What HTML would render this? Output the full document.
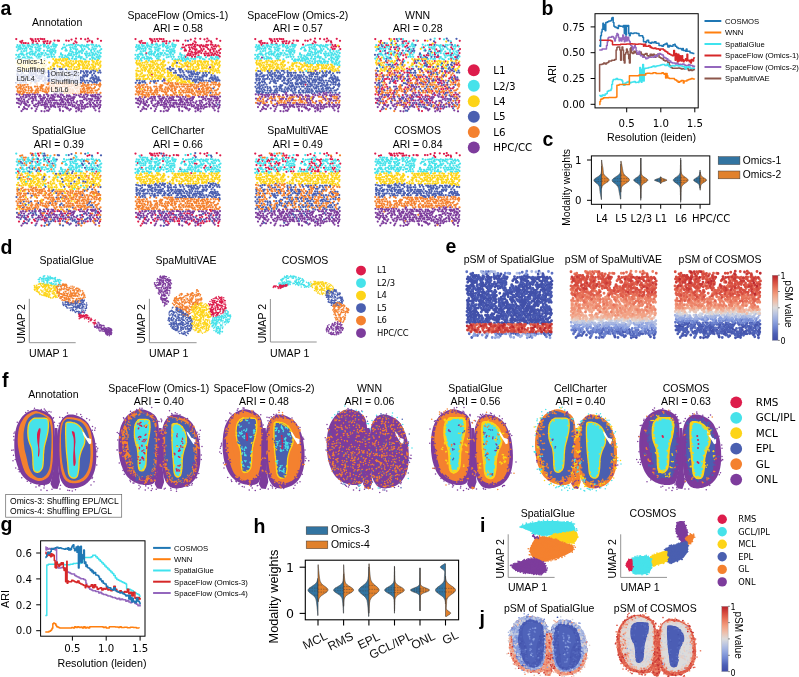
<!DOCTYPE html>
<html><head><meta charset="utf-8"><title>Figure</title>
<style>
html,body{margin:0;padding:0;background:#fff;}
body{width:799px;height:677px;overflow:hidden;}
svg{display:block;}
.L{font-family:'Liberation Sans',Arial,sans-serif;}
.D{font-family:'DejaVu Sans',sans-serif;}
</style></head><body>
<svg width="799" height="677" viewBox="0 0 799 677">
<text x="0.5" y="14.3" class="L" font-size="19.5" font-weight="bold" dy="0.6">a</text>
<text x="57.2" y="25.7" class="L" font-size="10.5" text-anchor="middle">Annotation</text>
<path transform="scale(.25)" d="M65 156h0m58-1h0m7 2h0m12-1h0m10 0h0m10-1h0m7 1h0m8 0h0m109 2h0m18-4h0m20 1h0m17 2h0m11-3h0m39 1h0m-310 11h0m8-3h0m39-1h0m6 2h0m10 1h0m12-1h0m18 2h0m7-1h0m9-1h0m12 2h0m16-4h0m13 0h0m5 1h0m29-1h0m10 1h0m26 2h0m49 1h0m8-4h0m10 3h0m36-2h0m-318 8h0m9 1h0m8 0h0m10 1h0m18-1h0m18 2h0m27-1h0m12 0h0m10 0h0m97 1h0m11-4h0m63 0h0" stroke="#DD1C4B" stroke-width="9.0" stroke-linecap="round" fill="none"/>
<path transform="scale(.25)" d="M214 173h0m-144 7h0m10 1h0m10-2h0m8 3h0m12-2h0m7 1h0m12-3h0m6 1h0m10-1h0m7 1h0m11 2h0m11-3h0m6 2h0m13 2h0m19-3h0m8 0h0m7 1h0m29-2h0m11 4h0m9-2h0m8-1h0m7 0h0m12 0h0m9 1h0m8 2h0m8-2h0m9 2h0m11-3h0m7 1h0m11-2h0m7 1h0m12 1h0m11 2h0m-329 6h0m9-1h0m7 2h0m11-3h0m10 3h0m9-2h0m10-1h0m6 2h0m12 1h0m9 0h0m7-3h0m19 0h0m10 1h0m10 3h0m9-4h0m10 0h0m8 1h0m29 3h0m8-1h0m21 0h0m9 0h0m9-3h0m5 1h0m21 1h0m10-2h0m9 0h0m7 3h0m19 0h0m9-3h0m9 0h0m12 0h0m-326 9h0m6 1h0m9-1h0m9 0h0m8 0h0m14 0h0m6 2h0m19 0h0m11-1h0m6-2h0m29 0h0m11 3h0m8 0h0m8-2h0m30 0h0m16 2h0m19 0h0m11-3h0m8 2h0m7 1h0m19-1h0m10 0h0m18 0h0m10 2h0m9-2h0m8-1h0m22 1h0m-335 6h0m16 3h0m10-1h0m9-1h0m17 3h0m8-1h0m13 1h0m9-4h0m6 1h0m18-1h0m13 1h0m8 1h0m9 1h0m8-1h0m8-1h0m40-1h0m5 0h0m14 2h0m8 2h0m16-2h0m11 1h0m8-1h0m8-1h0m14 3h0m18-3h0m14 1h0m12 1h0m9-3h0m-317 12h0m8-1h0m18 0h0m9-1h0m12 1h0m8 1h0m6-4h0m12 4h0m10-3h0m6 1h0m11 0h0m20-1h0m6 0h0m13-1h0m23 3h0m32 0h0m9 1h0m8-4h0m10 1h0m7 1h0m8-2h0m10 2h0m12 2h0m9 0h0m9-1h0m9-3h0m6 3h0m10 0h0m11-3h0m9 2h0m-338 7h0m10 0h0m12-1h0m8 2h0m11-2h0m15 0h0m9 0h0m9 2h0m12-1h0m7-1h0m9 0h0m11 3h0m10-3h0m6 0h0m11 1h0m10-1h0m29 0h0m6 2h0m11 2h0m11-2h0m8 1h0m6-1h0m10-1h0m9-1h0m12 3h0m27 0h0m10 1h0m6-1h0m9-1h0m9 0h0m11-1h0m9 2h0m-326 6h0m7 0h0m13 3h0m7-1h0m11-3h0m7 3h0m9 1h0m20-4h0m10 1h0m6-1h0m28 3h0m8-2h0m10 0h0m10 0h0m20 0h0m10 1h0m9 2h0m9-3h0m7 3h0m18-3h0m13 0h0m9 1h0m6-1h0m8 1h0m20 1h0m21-1h0m6 2h0m12-2h0m7 0h0m9-2h0m-337 8h0m10 1h0m11 1h0m16-1h0m9 0h0m9-1h0m10 1h0m21-1h0m7 2h0m20 1h0m99-1h0m11-2h0m10 2h0m7-1h0m18-1h0m11 1h0m7 3h0m19-2h0m10-1h0m10 1h0m10 1h0m7-3h0" stroke="#46E2EA" stroke-width="9.0" stroke-linecap="round" fill="none"/>
<path transform="scale(.25)" d="M213 236h0m11 1h0m9 1h0m8-2h0m11 0h0m9 0h0m8 0h0m-198 7h0m11 0h0m7-1h0m20 2h0m9-2h0m8 4h0m8-2h0m11 0h0m9-2h0m10-1h0m11 4h0m7-1h0m38-1h0m6 1h0m11-2h0m10 1h0m8 0h0m10 0h0m9 3h0m9-3h0m10 2h0m11-1h0m9 1h0m8-2h0m7 2h0m11 1h0m8-1h0m9 1h0m13-4h0m6 4h0m12-2h0m5-3h0m10 5h0m-333 5h0m9 2h0m7 0h0m9-2h0m8-1h0m11 0h0m20 0h0m6 1h0m11 2h0m19-1h0m8-2h0m20 0h0m17 3h0m9-1h0m8-1h0m11 1h0m20 1h0m5-1h0m11 0h0m8 1h0m11 1h0m7-3h0m12 2h0m10-3h0m7 3h0m10-2h0m11 2h0m19-3h0m9 3h0m8-1h0m9 0h0m-327 6h0m9 2h0m9 0h0m9 1h0m11-3h0m9 1h0m6-1h0m10 2h0m10-2h0m11 1h0m10-1h0m8 1h0m10 1h0m27 1h0m6-4h0m12 5h0m19-5h0m6 3h0m11 1h0m8-2h0m13 0h0m6 1h0m20-1h0m8 0h0m9 1h0m9 0h0m10 1h0m9-2h0m11-1h0m5 3h0m10-3h0m10 1h0m9 2h0m-317 6h0m11 2h0m8 0h0m8-2h0m11-1h0m8 0h0m9 3h0m11-3h0m7 3h0m12-1h0m9-2h0m24 2h0m12-3h0m16 1h0m9 1h0m11 2h0m7-3h0m14-1h0m6 2h0m8 0h0m12 1h0m9 0h0m9-3h0m17 2h0m9 2h0m9-3h0m12 3h0m9-1h0m8-1h0m21 0h0m-328 6h0m16 3h0m12 0h0m8 0h0m11 1h0m5-3h0m10 0h0m12 3h0m6-3h0m10 2h0m11-1h0m9 2h0m10-3h0m9 3h0m10-2h0m63 2h0m9 0h0m11-1h0m9 2h0m8-1h0m6-4h0m13 1h0m7 0h0m10-1h0m10 2h0m9 2h0m9-2h0m9 2h0m10-3h0m-301 8h0m295 0h0" stroke="#FDD418" stroke-width="9.0" stroke-linecap="round" fill="none"/>
<path transform="scale(.25)" d="M217 275h0m22 1h0m8 0h0m17 1h0m-196 5h0m9 2h0m8 1h0m18-2h0m12 1h0m6-1h0m9 1h0m13-2h0m7 0h0m8 3h0m13-2h0m7 0h0m16 1h0m12-2h0m19 1h0m17-1h0m11 1h0m16 1h0m9 1h0m10 0h0m10 0h0m8-2h0m18 1h0m9 1h0m11-1h0m7 1h0m13 0h0m9-3h0m8 3h0m18-3h0m-329 11h0m21-1h0m27-1h0m7 0h0m10 2h0m9-2h0m11-1h0m9 2h0m18-2h0m12 0h0m8 1h0m7 0h0m10 0h0m8 0h0m18-2h0m12 1h0m19 0h0m9 0h0m6 2h0m9 0h0m12-2h0m10 1h0m15 1h0m10-1h0m12 0h0m5-1h0m12 3h0m17-3h0m9 0h0m-333 9h0m6 1h0m10-3h0m12 4h0m6 0h0m10-1h0m10 0h0m8-2h0m11 1h0m8 2h0m10 1h0m8-2h0m8-2h0m20 0h0m11 1h0m7 2h0m11 0h0m10-1h0m6 1h0m8 0h0m11-2h0m21 2h0m8-3h0m8 0h0m11-1h0m7 1h0m18 3h0m9-1h0m9-1h0m18 1h0m12 2h0m-311 4h0m12 0h0m9 0h0m7 1h0m18 1h0m13-3h0m5 3h0m11-2h0m12 1h0m9 1h0m5-2h0m9 2h0m13-3h0m5 0h0m11 1h0m12 3h0m9-1h0m9 0h0m7 0h0m9-1h0m12-1h0m6 3h0m10-3h0m9 0h0m12 1h0m9 0h0m9 2h0m8 0h0m8-3h0m10-1h0m19 4h0m7 0h0m11-1h0m9 1h0m-325 7h0m8-2h0m7 2h0m12 0h0m8 0h0m8-1h0m10 1h0m10 0h0m10 1h0m10-4h0m8 2h0m6 0h0m13 2h0m6-3h0m12 3h0m6-3h0m12 2h0m10-2h0m8 3h0m8-2h0m8 2h0m11-2h0m10 2h0m11-2h0m8 0h0m10 2h0m8 0h0m9-1h0m7 0h0m10 0h0m29-2h0m10 2h0m8-1h0m8 1h0m8 1h0m-325 5h0m10 0h0m11 3h0m9-1h0m26 1h0m10-1h0m9 0h0m9-1h0m18 1h0m8-2h0m12 0h0m6 3h0m9-3h0m22 2h0m5-2h0m14 1h0m6 2h0m8 0h0m12-1h0m6 0h0m13-1h0m6-1h0m9 1h0m13-2h0m7 2h0m9 0h0m10-1h0m10 1h0m7 2h0m11-3h0m11 2h0m6-2h0m8 0h0m-335 9h0m13 1h0m5-1h0m10-2h0m10 2h0m37-1h0m39 2h0m100-2h0m15 0h0m10-1h0m12 1h0m7 1h0m17-1h0m12 1h0m18-1h0m9-1h0m7 2h0" stroke="#4A5FB0" stroke-width="9.0" stroke-linecap="round" fill="none"/>
<path transform="scale(.25)" d="M123 332h0m25 1h0m38 0h0m11-2h0m9 1h0m7 0h0m13 0h0m8 1h0m9-2h0m8 1h0m10-3h0m6 1h0m20 3h0m45 0h0m68 0h0m-327 6h0m9 1h0m9 1h0m8-2h0m11-1h0m56 2h0m7 1h0m19-4h0m10 4h0m10-1h0m5 1h0m11-3h0m8 0h0m12-1h0m10 0h0m8 1h0m8 0h0m11 0h0m7 2h0m10-2h0m8 3h0m8-4h0m13 4h0m8-2h0m11 0h0m5 0h0m11 0h0m11-2h0m9 2h0m9 0h0m7 0h0m-336 8h0m11 2h0m7-2h0m11 2h0m10-1h0m9-1h0m10 2h0m16-3h0m9 0h0m12 1h0m7 0h0m18 2h0m11 0h0m10-2h0m5-1h0m10 2h0m9 0h0m10-1h0m11-1h0m7 0h0m13 1h0m6-1h0m8 0h0m12 1h0m10 2h0m8-2h0m10-2h0m9 4h0m10-4h0m8 4h0m8 0h0m19-1h0m19-2h0m-328 9h0m11 0h0m8 1h0m10 1h0m15-3h0m11 0h0m20 3h0m7-3h0m11-1h0m7 3h0m11 1h0m10-1h0m8-1h0m11 1h0m10-2h0m5 2h0m20 0h0m19-2h0m9 2h0m8 0h0m9 1h0m11-3h0m7 0h0m10 2h0m11 0h0m8 0h0m10-2h0m8 1h0m11-1h0m9-1h0m19 3h0m-325 8h0m8 1h0m6 0h0m9-1h0m10-3h0m11 1h0m10 1h0m6-2h0m12 3h0m9-1h0m10-2h0m9 3h0m6 1h0m9-1h0m10 0h0m12-3h0m7 4h0m9-3h0m17 1h0m13 0h0m5-1h0m12 1h0m9 1h0m10-1h0m6 1h0m13 0h0m7 1h0m8-1h0m11 0h0m7 1h0m9-3h0m12 1h0m7-1h0m13 0h0m7-1h0m-316 9h0m7 2h0m12 0h0m6-3h0m10 2h0m9 1h0m9-3h0m11 3h0m7-2h0m9-1h0m29 0h0m7 2h0m68-1h0m9 0h0m9-1h0m7 0h0m9 3h0m11 0h0m11-2h0m8 3h0m7-4h0m10 2h0m11 0h0m7-1h0m9 1h0m9-1h0m12 1h0m16 0h0m-314 6h0" stroke="#F4812F" stroke-width="9.0" stroke-linecap="round" fill="none"/>
<path transform="scale(.25)" d="M218 372h0m9-2h0m12 0h0m7 1h0m-179 6h0m11 2h0m17 0h0m9 1h0m8-1h0m9 0h0m10-2h0m9 2h0m10-2h0m10 3h0m16 0h0m11-3h0m7 4h0m12-1h0m7 1h0m9-3h0m10 3h0m11-2h0m8 1h0m17 1h0m9 0h0m19-3h0m9 2h0m10 1h0m9-3h0m11 3h0m8-4h0m8 3h0m12 1h0m8-1h0m10-1h0m10-1h0m6 0h0m-314 10h0m9-1h0m10 2h0m5-2h0m10-1h0m12 1h0m9 0h0m5 0h0m13-1h0m7-1h0m10 4h0m7 0h0m12-3h0m11 3h0m9-2h0m7 1h0m11-2h0m7 1h0m7 2h0m12-2h0m10 1h0m9-2h0m7 0h0m11 2h0m6 0h0m21-1h0m9 1h0m8 0h0m11-2h0m20 0h0m8 0h0m8 0h0m8 2h0m11-2h0m-335 8h0m8 1h0m10 0h0m10 2h0m19 0h0m8-4h0m9 2h0m10-1h0m20 0h0m6 2h0m8-1h0m12 1h0m10-1h0m9-1h0m8 2h0m29 0h0m7 0h0m9 0h0m12 0h0m8 0h0m7-3h0m8 2h0m41 2h0m7-3h0m11 1h0m7 1h0m8 0h0m13-3h0m9 0h0m6 1h0m-323 7h0m7 2h0m8 2h0m9 0h0m11-1h0m19 1h0m6-4h0m11 0h0m10 4h0m9-3h0m7 1h0m12 1h0m10-1h0m9 0h0m9-2h0m8 0h0m8 1h0m11-1h0m10 2h0m6 2h0m12-3h0m6 1h0m13 0h0m7-2h0m17 4h0m12-2h0m7 0h0m19-2h0m11 4h0m8-3h0m12 1h0m9-1h0m5-1h0m10 2h0m-334 8h0m7 2h0m11-2h0m10 1h0m7 1h0m9-4h0m18 3h0m22 1h0m8-1h0m9-2h0m10 1h0m8 2h0m9-3h0m9 1h0m11 1h0m7-1h0m8 1h0m12-2h0m9-1h0m10 3h0m10-2h0m5 1h0m9 1h0m10-3h0m9 3h0m18 0h0m9-2h0m19 3h0m10-2h0m11 0h0m16 0h0m12-1h0m-318 8h0m19 1h0m6 1h0m11 0h0m18 1h0m8-4h0m10 3h0m11 0h0m7-1h0m8-1h0m9 1h0m13 0h0m8 2h0m8-2h0m12-1h0m8-1h0m8 1h0m9 0h0m8 1h0m11 1h0m7 0h0m9-1h0m9 2h0m12-2h0m7 1h0m10-1h0m12 1h0m7-3h0m12 1h0m5 1h0m13-2h0m5 3h0m12-2h0m8 2h0m-326 8h0m20 0h0m18-2h0m26-1h0m9 2h0m30-2h0m7 1h0m8 2h0m10-1h0m10-2h0m7 3h0m12-1h0m7-1h0m11 0h0m10 2h0m7 1h0m22-4h0m8 1h0m9 3h0m8-1h0m11-2h0m8 0h0m9 2h0m8-1h0m11-1h0m10 0h0m9-1h0m8 0h0m11 3h0m-308 9h0m8-3h0m8 2h0m19-3h0m19 3h0m35-3h0m17 3h0m41 0h0m28-3h0m5 1h0m11 2h0m21-3h0m9 3h0m5 0h0m10-2h0m9 0h0m40-1h0m19 1h0m-310 10h0m56 0h0m24 0h0m12 1h0m10-3h0m6 1h0m46-1h0m12 2h0m26-3h0m27 4h0m10-4h0m10 4h0m57-4h0m15 4h0" stroke="#7D3C9C" stroke-width="9.0" stroke-linecap="round" fill="none"/>
<rect x="15.6" y="58.5" width="31.8" height="25.5" fill="#fff" fill-opacity="0.8"/>
<rect x="49.5" y="70.0" width="30.5" height="23.5" fill="#fff" fill-opacity="0.8"/>
<text x="16.8" y="63.8" class="L" font-size="7.2" fill="#222">Omics-1:</text>
<text x="16.8" y="72.3" class="L" font-size="7.2" fill="#222">Shuffling</text>
<text x="16.8" y="80.8" class="L" font-size="7.2" fill="#222">L5/L4</text>
<text x="50.5" y="75.5" class="L" font-size="7.2" fill="#222">Omics-2:</text>
<text x="50.5" y="83.9" class="L" font-size="7.2" fill="#222">Shuffling</text>
<text x="50.5" y="92.3" class="L" font-size="7.2" fill="#222">L5/L6</text>
<text x="177.9" y="19.0" class="L" font-size="10.5" text-anchor="middle">SpaceFlow (Omics-1)</text>
<text x="177.9" y="32.3" class="L" font-size="10.5" text-anchor="middle">ARI = 0.58</text>
<path transform="scale(.25)" d="M542 156h0m58-1h0m7 2h0m11-1h0m10 0h0m10-1h0m7 1h0m9 0h0m109 2h0m18-4h0m20 1h0m17 2h0m11-3h0m38 1h0m-309 11h0m8-3h0m39-1h0m6 2h0m10 1h0m12-1h0m18 2h0m6-1h0m9-1h0m13 2h0m16-4h0m12 0h0m6 1h0m29-1h0m36 3h0m49 1h0m8-4h0m9 3h0m37-2h0m-319 8h0m10 1h0m8 0h0m28 0h0m57 1h0m107 1h0m11-4h0m63 0h0m-114 8h0m12 4h0m9-2h0m8-1h0m7 0h0m12 0h0m9 1h0m8 2h0m8-2h0m9 2h0m11-3h0m7 1h0m11-2h0m7 1h0m12 1h0m11 2h0m-144 8h0m8-1h0m20 0h0m10 0h0m9-3h0m5 1h0m20 1h0m11-2h0m9 0h0m7 3h0m19 0h0m9-3h0m9 0h0m-124 11h0m19 0h0m11-3h0m8 2h0m7 1h0m19-1h0m10 0h0m18 0h0m9 2h0m10-2h0m8-1h0m22 1h0m-143 6h0m5 0h0m13 2h0m9 2h0m16-2h0m11 1h0m7-1h0m9-1h0m13 3h0m18-3h0m15 1h0m11 1h0m10-3h0m-291 11h0m168 0h0m9 1h0m8-4h0m10 1h0m7 1h0m8-2h0m10 2h0m12 2h0m9 0h0m8-1h0m9-3h0m7 3h0m10 0h0m10-3h0m10 2h0m-131 8h0m8 1h0m6-1h0m10-1h0m9-1h0m12 3h0m26 0h0m11 1h0m6-1h0m9-1h0m9 0h0m11-1h0m8 2h0m-132 6h0m26 0h0m12 0h0m99-1h0m-271 72h0" stroke="#DD1C4B" stroke-width="9.0" stroke-linecap="round" fill="none"/>
<path transform="scale(.25)" d="M589 173h0m37 1h0m27-1h0m22 0h0m15 0h0m-143 7h0m9 1h0m11-2h0m8 3h0m12-2h0m7 1h0m12-3h0m5 1h0m11-1h0m7 1h0m11 2h0m10-3h0m7 2h0m13 2h0m19-3h0m8 0h0m6 1h0m-159 8h0m9-1h0m7 2h0m10-3h0m11 3h0m9-2h0m10-1h0m6 2h0m12 1h0m8 0h0m8-3h0m18 0h0m11 1h0m10 3h0m8-4h0m11 0h0m8 1h0m-149 8h0m6 1h0m9-1h0m8 0h0m9 0h0m14 0h0m6 2h0m19 0h0m11-1h0m6-2h0m29 0h0m11 3h0m8 0h0m8-2h0m30 0h0m-179 7h0m17 3h0m10-1h0m8-1h0m18 3h0m8-1h0m13 1h0m9-4h0m5 1h0m19-1h0m13 1h0m7 1h0m10 1h0m8-1h0m7-1h0m-139 11h0m8-1h0m27-1h0m11 1h0m9 1h0m6-4h0m12 4h0m9-3h0m7 1h0m11 0h0m20-1h0m6 0h0m13-1h0m23 3h0m-179 6h0m10 0h0m11-1h0m8 2h0m12-2h0m15 0h0m8 0h0m10 2h0m12-1h0m6-1h0m10 0h0m10 3h0m11-3h0m6 0h0m11 1h0m10-1h0m29 0h0m6 2h0m11 2h0m-189 5h0m7 0h0m13 3h0m7-1h0m11-3h0m7 3h0m9 1h0m20-4h0m10 1h0m6-1h0m28 3h0m8-2h0m10 0h0m10 0h0m20 0h0m10 1h0m9 2h0m16 0h0m39-2h0m7-1h0m8 1h0m20 1h0m20-1h0m6 2h0m13-2h0m7 0h0m-328 6h0m10 1h0m11 1h0m16-1h0m9 0h0m9-1h0m10 1h0m21-1h0m7 2h0m20 1h0m35-1h0m11 1h0m9 1h0m8-2h0m10 0h0m10 0h0m8 0h0m8 0h0m11-2h0m9 2h0m7-1h0m19-1h0m11 1h0m7 3h0m19-2h0m10-1h0m10 1h0m9 1h0m8-3h0m-308 8h0m29 0h0m137 1h0m10 0h0m18 0h0" stroke="#46E2EA" stroke-width="9.0" stroke-linecap="round" fill="none"/>
<path transform="scale(.25)" d="M547 243h0m11 0h0m27 1h0m18 2h0m8-2h0m11 0h0m9-2h0m10-1h0m11 4h0m6-1h0m39-1h0m6 1h0m11-2h0m10 1h0m26 3h0m20-1h0m10-1h0m10 1h0m8-2h0m7 2h0m11 1h0m8-1h0m8 1h0m13-4h0m6 4h0m13-2h0m5-3h0m10 5h0m-334 5h0m9 2h0m7 0h0m9-2h0m9-1h0m11 0h0m20 0h0m6 1h0m11 2h0m19-1h0m8-2h0m20 0h0m17 3h0m9-1h0m18 0h0m21 1h0m5-1h0m11 0h0m8 1h0m11 1h0m7-3h0m11 2h0m11-3h0m7 3h0m10-2h0m11 2h0m19-3h0m9 3h0m8-1h0m9 0h0m-327 6h0m9 2h0m9 0h0m9 1h0m10-3h0m10 1h0m6-1h0m10 2h0m9-2h0m12 1h0m9-1h0m9 1h0m10 1h0m27 1h0m6-4h0m12 5h0m19-5h0m5 3h0m12 1h0m8-2h0m13 0h0m6 1h0m20-1h0m8 0h0m9 1h0m9 0h0m10 1h0m9-2h0m11-1h0m5 3h0m10-3h0m10 1h0m9 2h0m-317 6h0m11 2h0m8 0h0m8-2h0m11-1h0m7 0h0m9 3h0m12-3h0m7 3h0m12-1h0m8-2h0m37-1h0m15 1h0m10 1h0m10 2h0m8-3h0m19 1h0m8 0h0m12 1h0m10 0h0m9-3h0m16 2h0m10 2h0m9-3h0m21 2h0m7-1h0m21 0h0m-327 6h0m16 3h0m12 0h0m7 0h0m12 1h0m5-3h0m10 0h0m11 3h0m7-3h0m10 2h0m11-1h0m9 2h0m81 0h0m11 0h0m9 0h0m11-1h0m8 2h0m9-1h0m6-4h0m13 1h0m6 0h0m11-1h0m10 2h0m9 2h0m9-2h0m9 2h0m10-3h0m-327 8h0m8 2h0m8 1h0m9-3h0m10 1h0m12 1h0m5-1h0m9 1h0m13-2h0m8 0h0m8 3h0m12-2h0m8 0h0m16 1h0m112-1h0m18 1h0m9 1h0m11-1h0m7 1h0m12 0h0m10-3h0m8 3h0m8-3h0m9 0h0m-329 11h0m22-1h0m27-1h0m7 0h0m9 2h0m10-2h0m11-1h0m9 2h0m18-2h0m12 0h0m7 1h0m7 0h0m156-1h0m11 3h0m17-3h0m9 0h0m-332 9h0m5 1h0m11-3h0m12 4h0m6 0h0m10-1h0m10 0h0m19-1h0m8 2h0m10 1h0m8-2h0m7-2h0m21 0h0m11 1h0m7 2h0m11 0h0m-156 5h0m13 0h0m9 0h0m7 1h0m18 1h0m13-3h0m5 3h0m10-2h0m13 1h0m9 1h0m5-2h0m9 2h0m13-3h0m5 0h0m11 1h0m12 3h0m9-1h0m9 0h0m-170 8h0m8-2h0m7 2h0m12 0h0m8 0h0m7-1h0m10 1h0m10 0h0m11 1h0m10-4h0m8 2h0m6 0h0m19-1h0m12 3h0m6-3h0m12 2h0m10-2h0m8 3h0m8-2h0m8 2h0m-56 5h0m6 3h0m9-3h0m22 2h0m5-2h0m13 1h0m7 2h0m8 0h0m12-1h0m6 0h0m-38 7h0m8 1h0m10-3h0m6 1h0m13 0h0m7 3h0m8-3h0m-205 26h0m149 14h0" stroke="#FDD418" stroke-width="9.0" stroke-linecap="round" fill="none"/>
<path transform="scale(.25)" d="M752 163h0m-44 88h0m-28 17h0m-10 6h0m8 3h0m11-2h0m5 0h0m22 1h0m8 0h0m-41 6h0m19 1h0m17-1h0m11 1h0m16 1h0m9 1h0m10 0h0m10 0h0m-79 6h0m8 0h0m18-2h0m12 1h0m19 0h0m9 0h0m6 2h0m9 0h0m12-2h0m9 1h0m15 1h0m10-1h0m13 0h0m-124 9h0m6 1h0m8 0h0m11-2h0m20 2h0m9-3h0m8 0h0m10-1h0m8 1h0m18 3h0m8-1h0m10-1h0m18 1h0m12 2h0m-136 6h0m10-1h0m11-1h0m6 3h0m11-3h0m9 0h0m12 1h0m9 0h0m9 2h0m8 0h0m7-3h0m11-1h0m19 4h0m7 0h0m10-1h0m9 1h0m-214 8h0m81-2h0m10 2h0m10-2h0m8 0h0m11 2h0m8 0h0m8-1h0m8 0h0m10 0h0m29-2h0m9 2h0m9-1h0m7 1h0m9 1h0m-325 5h0m10 0h0m11 3h0m9-1h0m25 1h0m11-1h0m8 0h0m10-1h0m18 1h0m121-1h0m6-1h0m9 1h0m13-2h0m7 2h0m9 0h0m10-1h0m10 1h0m7 2h0m11-3h0m11 2h0m6-2h0m8 0h0m-335 9h0m13 1h0m5-1h0m10-2h0m10 2h0m36-1h0m165-1h0m12 1h0m59 23h0m-11 18h0m29 47h0" stroke="#4A5FB0" stroke-width="9.0" stroke-linecap="round" fill="none"/>
<path transform="scale(.25)" d="M877 186h0m-128 79h0m-149 67h0m25 1h0m32-1h0m6 1h0m11-2h0m9 1h0m7 0h0m12 0h0m9 1h0m90-2h0m8 2h0m9-3h0m12 1h0m18-1h0m9-1h0m7 2h0m13 2h0m-327 6h0m8 1h0m10 1h0m7-2h0m12-1h0m55 2h0m7 1h0m20-4h0m10 4h0m9-1h0m6 1h0m11-3h0m8 0h0m12-1h0m10 0h0m8 1h0m8 0h0m11 0h0m7 2h0m9-2h0m9 3h0m8-4h0m13 4h0m8-2h0m11 0h0m4 0h0m12 0h0m11-2h0m9 2h0m9 0h0m7 0h0m-336 8h0m11 2h0m7-2h0m11 2h0m10-1h0m9-1h0m10 2h0m16-3h0m8 0h0m13 1h0m7 0h0m18 2h0m10 0h0m11-2h0m5-1h0m10 2h0m9 0h0m10-1h0m11-1h0m7 0h0m13 1h0m6-1h0m8 0h0m12 1h0m10 2h0m8-2h0m10-2h0m9 4h0m9-4h0m9 4h0m8 0h0m19-1h0m19-2h0m-328 9h0m11 0h0m18 2h0m15-3h0m11 0h0m20 3h0m6-3h0m12-1h0m7 3h0m11 1h0m10-1h0m8-1h0m11 1h0m10-2h0m5 2h0m20 0h0m19-2h0m9 2h0m8 0h0m9 1h0m11-3h0m7 0h0m21 2h0m8 0h0m10-2h0m7 1h0m12-1h0m28 2h0m-326 8h0m9 1h0m6 0h0m9-1h0m10-3h0m10 1h0m11 1h0m6-2h0m12 3h0m9-1h0m10-2h0m9 3h0m5 1h0m10-1h0m10 0h0m12-3h0m6 4h0m10-3h0m17 1h0m12 0h0m6-1h0m11 1h0m10 1h0m10-1h0m6 1h0m13 0h0m7 1h0m8-1h0m11 0h0m7 1h0m9-3h0m11 1h0m8-1h0m13 0h0m7-1h0m-316 9h0m7 2h0m12 0h0m6-3h0m10 2h0m9 1h0m9-3h0m10 3h0m8-2h0m9-1h0m29 0h0m7 2h0m29 1h0m9-2h0m19 1h0m11-1h0m9 0h0m9-1h0m7 0h0m8 3h0m11 0h0m12-2h0m8 3h0m7-4h0m10 2h0m11 0h0m7-1h0m18 0h0m12 1h0m16 0h0m-336 6h0m11 2h0m11-2h0m7 2h0m8 1h0m9-1h0m8 0h0m11-2h0m8 2h0m11-2h0m10 3h0m16 0h0m11-3h0m7 4h0m12-1h0m6 1h0m10-3h0m9 3h0m11-2h0m9 1h0m17 1h0m9 0h0m18-3h0m9 2h0m11 1h0m9-3h0m11 3h0m8-4h0m8 3h0m12 1h0m8-1h0m10-1h0m9-1h0m7 0h0m-305 9h0m15 0h0m10-1h0m158 0h0m7 0h0" stroke="#F4812F" stroke-width="9.0" stroke-linecap="round" fill="none"/>
<path transform="scale(.25)" d="M840 269h0m-182 53h0m138 34h0m-237 32h0m20 1h0m27-2h0m9 0h0m5 0h0m13-1h0m7-1h0m10 4h0m7 0h0m12-3h0m10 3h0m10-2h0m6 1h0m12-2h0m6 1h0m8 2h0m11-2h0m10 1h0m28 0h0m6 0h0m20-1h0m10 1h0m7 0h0m12-2h0m19 0h0m8 0h0m8 0h0m9 2h0m11-2h0m-336 8h0m9 1h0m10 0h0m10 2h0m19 0h0m8-4h0m9 2h0m10-1h0m19 0h0m7 2h0m8-1h0m11 1h0m11-1h0m9-1h0m8 2h0m29 0h0m6 0h0m10 0h0m12 0h0m8 0h0m6-3h0m9 2h0m40 2h0m8-3h0m11 1h0m6 1h0m9 0h0m13-3h0m8 0h0m6 1h0m-322 7h0m7 2h0m7 2h0m10 0h0m11-1h0m19 1h0m6-4h0m11 0h0m10 4h0m9-3h0m7 1h0m12 1h0m9-1h0m10 0h0m8-2h0m9 0h0m8 1h0m11-1h0m9 2h0m7 2h0m12-3h0m6 1h0m13 0h0m6-2h0m18 4h0m12-2h0m7 0h0m18-2h0m12 4h0m8-3h0m11 1h0m10-1h0m5-1h0m10 2h0m-334 8h0m7 2h0m11-2h0m10 1h0m7 1h0m8-4h0m19 3h0m22 1h0m7-1h0m10-2h0m10 1h0m8 2h0m9-3h0m9 1h0m11 1h0m7-1h0m7 1h0m13-2h0m9-1h0m10 3h0m9-2h0m6 1h0m9 1h0m10-3h0m9 3h0m18 0h0m9-2h0m18 3h0m11-2h0m11 0h0m16 0h0m12-1h0m-318 8h0m19 1h0m6 1h0m11 0h0m17 1h0m9-4h0m10 3h0m11 0h0m6-1h0m9-1h0m9 1h0m13 0h0m8 2h0m8-2h0m11-1h0m9-1h0m8 1h0m9 0h0m8 1h0m10 1h0m8 0h0m9-1h0m9 2h0m12-2h0m7 1h0m10-1h0m11 1h0m8-3h0m12 1h0m5 1h0m13-2h0m5 3h0m20 0h0m-326 8h0m20 0h0m18-2h0m26-1h0m9 2h0m29-2h0m8 1h0m8 2h0m10-1h0m10-2h0m7 3h0m12-1h0m7-1h0m11 0h0m10 2h0m7 1h0m22-4h0m8 1h0m9 3h0m8-1h0m10-2h0m8 0h0m10 2h0m7-1h0m11-1h0m11 0h0m9-1h0m8 0h0m11 3h0m-308 9h0m8-3h0m8 2h0m19-3h0m19 3h0m35-3h0m17 3h0m41 0h0m28-3h0m5 1h0m10 2h0m22-3h0m9 3h0m5 0h0m9-2h0m10 0h0m40-1h0m19 1h0m-310 10h0m56 0h0m24 0h0m12 1h0m10-3h0m6 1h0m46-1h0m12 2h0m26-3h0m27 4h0m10-4h0m10 4h0m57-4h0m14 4h0" stroke="#7D3C9C" stroke-width="9.0" stroke-linecap="round" fill="none"/>
<text x="297.8" y="19.0" class="L" font-size="10.5" text-anchor="middle">SpaceFlow (Omics-2)</text>
<text x="297.8" y="32.3" class="L" font-size="10.5" text-anchor="middle">ARI = 0.57</text>
<path transform="scale(.25)" d="M1021 156h0m58-1h0m7 2h0m12-1h0m10 0h0m10-1h0m7 1h0m8 0h0m109 2h0m18-4h0m20 1h0m17 2h0m11-3h0m39 1h0m-310 11h0m8-3h0m39-1h0m6 2h0m10 1h0m12-1h0m18 2h0m7-1h0m9-1h0m12 2h0m16-4h0m13 0h0m5 1h0m29-1h0m10 1h0m26 2h0m49 1h0m8-4h0m10 3h0m36-2h0m-318 8h0m9 1h0m8 0h0m10 1h0m18-1h0m18 2h0m27-1h0m12 0h0m10 0h0m16 0h0m81 1h0m11-4h0m63 0h0m-279 9h0m166-1h0m117 1h0m12 1h0m-15 9h0m9-3h0m9 0h0m12 0h0m-25 10h0m8-1h0m22 1h0m-139 142h0" stroke="#DD1C4B" stroke-width="9.0" stroke-linecap="round" fill="none"/>
<path transform="scale(.25)" d="M1026 180h0m10 1h0m18 1h0m12-2h0m7 1h0m12-3h0m6 1h0m10-1h0m7 1h0m11 2h0m11-3h0m6 2h0m13 2h0m19-3h0m8 0h0m7 1h0m40 2h0m9-2h0m8-1h0m7 0h0m12 0h0m9 1h0m8 2h0m8-2h0m9 2h0m11-3h0m7 1h0m11-2h0m-299 10h0m9-1h0m7 2h0m11-3h0m10 3h0m9-2h0m10-1h0m6 2h0m12 1h0m9 0h0m7-3h0m19 0h0m10 1h0m10 3h0m9-4h0m10 0h0m8 1h0m29 3h0m8-1h0m21 0h0m9 0h0m9-3h0m5 1h0m21 1h0m10-2h0m9 0h0m7 3h0m-277 6h0m6 1h0m9-1h0m9 0h0m8 0h0m14 0h0m6 2h0m19 0h0m11-1h0m6-2h0m29 0h0m11 3h0m8 0h0m8-2h0m30 0h0m16 2h0m19 0h0m11-3h0m8 2h0m7 1h0m19-1h0m10 0h0m18 0h0m10 2h0m-296 4h0m16 3h0m10-1h0m9-1h0m17 3h0m8-1h0m13 1h0m9-4h0m6 1h0m18-1h0m13 1h0m8 1h0m9 1h0m8-1h0m8-1h0m40-1h0m5 0h0m14 2h0m8 2h0m16-2h0m11 1h0m8-1h0m8-1h0m14 3h0m18-3h0m14 1h0m12 1h0m9-3h0m-317 12h0m8-1h0m18 0h0m9-1h0m12 1h0m8 1h0m6-4h0m12 4h0m10-3h0m6 1h0m11 0h0m20-1h0m6 0h0m13-1h0m23 3h0m32 0h0m9 1h0m8-4h0m10 1h0m7 1h0m8-2h0m10 2h0m12 2h0m9 0h0m9-1h0m9-3h0m6 3h0m10 0h0m11-3h0m9 2h0m-338 7h0m10 0h0m12-1h0m8 2h0m11-2h0m15 0h0m9 0h0m9 2h0m12-1h0m7-1h0m9 0h0m11 3h0m10-3h0m6 0h0m11 1h0m10-1h0m29 0h0m6 2h0m11 2h0m11-2h0m8 1h0m6-1h0m10-1h0m9-1h0m12 3h0m27 0h0m10 1h0m6-1h0m9-1h0m9 0h0m11-1h0m9 2h0m-326 6h0m7 0h0m20 2h0m11-3h0m7 3h0m9 1h0m20-4h0m10 1h0m6-1h0m28 3h0m8-2h0m10 0h0m10 0h0m20 0h0m10 1h0m9 2h0m9-3h0m7 3h0m18-3h0m13 0h0m9 1h0m6-1h0m8 1h0m20 1h0m21-1h0m6 2h0m12-2h0m7 0h0m9-2h0m-337 8h0m10 1h0m11 1h0m16-1h0m9 0h0m9-1h0m10 1h0m21-1h0m7 2h0m20 1h0m35-1h0m11 1h0m9 1h0m8-2h0m11 0h0m9 0h0m8 0h0m8 0h0m11-2h0m10 2h0m7-1h0m18-1h0m11 1h0m7 3h0m19-2h0m10-1h0m10 1h0m10 1h0m7-3h0m-177 9h0m6 1h0m11-2h0m10 1h0m8 0h0m10 0h0m9 3h0m9-3h0m10 2h0m11-1h0m9 1h0m8-2h0m7 2h0m11 1h0m8-1h0m9 1h0m13-4h0m6 4h0m12-2h0m5-3h0m10 5h0m-135 6h0m11 0h0m8 1h0m11 1h0m7-3h0m12 2h0m10-3h0m7 3h0m10-2h0m11 2h0m19-3h0m9 3h0m8-1h0m9 0h0m-16 6h0m10 1h0m9 2h0m-133 23h0" stroke="#46E2EA" stroke-width="9.0" stroke-linecap="round" fill="none"/>
<path transform="scale(.25)" d="M1352 182h0m-325 61h0m11 0h0m7-1h0m20 2h0m9-2h0m8 4h0m8-2h0m11 0h0m9-2h0m10-1h0m11 4h0m7-1h0m-113 7h0m9 2h0m7 0h0m9-2h0m8-1h0m11 0h0m20 0h0m6 1h0m11 2h0m19-1h0m8-2h0m20 0h0m17 3h0m9-1h0m8-1h0m11 1h0m20 1h0m-190 5h0m9 2h0m9 0h0m9 1h0m11-3h0m9 1h0m6-1h0m10 2h0m10-2h0m11 1h0m10-1h0m8 1h0m10 1h0m27 1h0m6-4h0m12 5h0m19-5h0m6 3h0m11 1h0m8-2h0m13 0h0m6 1h0m20-1h0m8 0h0m9 1h0m9 0h0m10 1h0m9-2h0m11-1h0m5 3h0m-288 6h0m11 2h0m8 0h0m8-2h0m11-1h0m8 0h0m9 3h0m11-3h0m7 3h0m12-1h0m9-2h0m24 2h0m12-3h0m16 1h0m9 1h0m11 2h0m7-3h0m14-1h0m6 2h0m8 0h0m12 1h0m9 0h0m9-3h0m17 2h0m9 2h0m9-3h0m12 3h0m9-1h0m8-1h0m21 0h0m-328 6h0m16 3h0m12 0h0m8 0h0m11 1h0m5-3h0m10 0h0m12 3h0m6-3h0m10 2h0m11-1h0m9 2h0m10-3h0m9 3h0m10-2h0m5 0h0m22 1h0m8 0h0m17 1h0m11 0h0m9 0h0m11-1h0m9 2h0m8-1h0m6-4h0m13 1h0m7 0h0m10-1h0m10 2h0m9 2h0m9-2h0m9 2h0m10-3h0m-327 8h0m26 0h0m9 1h0m18 0h0m22-1h0m63 0h0m19 1h0m17-1h0m11 1h0m25 2h0m10 0h0m10 0h0m26-1h0m20 0h0m29-2h0m8 3h0m8-3h0m10 0h0m-112 111h0" stroke="#FDD418" stroke-width="9.0" stroke-linecap="round" fill="none"/>
<path transform="scale(.25)" d="M1033 284h0m8 1h0m30-1h0m15 0h0m20-2h0m8 3h0m13-2h0m7 0h0m16 1h0m139 1h0m18 0h0m13 0h0m-294 8h0m21-1h0m27-1h0m7 0h0m10 2h0m9-2h0m11-1h0m9 2h0m18-2h0m12 0h0m8 1h0m7 0h0m10 0h0m8 0h0m18-2h0m12 1h0m19 0h0m9 0h0m6 2h0m9 0h0m12-2h0m10 1h0m15 1h0m10-1h0m12 0h0m5-1h0m12 3h0m17-3h0m9 0h0m-333 9h0m6 1h0m10-3h0m12 4h0m6 0h0m10-1h0m10 0h0m8-2h0m11 1h0m8 2h0m10 1h0m8-2h0m8-2h0m20 0h0m11 1h0m7 2h0m11 0h0m10-1h0m6 1h0m8 0h0m11-2h0m21 2h0m8-3h0m8 0h0m11-1h0m7 1h0m18 3h0m9-1h0m9-1h0m18 1h0m12 2h0m-311 4h0m12 0h0m9 0h0m7 1h0m18 1h0m13-3h0m5 3h0m11-2h0m12 1h0m9 1h0m5-2h0m9 2h0m13-3h0m5 0h0m11 1h0m12 3h0m9-1h0m9 0h0m7 0h0m9-1h0m12-1h0m6 3h0m10-3h0m9 0h0m12 1h0m9 0h0m9 2h0m8 0h0m8-3h0m10-1h0m19 4h0m7 0h0m11-1h0m9 1h0m-325 7h0m8-2h0m7 2h0m12 0h0m8 0h0m8-1h0m10 1h0m10 0h0m10 1h0m10-4h0m8 2h0m6 0h0m13 2h0m6-3h0m12 3h0m6-3h0m12 2h0m10-2h0m8 3h0m8-2h0m8 2h0m11-2h0m10 2h0m11-2h0m8 0h0m10 2h0m8 0h0m9-1h0m7 0h0m10 0h0m29-2h0m10 2h0m8-1h0m8 1h0m8 1h0m-325 5h0m10 0h0m11 3h0m9-1h0m26 1h0m10-1h0m9 0h0m9-1h0m18 1h0m8-2h0m12 0h0m6 3h0m9-3h0m22 2h0m5-2h0m14 1h0m6 2h0m8 0h0m12-1h0m6 0h0m13-1h0m6-1h0m9 1h0m13-2h0m7 2h0m9 0h0m10-1h0m10 1h0m7 2h0m11-3h0m11 2h0m6-2h0m8 0h0m-335 9h0m13 1h0m5-1h0m10-2h0m10 2h0m19 1h0m18-2h0m7 3h0m32-1h0m6 1h0m11-2h0m9 1h0m7 0h0m13 0h0m8 1h0m9-2h0m8 1h0m10-3h0m6 1h0m13 0h0m7 3h0m8-3h0m10-1h0m12 1h0m7 1h0m8 2h0m9-3h0m12 1h0m18-1h0m9-1h0m7 2h0m13 2h0m-327 6h0m9 1h0m9 1h0m8-2h0m11-1h0m56 2h0m7 1h0m19-4h0m10 4h0m10-1h0m5 1h0m11-3h0m8 0h0m12-1h0m10 0h0m16 1h0m11 0h0m7 2h0m10-2h0m8 3h0m8-4h0m13 4h0m8-2h0m11 0h0m5 0h0m11 0h0m11-2h0m9 2h0m9 0h0m7 0h0m-336 8h0m11 2h0m7-2h0m11 2h0m10-1h0m9-1h0m10 2h0m16-3h0m9 0h0m12 1h0m7 0h0m18 2h0m11 0h0m10-2h0m5-1h0m10 2h0m9 0h0m10-1h0m11-1h0m7 0h0m13 1h0m6-1h0m8 0h0m12 1h0m10 2h0m8-2h0m10-2h0m9 4h0m10-4h0m8 4h0m8 0h0m19-1h0m19-2h0m-328 9h0m11 0h0m8 1h0m10 1h0m15-3h0m11 0h0m20 3h0m7-3h0m11-1h0m7 3h0m11 1h0m10-1h0m8-1h0m11 1h0m10-2h0m5 2h0m20 0h0m19-2h0m9 2h0m8 0h0m9 1h0m11-3h0m7 0h0m10 2h0m11 0h0m8 0h0m10-2h0m8 1h0m11-1h0m9-1h0m19 3h0m-325 8h0m8 1h0m6 0h0m9-1h0m10-3h0m11 1h0m10 1h0m6-2h0m12 3h0m9-1h0m10-2h0m9 3h0m6 1h0m9-1h0m10 0h0m12-3h0m7 4h0m9-3h0m17 1h0m13 0h0m5-1h0m12 1h0m9 1h0m10-1h0m6 1h0m13 0h0m7 1h0m8-1h0m11 0h0m7 1h0m9-3h0m12 1h0m7-1h0m13 0h0m7-1h0m-316 9h0m7 2h0m12 0h0m6-3h0m10 2h0m9 1h0m9-3h0m11 3h0m7-2h0m9-1h0m29 0h0m36 3h0m9-2h0m12 0h0m7 1h0m11-1h0m9 0h0m9-1h0m7 0h0m9 3h0m11 0h0m11-2h0m15-1h0m28 1h0m18 0h0m12 1h0m16 0h0" stroke="#4A5FB0" stroke-width="9.0" stroke-linecap="round" fill="none"/>
<path transform="scale(.25)" d="M1039 388h0m19 1h0m27-2h0m14 0h0m13-1h0m7-1h0m10 4h0m7 0h0m23 0h0m9-2h0m7 1h0m11-2h0m14 3h0m22-1h0m27 0h0m27-1h0m9 1h0m19-2h0m28 0h0m8 0h0m8 2h0m-316 7h0m20 2h0m27-4h0m9 2h0m10-1h0m20 0h0m36 1h0m9-1h0m37 2h0m92 1h0m18-2h0m28-2h0m9 0h0m-317 8h0m7 2h0m8 2h0m9 0h0m30 0h0m27 0h0m9-3h0m7 1h0m12 1h0m10-1h0m9 0h0m17-2h0m8 1h0m11-1h0m10 2h0m6 2h0m12-3h0m26-1h0m29 2h0m7 0h0m30 2h0m34-4h0m10 2h0m-334 8h0m28 1h0m7 1h0m9-4h0m18 3h0m30 0h0m9-2h0m10 1h0m8 2h0m29-1h0m7-1h0m20-1h0m9-1h0m10 3h0m10-2h0m24-1h0m9 3h0m27-2h0m19 3h0m21-2h0m16 0h0m12-1h0m-256 7h0" stroke="#F4812F" stroke-width="9.0" stroke-linecap="round" fill="none"/>
<path transform="scale(.25)" d="M1048 230h0m214 53h0m-117 88h0m132 2h0m17-2h0m11 0h0m16 0h0m-298 6h0m11 2h0m10-2h0m7 2h0m9 1h0m8-1h0m9 0h0m10-2h0m9 2h0m10-2h0m10 3h0m16 0h0m11-3h0m7 4h0m12-1h0m7 1h0m9-3h0m10 3h0m11-2h0m8 1h0m17 1h0m9 0h0m19-3h0m9 2h0m10 1h0m9-3h0m11 3h0m8-4h0m8 3h0m12 1h0m8-1h0m10-1h0m10-1h0m6 0h0m-305 9h0m15 0h0m10-1h0m21 1h0m54-1h0m45 1h0m19 0h0m19-1h0m7 0h0m17 2h0m38 0h0m31-2h0m35 0h0m-335 8h0m18 1h0m29 2h0m53-1h0m8-1h0m12 1h0m27 0h0m36 0h0m9 0h0m12 0h0m8 0h0m15-1h0m48-1h0m18 2h0m8 0h0m28-2h0m-288 10h0m25-3h0m11 0h0m66 0h0m61 2h0m13 0h0m24 2h0m38-4h0m19 1h0m12 1h0m9-1h0m-312 11h0m11-2h0m66 2h0m44-3h0m9 1h0m26 1h0m46-1h0m9 1h0m37 0h0m38-1h0m-279 7h0m19 1h0m6 1h0m11 0h0m18 1h0m18-1h0m11 0h0m7-1h0m8-1h0m9 1h0m13 0h0m8 2h0m8-2h0m12-1h0m8-1h0m8 1h0m9 0h0m8 1h0m11 1h0m7 0h0m9-1h0m9 2h0m12-2h0m7 1h0m10-1h0m12 1h0m7-3h0m12 1h0m5 1h0m13-2h0m5 3h0m12-2h0m8 2h0m-326 8h0m20 0h0m18-2h0m26-1h0m9 2h0m30-2h0m7 1h0m8 2h0m10-1h0m10-2h0m7 3h0m12-1h0m7-1h0m11 0h0m10 2h0m7 1h0m22-4h0m8 1h0m9 3h0m8-1h0m11-2h0m8 0h0m9 2h0m8-1h0m11-1h0m10 0h0m9-1h0m8 0h0m11 3h0m-308 9h0m8-3h0m8 2h0m19-3h0m19 3h0m35-3h0m17 3h0m41 0h0m28-3h0m5 1h0m11 2h0m21-3h0m9 3h0m5 0h0m10-2h0m9 0h0m40-1h0m19 1h0m-310 10h0m56 0h0m24 0h0m12 1h0m10-3h0m6 1h0m46-1h0m12 2h0m26-3h0m27 4h0m10-4h0m10 4h0m57-4h0m15 4h0" stroke="#7D3C9C" stroke-width="9.0" stroke-linecap="round" fill="none"/>
<text x="417.6" y="19.0" class="L" font-size="10.5" text-anchor="middle">WNN</text>
<text x="417.6" y="32.3" class="L" font-size="10.5" text-anchor="middle">ARI = 0.28</text>
<path transform="scale(.25)" d="M1501 156h0m57-1h0m19 1h0m27 0h0m155-1h0m-235 8h0m92 2h0m9-1h0m29-2h0m17 1h0m29-1h0m139 1h0m-318 8h0m63 3h0m27-1h0m22 0h0m108-3h0m63 0h0m-289 11h0m30-1h0m8 1h0m75 1h0m91-3h0m7 0h0m46 3h0m59 0h0m-292 7h0m25-1h0m21 1h0m36-2h0m74 2h0m110 0h0m-244 8h0m19 0h0m17-3h0m41 3h0m81 0h0m26 0h0m65-1h0m30 0h0m-319 9h0m72-2h0m159 2h0m-200 7h0m38 2h0m16-2h0m37-1h0m96 0h0m46 3h0m8-1h0m15 0h0m30-1h0m-273 6h0m48 3h0m10-3h0m73 4h0m11-2h0m8 1h0m25-3h0m-226 9h0m78 0h0m33 2h0m48-2h0m75 1h0m6-1h0m67 1h0m-300 8h0m72 0h0m20 1h0m192-2h0m-206 6h0m11 4h0m80-2h0m49 1h0m43 1h0m-233 5h0m37 3h0m72-1h0m39 1h0m137-1h0m-254 6h0m239 0h0m9 1h0m10 2h0m-125 6h0m8 0h0m47 0h0m47 0h0m-254 7h0m67 0h0m9 3h0m10-2h0m100 2h0m-169 5h0m28 1h0m135 0h0m39 1h0m-253 8h0m33-1h0m30-1h0m28 0h0m11 0h0m8 1h0m75-1h0m70 1h0m12 0h0m-284 9h0m48 0h0m91 1h0m168 1h0m-225 5h0m9 1h0m33-3h0m40 3h0m16-1h0m12-1h0m16 0h0m30 1h0m55 2h0m-263 7h0m7-1h0m10 1h0m57 1h0m24-3h0m30 3h0m38 0h0m91-3h0m-261 10h0m45 0h0m27 0h0m35-2h0m101 1h0m20 0h0m64-1h0m-252 8h0m7 3h0m86 0h0m34-3h0m49 0h0m15 3h0m48-4h0m-270 9h0m92 3h0m-107 8h0m19-2h0m73 2h0m158-4h0m-274 10h0m20 1h0m9 1h0m82 0h0m148-1h0m9 0h0m17-1h0m11-1h0m9-1h0m-234 11h0m128-1h0m25 1h0m-169 5h0m11 3h0m90-2h0m112 1h0m-272 6h0m11 2h0m98 1h0m75 0h0m17 1h0m37-1h0m76-1h0m10-1h0m-289 11h0m41-2h0m69 0h0m25 0h0m8 2h0m38-3h0m54 2h0m-214 5h0m157 3h0m-206 5h0m35 3h0m110-3h0m36 4h0m30-2h0m117 0h0m-333 8h0m34 2h0m93-3h0m56-1h0m44 0h0m104 1h0m-211 9h0m41-1h0m88 2h0m55 6h0m-134 10h0m89-2h0m-242 10h0m167 0h0" stroke="#DD1C4B" stroke-width="9.0" stroke-linecap="round" fill="none"/>
<path transform="scale(.25)" d="M1597 155h0m15 1h0m127-2h0m37 3h0m-207 7h0m68 2h0m29-4h0m137 3h0m-255 8h0m75 0h0m26 0h0m-144 7h0m28 2h0m37-3h0m18 0h0m10 2h0m11-3h0m6 2h0m32-1h0m8 0h0m36-1h0m11 4h0m10-2h0m35 0h0m8 2h0m8-2h0m20-1h0m8 1h0m10-2h0m19 2h0m-301 9h0m29-2h0m10-1h0m53 0h0m29 0h0m10 0h0m8 1h0m30 3h0m28-1h0m9 0h0m9-3h0m5 1h0m21 1h0m10-2h0m16 3h0m28-3h0m9 0h0m12 0h0m-326 9h0m15 0h0m9 0h0m9 0h0m13 0h0m36 1h0m35-2h0m19 3h0m55 0h0m30-3h0m8 2h0m25 0h0m10 0h0m18 0h0m10 2h0m18-3h0m-314 7h0m26 2h0m26 2h0m9-1h0m12 1h0m46-3h0m18 2h0m55-3h0m19 2h0m24 0h0m27-1h0m14 3h0m18-3h0m15 1h0m11 1h0m-308 9h0m8-1h0m47 1h0m28-3h0m17 1h0m21-1h0m18-1h0m65 4h0m24-2h0m8-2h0m10 2h0m12 2h0m27-4h0m16 3h0m11-3h0m-307 8h0m8 2h0m11-2h0m15 0h0m19 2h0m18-2h0m47 1h0m10-1h0m35 2h0m36 0h0m10-1h0m48 2h0m10 1h0m7-1h0m17-1h0m12-1h0m-318 8h0m27 2h0m12-3h0m6 3h0m45-3h0m37 1h0m9 0h0m10 0h0m39 3h0m71-2h0m19 1h0m21-1h0m6 2h0m29-4h0m-337 8h0m36 1h0m19-1h0m9 1h0m147 1h0m11-2h0m10 2h0m7-1h0m18-1h0m11 1h0m7 3h0m19-2h0m20 0h0m17-2h0m-315 9h0m100 1h0m65-1h0m-114 7h0m-23 8h0m219 2h0m-244 7h0m130-2h0m44 1h0m93 0h0" stroke="#46E2EA" stroke-width="9.0" stroke-linecap="round" fill="none"/>
<path transform="scale(.25)" d="M1565 157h0m-49 9h0m47-4h0m16 3h0m131-2h0m75 3h0m-254 6h0m200 2h0m-167 4h0m17 0h0m-79 10h0m9-1h0m172 8h0m-96 7h0m-23 11h0m164-3h0m-142 9h0m43-1h0m-102 12h0m55-4h0m-72 9h0m76-1h0m63 2h0m19 2h0m8-2h0m20 0h0m8 0h0m-198 7h0m56 3h0m7-2h0m11 0h0m75-1h0m63 0h0m10 2h0m20 0h0m8-2h0m7 2h0m11 1h0m17 0h0m13-4h0m6 4h0m12-2h0m15 2h0m-333 5h0m16 2h0m9-2h0m46 0h0m57-1h0m17 3h0m28-1h0m36 0h0m8 1h0m18-2h0m12 2h0m10-3h0m17 1h0m12 2h0m-283 5h0m18 2h0m9 1h0m67-3h0m18 2h0m27 1h0m6-4h0m13 5h0m24-2h0m38 0h0m20-1h0m8 0h0m18 1h0m-234 9h0m19-3h0m36 3h0m11-1h0m33 0h0m37-1h0m11 2h0m56-1h0m35 1h0m31-1h0m28-1h0m-312 9h0m13 0h0m7 0h0m26-2h0m12 3h0m6-3h0m10 2h0m11-1h0m9 2h0m82 0h0m10 0h0m9 0h0m34-4h0m31 0h0m36 4h0m10-3h0m-310 11h0m9-3h0m9 1h0m18 0h0m122-1h0m146 0h0m-52 10h0m-177 10h0m47-3h0m101-2h0m43 2h0m-222 6h0m80 1h0m-131 8h0m82 1h0m89 2h0m84-1h0m-152 6h0m185 3h0m-271 4h0m210 0h0" stroke="#FDD418" stroke-width="9.0" stroke-linecap="round" fill="none"/>
<path transform="scale(.25)" d="M1587 156h0m135 2h0m65-4h0m39 1h0m-235 9h0m19 2h0m126-1h0m57-3h0m-255 10h0m28 0h0m-40 7h0m136 1h0m76-1h0m70 0h0m-279 7h0m47 3h0m16-3h0m40 4h0m147-4h0m-264 10h0m139-1h0m-114 8h0m71-1h0m21 2h0m17 0h0m8-1h0m45-1h0m22 4h0m35-2h0m75-2h0m-291 11h0m36-3h0m101 3h0m32 0h0m-212 6h0m11 0h0m91-1h0m77 0h0m73 3h0m52-1h0m29 1h0m-272 9h0m122-2h0m18-1h0m7 3h0m18-3h0m13 0h0m89 1h0m-282 7h0m279 2h0m-281 7h0m45-2h0m72 2h0m11-2h0m28 1h0m-88 7h0m54 1h0m37 1h0m65 1h0m40-3h0m9 3h0m-300 7h0m37-1h0m6-1h0m11 2h0m20-1h0m18 0h0m91 2h0m8-2h0m84 0h0m12-1h0m4 3h0m-277 8h0m35-3h0m9 3h0m91-3h0m41-1h0m26 3h0m18-3h0m47 4h0m-290 4h0m145 2h0m21 1h0m93-2h0m6 0h0m21 1h0m9 2h0m9-2h0m-300 9h0m38 0h0m80 0h0m12-2h0m18 1h0m63 2h0m45 0h0m19 0h0m12 0h0m17 0h0m18-3h0m-235 10h0m45-1h0m10 0h0m8 0h0m73 1h0m12-2h0m81 0h0m9 0h0m-305 11h0m99-3h0m29 3h0m35-2h0m29-1h0m26 0h0m27 2h0m-226 8h0m29-2h0m49-1h0m37 3h0m42 1h0m101 0h0m20 0h0m-298 7h0m46 1h0m10-4h0m33 1h0m12 3h0m84-2h0m18 2h0m73-1h0m-291 6h0m11 3h0m45-1h0m126 1h0m18-1h0m19-2h0m59 1h0m18-1h0m-298 10h0m45 0h0m56 0h0m7 1h0m65-1h0m29-2h0m73 1h0m-281 8h0m9 1h0m10 1h0m81 0h0m39-1h0m16-2h0m46 0h0m66 1h0m46 0h0m-302 8h0m40 2h0m17-3h0m131 1h0m14-1h0m12 1h0m63 2h0m-278 6h0m70-1h0m74 2h0m19 0h0m19-2h0m26 3h0m18-3h0m-230 11h0m24-4h0m82 3h0m68-1h0m70 1h0m46-2h0m-225 8h0m131-1h0m74 2h0m-245 9h0m83-3h0m45 4h0m112-4h0m19 4h0m-207 5h0m17 3h0m-87 6h0m56-1h0m35 1h0m38 1h0m146 0h0m21-3h0m-293 12h0m40 0h0m55-1h0m82-2h0m7 1h0m85 2h0m29-3h0m-312 11h0m148-2h0m-13 10h0m29-4h0m7 1h0m45 1h0m86-2h0m17 1h0m-190 9h0m47-1h0m10 2h0m7 1h0m22-4h0m44 1h0m17 1h0m31-2h0m-282 9h0m27-1h0m250 0h0m-189 9h0m6 1h0" stroke="#4A5FB0" stroke-width="9.0" stroke-linecap="round" fill="none"/>
<path transform="scale(.25)" d="M1659 237h0m28-1h0m-163 6h0m30 0h0m155 4h0m118-5h0m-314 12h0m24-3h0m67 2h0m128 2h0m93-2h0m-142 5h0m38 2h0m63 2h0m-237 6h0m40-1h0m27 0h0m-59 11h0m175-1h0m9 2h0m-236 4h0m62 2h0m20-2h0m8 3h0m20-2h0m92 1h0m28 1h0m27-1h0m-207 7h0m17 2h0m110-4h0m13 1h0m27 0h0m37 1h0m42-1h0m12 3h0m-307 6h0m17-2h0m17 4h0m10-1h0m19-2h0m10 1h0m26 1h0m67 0h0m6 1h0m8 0h0m32 0h0m16-3h0m36 3h0m37-1h0m-288 6h0m9 0h0m89 2h0m41 1h0m71-3h0m12 1h0m19 2h0m7 0h0m19-4h0m-280 11h0m15 0h0m132 0h0m9-2h0m17 1h0m18 0h0m29 0h0m18 2h0m74-2h0m-310 7h0m159 2h0m19-1h0m7 2h0m19-1h0m73-2h0m39 2h0m14-2h0m-297 9h0m93 0h0m9 1h0m7 0h0m13 0h0m35-3h0m26 4h0m9-3h0m75 0h0m16 1h0m13 2h0m-301 6h0m67 1h0m70-2h0m12-1h0m18 1h0m20 0h0m7 2h0m9-2h0m8 3h0m40-2h0m17 0h0m10-2h0m18 2h0m7 0h0m-336 8h0m11 2h0m28-1h0m56-1h0m7 0h0m39 0h0m46-1h0m6 0h0m19 0h0m30 3h0m8-2h0m10-2h0m9 4h0m18 0h0m47-3h0m-274 8h0m38-1h0m7 3h0m21 0h0m8-1h0m21-1h0m54 2h0m7 0h0m20-2h0m18 2h0m75 0h0m-325 8h0m23 0h0m21-2h0m10 1h0m7-2h0m21 2h0m9-2h0m10 3h0m5 1h0m19-1h0m19 1h0m10-3h0m16 1h0m19-1h0m21 2h0m9-1h0m19 1h0m8 1h0m19-1h0m6 1h0m9-3h0m12 1h0m20-1h0m7-1h0m-316 9h0m20 2h0m5-3h0m10 2h0m9 1h0m37-3h0m35 2h0m57 0h0m11-1h0m9 0h0m16-1h0m9 3h0m22-2h0m16-1h0m37 2h0m8-1h0m29 1h0m-315 6h0m43 0h0m19 0h0m10 3h0m46 0h0m71 1h0m58 0h0m16-1h0m20 0h0m-264 7h0m22 0h0m34-2h0m221 1h0m8 2h0m-296 9h0m20 0h0m82-2h0m199-1h0m-262 7h0m20 4h0m16-2h0m32 0h0m45 0h0m130 0h0m14-2h0m-306 10h0m11 1h0m15-3h0m68 2h0m7 2h0m75-1h0m61 0h0m38-1h0m-207 9h0m11 0h0m38-1h0m71 1h0m26 1h0m47-4h0m36 3h0m19 0h0m-223 5h0m55 2h0m64-1h0m91-1h0m11 3h0m-291 8h0m204 0h0m83-2h0m-254 10h0" stroke="#F4812F" stroke-width="9.0" stroke-linecap="round" fill="none"/>
<path transform="scale(.25)" d="M1683 276h0m5 7h0m25 2h0m95-3h0m-303 11h0m74-2h0m147 1h0m-141 9h0m26-3h0m-106 8h0m28 1h0m36 1h0m37-2h0m75 2h0m92-2h0m47 2h0m-253 8h0m35-1h0m149 1h0m7 0h0m65 0h0m8 1h0m-269 8h0m28-2h0m38-1h0m6 3h0m36-3h0m59 1h0m28-2h0m16 2h0m-272 8h0m18 0h0m160 0h0m81 0h0m17-1h0m-149 7h0m24 4h0m41-4h0m61 0h0m13 4h0m23-2h0m-206 7h0m48 3h0m15-3h0m10 2h0m9 0h0m10-1h0m139 1h0m-264 6h0m30 3h0m66-1h0m136-2h0m-263 11h0m122-4h0m-126 11h0m102-3h0m35 3h0m22-2h0m62 2h0m20 1h0m34-3h0m31 1h0m-292 8h0m17 0h0m9 0h0m19 0h0m55 2h0m18 0h0m10-3h0m20 1h0m53-1h0m19 3h0m9-3h0m73 0h0m-314 10h0m9-1h0m25-1h0m21 1h0m42 2h0m12-3h0m11 3h0m16-1h0m11-2h0m26 1h0m10 1h0m9-2h0m18 2h0m7 0h0m20-1h0m10 1h0m18-2h0m20 0h0m8 0h0m27 0h0m-335 8h0m8 1h0m56 0h0m30-1h0m6 2h0m20 0h0m20-2h0m36 2h0m7 0h0m10 0h0m11 0h0m15-3h0m8 2h0m41 2h0m8-3h0m10 1h0m15 1h0m22-3h0m-310 10h0m17 2h0m47-4h0m19 1h0m29 1h0m18-2h0m16 1h0m11-1h0m54 0h0m18 4h0m12-2h0m6 0h0m19-2h0m20 1h0m-236 10h0m21 1h0m8-1h0m9-2h0m36 1h0m11 1h0m15 0h0m13-2h0m28 0h0m5 1h0m9 1h0m19 0h0m27-2h0m19 3h0m21-2h0m16 0h0m-306 7h0m19 1h0m6 1h0m11 0h0m18 1h0m8-4h0m28 2h0m8-1h0m38 1h0m38-1h0m7 1h0m18 1h0m30-1h0m17 0h0m12 1h0m20-2h0m4 1h0m-288 9h0m20 0h0m18-2h0m26-1h0m10 2h0m36-1h0m8 2h0m20-3h0m8 3h0m19-2h0m66 3h0m9-1h0m10-2h0m17 2h0m19-2h0m-270 11h0m54-1h0m36-3h0m17 3h0m68-3h0m6 1h0m10 2h0m21-3h0m15 3h0m19-2h0m-171 10h0m12 1h0m62-3h0m37-1h0m28 4h0m9-4h0m10 4h0m57-4h0m15 4h0" stroke="#7D3C9C" stroke-width="9.0" stroke-linecap="round" fill="none"/>
<text x="58.8" y="134.2" class="L" font-size="10.5" text-anchor="middle">SpatialGlue</text>
<text x="58.8" y="147.5" class="L" font-size="10.5" text-anchor="middle">ARI = 0.39</text>
<path transform="scale(.25)" d="M130 615h0m22-1h0m239-2h0m-235 10h0m194 1h0m8-3h0m-208 27h0m46 0h0m-124 38h0m90-2h0m224 3h0m-71 153h0m-123 5h0m27 1h0m18-1h0m155 2h0m-204 8h0m72-1h0m20 1h0m81 0h0m36-2h0m-226 9h0m77-1h0m80 0h0m59 0h0m-275 7h0m67 2h0m-43 9h0m36-1h0m66-2h0m8 0h0m17 1h0m48 0h0m7 2h0m59-3h0m-301 11h0m20-1h0m44-2h0m39 0h0m42 2h0m19-1h0m111 1h0m49 0h0m-273 6h0m140-1h0m46 3h0m-147 9h0" stroke="#DD1C4B" stroke-width="9.0" stroke-linecap="round" fill="none"/>
<path transform="scale(.25)" d="M65 614h0m77 0h0m27 0h0m183-2h0m-208 11h0m58 0h0m63-3h0m36 2h0m-215 7h0m27 2h0m18-1h0m45 1h0m12-1h0m10 1h0m16 0h0m92-3h0m63-1h0m-299 10h0m10 1h0m10-1h0m20 0h0m7 2h0m12-3h0m16 0h0m4-4h0m14 7h0m11-4h0m38 2h0m8 0h0m36-1h0m11 3h0m9-1h0m15-1h0m12 0h0m9 1h0m16-1h0m9 2h0m11-2h0m7 1h0m11-2h0m7 1h0m12 1h0m11 1h0m-329 7h0m27-3h0m10 3h0m9-1h0m10-1h0m18 3h0m16-4h0m19 1h0m10 1h0m19-1h0m10-1h0m8 2h0m29 2h0m8-1h0m21 1h0m9 0h0m9-3h0m5 0h0m16-4h0m5 6h0m45 1h0m9-4h0m21 1h0m-326 8h0m6 2h0m26-2h0m20 2h0m19 0h0m11 0h0m6-2h0m29 0h0m11 2h0m16-1h0m46 2h0m19 0h0m11-3h0m8 2h0m7 1h0m29-1h0m28 1h0m9-2h0m30 1h0m-335 6h0m16 2h0m10-1h0m26 2h0m8 0h0m13 0h0m9-3h0m6 0h0m39 1h0m9 2h0m16-3h0m40-1h0m5 0h0m14 3h0m8 1h0m16-2h0m11 2h0m8-2h0m22 2h0m18-2h0m14 1h0m21-3h0m-309 12h0m18 0h0m21-1h0m14-2h0m22 1h0m6 0h0m11 0h0m20-1h0m6 1h0m13-1h0m23 3h0m32-1h0m17-2h0m10 1h0m7 0h0m8-2h0m10 3h0m21 1h0m9-1h0m9-2h0m6 3h0m10 0h0m11-4h0m9 2h0m-338 7h0m10 1h0m12-1h0m8 2h0m11-2h0m15 0h0m18 1h0m28-1h0m11 3h0m10-3h0m6-1h0m21 1h0m29 0h0m6 2h0m11 1h0m19-1h0m5-6h0m1 6h0m10-1h0m9-2h0m12 3h0m27 1h0m10 0h0m6-1h0m18 0h0m11-1h0m9 1h0m-319 6h0m13 3h0m7 0h0m11-3h0m16 3h0m30-2h0m34 2h0m8-3h0m10 1h0m10 0h0m20 0h0m10 0h0m9 2h0m16 0h0m31-3h0m9 1h0m6 0h0m8 1h0m41 0h0m6 1h0m19-1h0m9-2h0m-337 7h0m55 0h0m132 2h0m-139 14h0m118 2h0m-159 7h0m53 0h0m-21 11h0m74 13h0m146 2h0m13 8h0m-40 5h0" stroke="#46E2EA" stroke-width="9.0" stroke-linecap="round" fill="none"/>
<path transform="scale(.25)" d="M86 694h0m16-1h0m9 0h0m19 0h0m21-1h0m7 1h0m20 2h0m35-2h0m20 2h0m28-2h0m16 0h0m21 1h0m7-2h0m18 0h0m11 1h0m7 2h0m19-1h0m10-2h0m20 2h0m7-3h0m-326 9h0m18-1h0m20 3h0m9-2h0m8 3h0m8-1h0m11 0h0m9-2h0m10-1h0m11 4h0m7-2h0m38 0h0m6 1h0m11-2h0m10 1h0m8-1h0m10 0h0m9 3h0m9-3h0m10 3h0m20-1h0m8-1h0m7 1h0m11 1h0m17 0h0m13-4h0m6 4h0m12-1h0m5-3h0m-323 10h0m16 2h0m17-3h0m31 0h0m6 0h0m11 3h0m19-2h0m28-2h0m17 3h0m9 0h0m19-1h0m20 2h0m5-2h0m11 1h0m8 0h0m11 1h0m7-2h0m22-1h0m7 2h0m10-2h0m30 0h0m9 3h0m8-1h0m9-1h0m-318 9h0m9 0h0m9 1h0m36-2h0m10-1h0m11 1h0m10-1h0m18 2h0m27 1h0m6-4h0m12 4h0m25-1h0m11 1h0m8-2h0m13-1h0m6 2h0m20-1h0m8-1h0m9 2h0m9-1h0m10 2h0m9-2h0m16 2h0m10-3h0m10 0h0m9 3h0m-317 6h0m11 2h0m16-3h0m11 0h0m8 0h0m9 3h0m11-4h0m7 3h0m12-1h0m9-1h0m24 2h0m12-3h0m16 1h0m9 1h0m18-1h0m14-1h0m6 2h0m8-1h0m21 2h0m9-3h0m35 1h0m12 2h0m9 0h0m8-1h0m21-1h0m-328 7h0m16 2h0m12 1h0m8 0h0m11 1h0m5-3h0m10 0h0m12 3h0m6-4h0m10 3h0m11-1h0m9 2h0m19-1h0m10-1h0m5 0h0m22 1h0m8 0h0m17 1h0m11-1h0m20 0h0m9 1h0m8-1h0m6-3h0m13 1h0m7 0h0m10-1h0m10 1h0m9 3h0m9-2h0m9 2h0m10-3h0m-327 7h0m17 4h0m9-3h0m9 0h0m12 2h0m6-1h0m9 1h0m13-3h0m7 1h0m8 2h0m13-2h0m23 2h0m12-2h0m19 0h0m17 0h0m11 0h0m16 2h0m9 0h0m10 0h0m10 1h0m8-3h0m27 3h0m11-1h0m7 0h0m13 0h0m17 1h0m8-4h0m10 1h0m-329 11h0m48-3h0m37 0h0m9 1h0m30-1h0m8 1h0m7 0h0m10-1h0m8 1h0m18-2h0m40 0h0m6 3h0m9-1h0m12-2h0m10 2h0m25 0h0m-140 8h0m18 1h0m10 0h0m6 1h0m8 0h0m11-3h0m21 2h0m8-2h0m19-1h0m34 3h0m-260 5h0m16 2h0m81 9h0m36-1h0m45-1h0m34 8h0m82-1h0m-272 10h0m37-2h0m139 1h0m-114 10h0m82-3h0m154 1h0m-234 8h0m118 0h0m12 1h0m-198 10h0m14 4h0m-41 9h0m5 9h0m165 0h0m34 1h0" stroke="#FDD418" stroke-width="9.0" stroke-linecap="round" fill="none"/>
<path transform="scale(.25)" d="M177 614h0m164 1h0m-213 5h0m46 3h0m7-1h0m50-2h0m5 1h0m39-1h0m11-4h0m82 6h0m36-1h0m-252 15h0m28 1h0m13 2h0m34-1h0m57-1h0m-201 10h0m46-1h0m206-2h0m-246 9h0m121 1h0m118 0h0m28-1h0m-24 7h0m58 2h0m-273 8h0m223 1h0m-210 5h0m21 1h0m218 0h0m-252 9h0m29-2h0m145 1h0m-67 10h0m17-1h0m28 0h0m19-2h0m-210 19h0m99-3h0m139 3h0m-142 6h0m74-2h0m3 12h0m47-1h0m35-1h0m9 2h0m-58 7h0m89 5h0m-191 8h0m75 0h0m102 1h0m43 0h0m-327 10h0m139 1h0m137-2h0m18 0h0m-160 7h0m129-1h0m56 4h0m-282 6h0m113-1h0m24 2h0m-122 9h0m202-3h0m-263 8h0m160 2h0m17-1h0m18-2h0m-166 19h0m29 0h0m98 0h0m139 0h0m-279 6h0m33-1h0m38 1h0m47 0h0m46 2h0m110-2h0m-253 7h0m137 1h0m13 1h0m97-2h0m12 2h0m7-1h0m-277 10h0m199 0h0m83-2h0m-234 8h0m47-1h0m81 3h0m56-2h0m73 0h0m-259 9h0m35 2h0m211-3h0m-316 7h0m55 0h0m9 2h0m10-1h0m194 3h0m18-3h0m28-1h0m-301 9h0m17 2h0m47-3h0m38 3h0m55-3h0m28 1h0m43 3h0m12-3h0m-225 9h0m34 0h0m66-1h0m56-1h0m34 3h0m65 1h0m10-3h0m39 0h0m-318 8h0m19 0h0m17 1h0m36 1h0m56 0h0m20-3h0m51 2h0m18 1h0m41 0h0m7-3h0m-233 9h0m80 2h0m10-1h0m10-2h0m37 0h0m10 3h0m29-3h0m8 0h0m9 3h0m19-3h0m63 0h0m-289 8h0m81 0h0m17 3h0m106-4h0m24 2h0m-186 9h0m36 2h0m16-3h0m46-1h0m12 3h0m26-4h0m37 1h0" stroke="#4A5FB0" stroke-width="9.0" stroke-linecap="round" fill="none"/>
<path transform="scale(.25)" d="M123 613h0m39-1h0m142 0h0m20 1h0m-243 10h0m8-2h0m45 0h0m56 0h0m28-1h0m-123 10h0m8 0h0m192 1h0m-197 8h0m37-2h0m-59 8h0m268-2h0m7 3h0m37-3h0m-290 10h0m22-1h0m128 1h0m135-1h0m-278 8h0m71-1h0m13 2h0m25 1h0m-132 9h0m55 0h0m18 0h0m3 5h0m47 1h0m67 1h0m-6 7h0m81 1h0m-272 6h0m305 2h0m-298 7h0m222 1h0m43 1h0m55 0h0m-308 5h0m260 3h0m-244 4h0m9 1h0m249 0h0m-175 15h0m-116 10h0m14 9h0m34-2h0m10 3h0m9-2h0m132-1h0m88-1h0m12 3h0m17-3h0m-324 10h0m16-2h0m12 4h0m6-1h0m10 0h0m10 0h0m8-3h0m11 2h0m8 1h0m10 1h0m8-1h0m8-3h0m20 1h0m119-1h0m18 4h0m48 0h0m-311 5h0m21 0h0m25 1h0m13-2h0m5 2h0m11-1h0m12 0h0m9 1h0m5-1h0m9 1h0m13-2h0m5 0h0m23 3h0m9-1h0m9 1h0m7 0h0m9-1h0m12-1h0m6 3h0m10-3h0m9 0h0m12 1h0m9 0h0m9 2h0m8-1h0m18-3h0m19 4h0m7 0h0m11-1h0m-316 8h0m8-3h0m7 2h0m12 1h0m8 0h0m18 0h0m10 0h0m10 1h0m10-4h0m8 1h0m6 1h0m19-1h0m12 3h0m6-4h0m30 3h0m8-1h0m29 1h0m11-2h0m8 0h0m10 2h0m8 0h0m9-1h0m7 1h0m10-1h0m29-1h0m10 2h0m8-2h0m8 1h0m8 2h0m-325 5h0m10-1h0m11 4h0m9-2h0m36 0h0m9 1h0m9-1h0m18 1h0m8-2h0m12-1h0m6 3h0m9-2h0m22 2h0m5-2h0m14 0h0m6 3h0m8 0h0m12-2h0m6 0h0m19-2h0m9 2h0m13-2h0m16 2h0m10-1h0m10 1h0m7 2h0m22-2h0m6-1h0m8 0h0m-322 9h0m5-1h0m10-1h0m29 3h0m25 1h0m32-1h0m6 0h0m11-1h0m9 1h0m7 0h0m21 1h0m17-1h0m16-2h0m20 2h0m8-2h0m10-1h0m12 1h0m7 0h0m8 2h0m9-2h0m12 0h0m18 0h0m9-1h0m7 2h0m13 2h0m-327 6h0m9 1h0m9 1h0m8-2h0m11-1h0m63 3h0m19-4h0m10 3h0m10-1h0m5 1h0m11-2h0m8 0h0m22-1h0m8 1h0m8-1h0m11 0h0m7 2h0m10-1h0m8 3h0m8-4h0m13 4h0m8-2h0m11-1h0m5 1h0m11 0h0m11-2h0m9 2h0m9-1h0m-329 9h0m11 1h0m7-1h0m21 0h0m9 0h0m26-1h0m9 0h0m12 0h0m25 3h0m11 0h0m10-2h0m5-1h0m19 1h0m10 0h0m11-1h0m7 0h0m13 1h0m6-2h0m30 4h0m8-3h0m10-1h0m9 3h0m10-3h0m8 3h0m27 0h0m19-3h0m-328 10h0m19 1h0m36-2h0m20 2h0m18-3h0m7 2h0m11 2h0m10-1h0m19-1h0m10-1h0m5 2h0m39-2h0m9 1h0m8 0h0m9 2h0m11-4h0m7 1h0m10 1h0m11 1h0m8-1h0m10-1h0m19-1h0m9 0h0m19 3h0m-325 7h0m8 2h0m6 0h0m9-2h0m31 0h0m6-2h0m12 2h0m9-1h0m10-1h0m9 3h0m6 1h0m9-1h0m10 0h0m12-3h0m7 3h0m9-3h0m35 1h0m12 1h0m9 1h0m10-1h0m6 1h0m13 0h0m7 0h0m8 0h0m11 0h0m7 1h0m41-3h0m7-1h0m-309 10h0m18-2h0m10 2h0m9 1h0m9-3h0m11 3h0m7-2h0m9-1h0m29 0h0m7 2h0m29 1h0m9-2h0m12-1h0m7 2h0m11-1h0m9-1h0m9 0h0m7 0h0m20 3h0m11-3h0m8 4h0m7-4h0m10 2h0m11 0h0m7-2h0m9 2h0m21-1h0m16 1h0m-335 6h0m21 0h0m7 1h0m9 2h0m8-2h0m9 1h0m10-2h0m19 0h0m72 1h0m10 3h0m19-1h0m45-3h0m9 3h0m30 0h0m8-3h0m48 0h0m-284 9h0m149 1h0m10 1h0m-190 7h0m92 0h0m8-1h0m31 0h0m162 2h0m-97 7h0m120-2h0m10 1h0m-200 17h0m72 1h0m54-2h0m54 1h0m20 1h0m-134 8h0m104-2h0m-133 10h0m79 0h0m19-2h0m40-1h0m-189 8h0m137 3h0m72 1h0" stroke="#F4812F" stroke-width="9.0" stroke-linecap="round" fill="none"/>
<path transform="scale(.25)" d="M160 838h0m16 0h0m18 0h0m12 0h0m7 1h0m138-1h0m12 1h0m8-1h0m10-1h0m-298 9h0m9-2h0m10 2h0m15-3h0m12 1h0m14 0h0m13 0h0m7-1h0m17 3h0m23 1h0m9-3h0m18 0h0m14 2h0m31-2h0m7 0h0m11 2h0m6-1h0m21 0h0m9 0h0m8 1h0m11-2h0m20 0h0m8-1h0m27 1h0m-317 8h0m10 2h0m19 1h0m47-3h0m36 1h0m17 1h0m29-1h0m7 1h0m21-1h0m15-2h0m8 1h0m48 0h0m48-1h0m-317 8h0m15 4h0m20-1h0m19 0h0m6-3h0m21 4h0m9-4h0m29 1h0m9 1h0m9-3h0m8 1h0m8 1h0m27 3h0m31-2h0m7-2h0m55 0h0m11 4h0m8-3h0m12 1h0m-310 7h0m7 2h0m11-1h0m17 2h0m49-1h0m8 0h0m9-3h0m18 4h0m18-2h0m11 1h0m7-2h0m8 1h0m12-2h0m19 3h0m10-2h0m5 1h0m19-2h0m9 2h0m18 1h0m9-3h0m40 2h0m16 0h0m-281 9h0m37-4h0m21 4h0m15-3h0m9 2h0m29 0h0m37-2h0m35 1h0m69-1h0m5 2h0m30-2h0m-245 10h0m37-2h0m47 1h0m82 1h0m19-1h0m9 2h0m19-2h0m19-1h0m-289 11h0m16-1h0m38 1h0m126-2h0m11 2h0m113-2h0m-310 10h0m219 0h0m77-4h0" stroke="#7D3C9C" stroke-width="9.0" stroke-linecap="round" fill="none"/>
<text x="177.9" y="134.2" class="L" font-size="10.5" text-anchor="middle">CellCharter</text>
<text x="177.9" y="147.5" class="L" font-size="10.5" text-anchor="middle">ARI = 0.66</text>
<path transform="scale(.25)" d="M542 614h0m58-1h0m7 2h0m11-1h0m10 0h0m10-2h0m16 2h0m147-1h0m17 2h0m11-3h0m38 0h0m-301 9h0m39-1h0m6 1h0m10 2h0m12-1h0m18 1h0m15-2h0m13 2h0m16-3h0m12 0h0m6 1h0m39-1h0m26 2h0m49 1h0m54-2h0m-275 15h0m46 8h0m85 2h0m-186 6h0m228 2h0m7 1h0m36 8h0m-255 8h0m74-2h0m176 2h0m26-3h0m-122 8h0m44 16h0m75 147h0m-281 7h0m285-2h0m-169 9h0m17 1h0m45-1h0m12 0h0m8 1h0m80 0h0m-215 5h0m19 0h0m127 0h0m18 4h0m37-4h0m31 2h0m-309 7h0m35 3h0m102-2h0m18-1h0m29-1h0m71 3h0m9-3h0m18 4h0m-249 5h0m43-2h0m10 4h0m64-1h0m20-2h0m61 3h0m-223 8h0m20-1h0m44-2h0m46 0h0m8 3h0m27-1h0m12-1h0m7 0h0m28 2h0m22-3h0m17 3h0m26-2h0m17 1h0m11-1h0m20-1h0m19 2h0m-308 9h0m35-3h0m71 3h0m41 0h0m28-4h0m15 4h0m36 0h0m9-2h0m10 0h0m59 0h0m-310 10h0m192-4h0m37 1h0m81 4h0" stroke="#DD1C4B" stroke-width="9.0" stroke-linecap="round" fill="none"/>
<path transform="scale(.25)" d="M558 623h0m184-3h0m21-4h0m72 4h0m-273 9h0m10 1h0m8 0h0m9 1h0m19-1h0m45 1h0m12-1h0m10 1h0m15 0h0m82 0h0m-225 6h0m9 1h0m11-1h0m8 2h0m12-2h0m7 2h0m17-2h0m11-1h0m4-4h0m3 4h0m11 3h0m10-4h0m7 2h0m13 2h0m19-2h0m8 0h0m6 1h0m29-2h0m12 3h0m9-1h0m8-1h0m7 0h0m12 0h0m9 1h0m16-1h0m9 2h0m11-2h0m7 1h0m11-2h0m7 1h0m12 1h0m11 1h0m-329 7h0m9-1h0m7 2h0m10-4h0m11 3h0m9-1h0m10-1h0m6 2h0m12 1h0m8 0h0m8-4h0m29 2h0m10 2h0m8-3h0m11-1h0m8 2h0m29 2h0m28 0h0m10 0h0m9-3h0m5 0h0m16-4h0m4 6h0m11-2h0m9-1h0m7 3h0m19 1h0m9-4h0m9 0h0m12 1h0m-320 10h0m9-1h0m8 0h0m9-1h0m14 0h0m6 2h0m19 0h0m11 0h0m6-2h0m29 0h0m11 2h0m8 0h0m8-1h0m30 0h0m16 2h0m19 0h0m11-3h0m34 2h0m10 0h0m18-1h0m9 2h0m10-2h0m8-1h0m22 2h0m-336 6h0m17 2h0m10-1h0m8-1h0m18 3h0m8 0h0m13 0h0m9-3h0m5 0h0m19-1h0m13 2h0m7 0h0m10 2h0m8-1h0m7-2h0m41-1h0m5 0h0m13 3h0m9 1h0m16-2h0m11 2h0m7-2h0m9-1h0m31 1h0m15 1h0m11 0h0m10-3h0m-317 12h0m26 0h0m9-1h0m11 0h0m9 1h0m6-3h0m12 3h0m16-2h0m11 0h0m20-1h0m6 1h0m13-1h0m23 3h0m32-1h0m17-2h0m10 1h0m7 0h0m8-2h0m10 3h0m21 1h0m8-1h0m16 1h0m10 0h0m10-4h0m10 2h0m-338 7h0m10 1h0m11-1h0m8 2h0m12-2h0m15 0h0m8 0h0m10 1h0m12 0h0m6-1h0m10 0h0m10 3h0m11-3h0m6-1h0m11 2h0m10-1h0m35 2h0m11 1h0m11-1h0m8 0h0m5-6h0m1 6h0m10-1h0m9-2h0m12 3h0m26 1h0m11 0h0m6-1h0m9-1h0m9 1h0m11-1h0m8 1h0m-325 7h0m7-1h0m13 3h0m7 0h0m11-3h0m7 2h0m9 1h0m20-3h0m10 1h0m6-2h0m28 4h0m8-3h0m10 1h0m10 0h0m20 0h0m10 0h0m9 2h0m8-2h0m8 2h0m18-2h0m12-1h0m9 1h0m7 0h0m8 1h0m20 0h0m20 0h0m6 1h0m13-1h0m7 0h0m9-2h0m-337 7h0m10 1h0m45-1h0" stroke="#46E2EA" stroke-width="9.0" stroke-linecap="round" fill="none"/>
<path transform="scale(.25)" d="M563 694h0m16-1h0m9 0h0m19 0h0m21-1h0m7 1h0m20 2h0m35-2h0m11 2h0m9 0h0m8-1h0m10-1h0m10 0h0m8 1h0m8-1h0m20 1h0m7-2h0m19 0h0m11 1h0m7 2h0m19-1h0m10-2h0m10 2h0m9 0h0m8-3h0m-327 9h0m11 1h0m8-2h0m19 3h0m10-2h0m8 3h0m8-1h0m11 0h0m9-2h0m10-1h0m11 4h0m6-2h0m39 0h0m6 1h0m11-2h0m10 1h0m8-1h0m10 0h0m8 3h0m10-3h0m10 3h0m10-1h0m10 0h0m8-1h0m7 1h0m11 1h0m8 0h0m8 0h0m13-4h0m6 4h0m13-1h0m5-3h0m10 4h0m-334 6h0m9 2h0m7 0h0m9-3h0m9 0h0m11-1h0m20 1h0m6 0h0m11 3h0m19-2h0m8-1h0m20-1h0m17 3h0m9 0h0m8-1h0m10 0h0m21 2h0m5-2h0m11 1h0m8 0h0m11 1h0m7-2h0m11 2h0m11-3h0m7 2h0m10-2h0m11 3h0m19-3h0m9 3h0m8-1h0m9-1h0m-327 7h0m9 2h0m9 0h0m9 1h0m10-4h0m10 1h0m6 0h0m10 1h0m9-1h0m12 1h0m9-1h0m9 1h0m10 1h0m27 1h0m6-4h0m12 4h0m19-4h0m5 3h0m12 1h0m8-2h0m13-1h0m6 2h0m20-1h0m8-1h0m9 2h0m9-1h0m10 2h0m9-2h0m11-1h0m5 3h0m10-3h0m10 0h0m9 3h0m-317 6h0m11 2h0m8 0h0m8-3h0m11 0h0m7 0h0m9 3h0m12-4h0m7 3h0m12-1h0m8-1h0m25 2h0m12-3h0m15 1h0m10 1h0m10 2h0m8-3h0m14-1h0m5 2h0m8-1h0m12 2h0m10 0h0m9-3h0m16 2h0m10 2h0m9-3h0m12 2h0m9 0h0m7-1h0m21-1h0m-327 7h0m16 2h0m12 1h0m7 0h0m12 1h0m5-3h0m10 0h0m18-1h0m40 0h0m19 2h0m5 0h0m22 1h0m8 0h0m17 1h0m11-1h0m9 0h0m11 0h0m8 1h0m9-1h0m6-3h0m13 1h0m6 0h0m11-1h0m47 1h0" stroke="#FDD418" stroke-width="9.0" stroke-linecap="round" fill="none"/>
<path transform="scale(.25)" d="M645 614h0m136-2h0m-124 10h0m187 0h0m-61 6h0m63-1h0m-223 108h0m17-1h0m11-1h0m9 2h0m18-1h0m157-2h0m9 3h0m9-2h0m9 2h0m-317 4h0m8 2h0m8 2h0m9-3h0m10 0h0m12 2h0m5-1h0m9 1h0m13-3h0m8 1h0m8 2h0m12-2h0m8 0h0m16 2h0m12-2h0m19 0h0m17 0h0m11 0h0m16 2h0m9 0h0m10 0h0m10 1h0m8-3h0m18 2h0m9 1h0m11-1h0m7 0h0m12 0h0m10-3h0m8 4h0m8-4h0m9 1h0m-329 11h0m22-1h0m27-2h0m7 0h0m9 3h0m10-2h0m11-1h0m9 1h0m18-2h0m12 1h0m7 1h0m7 0h0m11-1h0m8 1h0m18-2h0m12 0h0m19 1h0m9-1h0m6 3h0m9-1h0m12-2h0m9 2h0m15 1h0m10-1h0m13-1h0m5-1h0m11 3h0m17-3h0m9 1h0m-332 9h0m5 1h0m11-3h0m12 4h0m6-1h0m10 0h0m10 0h0m8-3h0m11 2h0m8 1h0m10 1h0m8-1h0m7-3h0m21 1h0m11 1h0m7 2h0m11-1h0m10 0h0m6 1h0m8 0h0m11-3h0m20 2h0m9-2h0m8-1h0m10 0h0m8 0h0m18 4h0m8-1h0m10-1h0m18 0h0m12 2h0m-312 5h0m13-1h0m9 1h0m7 1h0m18 0h0m13-2h0m5 2h0m10-1h0m13 0h0m9 1h0m5-1h0m9 1h0m13-2h0m5 0h0m11 1h0m12 2h0m9-1h0m9 1h0m6 0h0m10-1h0m11-1h0m6 3h0m11-3h0m9 0h0m12 1h0m9 0h0m9 2h0m8-1h0m7-3h0m11 0h0m19 4h0m7 0h0m10-1h0m9 1h0m-324 7h0m8-3h0m7 2h0m12 1h0m8 0h0m7-1h0m10 1h0m10 0h0m11 1h0m10-4h0m8 1h0m6 1h0m13 1h0m6-2h0m12 3h0m6-4h0m12 2h0m10-1h0m8 2h0m8-1h0m8 1h0m11-2h0m10 2h0m10-2h0m8 0h0m11 2h0m8 0h0m8-1h0m8 1h0m10-1h0m29-1h0m9 2h0m9-2h0m7 1h0m9 2h0m-325 5h0m10-1h0m11 4h0m9-2h0m25 2h0m11-2h0m8 1h0m10-1h0m18 1h0m8-2h0m12-1h0m6 3h0m9-2h0m22 2h0m5-2h0m13 0h0m7 3h0m8 0h0m12-2h0m6 0h0m13-1h0m6-1h0m9 2h0m13-2h0m7 1h0m9 1h0m10-1h0m10 1h0m7 2h0m11-4h0m11 2h0m6-1h0m8 0h0m-317 8h0m10-1h0m10 2h0m36-2h0m85 3h0m9 1h0m9-2h0m8 1h0m10-3h0m6 1h0m13 0h0m7 2h0m8-2h0m10-1h0m12 1h0m7 0h0m8 2h0m9-2h0m12 0h0m18 0h0m9-1h0m7 2h0m13 2h0m2 5h0m-285 47h0m26 1h0m37 2h0m12-2h0m63 1h0m-87 8h0m167 2h0m-180 8h0m72-3h0m20 0h0m119 0h0m-280 9h0m10 0h0m209 0h0m83 0h0m-60 7h0m11 2h0m25-1h0m-186 6h0m26 2h0m47-2h0m74 0h0m47 1h0m-194 19h0" stroke="#4A5FB0" stroke-width="9.0" stroke-linecap="round" fill="none"/>
<path transform="scale(.25)" d="M543 788h0m13 1h0m44 1h0m25 1h0m32-1h0m6 0h0m11-1h0m9 1h0m7 0h0m-140 7h0m8 1h0m10 1h0m7-2h0m12-1h0m55 2h0m7 1h0m20-4h0m10 3h0m9-1h0m6 1h0m11-2h0m8 0h0m12-1h0m10 0h0m8 1h0m8-1h0m11 0h0m7 2h0m9-1h0m9 3h0m8-4h0m13 4h0m8-2h0m11-1h0m4 1h0m12 0h0m11-2h0m9 2h0m9-1h0m-329 9h0m11 1h0m7-1h0m11 1h0m10-1h0m9 0h0m10 1h0m16-2h0m8 0h0m13 0h0m7 0h0m18 3h0m10 0h0m11-2h0m5-1h0m10 2h0m9-1h0m10 0h0m11-1h0m7 0h0m13 1h0m6-2h0m8 1h0m12 1h0m10 2h0m8-3h0m10-1h0m9 3h0m9-3h0m9 3h0m8 0h0m19 0h0m19-3h0m-328 10h0m11-1h0m8 2h0m10 1h0m15-4h0m11 1h0m20 2h0m6-2h0m12-1h0m7 2h0m11 2h0m10-1h0m8-2h0m11 1h0m10-1h0m5 2h0m20 0h0m19-2h0m9 1h0m8 0h0m9 2h0m11-4h0m7 1h0m10 1h0m11 1h0m8-1h0m10-1h0m7 0h0m12-1h0m9 0h0m19 3h0m-326 7h0m9 2h0m6 0h0m9-2h0m10-2h0m10 0h0m11 2h0m6-2h0m12 2h0m9-1h0m10-1h0m9 3h0m5 1h0m10-1h0m10 0h0m12-3h0m6 3h0m10-3h0m17 1h0m12 1h0m6-1h0m11 1h0m10 1h0m10-1h0m6 1h0m13 0h0m7 0h0m8 0h0m11 0h0m7 1h0m9-4h0m11 2h0m8-1h0m13 0h0m7-1h0m-316 9h0m7 1h0m12 1h0m6-3h0m10 2h0m9 1h0m9-3h0m10 3h0m8-2h0m9-1h0m29 0h0m7 2h0m29 1h0m9-2h0m12-1h0m7 2h0m11-1h0m9-1h0m9 0h0m7 0h0m8 3h0m11 0h0m12-3h0m8 4h0m7-4h0m10 2h0m11 0h0m7-2h0m9 2h0m9-1h0m12 0h0m16 1h0m-336 6h0m11 2h0m11-2h0m7 1h0m8 2h0m9-2h0m8 1h0m11-2h0m8 1h0m11-1h0m10 3h0m16 0h0m11-3h0m7 3h0m12 0h0m6 1h0m10-3h0m9 3h0m11-2h0m9 1h0m17 0h0m9 0h0m18-3h0m9 3h0m11 1h0m9-3h0m11 2h0m8-3h0m8 3h0m20 0h0m10-1h0m9-2h0m7 1h0" stroke="#F4812F" stroke-width="9.0" stroke-linecap="round" fill="none"/>
<path transform="scale(.25)" d="M569 844h0m10 2h0m5-2h0m22 0h0m9 1h0m18-1h0m7-1h0m10 4h0m29 0h0m10-3h0m6 1h0m12-1h0m6 0h0m8 2h0m21 0h0m10-2h0m7 0h0m11 2h0m6-1h0m20 0h0m10 0h0m7 1h0m12-2h0m27-1h0m8 1h0m9 2h0m11-2h0m-336 7h0m9 2h0m10-1h0m10 2h0m19 1h0m8-4h0m9 2h0m10-1h0m19 0h0m15 0h0m11 2h0m20-2h0m37 1h0m6 1h0m36-3h0m9 1h0m48 0h0m11 0h0m15 2h0m13-3h0m8 0h0m6 1h0m-322 7h0m7 1h0m7 3h0m10-1h0m11 0h0m19 0h0m6-3h0m37 2h0m12 1h0m9-2h0m10 1h0m8-3h0m9 1h0m19 0h0m16 4h0m12-3h0m6 1h0m13 0h0m36-1h0m7 0h0m30 3h0m29-3h0m5-1h0m10 1h0m-327 10h0m36-3h0m19 2h0m22 1h0m7 0h0m10-3h0m10 2h0m8 2h0m9-3h0m20 2h0m14-1h0m13-2h0m19 3h0m9-2h0m6 1h0m9 1h0m10-3h0m65 1h0m11 1h0m28-1h0m-318 8h0m25 2h0m11-1h0m17 1h0m30 0h0m6-1h0m9-2h0m9 2h0m13 0h0m8 1h0m19-3h0m17 0h0m9 0h0m8 1h0m10 2h0m8-1h0m9-1h0m21 0h0m7 2h0m29-3h0m12 0h0m18 0h0m5 2h0m12-2h0m8 3h0m-288 6h0m35 1h0m65-2h0m47 3h0m37-3h0m17 2h0m28 1h0m46-3h0m-289 8h0m8 2h0m38 1h0m35-3h0m91 1h0m32-2h0m9 3h0m64-2h0m-235 10h0m24 1h0m22-3h0m6 1h0m46-1h0m12 3h0m53 0h0m20 0h0m57-4h0" stroke="#7D3C9C" stroke-width="9.0" stroke-linecap="round" fill="none"/>
<text x="297.8" y="134.2" class="L" font-size="10.5" text-anchor="middle">SpaMultiVAE</text>
<text x="297.8" y="147.5" class="L" font-size="10.5" text-anchor="middle">ARI = 0.49</text>
<path transform="scale(.25)" d="M1021 614h0m65 1h0m47-1h0m164 1h0m11-3h0m39 0h0m-310 11h0m8-2h0m39-1h0m6 1h0m10 2h0m37-1h0m9-1h0m41-1h0m5 1h0m39-1h0m11-4h0m15 6h0m57-2h0m-170 10h0m10 1h0m16 0h0m155-4h0m-289 11h0m37 1h0m12-3h0m6 1h0m39-2h0m53 3h0m64-1h0m21 1h0m16-1h0m38-1h0m7 1h0m23 2h0m-320 6h0m18-2h0m19 2h0m10-1h0m27 3h0m26-3h0m10 1h0m66 2h0m38 0h0m30-7h0m5 6h0m-199 8h0m19 0h0m11 0h0m6-2h0m121 3h0m11-3h0m8 2h0m26 0h0m38 1h0m9-2h0m30 1h0m-335 6h0m16 2h0m19-2h0m25 3h0m28-3h0m131 3h0m16-2h0m19 0h0m-216 10h0m9-1h0m26-2h0m39 1h0m26 0h0m13-1h0m89 1h0m8-2h0m22 4h0m33 0h0m10 0h0m-308 6h0m46-1h0m9 0h0m21 1h0m99 1h0m11 1h0m19-1h0m5-6h0m11 5h0m21 1h0m61 0h0m-299 6h0m31 0h0m46 1h0m34 2h0m18-2h0m10 0h0m73 0h0m13-1h0m9 1h0m6 0h0m28 1h0m39 0h0m16-2h0" stroke="#DD1C4B" stroke-width="9.0" stroke-linecap="round" fill="none"/>
<path transform="scale(.25)" d="M1098 614h0m27 0h0m135-2h0m20 1h0m-168 9h0m46 1h0m16-3h0m47 0h0m85 3h0m-264 6h0m27 2h0m18-1h0m45 1h0m119 0h0m11-3h0m-236 9h0m20 0h0m8 2h0m12-2h0m35-1h0m4-4h0m3 4h0m11 3h0m17-2h0m13 2h0m19-2h0m8 0h0m36-1h0m11 3h0m9-1h0m8-1h0m19 0h0m34 2h0m11-2h0m7 1h0m30 0h0m-318 8h0m16 1h0m21-1h0m25 0h0m12 1h0m16-4h0m39 4h0m9-3h0m10-1h0m8 2h0m37 1h0m21 1h0m18-3h0m5 0h0m31 0h0m9-1h0m7 3h0m19 1h0m9-4h0m9 0h0m12 1h0m-326 8h0m6 2h0m9-1h0m9 0h0m8-1h0m14 0h0m71 0h0m11 2h0m8 0h0m8-1h0m30 0h0m16 2h0m45 0h0m29-1h0m18-1h0m27-1h0m-287 9h0m26 2h0m21 0h0m9-3h0m24-1h0m13 2h0m8 0h0m9 2h0m8-1h0m8-2h0m40-1h0m5 0h0m14 3h0m35 1h0m16-3h0m14 3h0m18-2h0m14 1h0m12 0h0m9-3h0m-317 12h0m8 0h0m39-1h0m8 1h0m18 0h0m10-2h0m6 0h0m31-1h0m42 3h0m32-1h0m17-2h0m10 1h0m25 1h0m21 1h0m9-1h0m9-2h0m27-1h0m9 2h0m-338 7h0m22 0h0m8 2h0m11-2h0m33 1h0m19-1h0m9 0h0m11 3h0m10-3h0m6-1h0m11 2h0m10-1h0m29 0h0m28 2h0m14 0h0m19-3h0m39 4h0m10 0h0m6-1h0m9-1h0m20 0h0m9 1h0m-326 7h0m20 2h0m7 0h0m18-1h0m9 1h0m20-3h0m16-1h0m36 1h0m40 1h0m10 0h0m9 2h0m9-2h0m7 2h0m54-1h0m41 0h0m6 1h0m19-1h0m-328 5h0m10 1h0m45-1h0m168 1h0" stroke="#46E2EA" stroke-width="9.0" stroke-linecap="round" fill="none"/>
<path transform="scale(.25)" d="M1042 694h0m16-1h0m9 0h0m19 0h0m21-1h0m7 1h0m20 2h0m35-2h0m11 2h0m9 0h0m8-1h0m11-1h0m9 0h0m8 1h0m8-1h0m21 1h0m7-2h0m18 0h0m11 1h0m7 2h0m19-1h0m10-2h0m10 2h0m10 0h0m7-3h0m-326 9h0m11 1h0m7-2h0m20 3h0m9-2h0m8 3h0m8-1h0m11 0h0m9-2h0m10-1h0m11 4h0m7-2h0m38 0h0m6 1h0m11-2h0m10 1h0m8-1h0m10 0h0m9 3h0m9-3h0m10 3h0m11-1h0m9 0h0m8-1h0m7 1h0m11 1h0m8 0h0m9 0h0m13-4h0m6 4h0m12-1h0m5-3h0m10 4h0m-333 6h0m9 2h0m7 0h0m9-3h0m8 0h0m11-1h0m20 1h0m6 0h0m11 3h0m19-2h0m8-1h0m20-1h0m17 3h0m9 0h0m8-1h0m11 0h0m20 2h0m5-2h0m11 1h0m8 0h0m11 1h0m7-2h0m12 2h0m10-3h0m7 2h0m10-2h0m11 3h0m19-3h0m9 3h0m8-1h0m9-1h0m-327 7h0m9 2h0m9 0h0m9 1h0m11-4h0m9 1h0m6 0h0m10 1h0m10-1h0m11 1h0m10-1h0m8 1h0m10 1h0m27 1h0m6-4h0m12 4h0m19-4h0m6 3h0m11 1h0m8-2h0m13-1h0m6 2h0m20-1h0m8-1h0m9 2h0m9-1h0m10 2h0m9-2h0m11-1h0m5 3h0m10-3h0m10 0h0m9 3h0m-317 6h0m11 2h0m8 0h0m8-3h0m11 0h0m8 0h0m9 3h0m11-4h0m7 3h0m12-1h0m9-1h0m24 2h0m12-3h0m16 1h0m9 1h0m11 2h0m7-3h0m14-1h0m6 2h0m8-1h0m12 2h0m9 0h0m9-3h0m17 2h0m9 2h0m9-3h0m12 2h0m9 0h0m8-1h0m21-1h0m-328 7h0m16 2h0m12 1h0m8 0h0m11 1h0m5-3h0m10 0h0m18-1h0m21 2h0m19-2h0m9 3h0m10-1h0m5 0h0m22 1h0m8 0h0m17 1h0m11-1h0m9 0h0m11 0h0m9 1h0m8-1h0m6-3h0m13 1h0m7 0h0m10-1h0m10 1h0m9 3h0m9-2h0m9 2h0m10-3h0m-22 7h0m16 0h0m10 1h0" stroke="#FDD418" stroke-width="9.0" stroke-linecap="round" fill="none"/>
<path transform="scale(.25)" d="M1103 735h0m-62 8h0m9-3h0m9 0h0m27 2h0m28 0h0m36 0h0m12-2h0m19 0h0m28 0h0m16 2h0m9 0h0m10 0h0m18-2h0m18 2h0m9 1h0m11-1h0m7 0h0m13 0h0m-273 8h0m27-2h0m17 3h0m9-2h0m50-1h0m15 1h0m10-1h0m38-1h0m19 1h0m24 1h0m22 0h0m15 1h0m27-3h0m-295 10h0m28 2h0m6-1h0m20 0h0m27 0h0m10 1h0m36-3h0m11 1h0m7 2h0m21-1h0m6 1h0m40-1h0m27-3h0m7 0h0m18 4h0m9-1h0m-272 6h0m28 1h0m68 0h0m27-2h0m16 1h0m12 2h0m18 0h0m7 0h0m27 1h0m31-2h0m9 0h0m17 1h0m37 1h0m18-1h0m9 1h0m-325 7h0m15-1h0m20 1h0m28 0h0m10 1h0m10-4h0m14 2h0m19-1h0m30 1h0m10-1h0m8 2h0m8-1h0m29 1h0m29 0h0m8 0h0m9-1h0m7 1h0m49 0h0m-235 7h0m9 1h0m9-1h0m44 1h0m9-2h0m27 0h0m28 3h0m18-2h0m13-1h0m6-1h0m9 2h0m20-1h0m9 1h0m10-1h0m10 1h0m18-2h0m25 1h0m-335 8h0m13 1h0m5-1h0m10-1h0m29 3h0m18-3h0m7 4h0m32-1h0m6 0h0m11-1h0m9 1h0m20 0h0m8 1h0m17-1h0m44-2h0m46 0h0m46 1h0m13 2h0m-327 6h0m93 1h0m7 1h0m29-1h0m15 0h0m19-2h0m12-1h0m18 1h0m8-1h0m18 2h0m39 2h0m8-2h0m11-1h0m16 1h0m11-2h0m9 2h0m-320 8h0m11 1h0m28-1h0m9 0h0m10 1h0m25-2h0m12 0h0m25 3h0m11 0h0m10-2h0m5-1h0m29 1h0m11-1h0m20 1h0m6-2h0m8 1h0m12 1h0m28-2h0m9 3h0m10-3h0m8 3h0m8 0h0m-290 7h0m19 1h0m25-3h0m11 1h0m38-1h0m7 2h0m21 1h0m19-1h0m15 1h0m39-2h0m17 1h0m9 2h0m39-1h0m46-3h0m19 3h0m-311 9h0m30-4h0m10 2h0m27-1h0m10-1h0m9 3h0m15 0h0m29 0h0m26-2h0m13 1h0m17 0h0m19 0h0m6 1h0m13 0h0m15 0h0m39-1h0m7-1h0m13 0h0m-309 8h0m19 2h0m6-3h0m10 2h0m18-2h0m27 0h0m29 0h0m7 2h0m57 0h0m11-1h0m9-1h0m16 0h0m31 0h0m25 2h0m18-2h0m9 2h0m9-1h0m28 1h0m-335 6h0m11 2h0m26 1h0m8-2h0m19-1h0m19 0h0m72 1h0m10 3h0m19-1h0m17 0h0m28-3h0m9 3h0m38-3h0m8 3h0m20 0h0m10-1h0m16-1h0m-295 10h0m27-2h0m153 0h0m-67 10h0m29-1h0m16 0h0m83-1h0m-141 9h0m17-2h0m47 1h0m-43 8h0m149 1h0m-134 6h0m36 3h0m66 0h0m-100 6h0m67 2h0m-207 5h0m81 0h0m91 1h0" stroke="#4A5FB0" stroke-width="9.0" stroke-linecap="round" fill="none"/>
<path transform="scale(.25)" d="M1079 613h0m29 1h0m10-2h0m12 11h0m194-1h0m36-1h0m-309 9h0m8 0h0m60 104h0m20 1h0m-115 4h0m9 2h0m38 1h0m6-1h0m22-2h0m7 1h0m21 0h0m7 0h0m64 0h0m56 3h0m83 0h0m-311 8h0m55-3h0m30 0h0m9 1h0m18-2h0m20 2h0m25 0h0m18-2h0m40 0h0m6 3h0m21-3h0m35 2h0m12-1h0m17 2h0m17-3h0m9 1h0m-327 10h0m10-3h0m28 3h0m18-3h0m11 2h0m26 1h0m8-3h0m49 3h0m24 1h0m11-3h0m29 0h0m8-1h0m54 2h0m18 0h0m12 2h0m-299 4h0m9 1h0m25 1h0m13-2h0m5 2h0m11-1h0m12 0h0m14 0h0m9 1h0m18-2h0m32 2h0m25 0h0m12-1h0m16 0h0m9 0h0m30 3h0m16-4h0m10 0h0m26 4h0m-297 4h0m19 3h0m16-1h0m10 1h0m38-2h0m19 2h0m18 1h0m6-4h0m46 3h0m11-2h0m21 0h0m8 0h0m44 1h0m29-1h0m18 0h0m8 1h0m8 2h0m-325 5h0m10-1h0m11 4h0m9-2h0m26 2h0m46-1h0m8-2h0m12-1h0m37 3h0m19-2h0m6 3h0m20-2h0m47-2h0m43 4h0m22-2h0m6-1h0m-289 9h0m109 1h0m30-1h0m18-2h0m6 1h0m13 0h0m7 2h0m18-3h0m12 1h0m7 0h0m8 2h0m21-2h0m18 0h0m9-1h0m-298 11h0m9 1h0m8-2h0m11-1h0m82-1h0m20 2h0m16-1h0m30-1h0m27 0h0m17 1h0m8 3h0m8-4h0m37 2h0m40-1h0m7 0h0m-318 9h0m11 1h0m45-2h0m28 0h0m54 2h0m9-1h0m28-1h0m49 3h0m8-3h0m64 2h0m19-3h0m-317 9h0m18 3h0m46-1h0m7-2h0m29 3h0m18-3h0m21 0h0m25 2h0m28-1h0m28-2h0m7 1h0m10 1h0m19 0h0m10-1h0m8 0h0m11-1h0m-297 10h0m8 2h0m15-2h0m10-2h0m27 0h0m12 2h0m34 2h0m19-1h0m12-3h0m16 0h0m35 1h0m21 2h0m36 0h0m19 0h0m7 1h0m9-4h0m39 0h0m-309 10h0m37 1h0m20 0h0m7-2h0m74 2h0m9-2h0m12-1h0m36 0h0m16 3h0m11 0h0m19 1h0m7-4h0m21 2h0m37-1h0m-298 7h0m7 1h0m26 1h0m19-1h0m47-1h0m56 2h0m34 1h0m47-2h0m67-1h0" stroke="#F4812F" stroke-width="9.0" stroke-linecap="round" fill="none"/>
<path transform="scale(.25)" d="M1116 838h0m16 0h0m18 0h0m12 0h0m7 1h0m102 0h0m20-1h0m28 1h0m-280 7h0m9-2h0m15 0h0m10-1h0m21 2h0m5-1h0m13 0h0m7-1h0m10 4h0m7-1h0m12-2h0m11 3h0m9-3h0m7 1h0m11-1h0m7 0h0m7 2h0m12-1h0m10 1h0m9-2h0m18 2h0m6-1h0m21 0h0m9 0h0m8 1h0m11-2h0m20 0h0m8-1h0m8 1h0m8 2h0m11-2h0m-335 7h0m8 2h0m10-1h0m10 2h0m19 1h0m8-4h0m9 2h0m10-1h0m20 0h0m6 1h0m8-1h0m12 2h0m10-1h0m9-1h0m44 2h0m21-1h0m8 1h0m7-3h0m8 1h0m41 3h0m18-3h0m7 2h0m8 0h0m13-3h0m9 0h0m6 1h0m-323 7h0m7 1h0m8 3h0m9-1h0m11 0h0m19 0h0m6-3h0m11 0h0m10 4h0m9-4h0m7 2h0m12 1h0m10-2h0m18-2h0m16 2h0m11-1h0m10 1h0m6 3h0m18-2h0m13 0h0m7-2h0m17 4h0m12-3h0m7 0h0m19-1h0m11 4h0m8-3h0m12 1h0m9-1h0m5-1h0m10 1h0m-334 8h0m7 2h0m11-1h0m10 0h0m7 2h0m9-4h0m18 2h0m22 1h0m8 0h0m9-3h0m10 2h0m8 2h0m9-3h0m9 1h0m11 1h0m15-1h0m12-2h0m9 0h0m10 3h0m10-2h0m5 1h0m9 1h0m10-3h0m9 2h0m18 1h0m9-3h0m19 4h0m10-3h0m27 1h0m12-1h0m-318 8h0m19 0h0m6 2h0m11-1h0m18 1h0m8-4h0m10 4h0m11 0h0m7-1h0m8-2h0m9 2h0m13 0h0m8 1h0m8-1h0m12-2h0m16 0h0m9 0h0m8 1h0m18 1h0m9-1h0m9 2h0m12-2h0m7 2h0m10-2h0m19-1h0m12 0h0m5 2h0m13-2h0m5 2h0m12-2h0m8 3h0m-326 8h0m20-1h0m18-1h0m26-1h0m9 2h0m30-2h0m7 0h0m8 3h0m10-1h0m10-2h0m7 2h0m12-1h0m18-1h0m10 3h0m7 0h0m22-3h0m8 0h0m17 2h0m11-2h0m8 1h0m9 2h0m8-1h0m11-1h0m10 0h0m9-1h0m8 0h0m11 2h0m-308 9h0m16-1h0m19-2h0m19 3h0m52 0h0m41 0h0m28-4h0m16 4h0m21-4h0m9 3h0m5 1h0m10-2h0m9 0h0m40-1h0m19 1h0m-310 10h0m56-1h0m24 1h0m12 1h0m10-4h0m6 1h0m46-1h0m12 3h0m26-4h0m27 4h0m10-3h0m10 3h0m57-4h0m15 5h0" stroke="#7D3C9C" stroke-width="9.0" stroke-linecap="round" fill="none"/>
<text x="417.6" y="134.2" class="L" font-size="10.5" text-anchor="middle">COSMOS</text>
<text x="417.6" y="147.5" class="L" font-size="10.5" text-anchor="middle">ARI = 0.84</text>
<path transform="scale(.25)" d="M1501 614h0m57-1h0m7 2h0m12-1h0m10 0h0m10-2h0m7 2h0m8 0h0m127-2h0m20 1h0m17 2h0m11-3h0m39 0h0m-310 11h0m8-2h0m39-1h0m6 1h0m10 2h0m12-1h0m19 1h0m6-1h0m9-1h0m12 2h0m17-3h0m12 0h0m5 1h0m29-1h0m10 0h0m12-4h0m14 6h0m49 1h0m8-3h0m10 2h0m36-1h0m-98 7h0m63-1h0" stroke="#DD1C4B" stroke-width="9.0" stroke-linecap="round" fill="none"/>
<path transform="scale(.25)" d="M1521 629h0m10 1h0m7 0h0m10 1h0m18-1h0m45 1h0m12-1h0m10 1h0m16 0h0m82 0h0m-226 6h0m10 1h0m11-1h0m7 2h0m12-2h0m8 2h0m11-3h0m6 1h0m11-1h0m3-4h0m4 4h0m10 3h0m11-4h0m6 2h0m13 2h0m19-2h0m8 0h0m7 1h0m29-2h0m11 3h0m10-1h0m7-1h0m7 0h0m12 0h0m9 1h0m16-1h0m9 2h0m11-2h0m8 1h0m10-2h0m7 1h0m12 1h0m11 1h0m-329 7h0m9-1h0m8 2h0m10-4h0m10 3h0m9-1h0m10-1h0m6 2h0m12 1h0m9 0h0m7-4h0m19 1h0m10 1h0m11 2h0m8-3h0m10-1h0m8 2h0m30 2h0m7-1h0m21 1h0m9 0h0m9-3h0m5 0h0m16-4h0m5 6h0m10-2h0m9-1h0m7 3h0m19 1h0m9-4h0m9 0h0m12 1h0m-326 8h0m6 2h0m9-1h0m9 0h0m9-1h0m13 0h0m6 2h0m19 0h0m11 0h0m6-2h0m29 0h0m12 2h0m7 0h0m9-1h0m29 0h0m17 2h0m19 0h0m11-3h0m8 2h0m7 1h0m18-1h0m10 0h0m18-1h0m10 2h0m9-2h0m9-1h0m21 2h0m-335 6h0m16 2h0m10-1h0m9-1h0m17 3h0m9 0h0m12 0h0m9-3h0m6 0h0m18-1h0m13 2h0m8 0h0m10 2h0m7-1h0m8-2h0m40-1h0m5 0h0m14 3h0m8 1h0m16-2h0m12 2h0m7-2h0m8-1h0m14 3h0m18-2h0m15 1h0m11 0h0m9-3h0m-317 12h0m8 0h0m18 0h0m9-1h0m12 0h0m8 1h0m7-3h0m11 3h0m10-2h0m6 0h0m11 0h0m21-1h0m5 1h0m13-1h0m24 3h0m32-1h0m16-2h0m11 1h0m6 0h0m8-2h0m10 3h0m12 1h0m10 0h0m8-1h0m9-2h0m6 3h0m10 0h0m11-4h0m9 2h0m-338 7h0m11 1h0m11-1h0m8 2h0m11-2h0m15 0h0m9 0h0m10 1h0m11 0h0m7-1h0m9 0h0m11 3h0m10-3h0m6-1h0m11 2h0m10-1h0m29 0h0m6 2h0m11 1h0m11-1h0m8 0h0m6-6h0m0 6h0m10-1h0m9-2h0m12 3h0m27 1h0m10 0h0m7-1h0m8-1h0m9 1h0m12-1h0m8 1h0m-326 7h0m7-1h0m13 3h0m7 0h0m12-3h0m6 2h0m9 1h0m21-3h0m10 1h0m5-2h0m28 4h0m9-3h0m9 1h0m10 0h0m20 0h0m10 0h0m9 2h0m9-2h0m7 2h0m18-2h0m13-1h0m9 1h0m6 0h0m9 1h0m19 0h0m21 0h0m6 1h0m12-1h0m7 0h0m10-2h0m-337 7h0m9 1h0m46-1h0m167 1h0" stroke="#46E2EA" stroke-width="9.0" stroke-linecap="round" fill="none"/>
<path transform="scale(.25)" d="M1521 694h0m16-1h0m9 0h0m19 0h0m21-1h0m7 1h0m20 2h0m36-2h0m10 2h0m9 0h0m8-1h0m11-1h0m9 0h0m8 1h0m8-1h0m21 1h0m7-2h0m18 0h0m11 1h0m7 2h0m19-1h0m10-2h0m10 2h0m10 0h0m7-3h0m-326 9h0m11 1h0m7-2h0m20 3h0m10-2h0m8 3h0m7-1h0m11 0h0m9-2h0m10-1h0m11 4h0m7-2h0m38 0h0m6 1h0m11-2h0m10 1h0m8-1h0m10 0h0m9 3h0m9-3h0m10 3h0m11-1h0m9 0h0m8-1h0m7 1h0m11 1h0m8 0h0m9 0h0m13-4h0m6 4h0m12-1h0m5-3h0m10 4h0m-333 6h0m9 2h0m7 0h0m9-3h0m8 0h0m12-1h0m19 1h0m7 0h0m11 3h0m18-2h0m8-1h0m20-1h0m17 3h0m9 0h0m8-1h0m11 0h0m20 2h0m6-2h0m10 1h0m8 0h0m11 1h0m7-2h0m12 2h0m10-3h0m7 2h0m10-2h0m12 3h0m18-3h0m9 3h0m8-1h0m9-1h0m-327 7h0m10 2h0m8 0h0m9 1h0m11-4h0m9 1h0m6 0h0m11 1h0m9-1h0m11 1h0m10-1h0m8 1h0m10 1h0m27 1h0m6-4h0m13 4h0m18-4h0m6 3h0m11 1h0m8-2h0m13-1h0m6 2h0m20-1h0m8-1h0m9 2h0m9-1h0m11 2h0m8-2h0m12-1h0m4 3h0m11-3h0m9 0h0m10 3h0m-318 6h0m11 2h0m8 0h0m8-3h0m11 0h0m8 0h0m9 3h0m12-4h0m7 3h0m11-1h0m9-1h0m24 2h0m12-3h0m16 1h0m9 1h0m11 2h0m8-3h0m13-1h0m6 2h0m8-1h0m12 2h0m9 0h0m9-3h0m17 2h0m9 2h0m10-3h0m11 2h0m10 0h0m7-1h0m21-1h0m-328 7h0m16 2h0m13 1h0m7 0h0m11 1h0m6-3h0m9 0h0m18-1h0m21 2h0m19-2h0m9 3h0m10-1h0m6 0h0m21 1h0m9 0h0m17 1h0m10-1h0m9 0h0m11 0h0m9 1h0m8-1h0m6-3h0m14 1h0m6 0h0m11-1h0m10 1h0m9 3h0m9-2h0m8 2h0m10-3h0m-22 7h0m16 0h0m10 1h0" stroke="#FDD418" stroke-width="9.0" stroke-linecap="round" fill="none"/>
<path transform="scale(.25)" d="M1582 735h0m16-1h0m20 1h0m-115 4h0m9 2h0m8 2h0m9-3h0m9 0h0m12 2h0m6-1h0m9 1h0m13-3h0m7 1h0m8 2h0m13-2h0m7 0h0m17 2h0m12-2h0m18 0h0m18 0h0m10 0h0m17 2h0m8 0h0m10 0h0m10 1h0m8-3h0m19 2h0m8 1h0m12-1h0m7 0h0m12 0h0m17 1h0m-311 8h0m22-1h0m26-2h0m7 0h0m10 3h0m9-2h0m11-1h0m9 1h0m19-2h0m11 1h0m8 1h0m7 0h0m10-1h0m8 1h0m18-2h0m13 0h0m19 1h0m8-1h0m6 3h0m9-1h0m12-2h0m10 2h0m15 1h0m10-1h0m12-1h0m5-1h0m12 3h0m17-3h0m9 1h0m-333 9h0m6 1h0m11-3h0m11 4h0m6-1h0m10 0h0m10 0h0m9-3h0m10 2h0m8 1h0m10 1h0m8-1h0m8-3h0m20 1h0m11 1h0m7 2h0m11-1h0m10 0h0m6 1h0m8 0h0m11-3h0m21 2h0m8-2h0m8-1h0m11 0h0m7 0h0m18 4h0m9-1h0m9-1h0m19 0h0m12 2h0m-312 5h0m12-1h0m9 1h0m7 1h0m18 0h0m13-2h0m5 2h0m11-1h0m12 0h0m9 1h0m5-1h0m9 1h0m14-2h0m5 0h0m10 1h0m12 2h0m10-1h0m8 1h0m7 0h0m9-1h0m12-1h0m6 3h0m10-3h0m9 0h0m12 1h0m9 0h0m10 2h0m7-1h0m8-3h0m11 0h0m19 4h0m6 0h0m11-1h0m9 1h0m-325 7h0m9-3h0m6 2h0m12 1h0m9 0h0m7-1h0m10 1h0m10 0h0m10 1h0m10-4h0m8 1h0m7 1h0m12 1h0m6-2h0m12 3h0m6-4h0m13 2h0m9-1h0m8 2h0m9-1h0m7 1h0m11-2h0m11 2h0m10-2h0m8 0h0m10 2h0m8 0h0m9-1h0m7 1h0m10-1h0m29-1h0m10 2h0m9-2h0m7 1h0m8 2h0m-325 5h0m10-1h0m11 4h0m9-2h0m26 2h0m10-2h0m9 1h0m9-1h0m18 1h0m8-2h0m12-1h0m6 3h0m9-2h0m22 2h0m5-2h0m14 0h0m7 3h0m7 0h0m12-2h0m6 0h0m13-1h0m6-1h0m9 2h0m13-2h0m7 1h0m9 1h0m10-1h0m11 1h0m7 2h0m11-4h0m10 2h0m6-1h0m8 0h0m-317 8h0m11-1h0m166 0h0m7 1h0m13 0h0m24-1h0" stroke="#4A5FB0" stroke-width="9.0" stroke-linecap="round" fill="none"/>
<path transform="scale(.25)" d="M1501 788h0m13 1h0m25 0h0m20 1h0m17-3h0m7 4h0m32-1h0m7 0h0m10-1h0m9 1h0m7 0h0m13 0h0m8 1h0m10-2h0m8 1h0m35 0h0m9-2h0m21 0h0m8 0h0m7 2h0m10-2h0m12 0h0m17 0h0m9-1h0m7 2h0m13 2h0m-327 6h0m9 1h0m10 1h0m7-2h0m11-1h0m56 2h0m7 1h0m20-4h0m9 3h0m10-1h0m5 1h0m11-2h0m8 0h0m12-1h0m10 0h0m8 1h0m8-1h0m12 0h0m7 2h0m9-1h0m8 3h0m9-4h0m13 4h0m8-2h0m10-1h0m5 1h0m12 0h0m10-2h0m9 2h0m9-1h0m7 0h0m-336 9h0m11 1h0m7-1h0m11 1h0m10-1h0m9 0h0m10 1h0m17-2h0m8 0h0m12 0h0m7 0h0m19 3h0m10 0h0m10-2h0m5-1h0m10 2h0m9-1h0m10 0h0m12-1h0m6 0h0m13 1h0m6-2h0m8 1h0m12 1h0m10 2h0m8-3h0m10-1h0m9 3h0m10-3h0m8 3h0m8 0h0m19 0h0m20-3h0m-329 10h0m12-1h0m8 2h0m9 1h0m16-4h0m10 1h0m20 2h0m7-2h0m11-1h0m7 2h0m11 2h0m10-1h0m8-2h0m12 1h0m9-1h0m6 2h0m19 0h0m19-2h0m10 1h0m7 0h0m9 2h0m11-4h0m7 1h0m11 1h0m10 1h0m9-1h0m9-1h0m8 0h0m11-1h0m9 0h0m19 3h0m-325 7h0m9 2h0m6 0h0m8-2h0m10-2h0m11 0h0m10 2h0m7-2h0m11 2h0m10-1h0m9-1h0m10 3h0m5 1h0m9-1h0m10 0h0m12-3h0m7 3h0m10-3h0m16 1h0m13 1h0m6-1h0m11 1h0m10 1h0m9-1h0m6 1h0m13 0h0m8 0h0m7 0h0m12 0h0m6 1h0m9-4h0m12 2h0m7-1h0m13 0h0m7-1h0m-316 9h0m8 1h0m12 1h0m5-3h0m10 2h0m9 1h0m9-3h0m11 3h0m7-2h0m10-1h0m29 0h0m35 3h0m9-2h0m13-1h0m6 2h0m11-1h0m9-1h0m9 0h0m7 0h0m9 3h0m11 0h0m11-3h0m16 0h0m27 0h0m18 1h0m13 0h0m16 1h0m-301 17h0m136 13h0m-52 24h0m187 1h0m-58 15h0" stroke="#F4812F" stroke-width="9.0" stroke-linecap="round" fill="none"/>
<path transform="scale(.25)" d="M1624 829h0m133 2h0m17-2h0m10 0h0m17 0h0m-299 6h0m11 2h0m10-2h0m7 1h0m9 2h0m8-2h0m9 1h0m10-2h0m9 1h0m10-1h0m10 3h0m16 0h0m11-3h0m8 3h0m11 0h0m7 1h0m10-3h0m9 3h0m11-2h0m8 1h0m17 0h0m9 0h0m19-3h0m9 3h0m10 1h0m9-3h0m11 2h0m9-3h0m7 3h0m12 1h0m8-1h0m10-1h0m10-2h0m6 1h0m-314 10h0m9-2h0m15 0h0m10-1h0m12 1h0m9 1h0m5-1h0m13 0h0m7-1h0m10 4h0m7-1h0m12-2h0m11 3h0m9-3h0m7 1h0m11-1h0m7 0h0m8 2h0m11-1h0m10 1h0m9-2h0m8 0h0m10 2h0m7-1h0m20 0h0m10 0h0m7 1h0m11-2h0m20 0h0m8-1h0m8 1h0m8 2h0m11-2h0m-335 7h0m8 2h0m10-1h0m10 2h0m20 1h0m7-4h0m9 2h0m10-1h0m20 0h0m6 1h0m9-1h0m11 2h0m10-1h0m10-1h0m7 2h0m29-1h0m7 1h0m10-1h0m11 0h0m8 1h0m7-3h0m8 1h0m41 3h0m8-3h0m10 0h0m7 2h0m8 0h0m13-3h0m9 0h0m6 1h0m-323 7h0m7 1h0m8 3h0m9-1h0m11 0h0m20 0h0m6-3h0m10 0h0m10 4h0m9-4h0m7 2h0m13 1h0m9-2h0m10 1h0m8-3h0m8 1h0m8 1h0m21 0h0m7 3h0m11-3h0m7 1h0m12 0h0m7-2h0m18 4h0m12-3h0m6 0h0m19-1h0m11 4h0m9-3h0m11 1h0m9-1h0m5-1h0m10 1h0m-333 8h0m6 2h0m11-1h0m11 0h0m6 2h0m9-4h0m19 2h0m21 1h0m8 0h0m9-3h0m11 2h0m7 2h0m9-3h0m9 1h0m11 1h0m7-2h0m8 1h0m13-2h0m8 0h0m10 3h0m10-2h0m5 1h0m9 1h0m10-3h0m9 2h0m18 1h0m9-3h0m19 4h0m10-3h0m11 1h0m16 0h0m12-1h0m-318 8h0m19 0h0m6 2h0m11-1h0m18 1h0m8-4h0m10 4h0m11 0h0m7-1h0m8-2h0m9 2h0m14 0h0m7 1h0m8-1h0m12-2h0m9 0h0m7 0h0m10 0h0m7 1h0m11 2h0m7-1h0m10-1h0m9 2h0m11-2h0m7 2h0m10-2h0m12 2h0m7-3h0m13 0h0m4 2h0m13-2h0m6 2h0m11-2h0m8 3h0m-326 8h0m20-1h0m18-1h0m26-1h0m10 2h0m29-2h0m15 3h0m10-1h0m10-2h0m8 2h0m12-1h0m7 0h0m10-1h0m10 3h0m7 0h0m22-3h0m8 0h0m9 3h0m9-1h0m10-2h0m8 1h0m9 2h0m8-1h0m11-1h0m20-1h0m7 0h0m11 2h0m-308 9h0m8-3h0m9 2h0m18-2h0m19 3h0m36-3h0m17 3h0m40 0h0m28-4h0m6 2h0m10 2h0m21-4h0m9 3h0m6 1h0m9-2h0m10 0h0m39-1h0m19 1h0m-310 10h0m56-1h0m25 1h0m12 1h0m9-4h0m6 1h0m47-1h0m12 3h0m25-4h0m28 4h0m19 0h0m57-4h0m15 5h0" stroke="#7D3C9C" stroke-width="9.0" stroke-linecap="round" fill="none"/>
<circle cx="473.8" cy="70.3" r="6" fill="#DD1C4B"/>
<text x="493.3" y="74.0" class="D" font-size="10.3">L1</text>
<circle cx="473.8" cy="85.8" r="6" fill="#46E2EA"/>
<text x="493.3" y="89.5" class="D" font-size="10.3">L2/3</text>
<circle cx="473.8" cy="101.2" r="6" fill="#FDD418"/>
<text x="493.3" y="104.9" class="D" font-size="10.3">L4</text>
<circle cx="473.8" cy="116.7" r="6" fill="#4A5FB0"/>
<text x="493.3" y="120.4" class="D" font-size="10.3">L5</text>
<circle cx="473.8" cy="132.1" r="6" fill="#F4812F"/>
<text x="493.3" y="135.8" class="D" font-size="10.3">L6</text>
<circle cx="473.8" cy="147.6" r="6" fill="#7D3C9C"/>
<text x="493.3" y="151.3" class="D" font-size="10.3">HPC/CC</text>
<text x="541.5" y="14.3" class="L" font-size="19.5" font-weight="bold" dy="0.6">b</text>
<path d="M599.2 91.2 599.6 91.2 599.6 64.6 600.6 64.6 600.6 64.6 602.1 64.6 602.1 63.9 603.6 63.9 603.6 63.1 605.1 63.1 605.1 63.9 606.5 63.9 606.5 63.1 607.3 63.1 607.3 62.4 608.8 62.4 608.8 60.9 610.2 60.9 610.2 60.9 611.7 60.9 611.7 60.2 613.2 60.2 613.2 60.2 614.7 60.2 614.7 59.5 616.1 59.5 616.1 49.9 616.9 49.9 616.9 47.6 617.6 47.6 617.6 46.9 619.1 46.9 619.1 46.9 619.8 46.9 619.8 49.9 620.6 49.9 620.6 60.2 621.3 60.2 621.3 49.9 622.0 49.9 622.0 46.9 622.8 46.9 622.8 49.9 623.5 49.9 623.5 60.2 624.3 60.2 624.3 63.1 625.0 63.1 625.0 54.3 625.7 54.3 625.7 52.8 626.5 52.8 626.5 49.1 627.2 49.1 627.2 51.3 628.0 51.3 628.0 54.3 628.7 54.3 628.7 58.7 629.4 58.7 629.4 63.1 630.2 63.1 630.2 48.4 630.9 48.4 630.9 47.6 631.6 47.6 631.6 52.8 632.4 52.8 632.4 53.5 633.9 53.5 633.9 51.3 635.3 51.3 635.3 52.8 636.8 52.8 636.8 54.3 638.3 54.3 638.3 54.3 639.8 54.3 639.8 52.1 641.2 52.1 641.2 54.3 642.7 54.3 642.7 56.5 644.2 56.5 644.2 54.3 645.7 54.3 645.7 53.5 647.1 53.5 647.1 55.8 648.6 55.8 648.6 57.2 650.1 57.2 650.1 54.3 651.6 54.3 651.6 55.8 653.0 55.8 653.0 54.3 654.5 54.3 654.5 57.2 656.0 57.2 656.0 55.0 657.5 55.0 657.5 54.3 659.0 54.3 659.0 57.2 660.4 57.2 660.4 58.0 661.9 58.0 661.9 58.7 663.4 58.7 663.4 60.2 664.9 60.2 664.9 60.9 666.3 60.9 666.3 60.2 667.8 60.2 667.8 62.4 669.3 62.4 669.3 65.4 670.8 65.4 670.8 67.6 672.2 67.6 672.2 68.3 673.7 68.3 673.7 68.3 676.7 68.3 676.7 68.3 678.1 68.3 678.1 67.9 679.6 67.9 679.6 68.3 681.1 68.3 681.1 69.0 682.6 69.0 682.6 68.8 684.1 68.8 684.1 69.0 685.5 69.0 685.5 68.3 687.0 68.3 687.0 68.8 688.5 68.8 688.5 70.5 690.0 70.5 690.0 69.8 691.4 69.8 691.4 70.5 692.9 70.5 692.9 69.8 694.4 69.8 694.4 70.2" fill="none" stroke="#8c564b" stroke-width="1.5" stroke-linejoin="round"/>
<path d="M599.2 49.9 600.6 49.9 600.6 49.9 602.1 49.9 602.1 49.1 604.3 49.1 604.3 49.1 605.8 49.1 605.8 49.1 606.5 49.1 606.5 45.4 607.3 45.4 607.3 41.7 608.0 41.7 608.0 38.0 608.8 38.0 608.8 37.3 610.2 37.3 610.2 37.3 611.7 37.3 611.7 36.6 613.2 36.6 613.2 37.3 613.9 37.3 613.9 38.8 614.7 38.8 614.7 41.0 615.4 41.0 615.4 38.0 616.1 38.0 616.1 35.8 616.9 35.8 616.9 33.6 617.6 33.6 617.6 34.4 618.4 34.4 618.4 37.3 619.1 37.3 619.1 41.0 619.8 41.0 619.8 39.5 620.6 39.5 620.6 38.0 621.3 38.0 621.3 41.0 622.0 41.0 622.0 38.0 622.8 38.0 622.8 35.1 623.5 35.1 623.5 39.5 624.3 39.5 624.3 41.7 625.0 41.7 625.0 37.3 625.7 37.3 625.7 36.6 626.5 36.6 626.5 41.0 627.2 41.0 627.2 38.0 628.0 38.0 628.0 37.3 628.7 37.3 628.7 40.3 629.4 40.3 629.4 41.7 630.2 41.7 630.2 44.7 630.9 44.7 630.9 45.4 631.6 45.4 631.6 46.2 632.4 46.2 632.4 49.9 633.1 49.9 633.1 48.4 633.9 48.4 633.9 46.9 634.6 46.9 634.6 45.4 635.3 45.4 635.3 47.6 636.1 47.6 636.1 50.6 636.8 50.6 636.8 52.8 637.5 52.8 637.5 54.3 638.3 54.3 638.3 52.8 639.0 52.8 639.0 51.3 639.8 51.3 639.8 54.3 640.5 54.3 640.5 55.8 641.2 55.8 641.2 55.8 642.7 55.8 642.7 57.2 644.2 57.2 644.2 57.2 645.7 57.2 645.7 58.7 647.1 58.7 647.1 58.0 648.6 58.0 648.6 57.2 650.1 57.2 650.1 57.2 651.6 57.2 651.6 56.9 653.0 56.9 653.0 57.2 654.5 57.2 654.5 55.8 656.0 55.8 656.0 56.5 657.5 56.5 657.5 54.3 659.0 54.3 659.0 53.5 660.4 53.5 660.4 54.3 661.9 54.3 661.9 55.0 663.4 55.0 663.4 57.2 664.9 57.2 664.9 58.0 666.3 58.0 666.3 58.7 667.8 58.7 667.8 60.2 669.3 60.2 669.3 60.9 670.8 60.9 670.8 62.4 672.2 62.4 672.2 63.1 673.7 63.1 673.7 63.1 675.2 63.1 675.2 63.9 676.7 63.9 676.7 63.1 678.1 63.1 678.1 64.6 679.6 64.6 679.6 64.3 681.1 64.3 681.1 64.6 682.6 64.6 682.6 63.9 684.1 63.9 684.1 64.9 685.5 64.9 685.5 65.4 687.0 65.4 687.0 65.4 688.5 65.4 688.5 64.6 690.0 64.6 690.0 65.4 691.4 65.4 691.4 65.4 692.9 65.4 692.9 66.8 694.4 66.8 694.4 65.4" fill="none" stroke="#9467bd" stroke-width="1.5" stroke-linejoin="round"/>
<path d="M599.2 40.3 601.4 40.3 601.4 40.3 604.3 40.3 604.3 40.3 607.3 40.3 607.3 40.3 608.8 40.3 608.8 40.3 610.2 40.3 610.2 40.3 611.0 40.3 611.0 41.0 611.7 41.0 611.7 41.0 612.5 41.0 612.5 44.7 614.7 44.7 614.7 44.7 617.6 44.7 617.6 44.7 620.6 44.7 620.6 44.2 623.5 44.2 623.5 44.2 626.5 44.2 626.5 44.0 629.4 44.0 629.4 44.0 630.9 44.0 630.9 43.7 632.4 43.7 632.4 44.0 635.3 44.0 635.3 44.2 638.3 44.2 638.3 44.0 641.2 44.0 641.2 44.2 642.7 44.2 642.7 44.2 643.5 44.2 643.5 46.2 644.2 46.2 644.2 44.7 644.9 44.7 644.9 44.0 645.7 44.0 645.7 46.2 647.1 46.2 647.1 46.2 648.6 46.2 648.6 45.4 650.1 45.4 650.1 47.6 650.8 47.6 650.8 46.9 651.6 46.9 651.6 48.1 653.0 48.1 653.0 48.4 654.5 48.4 654.5 48.1 656.0 48.1 656.0 49.1 657.5 49.1 657.5 48.7 659.0 48.7 659.0 49.6 659.7 49.6 659.7 50.2 660.4 50.2 660.4 49.1 661.9 49.1 661.9 49.1 663.4 49.1 663.4 49.9 664.9 49.9 664.9 51.3 666.3 51.3 666.3 52.1 667.8 52.1 667.8 53.5 669.3 53.5 669.3 54.3 670.8 54.3 670.8 55.0 672.2 55.0 672.2 55.8 673.7 55.8 673.7 50.6 674.5 50.6 674.5 54.3 675.2 54.3 675.2 60.2 675.9 60.2 675.9 53.5 676.7 53.5 676.7 58.7 677.4 58.7 677.4 61.7 678.1 61.7 678.1 54.3 678.9 54.3 678.9 60.9 679.6 60.9 679.6 55.8 680.4 55.8 680.4 57.2 681.1 57.2 681.1 60.9 681.8 60.9 681.8 55.8 682.6 55.8 682.6 59.5 683.3 59.5 683.3 61.7 684.1 61.7 684.1 60.2 685.5 60.2 685.5 58.7 686.3 58.7 686.3 60.9 687.0 60.9 687.0 54.3 687.7 54.3 687.7 60.2 688.5 60.2 688.5 60.2 689.2 60.2 689.2 61.7 690.0 61.7 690.0 60.2 690.7 60.2 690.7 63.1 691.4 63.1 691.4 59.5 692.2 59.5 692.2 60.2 692.9 60.2 692.9 60.9 693.6 60.9 693.6 58.0 694.4 58.0 694.4 57.2" fill="none" stroke="#d62728" stroke-width="1.5" stroke-linejoin="round"/>
<path d="M599.2 95.6 600.6 95.6 600.6 96.4 602.1 96.4 602.1 94.9 603.6 94.9 603.6 95.6 605.1 95.6 605.1 94.1 606.5 94.1 606.5 93.4 607.3 93.4 607.3 91.2 608.8 91.2 608.8 90.5 610.2 90.5 610.2 90.5 611.0 90.5 611.0 89.0 611.7 89.0 611.7 84.5 612.5 84.5 612.5 80.9 613.2 80.9 613.2 79.4 614.7 79.4 614.7 79.4 616.1 79.4 616.1 78.6 617.6 78.6 617.6 79.4 619.1 79.4 619.1 79.4 620.6 79.4 620.6 79.7 622.0 79.7 622.0 80.9 622.8 80.9 622.8 83.8 623.5 83.8 623.5 85.3 625.0 85.3 625.0 83.1 626.5 83.1 626.5 82.3 628.0 82.3 628.0 81.6 629.4 81.6 629.4 83.1 630.9 83.1 630.9 82.3 632.4 82.3 632.4 82.0 633.9 82.0 633.9 81.6 635.3 81.6 635.3 82.6 636.8 82.6 636.8 82.3 638.3 82.3 638.3 82.6 639.0 82.6 639.0 80.9 639.8 80.9 639.8 67.6 640.5 67.6 640.5 80.9 641.2 80.9 641.2 82.3 642.0 82.3 642.0 69.0 642.7 69.0 642.7 64.6 643.5 64.6 643.5 80.9 644.2 80.9 644.2 69.0 644.9 69.0 644.9 68.3 645.7 68.3 645.7 68.3 647.1 68.3 647.1 67.9 648.6 67.9 648.6 67.6 650.1 67.6 650.1 67.3 651.6 67.3 651.6 66.8 653.0 66.8 653.0 66.1 654.5 66.1 654.5 66.8 656.0 66.8 656.0 66.1 657.5 66.1 657.5 65.8 659.0 65.8 659.0 65.4 660.4 65.4 660.4 64.9 661.9 64.9 661.9 64.6 663.4 64.6 663.4 64.6 664.9 64.6 664.9 65.4 666.3 65.4 666.3 65.4 667.1 65.4 667.1 63.9 667.8 63.9 667.8 63.9 668.5 63.9 668.5 66.1 669.3 66.1 669.3 66.8 670.8 66.8 670.8 66.1 672.2 66.1 672.2 65.4 673.7 65.4 673.7 66.1 675.2 66.1 675.2 65.4 676.7 65.4 676.7 65.4 678.1 65.4 678.1 66.1 679.6 66.1 679.6 65.8 681.1 65.8 681.1 66.1 682.6 66.1 682.6 66.8 684.1 66.8 684.1 66.4 684.8 66.4 684.8 68.3 685.5 68.3 685.5 69.0 686.3 69.0 686.3 66.8 687.0 66.8 687.0 67.6 688.5 67.6 688.5 66.8 690.0 66.8 690.0 68.3 691.4 68.3 691.4 68.3 692.9 68.3 692.9 68.3 694.4 68.3 694.4 69.0" fill="none" stroke="#3fe3ee" stroke-width="1.5" stroke-linejoin="round"/>
<path d="M599.2 104.5 599.9 104.5 599.9 101.5 600.6 101.5 600.6 99.3 602.1 99.3 602.1 98.6 603.6 98.6 603.6 97.8 605.8 97.8 605.8 97.8 608.8 97.8 608.8 97.4 611.7 97.4 611.7 97.4 614.7 97.4 614.7 97.4 616.1 97.4 616.1 97.1 616.9 97.1 616.9 85.3 618.4 85.3 618.4 85.3 619.1 85.3 619.1 84.5 622.0 84.5 622.0 84.5 625.0 84.5 625.0 84.5 628.0 84.5 628.0 84.5 629.4 84.5 629.4 83.8 629.4 83.8 629.4 75.7 632.4 75.7 632.4 75.7 635.3 75.7 635.3 75.7 638.3 75.7 638.3 75.7 639.0 75.7 639.0 75.0 641.2 75.0 641.2 75.0 644.2 75.0 644.2 75.0 645.7 75.0 645.7 73.5 647.1 73.5 647.1 73.2 650.1 73.2 650.1 73.5 653.0 73.5 653.0 72.7 656.0 72.7 656.0 73.5 659.0 73.5 659.0 73.5 661.9 73.5 661.9 72.7 663.4 72.7 663.4 73.5 664.1 73.5 664.1 74.2 664.9 74.2 664.9 73.5 665.6 73.5 665.6 77.9 666.3 77.9 666.3 73.5 667.1 73.5 667.1 75.7 667.8 75.7 667.8 77.9 669.3 77.9 669.3 78.6 672.2 78.6 672.2 78.6 674.5 78.6 674.5 79.4 675.2 79.4 675.2 80.1 676.7 80.1 676.7 80.9 678.1 80.9 678.1 82.3 679.6 82.3 679.6 81.6 681.1 81.6 681.1 80.6 682.6 80.6 682.6 80.6 683.3 80.6 683.3 83.1 684.1 83.1 684.1 80.9 685.5 80.9 685.5 80.9 687.0 80.9 687.0 80.1 688.5 80.1 688.5 79.4 690.0 79.4 690.0 79.1 691.4 79.1 691.4 78.6 692.9 78.6 692.9 79.1 694.4 79.1 694.4 78.6" fill="none" stroke="#ff7f0e" stroke-width="1.5" stroke-linejoin="round"/>
<path d="M599.2 45.4 599.9 45.4 599.9 46.2 600.6 46.2 600.6 35.8 601.4 35.8 601.4 32.1 602.1 32.1 602.1 29.2 602.9 29.2 602.9 23.3 603.6 23.3 603.6 29.2 604.3 29.2 604.3 24.8 605.1 24.8 605.1 30.7 605.8 30.7 605.8 22.5 607.3 22.5 607.3 21.8 608.8 21.8 608.8 21.1 610.2 21.1 610.2 21.1 611.0 21.1 611.0 20.3 611.7 20.3 611.7 18.1 612.5 18.1 612.5 17.4 613.2 17.4 613.2 22.5 613.9 22.5 613.9 26.2 614.7 26.2 614.7 27.0 616.1 27.0 616.1 27.7 617.6 27.7 617.6 28.5 618.4 28.5 618.4 25.5 619.8 25.5 619.8 26.2 621.3 26.2 621.3 26.2 622.8 26.2 622.8 27.0 623.5 27.0 623.5 25.5 624.3 25.5 624.3 33.6 625.0 33.6 625.0 25.5 625.7 25.5 625.7 35.1 626.5 35.1 626.5 25.5 627.2 25.5 627.2 26.2 628.0 26.2 628.0 25.5 628.7 25.5 628.7 33.6 629.4 33.6 629.4 35.8 630.2 35.8 630.2 32.9 631.6 32.9 631.6 33.6 633.1 33.6 633.1 33.6 633.9 33.6 633.9 32.9 635.3 32.9 635.3 32.9 636.8 32.9 636.8 33.6 638.3 33.6 638.3 33.6 639.0 33.6 639.0 35.8 641.2 35.8 641.2 35.8 642.7 35.8 642.7 37.3 643.5 37.3 643.5 41.7 645.7 41.7 645.7 42.5 646.4 42.5 646.4 41.0 647.1 41.0 647.1 40.3 648.6 40.3 648.6 42.5 650.1 42.5 650.1 43.2 651.6 43.2 651.6 42.2 653.0 42.2 653.0 42.8 654.5 42.8 654.5 41.7 656.0 41.7 656.0 43.2 657.5 43.2 657.5 43.2 659.0 43.2 659.0 45.4 660.4 45.4 660.4 45.4 661.9 45.4 661.9 46.2 663.4 46.2 663.4 44.7 664.9 44.7 664.9 44.0 666.3 44.0 666.3 43.2 667.1 43.2 667.1 44.7 667.8 44.7 667.8 46.9 669.3 46.9 669.3 45.4 670.8 45.4 670.8 46.2 672.2 46.2 672.2 46.2 673.0 46.2 673.0 44.7 674.5 44.7 674.5 44.2 675.2 44.2 675.2 46.2 676.7 46.2 676.7 47.6 678.1 47.6 678.1 48.4 679.6 48.4 679.6 48.4 681.1 48.4 681.1 49.1 681.8 49.1 681.8 49.9 682.6 49.9 682.6 48.4 683.3 48.4 683.3 50.6 684.1 50.6 684.1 50.6 685.5 50.6 685.5 51.3 686.3 51.3 686.3 49.1 687.0 49.1 687.0 51.3 688.5 51.3 688.5 51.3 690.0 51.3 690.0 52.8 691.4 52.8 691.4 53.1 692.9 53.1 692.9 53.5 694.4 53.5 694.4 53.5" fill="none" stroke="#1f77b4" stroke-width="1.5" stroke-linejoin="round"/>
<rect x="595.0" y="13.7" width="103.2" height="94.2" fill="none" stroke="#000" stroke-width="1.0"/>
<line x1="590.6" y1="104.3" x2="595.0" y2="104.3" stroke="#000" stroke-width="1.0"/>
<text x="585.1" y="108.0" class="D" font-size="10.2" text-anchor="end">0.00</text>
<line x1="590.6" y1="78.5" x2="595.0" y2="78.5" stroke="#000" stroke-width="1.0"/>
<text x="585.1" y="82.2" class="D" font-size="10.2" text-anchor="end">0.25</text>
<line x1="590.6" y1="52.7" x2="595.0" y2="52.7" stroke="#000" stroke-width="1.0"/>
<text x="585.1" y="56.4" class="D" font-size="10.2" text-anchor="end">0.50</text>
<line x1="590.6" y1="26.9" x2="595.0" y2="26.9" stroke="#000" stroke-width="1.0"/>
<text x="585.1" y="30.6" class="D" font-size="10.2" text-anchor="end">0.75</text>
<line x1="626.7" y1="107.9" x2="626.7" y2="112.3" stroke="#000" stroke-width="1.0"/>
<text x="626.7" y="126.6" class="D" font-size="10.2" text-anchor="middle">0.5</text>
<line x1="660.8" y1="107.9" x2="660.8" y2="112.3" stroke="#000" stroke-width="1.0"/>
<text x="660.8" y="126.6" class="D" font-size="10.2" text-anchor="middle">1.0</text>
<line x1="694.8" y1="107.9" x2="694.8" y2="112.3" stroke="#000" stroke-width="1.0"/>
<text x="694.8" y="126.6" class="D" font-size="10.2" text-anchor="middle">1.5</text>
<text x="651.5" y="141.3" class="L" font-size="10.7" text-anchor="middle">Resolution (leiden)</text>
<text x="556.3" y="74.0" class="L" font-size="10.7" text-anchor="middle" transform="rotate(-90 556.3 74.0)">ARI</text>
<line x1="704.5" y1="21.0" x2="721.3" y2="21.0" stroke="#1f77b4" stroke-width="2.0"/>
<text x="725.0" y="23.8" class="L" font-size="7.7">COSMOS</text>
<line x1="704.5" y1="32.5" x2="721.3" y2="32.5" stroke="#ff7f0e" stroke-width="2.0"/>
<text x="725.0" y="35.3" class="L" font-size="7.7">WNN</text>
<line x1="704.5" y1="44.0" x2="721.3" y2="44.0" stroke="#3fe3ee" stroke-width="2.0"/>
<text x="725.0" y="46.8" class="L" font-size="7.7">SpatialGlue</text>
<line x1="704.5" y1="55.5" x2="721.3" y2="55.5" stroke="#d62728" stroke-width="2.0"/>
<text x="725.0" y="58.3" class="L" font-size="7.7">SpaceFlow (Omics-1)</text>
<line x1="704.5" y1="67.0" x2="721.3" y2="67.0" stroke="#9467bd" stroke-width="2.0"/>
<text x="725.0" y="69.8" class="L" font-size="7.7">SpaceFlow (Omics-2)</text>
<line x1="704.5" y1="78.5" x2="721.3" y2="78.5" stroke="#8c564b" stroke-width="2.0"/>
<text x="725.0" y="81.3" class="L" font-size="7.7">SpaMultiVAE</text>
<text x="542.5" y="145.3" class="L" font-size="19.5" font-weight="bold" dy="0.6">c</text>
<path d="M601.2 199.5 601.2 199.1 601.1 198.7 601.1 198.4 601.0 198.0 601.0 197.6 600.9 197.2 600.9 196.9 600.8 196.5 600.8 196.1 600.7 195.7 600.6 195.4 600.6 195.0 600.5 194.6 600.5 194.2 600.4 193.9 600.3 193.5 600.3 193.1 600.2 192.7 600.1 192.4 600.1 192.0 600.0 191.6 600.0 191.2 599.9 190.8 599.9 190.5 599.8 190.1 599.8 189.7 599.8 189.3 599.7 189.0 599.7 188.6 599.7 188.2 599.6 187.8 599.6 187.5 599.5 187.1 599.4 186.7 599.2 186.3 599.1 186.0 598.9 185.6 598.6 185.2 598.3 184.8 597.9 184.5 597.5 184.1 597.1 183.7 596.6 183.3 596.1 183.0 595.6 182.6 595.2 182.2 594.8 181.8 594.4 181.5 594.1 181.1 594.0 180.7 593.9 180.3 594.0 180.0 594.1 179.6 594.4 179.2 594.8 178.8 595.3 178.4 595.8 178.1 596.4 177.7 597.0 177.3 597.6 176.9 598.2 176.6 598.7 176.2 599.2 175.8 599.6 175.4 600.0 175.1 600.3 174.7 600.6 174.3 600.8 173.9 601.0 173.6 601.1 173.2 601.2 172.8 601.3 172.4 601.3 172.1 601.4 171.7 601.4 171.3 601.4 170.9 601.5 170.6 601.5 170.2 601.5 169.8 601.5 169.4 601.5 169.1 601.5 168.7 601.5 168.3 601.5 167.9 601.5 167.5 601.5 167.2 601.5 166.8 601.5 166.4 601.5 166.0 601.5 166.0 601.5 199.5Z" fill="#3274a1" stroke="#3a3a3a" stroke-width="0.6"/>
<line x1="601.5" y1="185.2" x2="598.6" y2="185.2" stroke="#3a3a3a" stroke-width="0.45" stroke-dasharray="1.5 1"/>
<line x1="601.5" y1="181.5" x2="594.4" y2="181.5" stroke="#3a3a3a" stroke-width="0.45" stroke-dasharray="1.5 1"/>
<line x1="601.5" y1="179.2" x2="594.4" y2="179.2" stroke="#3a3a3a" stroke-width="0.45" stroke-dasharray="1.5 1"/>
<path d="M601.7 188.2 601.7 187.9 601.8 187.6 601.9 187.3 602.0 186.9 602.1 186.6 602.2 186.3 602.4 186.0 602.6 185.7 602.9 185.4 603.2 185.0 603.5 184.7 603.9 184.4 604.3 184.1 604.8 183.8 605.3 183.5 605.7 183.1 606.2 182.8 606.7 182.5 607.2 182.2 607.7 181.9 608.1 181.6 608.4 181.2 608.7 180.9 608.9 180.6 609.1 180.3 609.1 180.0 609.1 179.7 608.9 179.3 608.7 179.0 608.5 178.7 608.2 178.4 607.8 178.1 607.4 177.8 607.0 177.4 606.6 177.1 606.2 176.8 605.8 176.5 605.4 176.2 605.1 175.8 604.8 175.5 604.5 175.2 604.3 174.9 604.1 174.6 603.9 174.3 603.8 173.9 603.6 173.6 603.5 173.3 603.5 173.0 603.4 172.7 603.4 172.4 603.3 172.0 603.3 171.7 603.3 171.4 603.2 171.1 603.2 170.8 603.2 170.5 603.1 170.1 603.1 169.8 603.1 169.5 603.0 169.2 603.0 168.9 603.0 168.6 602.9 168.2 602.9 167.9 602.8 167.6 602.8 167.3 602.7 167.0 602.6 166.7 602.6 166.3 602.5 166.0 602.5 165.7 602.4 165.4 602.4 165.1 602.3 164.8 602.3 164.4 602.2 164.1 602.2 163.8 602.1 163.5 602.1 163.2 602.0 162.9 602.0 162.5 602.0 162.2 601.9 161.9 601.9 161.6 601.8 161.3 601.8 161.0 601.8 160.6 601.8 160.3 601.7 160.0 601.5 160.0 601.5 188.2Z" fill="#e1812c" stroke="#3a3a3a" stroke-width="0.6"/>
<line x1="601.5" y1="181.2" x2="608.4" y2="181.2" stroke="#3a3a3a" stroke-width="0.45" stroke-dasharray="1.5 1"/>
<line x1="601.5" y1="178.7" x2="608.5" y2="178.7" stroke="#3a3a3a" stroke-width="0.45" stroke-dasharray="1.5 1"/>
<line x1="601.5" y1="174.9" x2="604.3" y2="174.9" stroke="#3a3a3a" stroke-width="0.45" stroke-dasharray="1.5 1"/>
<line x1="601.5" y1="204.3" x2="601.5" y2="208.7" stroke="#000" stroke-width="1.0"/>
<text x="602.0" y="222.4" class="D" font-size="10.0" text-anchor="middle">L4</text>
<path d="M620.4 199.1 620.4 198.7 620.3 198.3 620.3 197.9 620.2 197.5 620.1 197.1 620.1 196.7 620.0 196.3 619.9 195.9 619.9 195.5 619.8 195.2 619.7 194.8 619.6 194.4 619.6 194.0 619.5 193.6 619.4 193.2 619.3 192.8 619.3 192.4 619.2 192.0 619.1 191.6 619.1 191.2 619.0 190.8 618.9 190.4 618.9 190.0 618.8 189.6 618.7 189.2 618.7 188.8 618.6 188.5 618.5 188.1 618.3 187.7 618.2 187.3 618.0 186.9 617.8 186.5 617.5 186.1 617.2 185.7 616.9 185.3 616.5 184.9 616.1 184.5 615.6 184.1 615.1 183.7 614.6 183.3 614.1 182.9 613.6 182.5 613.2 182.2 612.8 181.8 612.5 181.4 612.3 181.0 612.2 180.6 612.2 180.2 612.3 179.8 612.5 179.4 612.9 179.0 613.3 178.6 613.8 178.2 614.4 177.8 615.0 177.4 615.6 177.0 616.2 176.6 616.8 176.2 617.4 175.8 617.9 175.5 618.4 175.1 618.8 174.7 619.2 174.3 619.5 173.9 619.8 173.5 620.0 173.1 620.2 172.7 620.3 172.3 620.5 171.9 620.5 171.5 620.6 171.1 620.7 170.7 620.7 170.3 620.7 169.9 620.7 169.5 620.8 169.2 620.8 168.8 620.8 168.4 620.8 168.0 620.8 167.6 620.8 167.2 620.8 166.8 620.8 166.4 620.8 166.0 620.8 165.6 620.8 165.2 620.8 164.8 620.8 164.4 620.8 164.0 620.8 164.0 620.8 199.1Z" fill="#3274a1" stroke="#3a3a3a" stroke-width="0.6"/>
<line x1="620.8" y1="185.3" x2="616.9" y2="185.3" stroke="#3a3a3a" stroke-width="0.45" stroke-dasharray="1.5 1"/>
<line x1="620.8" y1="181.4" x2="612.5" y2="181.4" stroke="#3a3a3a" stroke-width="0.45" stroke-dasharray="1.5 1"/>
<line x1="620.8" y1="178.6" x2="613.3" y2="178.6" stroke="#3a3a3a" stroke-width="0.45" stroke-dasharray="1.5 1"/>
<path d="M620.8 192.2 620.8 191.9 620.8 191.5 620.8 191.2 620.8 190.8 620.9 190.5 620.9 190.1 620.9 189.8 621.0 189.5 621.0 189.1 621.1 188.8 621.1 188.4 621.2 188.1 621.4 187.7 621.5 187.4 621.7 187.0 621.9 186.7 622.2 186.3 622.5 186.0 622.8 185.6 623.2 185.3 623.6 184.9 624.1 184.6 624.6 184.2 625.1 183.9 625.6 183.5 626.2 183.2 626.7 182.8 627.2 182.5 627.7 182.1 628.2 181.8 628.6 181.4 628.9 181.1 629.2 180.7 629.3 180.4 629.4 180.0 629.4 179.7 629.3 179.3 629.1 179.0 628.9 178.6 628.5 178.3 628.2 177.9 627.8 177.6 627.3 177.2 626.9 176.9 626.5 176.6 626.0 176.2 625.6 175.9 625.2 175.5 624.9 175.2 624.5 174.8 624.2 174.5 624.0 174.1 623.8 173.8 623.6 173.4 623.4 173.1 623.3 172.7 623.2 172.4 623.1 172.0 623.0 171.7 622.9 171.3 622.8 171.0 622.8 170.6 622.7 170.3 622.7 169.9 622.6 169.6 622.6 169.2 622.5 168.9 622.4 168.5 622.4 168.2 622.3 167.8 622.3 167.5 622.2 167.1 622.1 166.8 622.1 166.4 622.0 166.1 621.9 165.7 621.9 165.4 621.8 165.0 621.7 164.7 621.7 164.3 621.6 164.0 621.5 163.6 621.5 163.3 621.4 163.0 621.4 162.6 621.3 162.3 621.3 161.9 621.2 161.6 621.2 161.2 620.8 161.2 620.8 192.2Z" fill="#e1812c" stroke="#3a3a3a" stroke-width="0.6"/>
<line x1="620.8" y1="181.4" x2="628.6" y2="181.4" stroke="#3a3a3a" stroke-width="0.45" stroke-dasharray="1.5 1"/>
<line x1="620.8" y1="178.6" x2="628.9" y2="178.6" stroke="#3a3a3a" stroke-width="0.45" stroke-dasharray="1.5 1"/>
<line x1="620.8" y1="175.2" x2="624.9" y2="175.2" stroke="#3a3a3a" stroke-width="0.45" stroke-dasharray="1.5 1"/>
<line x1="620.8" y1="204.3" x2="620.8" y2="208.7" stroke="#000" stroke-width="1.0"/>
<text x="621.3" y="222.4" class="D" font-size="10.0" text-anchor="middle">L5</text>
<path d="M640.7 200.3 640.7 199.8 640.7 199.3 640.7 198.9 640.7 198.4 640.7 197.9 640.7 197.4 640.7 197.0 640.7 196.5 640.6 196.0 640.6 195.5 640.6 195.1 640.6 194.6 640.6 194.1 640.6 193.6 640.6 193.2 640.6 192.7 640.5 192.2 640.5 191.7 640.5 191.3 640.5 190.8 640.5 190.3 640.5 189.8 640.5 189.4 640.4 188.9 640.4 188.4 640.4 187.9 640.3 187.5 640.3 187.0 640.2 186.5 640.0 186.0 639.8 185.6 639.5 185.1 639.1 184.6 638.6 184.1 638.0 183.7 637.3 183.2 636.6 182.7 635.8 182.2 635.1 181.8 634.5 181.3 634.0 180.8 633.8 180.3 633.8 179.9 634.1 179.4 634.6 178.9 635.2 178.4 636.0 178.0 636.8 177.5 637.5 177.0 638.2 176.5 638.8 176.1 639.2 175.6 639.6 175.1 639.9 174.6 640.1 174.2 640.2 173.7 640.3 173.2 640.3 172.7 640.4 172.2 640.4 171.8 640.4 171.3 640.5 170.8 640.5 170.3 640.5 169.9 640.5 169.4 640.5 168.9 640.5 168.4 640.5 168.0 640.6 167.5 640.6 167.0 640.6 166.5 640.6 166.1 640.6 165.6 640.6 165.1 640.6 164.6 640.7 164.2 640.7 163.7 640.7 163.2 640.7 162.7 640.7 162.3 640.7 161.8 640.7 161.3 640.7 160.8 640.7 160.4 640.7 159.9 640.7 159.4 640.7 158.9 640.7 158.5 640.8 158.0 640.8 158.0 640.8 200.3Z" fill="#3274a1" stroke="#3a3a3a" stroke-width="0.6"/>
<line x1="640.8" y1="182.2" x2="635.8" y2="182.2" stroke="#3a3a3a" stroke-width="0.45" stroke-dasharray="1.5 1"/>
<line x1="640.8" y1="180.3" x2="633.8" y2="180.3" stroke="#3a3a3a" stroke-width="0.45" stroke-dasharray="1.5 1"/>
<line x1="640.8" y1="178.0" x2="636.0" y2="178.0" stroke="#3a3a3a" stroke-width="0.45" stroke-dasharray="1.5 1"/>
<path d="M640.9 198.3 640.9 197.8 640.9 197.4 640.9 196.9 640.9 196.5 640.9 196.0 641.0 195.6 641.0 195.1 641.0 194.7 641.0 194.2 641.0 193.8 641.0 193.3 641.0 192.9 641.0 192.4 641.1 191.9 641.1 191.5 641.1 191.0 641.1 190.6 641.1 190.1 641.1 189.7 641.2 189.2 641.2 188.8 641.2 188.3 641.2 187.9 641.3 187.4 641.3 187.0 641.4 186.5 641.6 186.1 641.8 185.6 642.0 185.2 642.4 184.7 642.8 184.2 643.4 183.8 644.0 183.3 644.7 182.9 645.5 182.4 646.2 182.0 646.8 181.5 647.3 181.1 647.7 180.6 647.8 180.2 647.7 179.7 647.4 179.3 646.9 178.8 646.2 178.4 645.5 177.9 644.8 177.5 644.1 177.0 643.4 176.6 642.9 176.1 642.4 175.6 642.1 175.2 641.8 174.7 641.6 174.3 641.4 173.8 641.3 173.4 641.3 172.9 641.2 172.5 641.2 172.0 641.2 171.6 641.2 171.1 641.1 170.7 641.1 170.2 641.1 169.8 641.1 169.3 641.1 168.9 641.1 168.4 641.0 167.9 641.0 167.5 641.0 167.0 641.0 166.6 641.0 166.1 641.0 165.7 641.0 165.2 641.0 164.8 641.0 164.3 640.9 163.9 640.9 163.4 640.9 163.0 640.9 162.5 640.9 162.1 640.9 161.6 640.9 161.2 640.9 160.7 640.9 160.2 640.9 159.8 640.9 159.3 640.9 158.9 640.9 158.4 640.8 158.0 640.8 158.0 640.8 198.3Z" fill="#e1812c" stroke="#3a3a3a" stroke-width="0.6"/>
<line x1="640.8" y1="182.0" x2="646.2" y2="182.0" stroke="#3a3a3a" stroke-width="0.45" stroke-dasharray="1.5 1"/>
<line x1="640.8" y1="180.2" x2="647.8" y2="180.2" stroke="#3a3a3a" stroke-width="0.45" stroke-dasharray="1.5 1"/>
<line x1="640.8" y1="177.9" x2="645.5" y2="177.9" stroke="#3a3a3a" stroke-width="0.45" stroke-dasharray="1.5 1"/>
<line x1="640.8" y1="204.3" x2="640.8" y2="208.7" stroke="#000" stroke-width="1.0"/>
<text x="641.3" y="222.4" class="D" font-size="10.0" text-anchor="middle">L2/3</text>
<path d="M660.5 183.4 660.5 183.3 660.5 183.2 660.4 183.2 660.4 183.1 660.3 183.0 660.3 182.9 660.2 182.9 660.2 182.8 660.1 182.7 660.0 182.6 659.9 182.6 659.8 182.5 659.7 182.4 659.6 182.4 659.4 182.3 659.3 182.2 659.2 182.1 659.0 182.1 658.8 182.0 658.7 181.9 658.5 181.9 658.3 181.8 658.1 181.7 657.9 181.6 657.7 181.6 657.5 181.5 657.2 181.4 657.0 181.3 656.8 181.3 656.6 181.2 656.4 181.1 656.2 181.1 656.0 181.0 655.8 180.9 655.6 180.8 655.4 180.8 655.3 180.7 655.1 180.6 655.0 180.5 654.9 180.5 654.8 180.4 654.8 180.3 654.7 180.3 654.7 180.2 654.7 180.1 654.7 180.0 654.8 180.0 654.8 179.9 654.9 179.8 655.0 179.8 655.1 179.7 655.3 179.6 655.4 179.5 655.6 179.5 655.8 179.4 656.0 179.3 656.2 179.2 656.4 179.2 656.6 179.1 656.8 179.0 657.0 179.0 657.2 178.9 657.5 178.8 657.7 178.7 657.9 178.7 658.1 178.6 658.3 178.5 658.5 178.4 658.7 178.4 658.8 178.3 659.0 178.2 659.2 178.2 659.3 178.1 659.4 178.0 659.6 177.9 659.7 177.9 659.8 177.8 659.9 177.7 660.0 177.7 660.1 177.6 660.2 177.5 660.2 177.4 660.3 177.4 660.3 177.3 660.4 177.2 660.4 177.1 660.5 177.1 660.5 177.0 660.5 176.9 660.7 176.9 660.7 183.4Z" fill="#3274a1" stroke="#3a3a3a" stroke-width="0.6"/>
<line x1="660.7" y1="181.0" x2="656.0" y2="181.0" stroke="#3a3a3a" stroke-width="0.45" stroke-dasharray="1.5 1"/>
<line x1="660.7" y1="180.1" x2="654.7" y2="180.1" stroke="#3a3a3a" stroke-width="0.45" stroke-dasharray="1.5 1"/>
<line x1="660.7" y1="179.3" x2="656.0" y2="179.3" stroke="#3a3a3a" stroke-width="0.45" stroke-dasharray="1.5 1"/>
<path d="M660.9 183.4 660.9 183.3 660.9 183.2 661.0 183.2 661.0 183.1 661.1 183.0 661.1 182.9 661.2 182.9 661.2 182.8 661.3 182.7 661.4 182.6 661.5 182.6 661.6 182.5 661.7 182.4 661.8 182.4 662.0 182.3 662.1 182.2 662.2 182.1 662.4 182.1 662.6 182.0 662.7 181.9 662.9 181.9 663.1 181.8 663.3 181.7 663.5 181.6 663.7 181.6 663.9 181.5 664.2 181.4 664.4 181.3 664.6 181.3 664.8 181.2 665.0 181.1 665.2 181.1 665.4 181.0 665.6 180.9 665.8 180.8 666.0 180.8 666.1 180.7 666.3 180.6 666.4 180.5 666.5 180.5 666.6 180.4 666.6 180.3 666.7 180.3 666.7 180.2 666.7 180.1 666.7 180.0 666.6 180.0 666.6 179.9 666.5 179.8 666.4 179.8 666.3 179.7 666.1 179.6 666.0 179.5 665.8 179.5 665.6 179.4 665.4 179.3 665.2 179.2 665.0 179.2 664.8 179.1 664.6 179.0 664.4 179.0 664.2 178.9 663.9 178.8 663.7 178.7 663.5 178.7 663.3 178.6 663.1 178.5 662.9 178.4 662.7 178.4 662.6 178.3 662.4 178.2 662.2 178.2 662.1 178.1 662.0 178.0 661.8 177.9 661.7 177.9 661.6 177.8 661.5 177.7 661.4 177.7 661.3 177.6 661.2 177.5 661.2 177.4 661.1 177.4 661.1 177.3 661.0 177.2 661.0 177.1 660.9 177.1 660.9 177.0 660.9 176.9 660.7 176.9 660.7 183.4Z" fill="#e1812c" stroke="#3a3a3a" stroke-width="0.6"/>
<line x1="660.7" y1="181.0" x2="665.4" y2="181.0" stroke="#3a3a3a" stroke-width="0.45" stroke-dasharray="1.5 1"/>
<line x1="660.7" y1="180.1" x2="666.7" y2="180.1" stroke="#3a3a3a" stroke-width="0.45" stroke-dasharray="1.5 1"/>
<line x1="660.7" y1="179.3" x2="665.4" y2="179.3" stroke="#3a3a3a" stroke-width="0.45" stroke-dasharray="1.5 1"/>
<line x1="660.7" y1="204.3" x2="660.7" y2="208.7" stroke="#000" stroke-width="1.0"/>
<text x="661.2" y="222.4" class="D" font-size="10.0" text-anchor="middle">L1</text>
<path d="M680.6 202.3 680.6 201.8 680.6 201.3 680.6 200.8 680.6 200.3 680.6 199.8 680.5 199.3 680.5 198.8 680.5 198.3 680.5 197.8 680.5 197.3 680.5 196.8 680.5 196.3 680.5 195.8 680.5 195.3 680.4 194.8 680.4 194.3 680.4 193.8 680.4 193.3 680.4 192.9 680.4 192.4 680.4 191.9 680.3 191.4 680.3 190.9 680.3 190.4 680.3 189.9 680.3 189.4 680.2 188.9 680.2 188.4 680.1 187.9 680.0 187.4 679.8 186.9 679.6 186.4 679.3 185.9 679.0 185.4 678.5 184.9 678.0 184.4 677.3 183.9 676.6 183.4 675.9 182.9 675.1 182.4 674.5 181.9 673.9 181.4 673.5 180.9 673.3 180.4 673.3 179.9 673.5 179.4 673.9 178.9 674.5 178.4 675.1 177.9 675.9 177.4 676.6 176.9 677.3 176.4 678.0 175.9 678.5 175.4 679.0 174.9 679.3 174.4 679.6 173.9 679.8 173.4 680.0 172.9 680.1 172.4 680.2 171.9 680.2 171.4 680.3 170.9 680.3 170.4 680.3 169.9 680.3 169.4 680.3 168.9 680.4 168.4 680.4 167.9 680.4 167.4 680.4 167.0 680.4 166.5 680.4 166.0 680.4 165.5 680.5 165.0 680.5 164.5 680.5 164.0 680.5 163.5 680.5 163.0 680.5 162.5 680.5 162.0 680.5 161.5 680.5 161.0 680.6 160.5 680.6 160.0 680.6 159.5 680.6 159.0 680.6 158.5 680.6 158.0 680.7 158.0 680.7 202.3Z" fill="#3274a1" stroke="#3a3a3a" stroke-width="0.6"/>
<line x1="680.7" y1="182.4" x2="675.1" y2="182.4" stroke="#3a3a3a" stroke-width="0.45" stroke-dasharray="1.5 1"/>
<line x1="680.7" y1="180.4" x2="673.3" y2="180.4" stroke="#3a3a3a" stroke-width="0.45" stroke-dasharray="1.5 1"/>
<line x1="680.7" y1="177.9" x2="675.1" y2="177.9" stroke="#3a3a3a" stroke-width="0.45" stroke-dasharray="1.5 1"/>
<path d="M680.8 200.3 680.8 199.8 680.9 199.4 680.9 198.9 680.9 198.5 680.9 198.0 680.9 197.6 680.9 197.1 680.9 196.7 680.9 196.2 680.9 195.8 681.0 195.3 681.0 194.9 681.0 194.4 681.0 194.0 681.0 193.5 681.0 193.1 681.0 192.6 681.0 192.1 681.1 191.7 681.1 191.2 681.1 190.8 681.1 190.3 681.1 189.9 681.1 189.4 681.2 189.0 681.2 188.5 681.3 188.1 681.4 187.6 681.5 187.2 681.6 186.7 681.8 186.3 682.1 185.8 682.5 185.4 682.9 184.9 683.4 184.5 683.9 184.0 684.6 183.5 685.2 183.1 685.9 182.6 686.5 182.2 687.1 181.7 687.6 181.3 687.9 180.8 688.1 180.4 688.1 179.9 687.9 179.5 687.6 179.0 687.1 178.6 686.5 178.1 685.9 177.7 685.2 177.2 684.6 176.8 683.9 176.3 683.4 175.8 682.9 175.4 682.5 174.9 682.1 174.5 681.8 174.0 681.6 173.6 681.5 173.1 681.4 172.7 681.3 172.2 681.2 171.8 681.2 171.3 681.1 170.9 681.1 170.4 681.1 170.0 681.1 169.5 681.1 169.1 681.1 168.6 681.0 168.2 681.0 167.7 681.0 167.2 681.0 166.8 681.0 166.3 681.0 165.9 681.0 165.4 681.0 165.0 680.9 164.5 680.9 164.1 680.9 163.6 680.9 163.2 680.9 162.7 680.9 162.3 680.9 161.8 680.9 161.4 680.9 160.9 680.8 160.5 680.8 160.0 680.7 160.0 680.7 200.3Z" fill="#e1812c" stroke="#3a3a3a" stroke-width="0.6"/>
<line x1="680.7" y1="182.6" x2="685.9" y2="182.6" stroke="#3a3a3a" stroke-width="0.45" stroke-dasharray="1.5 1"/>
<line x1="680.7" y1="180.4" x2="688.1" y2="180.4" stroke="#3a3a3a" stroke-width="0.45" stroke-dasharray="1.5 1"/>
<line x1="680.7" y1="177.7" x2="685.9" y2="177.7" stroke="#3a3a3a" stroke-width="0.45" stroke-dasharray="1.5 1"/>
<line x1="680.7" y1="204.3" x2="680.7" y2="208.7" stroke="#000" stroke-width="1.0"/>
<text x="681.2" y="222.4" class="D" font-size="10.0" text-anchor="middle">L6</text>
<path d="M699.8 188.2 699.8 188.0 699.8 187.8 699.8 187.6 699.7 187.4 699.7 187.2 699.7 187.0 699.7 186.8 699.6 186.6 699.6 186.4 699.5 186.2 699.5 186.0 699.4 185.8 699.4 185.6 699.3 185.4 699.2 185.2 699.1 184.9 699.0 184.7 698.9 184.5 698.8 184.3 698.6 184.1 698.4 183.9 698.2 183.7 697.9 183.5 697.7 183.3 697.4 183.1 697.1 182.9 696.8 182.7 696.5 182.5 696.1 182.3 695.8 182.1 695.4 181.9 695.1 181.7 694.8 181.5 694.5 181.3 694.3 181.1 694.0 180.9 693.9 180.7 693.8 180.5 693.7 180.3 693.7 180.1 693.8 179.9 693.9 179.7 694.0 179.4 694.2 179.2 694.5 179.0 694.8 178.8 695.1 178.6 695.4 178.4 695.7 178.2 696.1 178.0 696.4 177.8 696.8 177.6 697.1 177.4 697.4 177.2 697.7 177.0 697.9 176.8 698.2 176.6 698.4 176.4 698.6 176.2 698.7 176.0 698.9 175.8 699.0 175.6 699.1 175.4 699.2 175.2 699.3 175.0 699.4 174.8 699.4 174.6 699.5 174.4 699.5 174.2 699.6 173.9 699.6 173.7 699.7 173.5 699.7 173.3 699.7 173.1 699.7 172.9 699.8 172.7 699.8 172.5 699.8 172.3 699.8 172.1 699.8 171.9 699.9 171.7 699.9 171.5 699.9 171.3 699.9 171.1 699.9 170.9 699.9 170.7 700.0 170.5 700.0 170.3 700.0 170.1 700.1 170.1 700.1 188.2Z" fill="#3274a1" stroke="#3a3a3a" stroke-width="0.6"/>
<line x1="700.1" y1="181.7" x2="695.1" y2="181.7" stroke="#3a3a3a" stroke-width="0.45" stroke-dasharray="1.5 1"/>
<line x1="700.1" y1="180.1" x2="693.7" y2="180.1" stroke="#3a3a3a" stroke-width="0.45" stroke-dasharray="1.5 1"/>
<line x1="700.1" y1="178.4" x2="695.4" y2="178.4" stroke="#3a3a3a" stroke-width="0.45" stroke-dasharray="1.5 1"/>
<path d="M700.2 190.2 700.2 190.0 700.2 189.8 700.3 189.6 700.3 189.4 700.3 189.2 700.3 189.0 700.3 188.8 700.3 188.6 700.4 188.4 700.4 188.2 700.4 188.0 700.4 187.8 700.4 187.6 700.5 187.4 700.5 187.2 700.5 187.0 700.5 186.8 700.6 186.6 700.6 186.4 700.7 186.1 700.7 185.9 700.8 185.7 700.8 185.5 700.9 185.3 701.0 185.1 701.1 184.9 701.2 184.7 701.3 184.5 701.5 184.3 701.6 184.1 701.8 183.9 702.0 183.7 702.3 183.5 702.5 183.3 702.8 183.1 703.1 182.9 703.4 182.7 703.8 182.5 704.1 182.3 704.5 182.1 704.8 181.9 705.1 181.7 705.4 181.5 705.7 181.3 706.0 181.1 706.2 180.9 706.3 180.6 706.4 180.4 706.5 180.2 706.5 180.0 706.4 179.8 706.3 179.6 706.2 179.4 705.9 179.2 705.7 179.0 705.4 178.8 705.1 178.6 704.8 178.4 704.4 178.2 704.1 178.0 703.7 177.8 703.4 177.6 703.1 177.4 702.8 177.2 702.5 177.0 702.3 176.8 702.0 176.6 701.8 176.4 701.6 176.2 701.4 176.0 701.3 175.8 701.2 175.6 701.1 175.4 701.0 175.1 700.9 174.9 700.8 174.7 700.8 174.5 700.7 174.3 700.7 174.1 700.6 173.9 700.6 173.7 700.5 173.5 700.5 173.3 700.5 173.1 700.5 172.9 700.4 172.7 700.4 172.5 700.4 172.3 700.4 172.1 700.1 172.1 700.1 190.2Z" fill="#e1812c" stroke="#3a3a3a" stroke-width="0.6"/>
<line x1="700.1" y1="181.9" x2="704.8" y2="181.9" stroke="#3a3a3a" stroke-width="0.45" stroke-dasharray="1.5 1"/>
<line x1="700.1" y1="180.2" x2="706.5" y2="180.2" stroke="#3a3a3a" stroke-width="0.45" stroke-dasharray="1.5 1"/>
<line x1="700.1" y1="178.6" x2="705.1" y2="178.6" stroke="#3a3a3a" stroke-width="0.45" stroke-dasharray="1.5 1"/>
<line x1="700.1" y1="204.3" x2="700.1" y2="208.7" stroke="#000" stroke-width="1.0"/>
<text x="692.0" y="222.4" class="D" font-size="10.1">HPC/CC</text>
<rect x="591.4" y="155.9" width="118.4" height="48.4" fill="none" stroke="#000" stroke-width="1.0"/>
<line x1="587.0" y1="160.0" x2="591.4" y2="160.0" stroke="#000" stroke-width="1.0"/>
<text x="581.6" y="163.7" class="D" font-size="10.2" text-anchor="end">1</text>
<line x1="587.0" y1="200.3" x2="591.4" y2="200.3" stroke="#000" stroke-width="1.0"/>
<text x="581.6" y="204.0" class="D" font-size="10.2" text-anchor="end">0</text>
<text x="570.5" y="187.4" class="L" font-size="10.4" text-anchor="middle" transform="rotate(-90 570.5 187.4)">Modality weights</text>
<rect x="718.2" y="156.7" width="21.7" height="7.8" fill="#3274a1" stroke="#3a3a3a" stroke-width="0.5"/>
<rect x="718.2" y="171.0" width="21.7" height="7.8" fill="#e1812c" stroke="#3a3a3a" stroke-width="0.5"/>
<text x="742.8" y="163.5" class="L" font-size="10.3">Omics-1</text>
<text x="742.8" y="177.8" class="L" font-size="10.3">Omics-2</text>
<text x="0.5" y="253.5" class="L" font-size="19.5" font-weight="bold" dy="0.6">d</text>
<text x="66.7" y="263.8" class="L" font-size="10.5" text-anchor="middle">SpatialGlue</text>
<line x1="29.3" y1="298.8" x2="29.3" y2="342.7" stroke="#888" stroke-width="0.9"/>
<line x1="29.3" y1="342.7" x2="75.7" y2="342.7" stroke="#888" stroke-width="0.9"/>
<text x="29.0" y="356.6" class="L" font-size="10.6">UMAP 1</text>
<text x="24.8" y="323.8" class="L" font-size="10.6" text-anchor="middle" transform="rotate(-90 24.8 323.8)">UMAP 2</text>
<path transform="scale(.25)" d="M179 1103h0m-17 7h0m0 0h0m11-5h0m1 0h0m1-1h0m0 3h0m3-3h0m13 0h0m0 7h0m1-5h0m1 2h0m2 3h0m5-1h0m0-5h0m1 6h0m0-4h0m1 1h0m4 3h0m5 0h0m11-1h0m-69 8h0m3-1h0m1 1h0m1-6h0m1 7h0m7-5h0m1 3h0m4-1h0m0-3h0m4 0h0m1 5h0m4-5h0m3 4h0m3-5h0m0 1h0m4 3h0m3-3h0m2 5h0m1-6h0m3 1h0m1-1h0m1 4h0m3-1h0m3-2h0m3 0h0m2 3h0m1-1h0m5-3h0m0 2h0m1 2h0m0-1h0m1 4h0m1-5h0m0 4h0m2 0h0m8 0h0m0 1h0m6-1h0m2 1h0m-83 8h0m1 0h0m10-3h0m3 0h0m4 0h0m1 1h0m0 2h0m1-1h0m0-4h0m7-1h0m1-1h0m2 3h0m3 4h0m1-7h0m1 7h0m0-3h0m5-3h0m19 4h0m7-2h0m0 3h0m3-3h0m0 4h0m4-3h0m5 0h0m1-4h0m8 2h0m1 0h0m-87 6h0m11 6h0m5 0h0m4-3h0m11-1h0m1 3h0m0-1h0m8-1h0m2 1h0m3 0h0m1 2h0m3-4h0m1 2h0m0 2h0m8 0h0m4-6h0m16 0h0m2 6h0m1-5h0m0 6h0m1-4h0m1-3h0m-61 11h0m0-1h0m4-1h0m5 0h0m4 1h0m13 3h0m1-4h0m5 0h0m3-1h0m4 7h0m1-2h0m0-1h0m1 1h0m2-5h0m4 0h0m4 7h0m1-1h0m1 1h0m1-2h0m4-5h0m0 2h0m6 0h0" stroke="#46E2EA" stroke-width="5.8" stroke-linecap="round" fill="none"/>
<path transform="scale(.25)" d="M158 1135h0m3 0h0m1 0h0m2-2h0m9 1h0m-36 8h0m8-1h0m2 1h0m6-5h0m4-1h0m6 3h0m2 3h0m6-5h0m4 6h0m0-7h0m2 7h0m2-3h0m4 2h0m0-2h0m2 0h0m1-3h0m1 6h0m5-2h0m0-3h0m1-1h0m0 6h0m2-1h0m1 1h0m5-3h0m4 1h0m3 2h0m8-1h0m-78 3h0m0 5h0m2-3h0m3 2h0m2-1h0m3 0h0m1 1h0m2 0h0m4-2h0m2 1h0m0 2h0m2-3h0m7-3h0m4 3h0m1 1h0m0 2h0m2-6h0m3 4h0m1-4h0m3 1h0m2 5h0m3-4h0m3-2h0m5 6h0m3-1h0m0-2h0m1 3h0m8-6h0m7 7h0m2-5h0m1 0h0m0 2h0m2 3h0m0-7h0m5 1h0m1 4h0m3-5h0m3 4h0m-92 9h0m4-1h0m4 0h0m1-4h0m2 1h0m2 5h0m3-4h0m26 0h0m3 5h0m1-7h0m1 7h0m6-3h0m6 0h0m4-4h0m2 7h0m1 0h0m1-5h0m1 4h0m1-4h0m6-2h0m5 3h0m4 0h0m1 4h0m10-1h0m-93 3h0m6 3h0m3 2h0m2-6h0m1 6h0m12-6h0m5 2h0m2 5h0m2 0h0m4-7h0m6 0h0m1 0h0m1 1h0m1 5h0m1-6h0m3 5h0m1-5h0m2 7h0m5-2h0m1 1h0m0-3h0m2 2h0m3 1h0m1 1h0m7-2h0m2 0h0m1-4h0m4 1h0m1-2h0m4 4h0m5 2h0m1-2h0m1-2h0m-77 7h0m3 3h0m1-4h0m3 7h0m7-7h0m10 2h0m2 3h0m4-4h0m1 6h0m0-2h0m5 2h0m5-4h0m2 0h0m0 1h0m13 1h0m1-1h0m5-1h0m2 4h0m0-4h0m8 3h0m3-5h0m3 0h0m2 5h0m2-1h0m3-1h0m-79 6h0m6 1h0m4 2h0m5-5h0m1 6h0m2-4h0m0 5h0m1-1h0m3-6h0m1 5h0m3 1h0m0-1h0m2 1h0m2-4h0m5 2h0m3 1h0m1-5h0m2 3h0m12-3h0m5 3h0m1 1h0m3 1h0m1 0h0m2 0h0m9-2h0m0 3h0m1-1h0m-50 4h0m2 1h0m3-2h0m5 5h0m0-3h0m1 1h0m4 1h0m1 1h0m14 0h0m0-2h0m5-1h0m1 0h0m3-2h0m0 6h0m3-2h0m3 1h0m-26 3h0m1 0h0m7 0h0" stroke="#FDD418" stroke-width="5.8" stroke-linecap="round" fill="none"/>
<path transform="scale(.25)" d="M234 1138h0m6 2h0m9 1h0m1-2h0m0 3h0m1-6h0m2 0h0m0 2h0m1 3h0m3-4h0m0 1h0m1 2h0m1 3h0m3-1h0m0-2h0m0 0h0m1-3h0m1 0h0m1 6h0m1-5h0m2 5h0m-43 8h0m1-3h0m3-3h0m5 0h0m0 1h0m7-1h0m3 3h0m2-4h0m12 1h0m1 2h0m7 0h0m3 3h0m0 1h0m7 0h0m0-1h0m2 0h0m6-5h0m7 0h0m6 3h0m-70 4h0m2 7h0m0-3h0m0 0h0m0 1h0m0-4h0m8 6h0m2-3h0m4 2h0m1 0h0m2-2h0m0-4h0m3 4h0m5 1h0m2 1h0m0-4h0m0-2h0m5 3h0m5 4h0m1-7h0m0 6h0m7-1h0m2 1h0m3-6h0m1 2h0m2 0h0m6 1h0m0-3h0m5 0h0m3 7h0m7-4h0m1 0h0m1 1h0m1 0h0m1-4h0m5 1h0m0 1h0m4 3h0m3 0h0m-90 4h0m1 5h0m1 0h0m8-2h0m5-4h0m0 1h0m16 4h0m4 1h0m6-6h0m3 3h0m8 0h0m2 1h0m8-2h0m1-2h0m4 3h0m1 3h0m0-5h0m0 4h0m3-5h0m7 3h0m2 0h0m3-2h0m0 5h0m1-1h0m3-5h0m1 0h0m3 7h0m2-4h0m7 0h0m2 1h0m-103 4h0m1 2h0m2 3h0m1 0h0m1-3h0m0 0h0m1-1h0m3 0h0m2 6h0m0-2h0m2 2h0m2 0h0m2 0h0m3 0h0m6-6h0m1 6h0m2-2h0m2 2h0m4-7h0m2 5h0m4 2h0m3-2h0m2-1h0m7-4h0m3 2h0m0 3h0m0-2h0m2 2h0m4 1h0m2-3h0m0 3h0m3-3h0m3 2h0m3-1h0m0 0h0m1 2h0m4-2h0m2-1h0m0-2h0m5 6h0m1-2h0m17 1h0m0-2h0m2-1h0m2 1h0m-101 9h0m4-1h0m9-2h0m2-2h0m3 7h0m1-3h0m1-1h0m4 3h0m0-6h0m2 6h0m2 1h0m0-1h0m3-1h0m4 1h0m1 0h0m0-5h0m0 1h0m7 2h0m3-1h0m1-3h0m3 5h0m2-2h0m1 0h0m1-2h0m4 4h0m3 1h0m2 1h0m2-3h0m0-4h0m1 4h0m4-4h0m4 6h0m1 1h0m7-4h0m2-1h0m7 2h0m1 2h0m2-3h0m1-3h0m1 0h0m5 4h0m1-2h0m2 5h0m1-2h0m-104 5h0m0-1h0m7 2h0m3 0h0m0 3h0m1-3h0m2 1h0m1-2h0m3 3h0m6 1h0m9-2h0m2-3h0m1 1h0m4 1h0m5-2h0m1 2h0m3-2h0m0 3h0m0-1h0m2-2h0m1-1h0m1 3h0m0-3h0m1 5h0m0-4h0m7 0h0m4-1h0m4 0h0m0 1h0m7 1h0m6-2h0m17 6h0m3-5h0m5 4h0m-102 3h0m1 1h0m4 2h0m1-2h0m5 6h0m1 0h0m6-6h0m1 1h0m2 3h0m1-5h0m3 0h0m2 6h0m1-2h0m1-1h0m2 1h0m4-3h0m0-1h0m0 7h0m3-3h0m2 1h0m0 2h0m1-4h0m9-1h0m2 0h0m4 0h0m9 3h0m0 0h0m1 0h0m1-2h0m1 1h0m1 2h0m5-4h0m2-1h0m4 1h0m1 5h0m2-6h0m1-1h0m1 3h0m6-1h0m6-2h0m-88 9h0m7 1h0m4-1h0m2 0h0m2 6h0m5-2h0m5 0h0m3 0h0m5-4h0m9 4h0m2-3h0m0 2h0m2 0h0m1 2h0m1-1h0m0 2h0m1-2h0m5-2h0m2 1h0m0-3h0m1-1h0m4 5h0m4 0h0m2-4h0m5 4h0m7-5h0m-53 11h0m1-2h0m6 5h0m0-4h0m4-1h0m4 1h0m1 3h0m1-2h0m5 2h0m4-1h0m1 1h0m7-2h0m5-1h0m8-2h0" stroke="#F4812F" stroke-width="5.8" stroke-linecap="round" fill="none"/>
<path transform="scale(.25)" d="M330 1199h0m-69 8h0m40-1h0m1 0h0m1-2h0m7 3h0m2-4h0m10 1h0m3-3h0m1 3h0m1-3h0m2 1h0m3 4h0m0-4h0m0 2h0m2 1h0m3-5h0m0 3h0m-86 6h0m1 4h0m0 2h0m9-5h0m4-1h0m5-1h0m1 3h0m2 2h0m1-2h0m10 1h0m1 0h0m2 1h0m6 1h0m7-3h0m0 3h0m2-5h0m4 5h0m2-4h0m1 5h0m8-1h0m3 1h0m4-2h0m1 1h0m3-4h0m4 1h0m1-1h0m13 2h0m-94 6h0m1 2h0m1 2h0m2-2h0m4-4h0m3 2h0m4 1h0m3-2h0m3 5h0m1-2h0m0-2h0m3-1h0m2 4h0m4-4h0m1-1h0m1 4h0m6 2h0m1-4h0m0 0h0m9 1h0m1-1h0m1-2h0m6 6h0m0 0h0m1 1h0m4-1h0m0-1h0m3-1h0m1 3h0m4-7h0m1 5h0m5-3h0m3 4h0m1-5h0m5-1h0m1 2h0m6 2h0m1 0h0m3 0h0m-86 4h0m1 1h0m3 1h0m1 5h0m13 0h0m6 0h0m7 0h0m0-7h0m3 3h0m4-3h0m1 6h0m0-6h0m0 0h0m2 4h0m0-1h0m1 4h0m3 0h0m1-5h0m3 1h0m1-3h0m0 6h0m2-4h0m1-1h0m0 2h0m1 4h0m4-4h0m7 2h0m2-2h0m0 3h0m1-1h0m3-4h0m2 1h0m10 0h0m1 4h0m-75 2h0m1 0h0m8 0h0m0 1h0m9 5h0m1-6h0m4 6h0m9 0h0m5-3h0m9-3h0m1 1h0m3 1h0m6-1h0m1 6h0m2-7h0m6 0h0m6 2h0m4-1h0m-64 9h0m1-2h0m0 0h0m7 3h0m4-2h0m2 1h0m2 2h0m8 1h0m4 1h0m5-1h0m1 1h0m10-2h0m3 1h0m6-4h0m7 0h0m0 0h0m-41 8h0m1 0h0m1 1h0m11 4h0m0-2h0m1-3h0m4-1h0m0 6h0m1-5h0m3 3h0m4-2h0m0 0h0m2-2h0m5 1h0m3 3h0m2-4h0m-19 8h0" stroke="#4A5FB0" stroke-width="5.8" stroke-linecap="round" fill="none"/>
<path transform="scale(.25)" d="M332 1248h0m-17 11h0m2 2h0m0-5h0m1 4h0m2 3h0m3-3h0m1-1h0m2 2h0m0 2h0m1 0h0m4 0h0m0-1h0m3-2h0m1 1h0m1 0h0m6-1h0m1 1h0m0-2h0m2 4h0m2-4h0m4 3h0m-35 4h0m4 2h0m2-4h0m3 5h0m2-1h0m0-4h0m4 4h0m4-1h0m3-2h0m1-1h0m1 6h0m0-4h0m5 4h0m3-1h0m0-1h0m3 1h0m3 1h0m2-1h0m-39 6h0m0-1h0m6-2h0m15 3h0m7-1h0m8 0h0m0 3h0m2-1h0m0-2h0m2-2h0m5 7h0m2-4h0m0-2h0m0 4h0m3 1h0m-12 9h0m6-7h0m0 1h0m2 2h0m2-2h0m12 2h0m4-3h0m-9 11h0m1 0h0m4 3h0m0-3h0m3 1h0m2-3h0m2 6h0m-7 4h0" stroke="#DD1C4B" stroke-width="5.8" stroke-linecap="round" fill="none"/>
<path transform="scale(.25)" d="M392 1289h0m4 3h0m0 3h0m-9 8h0m1-1h0m0-6h0m1 4h0m0 1h0m8 1h0m0-4h0m4 2h0m1-1h0m4 4h0m1-2h0m5 1h0m3 0h0m1 1h0m-38 2h0m1 3h0m0 1h0m2-2h0m1 2h0m4-2h0m2-1h0m1-1h0m1-1h0m1 3h0m0 2h0m1-3h0m2 4h0m3 0h0m2-2h0m2 1h0m4-2h0m0-3h0m2 4h0m10 1h0m3 2h0m-32 2h0m7 1h0m7-2h0m1 0h0m3 5h0m1 0h0m1-3h0m1 1h0m3 2h0m0-3h0m1 3h0m2-5h0m1 0h0m1 5h0m5 1h0m0-4h0m0 5h0m1-2h0m15-2h0m8 2h0m-50 3h0m4 5h0m1-4h0m7 0h0m0 3h0m5 1h0m4-2h0m1 0h0m1 2h0m2-4h0m0 6h0m1-2h0m4-2h0m0 1h0m8 1h0m0 1h0m2-2h0m0 3h0m-14 3h0m3 5h0m3-6h0m1 1h0m2 3h0m2-5h0m2 1h0m2 5h0m3-5h0m1 4h0m1-4h0m0 3h0m-14 4h0m3 2h0" stroke="#7D3C9C" stroke-width="5.8" stroke-linecap="round" fill="none"/>
<path transform="scale(.25)" d="M432 1311h0m4 0h0m-14 6h0m0 0h0m4-4h0m1 4h0m3 2h0m1-7h0m2 7h0m0-1h0m2-5h0m0-1h0m1 2h0m0-1h0m1 3h0m0-2h0m0-1h0m1 1h0m1 2h0m2 3h0m1-5h0m1 1h0m2 4h0m1 0h0m-27 4h0m1-1h0m1-1h0m0 6h0m1-7h0m0 6h0m1-2h0m1-4h0m1 2h0m2 2h0m1 2h0m1 0h0m0-1h0m2-5h0m2 4h0m1-1h0m0 0h0m1-1h0m0 4h0m4-4h0m1 4h0m1 0h0m1-1h0m1 2h0m1-5h0m0 1h0m1 0h0m2-1h0m-24 12h0m0-6h0m3 0h0m0 3h0m2 1h0m1-2h0m1 2h0m1-1h0m0-2h0m2-1h0m5 0h0m1 5h0m2 1h0m1-4h0m0-1h0m1 4h0m1-3h0m0 2h0m1 0h0m1-3h0m1 3h0m-23 4h0m3 0h0m2 5h0m3-5h0m4 2h0m1 5h0m1-3h0m1-1h0m5-1h0m1-1h0m0 1h0" stroke="#7D3C9C" stroke-width="5.8" stroke-linecap="round" fill="none"/>
<text x="186.0" y="263.8" class="L" font-size="10.5" text-anchor="middle">SpaMultiVAE</text>
<line x1="149.4" y1="298.8" x2="149.4" y2="342.7" stroke="#888" stroke-width="0.9"/>
<line x1="149.4" y1="342.7" x2="196.6" y2="342.7" stroke="#888" stroke-width="0.9"/>
<text x="149.1" y="356.6" class="L" font-size="10.6">UMAP 1</text>
<text x="144.8" y="323.8" class="L" font-size="10.6" text-anchor="middle" transform="rotate(-90 144.8 323.8)">UMAP 2</text>
<path transform="scale(.25)" d="M639 1108h0m3-4h0m0 7h0m0-4h0m1 3h0m4-1h0m4-4h0m1 5h0m2-3h0m2-3h0m0 4h0m3-3h0m3 2h0m2 0h0m2 0h0m10 4h0m-46 3h0m0 1h0m4 3h0m4-1h0m3 1h0m2 1h0m0 0h0m4-3h0m1-2h0m1 2h0m0-2h0m6 2h0m1-4h0m0 0h0m1 0h0m4 3h0m2 0h0m2 2h0m5-2h0m1 2h0m5 2h0m4 0h0m-52 2h0m9 1h0m1 5h0m0-7h0m2 3h0m5-1h0m0 4h0m5-3h0m4-1h0m0 4h0m7-4h0m3 3h0m4-4h0m4-1h0m0 1h0m2 5h0m2-1h0m1-5h0m2 0h0m1 7h0m0-3h0m3-3h0m-65 10h0m7 0h0m6-2h0m4 3h0m2 0h0m3 0h0m2-1h0m2 4h0m5-4h0m1-2h0m4 3h0m1 0h0m0-2h0m1 4h0m5 0h0m6-4h0m5 2h0m0-1h0m1-3h0m0 7h0m2-2h0m6-4h0m2 1h0m1 4h0m2 1h0m-68 1h0m3 3h0m0 4h0m3-1h0m1 1h0m3-2h0m1-1h0m3 0h0m0-2h0m3 3h0m1-5h0m1 1h0m3 3h0m1-3h0m1 1h0m7 4h0m1-2h0m1 2h0m1-4h0m2 0h0m7 2h0m1-3h0m0 4h0m9-1h0m1 2h0m3-4h0m1-1h0m1 2h0m1 2h0m0-5h0m3 4h0m0 3h0m-60 2h0m3-1h0m4 5h0m7 2h0m4 0h0m6-1h0m1 0h0m4-4h0m3 2h0m7 0h0m4 3h0m3-3h0m4-1h0m5 0h0m1 3h0m5 0h0m1 0h0m-58 2h0m0 0h0m4 1h0m5 3h0m2 3h0m8 0h0m1-4h0m9-1h0m5-1h0m4 1h0m2 3h0m1 1h0m4-3h0m0 0h0m1-3h0m6 1h0m5 1h0m-46 8h0m0 5h0m1-3h0m0-2h0m2 3h0m0 2h0m0-4h0m0-2h0m1 6h0m5-4h0m1 1h0m1 2h0m2 1h0m2-7h0m5 7h0m3-7h0m1 5h0m2-2h0m3 1h0m3-1h0m0-2h0m4-1h0m5 2h0m2 2h0m-46 8h0m2 2h0m5-4h0m2 1h0m2-3h0m7 0h0m4 2h0m7-2h0m2 6h0m3-2h0m3-3h0m1 6h0m8-3h0m-42 5h0m10-1h0m0 4h0m1-1h0m3 4h0m3-6h0m0 6h0m0-6h0m0-1h0m1 3h0m2-2h0m1 0h0m1 1h0m0 4h0m0-3h0m1 2h0m3 2h0m12-1h0m0 0h0m1-2h0m-33 10h0m2-4h0m1-2h0m12 1h0m9 5h0m-24 6h0m3-2h0m0-2h0m1 6h0m2-4h0m1 5h0m1-6h0m1 6h0m2-4h0m3 3h0m1-4h0m2 4h0m2 1h0m1-5h0m1 3h0m4-4h0m-20 8h0m1 2h0m3 4h0m0-5h0m6-1h0m2 2h0m0-1h0m3-1h0m2 5h0m2-1h0m3-2h0m1 1h0m3 2h0m-23 4h0m1-1h0m5 1h0m1 2h0m1 3h0m3-3h0m1 0h0m10-3h0m0 0h0m-15 12h0m2-1h0m5-3h0m3-1h0m-11 8h0" stroke="#7D3C9C" stroke-width="5.8" stroke-linecap="round" fill="none"/>
<path transform="scale(.25)" d="M787 1159h0m2 0h0m-3 5h0m2-1h0m3 1h0m2 2h0m1-2h0m-68 10h0m23 1h0m0-1h0m17-1h0m1-1h0m1 3h0m1-4h0m2 0h0m2 4h0m12-4h0m7 3h0m5 0h0m-80 7h0m2 0h0m2-5h0m5 4h0m1-2h0m2-2h0m13 7h0m3-1h0m3 0h0m0 1h0m0 0h0m2-7h0m0 4h0m1-2h0m1 2h0m1 0h0m2-3h0m0 1h0m7 3h0m0-5h0m1 7h0m3-5h0m3 5h0m2-1h0m3 1h0m5-3h0m0-2h0m6 1h0m2 4h0m2 0h0m1-7h0m2 6h0m1-4h0m2 1h0m7-1h0m0 1h0m-101 12h0m5-4h0m0 0h0m14 2h0m8 2h0m4 0h0m1 0h0m2-2h0m1-1h0m1-3h0m22 2h0m8 4h0m5-6h0m1 3h0m9-1h0m1-2h0m17-1h0m5 7h0m-107 2h0m0 4h0m1-3h0m5 1h0m2-3h0m2 3h0m5 4h0m0-5h0m4-1h0m1 1h0m5-2h0m0 7h0m1-6h0m1 1h0m2-1h0m0 0h0m1 4h0m10 2h0m1 0h0m5-7h0m4 7h0m1 0h0m0-3h0m1-2h0m6 5h0m4-6h0m2 5h0m4-3h0m3-3h0m1 1h0m0 3h0m2-4h0m11 5h0m1-1h0m7 1h0m2 2h0m1-1h0m1 0h0m5-3h0m3 3h0m1 1h0m2-3h0m1 2h0m0-5h0m-112 10h0m1-2h0m1 1h0m2-2h0m0 2h0m1 5h0m3 0h0m1-6h0m5-1h0m2 2h0m0 0h0m4 1h0m10-3h0m2 5h0m1 0h0m0 2h0m6 0h0m1-7h0m5 3h0m1 4h0m8 0h0m5-5h0m3 0h0m1 1h0m3 0h0m4 0h0m2 3h0m1-6h0m14 6h0m1 0h0m1-4h0m3-1h0m1 2h0m6 1h0m5-4h0m5 1h0m-114 12h0m8-4h0m5 4h0m3-5h0m2 3h0m1 3h0m2 0h0m7-3h0m3 4h0m5-3h0m5-2h0m7 5h0m1-4h0m1 0h0m2-1h0m2 1h0m3-2h0m7 1h0m1 0h0m3 2h0m0 3h0m1-7h0m6 1h0m6 4h0m1-3h0m1 5h0m1-4h0m2 0h0m4-3h0m1 1h0m1 4h0m3-1h0m1 2h0m3-6h0m1 2h0m1 2h0m5 1h0m5 2h0m3-6h0m-110 8h0m2 3h0m1 1h0m3-3h0m7 5h0m7-5h0m0-1h0m0-1h0m2 1h0m3 3h0m8-1h0m2 4h0m1-5h0m1 1h0m1 2h0m2 2h0m23 0h0m5-7h0m7 2h0m1 2h0m0-1h0m0-2h0m1 2h0m0-1h0m1 0h0m1 0h0m3-2h0m2 6h0m4-4h0m2 5h0m4-6h0m1-1h0m4 3h0m-91 9h0m2 2h0m3-3h0m5 1h0m0 2h0m6-1h0m3-4h0m2 3h0m2 1h0m4-3h0m1 5h0m0-3h0m9-2h0m1 1h0m3 0h0m4 4h0m1-6h0m0 2h0m0 0h0m4 2h0m1 2h0m7-4h0m2 1h0m4-1h0m0 3h0m1-4h0m4 1h0m2 1h0m5 2h0m4 0h0m3-2h0m1 0h0m0-3h0m-77 8h0m12 1h0m1 2h0m1-1h0m1-2h0m5 5h0m3-3h0m2 4h0m2-1h0m2-6h0m1 7h0m4-2h0m0-5h0m4 4h0m1-4h0m2 0h0m5 1h0m1 5h0m4 0h0m2 1h0m4 0h0m2-1h0m4-2h0m2 2h0m1-2h0m1 2h0m3-6h0m2 0h0m-72 11h0m3-2h0m2 2h0m9-2h0m1 1h0m0-2h0m8 5h0m10-3h0m2 2h0m1-1h0m1 3h0m1-1h0m5 2h0m4-5h0m2 4h0m9-6h0m-46 8h0m2 0h0m4 2h0m1 0h0m1 5h0m3-4h0m2 3h0m3 1h0m4 0h0m5-6h0m4 2h0m3-1h0m2 5h0m1 0h0m2-1h0m3-1h0m0 0h0m-29 7h0m2-3h0m2 5h0m0-6h0m1 2h0m2 2h0m1 2h0m0-6h0m6 5h0m2-3h0m3 3h0m0 0h0m1-2h0m1 4h0m4-7h0m-5 11h0m1 1h0" stroke="#F4812F" stroke-width="5.8" stroke-linecap="round" fill="none"/>
<path transform="scale(.25)" d="M692 1229h0m14 2h0m2 0h0m-19 1h0m15 6h0m0-2h0m2-1h0m2-3h0m1 6h0m1-4h0m0-1h0m3 3h0m6 1h0m2 2h0m-43 8h0m2-2h0m1-1h0m3 2h0m2-3h0m0-1h0m0-1h0m1 1h0m3 2h0m1 3h0m2 0h0m2 0h0m9-3h0m2-4h0m3 0h0m2 6h0m1-1h0m1 2h0m3 0h0m3-4h0m4 1h0m1-3h0m2 5h0m2-4h0m0 0h0m-51 8h0m9 5h0m7-3h0m2 1h0m3-2h0m2-2h0m6 2h0m10-3h0m3 1h0m5 0h0m5 6h0m0-6h0m3 2h0m0 4h0m1-7h0m1 2h0m0 4h0m6 1h0m4-2h0m-68 3h0m2 5h0m5-1h0m7 3h0m1-5h0m4 1h0m2 3h0m4 1h0m1 0h0m1-3h0m8-4h0m3 7h0m2-5h0m2 0h0m1 0h0m1 2h0m6-4h0m0 4h0m8 3h0m5-4h0m0-3h0m4 3h0m1 1h0m6-2h0m1 5h0m-76 8h0m2-2h0m9 1h0m5-2h0m10-2h0m2 1h0m2 1h0m6-3h0m0-1h0m1 5h0m3-5h0m0 6h0m4 1h0m7 0h0m4-7h0m2 7h0m0-3h0m1-1h0m2 0h0m6 0h0m5 3h0m6 1h0m1 0h0m3 0h0m3-3h0m3-1h0m-88 7h0m1 5h0m0-5h0m2-1h0m3 2h0m4 2h0m2-1h0m0-3h0m0 2h0m2 4h0m5 0h0m1-5h0m2 0h0m9 4h0m3-4h0m1 0h0m5 2h0m3 1h0m2-5h0m5 4h0m2-4h0m3 6h0m3-3h0m10 0h0m8 3h0m5-5h0m2 3h0m1-4h0m2 1h0m2-1h0m0 1h0m3 1h0m2 4h0m-95 3h0m5 5h0m1-4h0m0 1h0m7-1h0m3-2h0m4 4h0m0-1h0m9-3h0m2 6h0m2-4h0m2 0h0m7 0h0m3 1h0m5-1h0m4 4h0m2 0h0m4-4h0m0 0h0m3-2h0m2 2h0m1 0h0m5 5h0m4-7h0m4 4h0m3 2h0m4 0h0m2-1h0m1-4h0m0 4h0m1-4h0m1 1h0m0 0h0m4 2h0m0-2h0m2 2h0m-86 8h0m1-2h0m2 3h0m6-2h0m0-2h0m3 6h0m1-4h0m2-3h0m2 7h0m4-7h0m0 5h0m1-4h0m1 4h0m1 1h0m7 1h0m4-2h0m4 2h0m1-2h0m1-4h0m4 0h0m1 2h0m3 0h0m1 0h0m1 1h0m9-4h0m2 6h0m2-2h0m3 3h0m2-5h0m1 3h0m9 2h0m1-2h0m2-1h0m4 0h0m0-4h0m-92 9h0m5 2h0m2-2h0m2 0h0m1 5h0m3-6h0m4 2h0m3 2h0m1-4h0m7 2h0m2-1h0m1-1h0m0 6h0m3 1h0m1-2h0m0-1h0m5-1h0m4 1h0m3-2h0m3-2h0m2 4h0m2-3h0m0 4h0m0 1h0m1-5h0m3 5h0m3-5h0m5 0h0m0 0h0m7 5h0m4-6h0m2 7h0m3-1h0m0 0h0m3-5h0m3 2h0m0 3h0m1-5h0m1 5h0m1 1h0m-85 3h0m1 0h0m4 5h0m3-4h0m1-1h0m0 3h0m4-5h0m0 2h0m6-1h0m6 2h0m0-3h0m1 7h0m4-4h0m1 4h0m9 0h0m0-4h0m0 3h0m5-2h0m1 1h0m2 2h0m7-3h0m3-1h0m0 0h0m0 2h0m5-4h0m1 0h0m1 2h0m3 4h0m3-7h0m4 1h0m5 3h0m1 1h0m1 0h0m4-4h0m-80 9h0m1-1h0m1 0h0m3 4h0m0 0h0m3-5h0m2 0h0m0 7h0m3-3h0m0 0h0m2 2h0m3-3h0m2 1h0m1-4h0m0 1h0m3 0h0m9 6h0m1-6h0m1-1h0m3 1h0m1-1h0m1 5h0m5 0h0m0-5h0m7 1h0m2 4h0m5-2h0m4 2h0m1-2h0m0 4h0m3-4h0m2 3h0m1-3h0m1 4h0m1-6h0m0 3h0m5-4h0m1 4h0m-64 6h0m1-2h0m1 2h0m1 0h0m2-1h0m4-1h0m1 7h0m6-2h0m1 0h0m6-4h0m13 5h0m10-1h0m5 1h0m0-1h0m3-1h0m4-1h0m1-1h0m-49 6h0m5 6h0m7 0h0m2-5h0m4 5h0m5-6h0m0 5h0m4 0h0m2-2h0m6-2h0m2 4h0m3 2h0m-22 1h0m3 0h0m1 1h0m6 2h0m5 3h0" stroke="#4A5FB0" stroke-width="5.8" stroke-linecap="round" fill="none"/>
<path transform="scale(.25)" d="M783 1214h0m19 1h0m0-2h0m3 2h0m4-3h0m14 3h0m-45 7h0m1-3h0m2 4h0m4-6h0m10 5h0m2-5h0m5 5h0m2-3h0m1 2h0m1 2h0m6-1h0m5-5h0m9 6h0m1-4h0m2 3h0m1 1h0m0-1h0m-61 2h0m1 1h0m1 5h0m0-3h0m2 3h0m3 0h0m2-2h0m9-1h0m4-1h0m5 4h0m4 1h0m6-2h0m2-1h0m2 0h0m2 3h0m3-7h0m2 5h0m3 1h0m2-2h0m0-3h0m14 0h0m-70 7h0m1 6h0m0 0h0m0-1h0m9 2h0m3-5h0m3 0h0m1 0h0m1 1h0m1-2h0m0 5h0m2 0h0m3-5h0m1 0h0m1-1h0m5 0h0m0 6h0m3 1h0m1-3h0m1 3h0m1-4h0m6 3h0m7 0h0m3 1h0m6-3h0m1-4h0m1 7h0m0-5h0m5 4h0m3-5h0m6 4h0m-70 3h0m0 5h0m0-2h0m1 4h0m2 0h0m2-4h0m1 2h0m6-3h0m0 4h0m6 1h0m5-4h0m1-1h0m2-1h0m3 0h0m1 0h0m0 3h0m5 2h0m0 0h0m2-4h0m2 2h0m1 3h0m2-4h0m1-2h0m1-1h0m0 6h0m0-1h0m4-3h0m6-2h0m0 2h0m10 4h0m5-2h0m-73 6h0m8-2h0m2 4h0m1 0h0m7 1h0m1-1h0m2 2h0m2-2h0m3-4h0m1 0h0m0 2h0m2 1h0m6-3h0m1 7h0m4-7h0m0 2h0m2 1h0m2 2h0m0-2h0m1-3h0m4 0h0m0 4h0m8 3h0m0 0h0m1-5h0m9 0h0m2-2h0m2 3h0m1 1h0m2 3h0m-72 8h0m8-7h0m2 7h0m2 0h0m0-3h0m2-4h0m6 2h0m1-2h0m4 5h0m3 0h0m3-3h0m1 4h0m1-4h0m1 0h0m1-1h0m2-1h0m1 4h0m3 2h0m1-3h0m4 4h0m3-6h0m3 5h0m4 0h0m2-2h0m3-4h0m0 7h0m4-1h0m0-2h0m7-2h0m-69 7h0m3 3h0m3 2h0m5-6h0m0 4h0m1 3h0m0-4h0m0-1h0m3 3h0m3 1h0m1 0h0m8-5h0m3 2h0m5 3h0m2-6h0m3 2h0m1-2h0m1 1h0m0 5h0m1-2h0m1-4h0m6 0h0m8 5h0m1-4h0m3 4h0m0 2h0m1-6h0m1 5h0m3-2h0m1 1h0m2-4h0m1 1h0m-75 7h0m4 2h0m1 4h0m2-4h0m0 0h0m0-3h0m3 1h0m1 5h0m0 1h0m2 0h0m4-7h0m1 7h0m1-2h0m6 2h0m4-2h0m2 1h0m0-1h0m3-5h0m1 3h0m2-1h0m8 3h0m2-5h0m7 6h0m0 1h0m1-1h0m4 1h0m-48 8h0m3-6h0m1 0h0m6 2h0m4-2h0m2 1h0m1 0h0m3 2h0m3 3h0m0-6h0m2-1h0m0 7h0m9-7h0m5 4h0m2 0h0m0 3h0m8-7h0m2 5h0m1-5h0m5 0h0m3 5h0m-72 10h0m1 0h0m2-3h0m1 3h0m5-6h0m2 4h0m8-1h0m9 1h0m1-4h0m1 2h0m5 3h0m1 0h0m1 1h0m7 0h0m1-3h0m0-1h0m2 0h0m2-1h0m1 0h0m3 4h0m2 1h0m0-4h0m1 3h0m2-2h0m5 1h0m8-2h0m-65 7h0m3 2h0m5 3h0m2-4h0m1-1h0m4 3h0m0 1h0m2 1h0m0-7h0m0 7h0m3-2h0m1-4h0m3 4h0m7-4h0m0 0h0m0 6h0m10-6h0m1 2h0m1 2h0m0-4h0m4-1h0m3 4h0m3 0h0m1-4h0m1 3h0m1-3h0m2 2h0m0 4h0m1-4h0m6 5h0m3-7h0m-70 12h0m1 2h0m6-6h0m2 3h0m7 4h0m1 0h0m1-6h0m4 0h0m2 1h0m7 5h0m1 0h0m3-1h0m3-1h0m0-2h0m4 1h0m2-2h0m0 3h0m3-3h0m6-2h0m1 6h0m1 1h0m1-3h0m7 1h0m2-3h0m2 2h0m-63 10h0m8-6h0m2 7h0m1-5h0m3-2h0m1 0h0m0 1h0m4 2h0m2-1h0m5 4h0m8-4h0m3 2h0m7-1h0m5 4h0m1-5h0m3 1h0m6-2h0m1 5h0m-55 5h0m1-1h0m0-2h0m6 0h0m7 4h0m2 3h0m2-6h0m3 2h0m2-1h0m20 3h0m3-4h0m4 2h0m2-1h0m-42 6h0m2 1h0m3 0h0m2-1h0m8 0h0m5 5h0m7-4h0m6-1h0" stroke="#FDD418" stroke-width="5.8" stroke-linecap="round" fill="none"/>
<path transform="scale(.25)" d="M863 1191h0m2-1h0m0-2h0m10-2h0m2 4h0m5 0h0m5-2h0m1 3h0m7 0h0m-49 8h0m7-4h0m6-2h0m1 1h0m7 0h0m5 3h0m1 0h0m6-3h0m4 4h0m2-3h0m2-1h0m1 2h0m7 3h0m-55 7h0m8 1h0m2-5h0m2 1h0m4-1h0m1 3h0m3-3h0m6 4h0m4-1h0m7-1h0m1 0h0m2 2h0m3-2h0m3 3h0m1-7h0m1 1h0m1 3h0m2 3h0m1 0h0m6-4h0m2 0h0m1 0h0m-66 12h0m16-4h0m0 0h0m4 1h0m1-3h0m2 0h0m0 0h0m4 1h0m2 3h0m2 0h0m13-4h0m1 1h0m4-2h0m1 5h0m1 0h0m3-3h0m3-1h0m8 3h0m-62 7h0m1 3h0m3-6h0m3 3h0m4-1h0m0 4h0m4-4h0m3 2h0m0-4h0m9 6h0m2-4h0m0 2h0m2 0h0m1 1h0m1-2h0m1-3h0m3 4h0m1-1h0m0 2h0m0-1h0m3 2h0m3-1h0m4 0h0m3 2h0m4-7h0m6 1h0m4 3h0m-58 8h0m1 2h0m1-3h0m2-1h0m1 1h0m1 2h0m9-2h0m1 3h0m7 1h0m0-6h0m1 3h0m0-3h0m3 3h0m1 2h0m7-6h0m5 0h0m2 6h0m5-4h0m8-1h0m0 3h0m0-3h0m1 2h0m1 3h0m-62 4h0m1 1h0m0 3h0m0 0h0m0-3h0m1 2h0m4 0h0m0-1h0m1 3h0m3-1h0m1 0h0m3 1h0m1-5h0m6-1h0m1 3h0m8 2h0m1-1h0m1-2h0m5 2h0m0 1h0m3 1h0m0-2h0m3-4h0m0 5h0m8-1h0m0-2h0m5 4h0m2-6h0m2-1h0m1 2h0m2-1h0m2-1h0m-64 14h0m2-4h0m4 2h0m2 2h0m0-1h0m0-2h0m1 1h0m2 3h0m9-7h0m1 0h0m2 7h0m0-4h0m18 1h0m10-1h0m1 3h0m1-4h0m1-1h0m5 6h0m0-6h0m-55 8h0m1-1h0m0 0h0m3 2h0m0 5h0m1-2h0m1-2h0m2-1h0m2 4h0m4-2h0m1 0h0m1 1h0m3-3h0m3 0h0m2 3h0m3-3h0m1 5h0m2-4h0m4-3h0m5 6h0m0 1h0m7-7h0m0 4h0m0-4h0m1 4h0m1-2h0m-48 8h0m0 0h0m2 1h0m1 0h0m0 4h0m2-6h0m2 0h0m3 4h0m1-4h0m8 5h0m2-4h0m4 5h0m1-5h0m1-2h0m5 6h0m-23 5h0m10 0h0m1 1h0" stroke="#DD1C4B" stroke-width="5.8" stroke-linecap="round" fill="none"/>
<path transform="scale(.25)" d="M899 1245h0m6-4h0m4 3h0m4 3h0m-12 5h0m0 0h0m2 0h0m1 2h0m3 1h0m3-1h0m1-3h0m2 1h0m-27 10h0m6-1h0m4-5h0m3 6h0m4 1h0m1-5h0m2-2h0m0 0h0m1 1h0m3 3h0m0 1h0m0-2h0m5 1h0m3 2h0m4-2h0m-65 11h0m5-1h0m1 0h0m6-1h0m1-2h0m1-1h0m1 2h0m3 0h0m0 2h0m2 1h0m0-7h0m3 6h0m3-4h0m1 1h0m3 3h0m2-4h0m4 0h0m0 2h0m5 2h0m2-4h0m4 2h0m2 2h0m5-5h0m2-1h0m1 0h0m1 0h0m4 0h0m2 5h0m0-5h0m1 0h0m1 1h0m-72 7h0m0 0h0m0 5h0m6-1h0m3 0h0m7 0h0m0 3h0m0-7h0m0 2h0m8 2h0m2-4h0m1 5h0m3 1h0m4-1h0m1-4h0m1 2h0m7-1h0m9 4h0m1-6h0m6 7h0m2-2h0m0-2h0m0 1h0m5 2h0m3-3h0m-73 9h0m2-3h0m0 6h0m3-7h0m1 3h0m5 0h0m2-2h0m3 2h0m1-2h0m2 4h0m4 0h0m0 1h0m1-1h0m1-5h0m1 4h0m3-4h0m6 4h0m4-3h0m2 4h0m4-3h0m10 4h0m1-6h0m3 0h0m2 6h0m1-2h0m2-1h0m0 1h0m1 1h0m5 0h0m-72 9h0m2 0h0m1-4h0m2 0h0m5 1h0m0-2h0m1 5h0m5-2h0m2-1h0m2-2h0m1 4h0m3-1h0m7-1h0m1 0h0m2 1h0m12 0h0m6-4h0m1 1h0m1-1h0m1 3h0m7 1h0m5-4h0m2 2h0m-62 11h0m1-5h0m0 3h0m2 4h0m5-6h0m1-1h0m1 0h0m0 4h0m1 2h0m1-2h0m0 2h0m0-2h0m3-4h0m15 4h0m1-1h0m1 3h0m1 1h0m4-3h0m12-1h0m-53 6h0m0-1h0m1 2h0m0 1h0m0-3h0m8 5h0m2 0h0m4-5h0m3 5h0m5-3h0m4 1h0m8-3h0m6 5h0m3-1h0m-37 5h0m10 3h0m0 2h0m1-6h0m4 2h0m2-2h0m2 3h0m1-2h0m1 1h0m0-2h0m1 2h0m2 4h0m1 1h0m1-1h0m1-6h0m8 2h0m-34 8h0m7 5h0m1-2h0m0-3h0m2 4h0m3-5h0m8 1h0m5 2h0m1 2h0m0 1h0m7-1h0m-20 6h0m0-2h0m3-2h0m2 0h0m0 3h0m1-1h0m1-1h0m0 5h0m1-6h0m0 2h0m2 5h0m9-7h0m-10 8h0" stroke="#46E2EA" stroke-width="5.8" stroke-linecap="round" fill="none"/>
<text x="305.0" y="263.6" class="L" font-size="10.5" text-anchor="middle">COSMOS</text>
<line x1="270.4" y1="299.0" x2="270.4" y2="342.0" stroke="#888" stroke-width="0.9"/>
<line x1="270.4" y1="342.0" x2="316.7" y2="342.0" stroke="#888" stroke-width="0.9"/>
<text x="270.1" y="356.6" class="L" font-size="10.6">UMAP 1</text>
<text x="265.8" y="323.5" class="L" font-size="10.6" text-anchor="middle" transform="rotate(-90 265.8 323.5)">UMAP 2</text>
<path transform="scale(.25)" d="M1147 1103h0m1 0h0m15-1h0m-25 3h0m1 6h0m1-1h0m4-3h0m0 3h0m1-4h0m1 0h0m1 0h0m1 5h0m1-6h0m2-1h0m5 5h0m1-2h0m6 0h0m0-3h0m1 4h0m4-1h0m4-3h0m3 1h0m0 3h0m4-3h0m2 2h0m2 2h0m1 1h0m1-2h0m9 2h0m-71 9h0m3 0h0m2-3h0m2 0h0m1-2h0m3-1h0m0 3h0m11 3h0m2-7h0m3 1h0m4 0h0m15 0h0m1-1h0m1 0h0m3 1h0m10 3h0m8 0h0m1 2h0m4 0h0m1-5h0m4 0h0m7 2h0m3 3h0m-88 3h0m4 3h0m0 2h0m0 1h0m1-6h0m17 3h0m2 3h0m4-3h0m2 3h0m2-2h0m4 0h0m19 0h0m1-1h0m3 2h0m1-3h0m1 4h0m2-7h0m7 5h0m7 2h0m1-3h0m5-3h0m5 3h0m0-2h0m2-1h0m2 3h0m-101 9h0m5 0h0m0-2h0m9 0h0m1 4h0m3-1h0m0-4h0m4 5h0m0-7h0m1 0h0m2 6h0m1-1h0m2-3h0m4 2h0m1-2h0m2 3h0m1 1h0m4 1h0m1-6h0m2 2h0m4 0h0m0 0h0m2-2h0m8 6h0m0-2h0m3 0h0m3 0h0m4-4h0m4 5h0m1-4h0m0 1h0m1 2h0m2-1h0m0 0h0m2 1h0m1-3h0m2 0h0m3 1h0m7 4h0m5-5h0m2-1h0m14 0h0m6 3h0m3-2h0m1 3h0m9 2h0m-129 5h0m3 0h0m3-3h0m1 1h0m1 2h0m1-1h0m0-2h0m1 0h0m6 3h0m3-1h0m2-3h0m0 7h0m1-3h0m2 1h0m0 0h0m1-3h0m2 4h0m0-5h0m6 1h0m2 1h0m3-3h0m1 3h0m6-1h0m21 1h0m6-2h0m4 3h0m1-1h0m2 3h0m3-6h0m5 0h0m1 4h0m4-4h0m1 1h0m4 1h0m1 4h0m2 0h0m1-3h0m2 3h0m14 1h0m2-6h0m1 1h0m2 2h0m1-2h0m-116 6h0m9 5h0m2-5h0m0 0h0m2 0h0m1 1h0m4 1h0m64 2h0m13 1h0m5-2h0m0-3h0m2 2h0m1 2h0m3-2h0m6 3h0m6-4h0" stroke="#46E2EA" stroke-width="5.8" stroke-linecap="round" fill="none"/>
<path transform="scale(.25)" d="M1256 1125h0m5 2h0m1-1h0m1 1h0m27 0h0m-47 1h0m12 6h0m2 1h0m1-3h0m2 1h0m0-5h0m5 5h0m4 2h0m0 0h0m0-5h0m3-2h0m1 3h0m2-3h0m0 7h0m3-2h0m2-2h0m1 0h0m0-3h0m3 1h0m1-1h0m3 5h0m4-5h0m1 4h0m1 2h0m0 0h0m7 0h0m0-4h0m2 5h0m2-3h0m2-1h0m9 4h0m-71 8h0m3-2h0m0-5h0m3 2h0m2 0h0m2 0h0m4-2h0m1 4h0m2-4h0m6 5h0m1-4h0m1 0h0m0 0h0m5 1h0m0-1h0m1-1h0m1 0h0m5 7h0m3-6h0m5 2h0m3 1h0m2-1h0m0 0h0m1-3h0m1 5h0m11 0h0m1-2h0m8 3h0m6-4h0m2 4h0m-80 2h0m4 4h0m1 2h0m11-2h0m3 3h0m1-1h0m0-4h0m1 4h0m2-3h0m0-2h0m2 5h0m8-6h0m1 2h0m4 0h0m1 0h0m2 4h0m6-6h0m1 1h0m5 0h0m8 5h0m1-1h0m0-3h0m6 2h0m1-1h0m6-2h0m11 0h0m2 6h0m-73 3h0m3 5h0m1-5h0m0 1h0m1 2h0m2-2h0m1 4h0m4-3h0m9 1h0m3 0h0m2 1h0m1-3h0m3 0h0m0-2h0m6 2h0m2-1h0m1-2h0m7 1h0m1 3h0m0 2h0m2 1h0m1-7h0m1 5h0m2-5h0m1 7h0m2-6h0m0 2h0m0 3h0m1-2h0m1-3h0m4 2h0m5-1h0m1 2h0m5 0h0m0 1h0m-75 5h0m0 0h0m6-2h0m1 5h0m4-5h0m4 7h0m5-7h0m0 1h0m5-1h0m3 5h0m3-5h0m4 1h0m3 0h0m4 3h0m6 2h0m4 1h0m1-6h0m1-1h0m2 1h0m2 3h0m2-4h0m1 3h0m2 0h0m1-1h0m6 5h0m3-7h0m-61 12h0m6 1h0m10-2h0m5 2h0m3-1h0m2 1h0m8 2h0m0-4h0m3 1h0m0-3h0m4 2h0m3-3h0m3 7h0m3-4h0m-40 6h0m8-1h0m1 1h0m0 0h0m1 1h0m12 2h0" stroke="#FDD418" stroke-width="5.8" stroke-linecap="round" fill="none"/>
<path transform="scale(.25)" d="M1337 1158h0m7 1h0m-38 8h0m4-5h0m3 1h0m2-2h0m2 3h0m5 3h0m5-2h0m0 2h0m8-4h0m1 3h0m3-4h0m1-1h0m2 6h0m2-2h0m1-2h0m-39 10h0m1-2h0m2-3h0m1 4h0m0-4h0m2 2h0m4 3h0m8-1h0m3-4h0m1 3h0m1 1h0m1-1h0m1 2h0m2-4h0m2 6h0m12-7h0m3 7h0m2-3h0m6 0h0m2 0h0m1 2h0m-57 8h0m1-3h0m0 3h0m2 1h0m2-2h0m2-2h0m2 2h0m0 2h0m1-2h0m3 0h0m9 0h0m2-3h0m1 2h0m7 0h0m5-3h0m7 4h0m1-3h0m0 1h0m2 4h0m3-6h0m4 0h0m0 0h0m1 2h0m-53 10h0m3 0h0m2-5h0m1 2h0m2-2h0m1 6h0m3-2h0m4-2h0m1 2h0m2 2h0m3-6h0m2 2h0m7 2h0m2-3h0m3 3h0m0 2h0m14 0h0m2 1h0m1 0h0m1 0h0m1-4h0m0 0h0m1 3h0m1 1h0m2-2h0m1 2h0m3-2h0m-58 8h0m4-4h0m1 5h0m11 0h0m5-6h0m7 4h0m5 3h0m4-6h0m1-1h0m1 3h0m5-3h0m7 2h0m4 2h0m0 3h0m2 0h0m0-5h0m3 3h0m-58 9h0m1-1h0m2-5h0m7 4h0m1 2h0m1-6h0m0 2h0m0 4h0m1-3h0m2-1h0m3 0h0m3 1h0m3 0h0m1 1h0m1-2h0m5 0h0m13 5h0m6-6h0m3 4h0m0-3h0m3 4h0m4-3h0m-60 5h0m3 1h0m2 0h0m3 2h0m5 3h0m0-3h0m0 1h0m1-4h0m3 3h0m3 1h0m1 2h0m2-3h0m2 4h0m1-3h0m0-3h0m2 3h0m0 2h0m2-4h0m2 1h0m4 3h0m2-5h0m0-1h0m6 3h0m2 2h0m2 1h0m1-2h0m1-2h0m2-1h0m4 1h0m0 4h0m-44 7h0m2 0h0m0 0h0m6-4h0m1 6h0m2 0h0m6-2h0m3-1h0m1-3h0m1 5h0m1 0h0m3-1h0m1-2h0m3 4h0m4-4h0m3 0h0m3 1h0m0-4h0m-28 8h0m3 0h0" stroke="#4A5FB0" stroke-width="5.8" stroke-linecap="round" fill="none"/>
<path transform="scale(.25)" d="M1342 1215h0m5-4h0m2 0h0m5 1h0m2 2h0m2-2h0m1 3h0m4 0h0m-28 4h0m3 3h0m0 0h0m2 0h0m4-5h0m15 0h0m5 2h0m1 1h0m1-2h0m1 3h0m0 2h0m0-4h0m6 3h0m2-3h0m4 4h0m-48 2h0m3 0h0m2 4h0m2-2h0m1 3h0m2-5h0m1 1h0m5-2h0m5 5h0m1-5h0m0 5h0m1-4h0m0 0h0m0 6h0m2-5h0m2 1h0m2 4h0m4-3h0m0-4h0m1 2h0m5-2h0m5 5h0m1-1h0m3-3h0m7 6h0m-53 7h0m2-5h0m4 3h0m14 3h0m0-7h0m4 4h0m9 2h0m5-2h0m4-1h0m10 0h0m2-1h0m1 2h0m4 3h0m0-5h0m1 4h0m2 0h0m-64 2h0m4 5h0m3-2h0m2 2h0m0-5h0m2 0h0m0 1h0m3-1h0m1 6h0m1 0h0m3-6h0m6 5h0m8-5h0m2 6h0m5-6h0m1 1h0m4 2h0m7 3h0m2 1h0m1-3h0m0 1h0m3-1h0m1 0h0m1 3h0m1-4h0m3-2h0m-58 9h0m0 1h0m0-1h0m3 3h0m1-5h0m8 1h0m1 0h0m1 1h0m1 2h0m10 1h0m1-1h0m2-4h0m0 3h0m2-2h0m4 1h0m3-1h0m6-1h0m0 2h0m2 3h0m7-4h0m0 1h0m4 0h0m-57 8h0m6-1h0m0 5h0m1-1h0m1 2h0m1 0h0m8-4h0m1-2h0m0 0h0m2 2h0m1 4h0m0-5h0m3 0h0m1 2h0m1-3h0m18 1h0m0 2h0m2 3h0m-42 7h0m6 0h0m2 1h0m8-3h0m0 2h0m6 1h0m0-2h0m9 0h0m1 0h0m1-3h0m6 3h0m2 2h0m-38 4h0m5 3h0m2 1h0m1-3h0m10-1h0m1-1h0m3-2h0m0 2h0m1 3h0m10-2h0m1-2h0m3 4h0m-36 3h0m12 1h0m0 3h0m4 2h0m2-5h0m1 6h0m1-1h0m0-3h0m10 4h0m0-3h0m2-3h0m-26 7h0m21 1h0" stroke="#F4812F" stroke-width="5.8" stroke-linecap="round" fill="none"/>
<path transform="scale(.25)" d="M1351 1287h0m-21 7h0m9 0h0m0-4h0m0 2h0m2-2h0m7 3h0m3 1h0m1-1h0m0-1h0m8 2h0m3-3h0m-47 8h0m12 4h0m0-6h0m4-1h0m1 4h0m1 2h0m4-2h0m3-3h0m8 5h0m1-4h0m6 0h0m5 1h0m3 3h0m1-3h0m0 2h0m3-2h0m-58 5h0m0 5h0m1-5h0m2 6h0m10-4h0m0 4h0m0-4h0m1 4h0m1-2h0m0-3h0m2 6h0m1 0h0m8-4h0m7 3h0m1-4h0m5 4h0m0-6h0m0 6h0m2-4h0m2 0h0m3 4h0m0-3h0m6 0h0m0 4h0m3-2h0m5 1h0m-64 8h0m0-5h0m2 3h0m1 0h0m0 3h0m8-4h0m2 2h0m0-2h0m6-3h0m3 3h0m0-1h0m1 5h0m1 0h0m5-4h0m8 1h0m2 3h0m1-7h0m2 5h0m1-1h0m3-2h0m3 3h0m1 2h0m0-6h0m7 3h0m3-3h0m3 5h0m4-5h0m0 2h0m-68 5h0m2 7h0m0-6h0m6 3h0m2 3h0m1-7h0m19 1h0m8 4h0m1-5h0m1 0h0m5 7h0m6-6h0m1 3h0m2-1h0m5 1h0m0 1h0m6-4h0m-54 12h0m5 0h0m3-1h0m0-2h0m2-1h0m4 6h0m2 0h0m1-5h0m2 1h0m9 0h0m2 3h0m3-6h0m0 3h0m5-1h0m0 1h0m6 0h0m4 0h0m1-1h0m-43 6h0m4 2h0m1-1h0m1 1h0m3-1h0m5 1h0m4 1h0m6 0h0m6-3h0m3 0h0" stroke="#7D3C9C" stroke-width="5.8" stroke-linecap="round" fill="none"/>
<path transform="scale(.25)" d="M1104 1143h0m15-2h0m0-1h0m1 3h0m1-2h0m1 2h0m1-3h0m0 3h0m2-1h0m1 1h0m3-1h0m6 0h0m2 1h0m4-1h0m1-3h0m4 1h0m0 1h0m1 0h0m1 0h0m0 1h0m0-4h0m-55 12h0m1-4h0m1-1h0m1-1h0m2 0h0m2 2h0m0 2h0m1 0h0m1-1h0m1-2h0m6 2h0m1 0h0m4 2h0m2-2h0m2 0h0m0-2h0m1 2h0m3 2h0m0-5h0m2 0h0m2 4h0m1-4h0m1 3h0m4-3h0m0 0h0m3 3h0m1-3h0m7 1h0m4-1h0" stroke="#DD1C4B" stroke-width="5.8" stroke-linecap="round" fill="none"/>
<path transform="scale(.25)" d="M1132 1142h0m1 1h0m1 0h0m1-2h0m0 0h0m2 2h0m-17 7h0m6-2h0m1-2h0m2 3h0m3-3h0m1-1h0m-20 9h0m7 0h0m4-2h0" stroke="#DD1C4B" stroke-width="5.8" stroke-linecap="round" fill="none"/>
<circle cx="361.0" cy="270.6" r="4.95" fill="#DD1C4B"/>
<text x="376.9" y="273.4" class="D" font-size="8.4">L1</text>
<circle cx="361.0" cy="283.1" r="4.95" fill="#46E2EA"/>
<text x="376.9" y="285.9" class="D" font-size="8.4">L2/3</text>
<circle cx="361.0" cy="295.6" r="4.95" fill="#FDD418"/>
<text x="376.9" y="298.4" class="D" font-size="8.4">L4</text>
<circle cx="361.0" cy="308.1" r="4.95" fill="#4A5FB0"/>
<text x="376.9" y="310.9" class="D" font-size="8.4">L5</text>
<circle cx="361.0" cy="320.6" r="4.95" fill="#F4812F"/>
<text x="376.9" y="323.4" class="D" font-size="8.4">L6</text>
<circle cx="361.0" cy="333.1" r="4.95" fill="#7D3C9C"/>
<text x="376.9" y="335.9" class="D" font-size="8.4">HPC/CC</text>
<text x="445.4" y="252.8" class="L" font-size="19.5" font-weight="bold" dy="0.6">e</text>
<path transform="scale(.25)" d="M2171 1095h0m-284 6h0m10 1h0m8 0h0m46 1h0m26-7h0m13 6h0m10 1h0m4-7h0m94 7h0m55-7h0m-281 12h0m20 0h0m8 2h0m12-1h0m19-2h0m17 0h0m7 1h0m10 2h0m11-3h0m6 2h0m14 1h0m33-1h0m41 1h0m17-2h0m19 0h0m9 1h0m36-1h0m8 1h0m10-2h0m8 1h0m11 1h0m-319 7h0m9 0h0m7 1h0m40-2h0m6 1h0m21 1h0m7-3h0m19 1h0m11 0h0m10 3h0m8-3h0m10-1h0m9 1h0m29 3h0m7-1h0m22 0h0m9 0h0m9-2h0m26 1h0m10-2h0m9 0h0m7 3h0m28-3h0m9 0h0m-315 8h0m6 2h0m9-1h0m8 0h0m9-1h0m14 0h0m25 2h0m104-1h0m16 2h0m19 0h0m11-3h0m8 2h0m7 1h0m19-2h0m10 1h0m18-1h0m10 2h0m10-2h0m29 1h0m-337 5h0m17 2h0m10-1h0m8 0h0m18 2h0m8 0h0m22-3h0m6 1h0m18-1h0m13 1h0m8 0h0m10 2h0m15-2h0m41-1h0m5 0h0m38 2h0m12 1h0m15-2h0m14 2h0m18-2h0m36-1h0m-319 11h0m8-1h0m18 0h0m21 0h0m8 1h0m6-4h0m12 4h0m16-2h0m11 0h0m26-1h0m37 2h0m32 0h0m9 1h0m18-3h0m2 6h0m13-7h0m10 2h0m22 2h0m8-1h0m9-3h0m17 3h0m10-3h0m10 2h0m-340 6h0m10 1h0m11-1h0m8 2h0m16 5h0m11-7h0m9 0h0m10 1h0m6 6h0m12-7h0m9 0h0m11 3h0m10-3h0m11 7h0m6-6h0m56 2h0m12-2h0m14 1h0m10-1h0m8 6h0m13-5h0m27 1h0m10 0h0m7-1h0m18-1h0m19 1h0m5 5h0m-339 7h0m6-6h0m8 0h0m13 2h0m10 5h0m9 0h0m6-6h0m3 5h0m6-4h0m4 5h0m21 0h0m40-5h0m28-2h0m20 0h0m27 0h0m8 2h0m15 5h0m3-7h0m22 1h0m6-1h0m28 2h0m21-1h0m2 6h0m4-5h0m20-1h0m-325 13h0m11 1h0m8-2h0m65 0h0m10 0h0m14-4h0m4 6h0m42-6h0m14 4h0m10 2h0m14-7h0m4 6h0m4-6h0m8 0h0m20 0h0m24 7h0m13-7h0m7 2h0m20-2h0m19 0h0m13 5h0m-326 9h0m25 0h0m20-2h0m13-3h0m7 4h0m1-5h0m5 5h0m38 0h0m20 0h0m17 2h0m9 0h0m3-7h0m6 6h0m10 0h0m26 0h0m7-5h0m12 6h0m7-6h0m11-1h0m9 0h0m13 5h0m2-5h0m5 7h0m6-6h0m4 4h0m13-4h0m19 0h0m16 6h0m-315 1h0m4 6h0m3-6h0m6 6h0m20-2h0m9 1h0m6-1h0m20 0h0m6-4h0m23 5h0m10 1h0m27 1h0m7-3h0m12 3h0m19-3h0m14-4h0m3 7h0m21-2h0m26 0h0m4-5h0m4 5h0m18 1h0m11 1h0m6-7h0m3 5h0m16 2h0m8-7h0m2 4h0m-300 8h0m11 3h0m27-3h0m8 0h0m9 2h0m19 0h0m11-1h0m9-1h0m24 1h0m28-2h0m20 3h0m8-2h0m14-1h0m5 1h0m8 0h0m22 1h0m9-2h0m26 3h0m10-3h0m28 2h0m21-1h0m-329 6h0m16 2h0m12 1h0m7 0h0m12 1h0m15-3h0m12 2h0m6-3h0m10 3h0m12-1h0m8 2h0m19-1h0m10-1h0m6 0h0m21 1h0m9 0h0m17 1h0m20-1h0m11 0h0m9 1h0m28-3h0m6 0h0m11-1h0m10 1h0m9 3h0m9-2h0m-311 6h0m9 2h0m8 1h0m9-3h0m22 2h0m6-1h0m9 1h0m20-2h0m8 2h0m20-1h0m17 1h0m30-1h0m18-1h0m11 1h0m25 1h0m10 0h0m10 1h0m27-1h0m8 1h0m12-1h0m7 1h0m21-3h0m9 3h0m-314 7h0m22-1h0m27-1h0m7 0h0m10 2h0m48-3h0m26 1h0m10 0h0m9 0h0m18-1h0m31 0h0m9 0h0m6 2h0m9 0h0m37 0h0m10-1h0m12 0h0m34-1h0m9 0h0m-334 9h0m5 0h0m39 1h0m10 0h0m19-1h0m8 1h0m26-3h0m20 1h0m3 6h0m9-5h0m6 2h0m12-1h0m9 0h0m15 1h0m11-3h0m20 2h0m9-2h0m8-1h0m18 1h0m18 2h0m9 0h0m7 4h0m2-5h0m31 2h0m-314 4h0m8 7h0m14-7h0m43 2h0m11-2h0m12 0h0m9 2h0m14-1h0m5 6h0m19 0h0m18-5h0m4 5h0m14-5h0m27-2h0m6 3h0m11-3h0m9 0h0m12 1h0m9 0h0m9 2h0m8-1h0m8-2h0m24 7h0m-295 2h0m3 6h0m9-1h0m16-5h0m8 0h0m7-1h0m21 1h0m28-1h0m7 0h0m13 2h0m1 5h0m12-1h0m4-4h0m11 5h0m8-6h0m17 1h0m3 5h0m6-7h0m7 7h0m1-5h0m11-2h0m28 0h0m11 2h0m1 4h0m7-4h0m2 5h0m7-6h0m6 5h0m1-5h0m6 6h0m19 0h0m29-1h0m17 1h0m3-5h0m4 5h0m-324 8h0m6 0h0m8-5h0m2 3h0m7-5h0m3 7h0m23-6h0m10-1h0m4 6h0m5-6h0m9 0h0m18 0h0m27 1h0m30 0h0m26 1h0m8 0h0m12-2h0m5 6h0m15 0h0m10-1h0m12 1h0m7 0h0m14-6h0m16 6h0m5-6h0m7 2h0m14 3h0m-300 10h0m17-1h0m12-1h0m38-4h0m18 6h0m14-7h0m7 0h0m6 4h0m14-4h0m6 0h0m13 0h0m2 5h0m24-5h0m7 4h0m8 1h0m21-5h0m5 7h0m26-3h0m14-4h0m8 6h0m15 0h0m12 1h0m11-2h0m9 1h0m8 0h0m5-5h0m3 5h0m-327 9h0m7-2h0m7-5h0m4 7h0m10-1h0m9-1h0m10 2h0m16-2h0m9 0h0m12 0h0m7 0h0m5-5h0m14 7h0m15-7h0m5 6h0m6-2h0m9 3h0m20-1h0m11-1h0m7 0h0m13 1h0m6-2h0m20 1h0m12-5h0m6 5h0m16-5h0m21 7h0m9 0h0m19 0h0m-311 6h0m11 0h0m8 1h0m10 1h0m15-3h0m31 2h0m7-2h0m19 1h0m10 1h0m10 0h0m5-6h0m3 4h0m12 1h0m35 1h0m19-2h0m26 3h0m11-3h0m6-4h0m11 5h0m20 0h0m17-1h0m40 2h0m-319 8h0m15-1h0m31-1h0m18 1h0m10-1h0m9-2h0m10 3h0m5 1h0m9-1h0m10 0h0m29-2h0m17 1h0m12 0h0m6 0h0m21 1h0m10-1h0m6 1h0m20 1h0m8-1h0m12 0h0m6 1h0m9-3h0m12 1h0m8-1h0m12 0h0m7 0h0m-317 7h0m19 3h0m6-3h0m19 3h0m27-2h0m39-1h0m7 1h0m29 1h0m21-2h0m7 1h0m11 0h0m8-1h0m10 0h0m7 0h0m9 2h0m11 1h0m11-3h0m9 3h0m7-3h0m10 2h0m10 0h0m7-2h0m18 1h0m29 0h0m-338 6h0m11 2h0m18-1h0m9 2h0m8-2h0m9 1h0m10-2h0m19 0h0m10 3h0m27-3h0m8 3h0m11-1h0m7 2h0m10-3h0m9 2h0m11-1h0m8 1h0m46-2h0m9 2h0m19-2h0m11 2h0m9-3h0m19 4h0m9-1h0m9-1h0m10-1h0m6 0h0" stroke="#4150a9" stroke-width="11.4" stroke-linecap="round" fill="none"/>
<path transform="scale(.25)" d="M1891 1093h0m-8 3h0m31 6h0m19 0h0m13-6h0m32 7h0m38-1h0m93-2h0m64 0h0m-292 10h0m38 0h0m18-2h0m77 0h0m9 0h0m35-1h0m21 2h0m15-1h0m29 3h0m8-2h0m9 2h0m59-1h0m-304 4h0m11 3h0m9-2h0m28 3h0m164-3h0m66 2h0m30-2h0m-275 9h0m30 0h0m6-2h0m29 0h0m12 2h0m8 0h0m8-1h0m166-1h0m-242 10h0m71-1h0m67 0h0m9 1h0m35-2h0m55 1h0m11 0h0m-274 7h0m48-1h0m29 6h0m9-6h0m13 6h0m6-6h0m72-1h0m17 2h0m30 2h0m34-1h0m-269 5h0m45 1h0m11 6h0m83-7h0m5 1h0m31 1h0m89-1h0m21 0h0m-317 14h0m25-5h0m57-2h0m53 0h0m40 0h0m9 2h0m48 5h0m18 0h0m5-6h0m58 0h0m12 5h0m-313 2h0m32 6h0m27 1h0m13-7h0m56 0h0m7 7h0m13-5h0m7-2h0m11 0h0m4 6h0m28 0h0m86-1h0m21-5h0m-289 13h0m7-5h0m60 6h0m6-6h0m104 7h0m26-1h0m43-6h0m26 5h0m14-5h0m13 6h0m2-5h0m-331 11h0m27 3h0m36-1h0m21-1h0m10 0h0m88 1h0m20-1h0m19 1h0m5-6h0m32 6h0m40-2h0m25 1h0m9 2h0m-300 7h0m8-2h0m40-1h0m64 0h0m25 2h0m58 0h0m35-1h0m30 2h0m10 0h0m-249 5h0m69 0h0m82 2h0m37 0h0m6-3h0m68 4h0m9-3h0m-293 8h0m40-1h0m28 0h0m36 0h0m63 2h0m37-1h0m58 2h0m26-3h0m9 0h0m-256 8h0m11 0h0m9 1h0m30-2h0m8 2h0m56-2h0m55 0h0m10 1h0m42-1h0m12 3h0m-292 4h0m12 4h0m6-1h0m26 4h0m2-6h0m29 3h0m8-2h0m26 5h0m48-3h0m67-4h0m62 2h0m-289 6h0m16 1h0m18 0h0m36 6h0m19-7h0m38 0h0m22 2h0m15 0h0m10-1h0m113 2h0m6 0h0m11-1h0m9 1h0m-311 6h0m38 0h0m20 1h0m129 0h0m10-2h0m14 7h0m39-6h0m39 0h0m9-1h0m7 1h0m-323 13h0m131 1h0m47 0h0m18-2h0m6 1h0m14-6h0m61 6h0m29 0h0m16-6h0m0 7h0m-315 7h0m50-6h0m89 7h0m23-6h0m2 4h0m12 0h0m26 0h0m11 0h0m17 0h0m48 1h0m-285 7h0m151-5h0m15 6h0m55-1h0m40-1h0m9 3h0m10-3h0m55 0h0m-275 8h0m38-1h0m58 1h0m5 2h0m48-1h0m8 0h0m27-1h0m21 2h0m18-2h0m19-1h0m9 0h0m-308 10h0m15 1h0m19-3h0m10 0h0m17-1h0m77 1h0m7 3h0m56-2h0m39 1h0m-229 7h0m28 0h0m18-2h0m11 2h0m17-2h0m73 0h0m140 1h0m21 0h0m-300 6h0m52 1h0m36 2h0m93 0h0m9 0h0m38 1h0m36-1h0m-166 41h0m158 2h0m30-1h0m-112 2h0m135 5h0" stroke="#4758b0" stroke-width="11.4" stroke-linecap="round" fill="none"/>
<path transform="scale(.25)" d="M1954 1087h0m202-2h0m-149 250h0m36-1h0m11-1h0m138 0h0m-121 3h0m39 0h0m12 7h0m59-3h0m-294 10h0m231-3h0" stroke="#4d61b7" stroke-width="11.4" stroke-linecap="round" fill="none"/>
<path transform="scale(.25)" d="M1867 1087h0m65 1h0m157 1h0m119 4h0m-331 242h0m260-1h0m-227 8h0m38 1h0m49-7h0m4 7h0" stroke="#5c70c2" stroke-width="11.4" stroke-linecap="round" fill="none"/>
<path transform="scale(.25)" d="M2107 1085h0m-115 9h0m29-1h0m18 1h0m146 239h0m19 2h0m-260 15h0m242-3h0" stroke="#6a80cd" stroke-width="11.4" stroke-linecap="round" fill="none"/>
<path transform="scale(.25)" d="M1944 1087h0m250-1h0m-116 7h0m26 2h0m-88 238h0m8 2h0m77-2h0m17 2h0m11-2h0m36 1h0m-263 7h0m82-1h0m57 3h0m29-3h0m5 1h0m-106 9h0m159 0h0" stroke="#7990d8" stroke-width="11.4" stroke-linecap="round" fill="none"/>
<path transform="scale(.25)" d="M2033 1093h0m-135 242h0m83-2h0m173 2h0m-260 8h0m35-3h0m212 1h0m-32 10h0m91 0h0" stroke="#889edf" stroke-width="11.4" stroke-linecap="round" fill="none"/>
<path transform="scale(.25)" d="M1916 1334h0m26-1h0m9 2h0m142-2h0m-7 10h0m21-3h0m-126 11h0m9-3h0m6 1h0m47-1h0m12 2h0" stroke="#97aae0" stroke-width="11.4" stroke-linecap="round" fill="none"/>
<path transform="scale(.25)" d="M1925 1086h0m39 0h0m7 1h0m156-1h0m-197 6h0m6 2h0m47 1h0m161-7h0m-108 246h0m80 8h0m15-1h0m-50 6h0" stroke="#a6b5e1" stroke-width="11.4" stroke-linecap="round" fill="none"/>
<path transform="scale(.25)" d="M1979 1087h0m-21 7h0m110-1h0m93-1h0" stroke="#b5c1e2" stroke-width="11.4" stroke-linecap="round" fill="none"/>
<path transform="scale(.25)" d="M1909 1297h0m149 1h0m136 5h0m-228 8h0m97-5h0m32 5h0m69-5h0m-282 6h0m187 0h0m-192 9h0m26 6h0m79-7h0m83 1h0m49 6h0m37-2h0m-195 3h0m146 1h0" stroke="#e77158" stroke-width="11.4" stroke-linecap="round" fill="none"/>
<path transform="scale(.25)" d="M1904 1300h0m27-2h0m44 2h0m58-3h0m6 1h0m84 0h0m64-1h0m9 2h0m-298 8h0m19 0h0m19 4h0m139-5h0m8 1h0m64-2h0m10 0h0m15 1h0m-272 8h0m30 0h0m41 5h0m2-6h0m32 0h0m45-1h0m62 2h0m58-2h0m20 0h0m14 7h0m1-7h0m-317 8h0m58 5h0m16-4h0m45-1h0m14 7h0m12-7h0m33 7h0m14-7h0m9 1h0m4 6h0m61-5h0m9 4h0m28-6h0m-199 8h0" stroke="#df5e4c" stroke-width="11.4" stroke-linecap="round" fill="none"/>
<path transform="scale(.25)" d="M1894 1298h0m25-1h0m26 1h0m37 2h0m12-3h0m11 3h0m16-1h0m26 0h0m21 0h0m21 4h0m7-4h0m6-1h0m31 1h0m7 0h0m-262 7h0m66-2h0m3 7h0m24-5h0m19 0h0m27 0h0m4 5h0m77-6h0m52 6h0m36-7h0m-275 9h0m2 5h0m73-4h0m43-2h0m17 7h0m9-1h0m2-4h0m18-1h0m49-1h0m11 7h0m-203 2h0m109 4h0m8 1h0m59-5h0m56-1h0m17 5h0m-272 3h0m58 1h0m38-1h0m8 1h0m64-1h0m109 0h0" stroke="#d74c3f" stroke-width="11.4" stroke-linecap="round" fill="none"/>
<path transform="scale(.25)" d="M1940 1298h0m25-2h0m113 1h0m7 0h0m66 0h0m28 0h0m27 0h0m-330 14h0m12-6h0m46 0h0m30-1h0m15 1h0m21 0h0m13 6h0m27 0h0m7-5h0m149 5h0m-306 3h0m67 0h0m42 5h0m100-1h0m-229 2h0m14 7h0m21-5h0m69 5h0m8-1h0m8-4h0m29-1h0m7-1h0m6 6h0m26 0h0m68-5h0m5 6h0m-193 2h0m146-1h0m37 0h0m22 0h0" stroke="#ca3a37" stroke-width="11.4" stroke-linecap="round" fill="none"/>
<path transform="scale(.25)" d="M1884 1299h0m74-2h0m57 1h0m156-1h0m-302 7h0m56 0h0m85 0h0m43 3h0m86 0h0m61-3h0m-205 8h0m79 7h0m14-6h0m43-1h0m30 2h0m20-1h0m-283 8h0m56 0h0m221-1h0m23 6h0m-278 2h0m247 0h0m38 0h0" stroke="#bd292e" stroke-width="11.4" stroke-linecap="round" fill="none"/>
<text x="509.0" y="263.3" class="L" font-size="10.5" text-anchor="middle">pSM of SpatialGlue</text>
<path transform="scale(.25)" d="M2545 1350h0" stroke="#4150a9" stroke-width="11.4" stroke-linecap="round" fill="none"/>
<path transform="scale(.25)" d="M2493 1328h0m70 7h0m-252 8h0m35-3h0m112 3h0m44 0h0m31-1h0m83-1h0m-209 7h0m53 0h0m142-1h0" stroke="#4758b0" stroke-width="11.4" stroke-linecap="round" fill="none"/>
<path transform="scale(.25)" d="M2516 1318h0m-212 2h0m17 2h0m144 4h0m10 0h0m56 1h0m-199 7h0m5-6h0m22 5h0m39 0h0m7 0h0m3-5h0m25 5h0m20 1h0m48-6h0m17 5h0m1-4h0m16 6h0m19-1h0m17 1h0m49 0h0m-301 6h0m8 1h0m153-6h0m6 4h0m6 1h0m32-1h0m73 0h0m-293 10h0m57 0h0m24 0h0m28-1h0m59 1h0m25-3h0m28 4h0m10-4h0m82 4h0" stroke="#4d61b7" stroke-width="11.4" stroke-linecap="round" fill="none"/>
<path transform="scale(.25)" d="M2388 1319h0m24-7h0m3 7h0m70-7h0m6 7h0m61 0h0m55-7h0m-313 9h0m6 6h0m98-7h0m8 2h0m29-1h0m2 6h0m12-1h0m1-6h0m32 7h0m24-6h0m37 0h0m36 5h0m13-6h0m5 5h0m11-5h0m-314 15h0m21 0h0m39-6h0m19-1h0m11 1h0m38-1h0m8 1h0m41 4h0m39 0h0m50-5h0m22 6h0m2-6h0m9 6h0m16-1h0m13-5h0m-257 15h0m36-3h0m87-4h0m50 7h0m10-2h0m9 0h0m-160 10h0" stroke="#5c70c2" stroke-width="11.4" stroke-linecap="round" fill="none"/>
<path transform="scale(.25)" d="M2387 1306h0m43 5h0m-131 1h0m48 2h0m27 0h0m48-1h0m24-1h0m17 7h0m8-1h0m3-4h0m55 0h0m91 5h0m-333 1h0m33 7h0m29-6h0m14 4h0m8-4h0m20 6h0m8-1h0m43-6h0m16 5h0m24-4h0m28 6h0m15-6h0m23 6h0m19-2h0m14-5h0m33 6h0m-288 2h0m42 7h0m55 0h0m18 0h0m19-1h0m78-6h0m8 5h0m56 0h0m-189 3h0m5 7h0m109-7h0" stroke="#6a80cd" stroke-width="11.4" stroke-linecap="round" fill="none"/>
<path transform="scale(.25)" d="M2399 1300h0m158-1h0m-264 12h0m60 0h0m8-7h0m73 2h0m4 5h0m19 0h0m13-4h0m86 0h0m11 4h0m45 0h0m-305 3h0m10 0h0m10-1h0m3 5h0m60-5h0m12 1h0m65-2h0m37 1h0m37-1h0m37 2h0m9-2h0m-272 9h0m64 0h0m45-1h0m73 0h0m106 8h0" stroke="#7990d8" stroke-width="11.4" stroke-linecap="round" fill="none"/>
<path transform="scale(.25)" d="M2301 1299h0m19 1h0m6-3h0m138 2h0m38-2h0m66 0h0m36 0h0m8 2h0m-317 7h0m20 1h0m19 0h0m30 4h0m19 0h0m13-6h0m21 0h0m46 1h0m17 0h0m12 0h0m19 5h0m78-5h0m13-2h0m-110 9h0m56-1h0m74 0h0m-51 10h0" stroke="#889edf" stroke-width="11.4" stroke-linecap="round" fill="none"/>
<path transform="scale(.25)" d="M2285 1289h0m250 4h0m36-1h0m12 1h0m8-1h0m-280 6h0m37 0h0m14 0h0m30 2h0m30 0h0m9-2h0m7 1h0m11-2h0m7 1h0m19 0h0m10 1h0m10-2h0m11 6h0m34-5h0m9 1h0m39-2h0m23 6h0m-325 1h0m19 1h0m37-1h0m9 1h0m30-1h0m46 0h0m73 3h0m15-2h0m48 0h0m11 0h0m7 1h0m36-2h0m-19 9h0" stroke="#97aae0" stroke-width="11.4" stroke-linecap="round" fill="none"/>
<path transform="scale(.25)" d="M2521 1285h0m-190 5h0m38-1h0m45 3h0m11-1h0m7 2h0m10-3h0m9 2h0m11-1h0m101-2h0m38 2h0m10-1h0m-275 7h0m21 1h0m18-1h0m7-1h0m29 1h0m108 1h0m77-1h0m-189 9h0" stroke="#a6b5e1" stroke-width="11.4" stroke-linecap="round" fill="none"/>
<path transform="scale(.25)" d="M2311 1285h0m155-2h0m44 1h0m97-1h0m16 0h0m-327 8h0m10-2h0m33 2h0m19-1h0m21 2h0m16 0h0m75 0h0m18 0h0m8 0h0m28 0h0m20-2h0m11 2h0m62-2h0m-105 9h0m111-2h0" stroke="#b5c1e2" stroke-width="11.4" stroke-linecap="round" fill="none"/>
<path transform="scale(.25)" d="M2299 1284h0m27 0h0m9 1h0m21-1h0m7-1h0m38-1h0m7 1h0m29 1h0m9-2h0m13 0h0m17 1h0m9-1h0m73 2h0m11 0h0m7-2h0m18 1h0m-280 7h0m8 2h0m28-3h0m56 0h0m109 1h0" stroke="#c4cbdf" stroke-width="11.4" stroke-linecap="round" fill="none"/>
<path transform="scale(.25)" d="M2395 1278h0m19-1h0m75-1h0m26 1h0m-224 5h0m26 0h0m55 0h0m130 0h0m39 3h0m7-3h0" stroke="#d4d6dc" stroke-width="11.4" stroke-linecap="round" fill="none"/>
<path transform="scale(.25)" d="M2297 1278h0m92-1h0m44 1h0m102 0h0m19-1h0m-59 5h0m38 0h0m53 1h0" stroke="#e0d5d1" stroke-width="11.4" stroke-linecap="round" fill="none"/>
<path transform="scale(.25)" d="M2576 1268h0m11-1h0m29 3h0m-328 7h0m15 1h0m8-1h0m69-3h0m24 3h0m68-1h0m6 0h0m21 1h0m10-1h0m19 1h0m15 0h0m18 1h0m21-2h0m7-1h0m-244 7h0" stroke="#e7c9bc" stroke-width="11.4" stroke-linecap="round" fill="none"/>
<path transform="scale(.25)" d="M2345 1241h0m87 7h0m183 6h0m-209 9h0m-105 6h0m8 1h0m36-2h0m38-1h0m18 3h0m18-2h0m27 2h0m48-1h0m35-1h0m10 1h0m19 0h0m-226 6h0m11 1h0m6-2h0m12 3h0m9-1h0m56-1h0m17 0h0m17 1h0m110-1h0m32 0h0" stroke="#eebda8" stroke-width="11.4" stroke-linecap="round" fill="none"/>
<path transform="scale(.25)" d="M2379 1220h0m132 4h0m-208 9h0m151 6h0m82-6h0m56 0h0m5 5h0m-294 9h0m56-1h0m5-6h0m54 1h0m45 6h0m12-5h0m12 4h0m50 0h0m7 0h0m-244 9h0m29-2h0m83-1h0m19 3h0m16-2h0m30-1h0m28 1h0m33-1h0m69 2h0m13-5h0m-335 12h0m10 2h0m19 0h0m19-2h0m10 2h0m37-2h0m7 0h0m5-5h0m34 6h0m15 1h0m37-2h0m77 2h0m46 0h0m-282 8h0m15-3h0m31 2h0m6-2h0m40 2h0m5-6h0m15 5h0m9-1h0m26 2h0m18-2h0m27 3h0m11-3h0m28 2h0m46-3h0m-275 8h0m288 0h0" stroke="#f0af97" stroke-width="11.4" stroke-linecap="round" fill="none"/>
<path transform="scale(.25)" d="M2518 1205h0m8-2h0m45 2h0m38-3h0m-321 10h0m22-1h0m44 1h0m9-2h0m83 0h0m19-1h0m-172 9h0m28 1h0m27 4h0m65 0h0m5 0h0m82-4h0m53 0h0m-265 5h0m13 0h0m62 0h0m13 0h0m28 7h0m24-7h0m13 2h0m33-1h0m12-1h0m6 3h0m41-2h0m9 2h0m8-1h0m44 1h0m11-1h0m-265 7h0m21 1h0m37 0h0m2 5h0m12-1h0m15 1h0m34-7h0m39 0h0m8 0h0m12 6h0m7-4h0m2 5h0m14-6h0m10 0h0m55 0h0m5 6h0m-328 7h0m12 1h0m16-2h0m7-5h0m36 0h0m18 0h0m42 7h0m33-6h0m32 4h0m14-5h0m20 6h0m10-1h0m75 0h0m7 2h0m-290 7h0m50-5h0m87 0h0m1 4h0m13 0h0m26 0h0m13-5h0m5 7h0m9-2h0m38 1h0m11 0h0m5 0h0m12 1h0m10-2h0m25 1h0m-319 7h0m7-5h0m14 6h0m35-1h0m8 0h0m54-5h0m10 4h0m5-4h0m14 6h0m41 0h0m6-2h0m9 1h0m12 0h0m18 0h0m10-1h0m5-4h0m14 4h0m8 3h0m8 0h0m39-3h0m-330 9h0m100 0h0m111 0h0m27-5h0m40 4h0" stroke="#f2a285" stroke-width="11.4" stroke-linecap="round" fill="none"/>
<path transform="scale(.25)" d="M2544 1086h0m-38 89h0m-162 5h0m10 2h0m119 0h0m-103 5h0m19 2h0m33 0h0m56-1h0m-158 9h0m101 0h0m10-1h0m36 1h0m17 1h0m31-1h0m54-3h0m28 2h0m-294 9h0m19-2h0m17 0h0m9 1h0m13-2h0m8 0h0m8 2h0m13-2h0m7 1h0m47 0h0m28 0h0m17 1h0m9 0h0m121-2h0m-236 9h0m30-2h0m8 2h0m17-1h0m39-1h0m19 0h0m9 0h0m6 2h0m21-2h0m90 0h0m-334 9h0m44 1h0m10 0h0m8-2h0m11 1h0m8 1h0m18-1h0m8-2h0m38 4h0m11-1h0m24 1h0m12-3h0m29 0h0m8-1h0m10 0h0m35 3h0m6 4h0m-272 8h0m13-7h0m8 1h0m18 0h0m36 6h0m51 0h0m22 0h0m6-5h0m15 0h0m59-1h0m58 6h0m32-4h0m-327 6h0m3 6h0m9-1h0m24-5h0m7-1h0m20 1h0m29-1h0m56 1h0m17 1h0m16 0h0m0 5h0m22-5h0m24 5h0m5-5h0m23 4h0m26 1h0m49-5h0m-306 8h0m11 5h0m70-7h0m91 2h0m17 4h0m1-6h0m57 0h0m3 6h0m13 0h0m5-6h0m12 6h0m16-6h0m-315 14h0m93 1h0m20-7h0m20 0h0m46 0h0m15 5h0m66-5h0m-91 14h0m11-1h0m58-5h0" stroke="#ef9276" stroke-width="11.4" stroke-linecap="round" fill="none"/>
<path transform="scale(.25)" d="M2360 1087h0m20-1h0m144-1h0m87 1h0m-262 2h0m136 5h0m76-5h0m17 51h0m-289 27h0m150 1h0m-6 8h0m120 0h0m-123 8h0m19 0h0m19-3h0m44 2h0m-197 9h0m27-3h0m35 2h0m21-2h0m36-1h0m16 0h0m9 2h0m11 1h0m27-2h0m8 0h0m12 1h0m19-2h0m17 1h0m9 2h0m21 0h0m38-2h0m-313 8h0m19 1h0m12 1h0m5-3h0m10 0h0m18-1h0m10 3h0m11-1h0m19-1h0m25 1h0m58 1h0m28 1h0m15-4h0m13 1h0m7 0h0m21 0h0m9 3h0m17 0h0m-319 4h0m9 2h0m119 0h0m12-2h0m81 2h0m77 1h0m9-3h0m8 3h0m-257 5h0m30 0h0m27-1h0m27 1h0m92 1h0m47-1h0m12 0h0m5-1h0m12 3h0m17-3h0m-309 7h0m12 4h0m111-2h0m34 2h0m110-2h0m19 0h0m-237 8h0m32 0h0m5-2h0m9 1h0m59 1h0m45-2h0m55 0h0m-243 9h0m70-1h0m31 2h0m64-2h0m69 7h0m52-7h0m20 7h0m-35 3h0m-244 6h0m103 0h0" stroke="#ec8267" stroke-width="11.4" stroke-linecap="round" fill="none"/>
<path transform="scale(.25)" d="M2342 1086h0m46 1h0m184-2h0m-265 8h0m40-1h0m91 1h0m12 0h0m56-4h0m72 3h0m-279 4h0m64 0h0m30 0h0m2 7h0m-109 13h0m143 8h0m74 1h0m6 7h0m16-1h0m-144 20h0m156-5h0m27 1h0m54-1h0m-334 12h0m9 1h0m5-7h0m50 7h0m129-5h0m30 5h0m83 0h0m-290 8h0m73-2h0m4-5h0m6 5h0m14-4h0m74-1h0m14 6h0m95-6h0m32 5h0m-292 8h0m7-5h0m5 4h0m20 1h0m1-5h0m41 0h0m22 5h0m71 1h0m11 1h0m26-1h0m39-1h0m-272 7h0m12-4h0m6 6h0m9 1h0m10-3h0m10 1h0m47 0h0m8 0h0m10 1h0m90-1h0m39 0h0m3-5h0m5 5h0m9 1h0m40-2h0m25 1h0m9 2h0m-319 5h0m19 2h0m26-2h0m10 2h0m168-1h0m44-2h0m22 3h0m7-1h0m-308 5h0m110 4h0m56-1h0m46 0h0m28 0h0m83-2h0m-303 7h0m22 2h0m128-2h0m82 2h0m9 1h0m11-1h0m-227 6h0m204 0h0m16 1h0m-142 6h0m39 2h0m81-2h0m67 3h0m-14 7h0m-189 21h0" stroke="#e77158" stroke-width="11.4" stroke-linecap="round" fill="none"/>
<path transform="scale(.25)" d="M2284 1087h0m86 0h0m-17 7h0m22 0h0m25 1h0m9-1h0m47 0h0m38-1h0m27 2h0m67 0h0m37-2h0m-321 8h0m10 1h0m36 0h0m18 1h0m49 0h0m4-7h0m94 7h0m11-3h0m-228 10h0m31-1h0m35-2h0m35 2h0m97 0h0m15-1h0m-209 9h0m10-3h0m30 1h0m18 3h0m8-1h0m8-3h0m19 1h0m77 3h0m118-1h0m9-3h0m-291 9h0m30-1h0m43 0h0m29 0h0m28 1h0m30 0h0m16 2h0m120-3h0m-316 7h0m35 1h0m54 0h0m18-1h0m13 1h0m74-1h0m18 2h0m36 1h0m8-2h0m40 0h0m15 1h0m21-2h0m-273 10h0m37-2h0m17 1h0m12 5h0m14-6h0m8 6h0m78-7h0m10 1h0m15-1h0m10 2h0m39-2h0m27 0h0m-330 8h0m10 1h0m11-1h0m8 2h0m16 5h0m19-7h0m17 7h0m5-6h0m7-1h0m20 3h0m27-2h0m45 0h0m11 2h0m26-1h0m83-1h0m21 0h0m13 6h0m-333 1h0m27 2h0m13 5h0m40 0h0m39-5h0m29-2h0m30 0h0m17 0h0m26 0h0m13 7h0m15-7h0m67 1h0m7 0h0m-305 12h0m29 1h0m27 1h0m69-7h0m10 1h0m10 1h0m7-2h0m7 7h0m14-7h0m7 0h0m8 0h0m21 0h0m24 7h0m20-5h0m39-2h0m-313 14h0m25 0h0m33-5h0m13 4h0m30 1h0m8-1h0m46 2h0m3-7h0m5 6h0m11 0h0m32-5h0m30-1h0m23 5h0m2-5h0m19 0h0m26 5h0m18 2h0m9-1h0m-324 2h0m67 4h0m6-4h0m6 5h0m107-5h0m3 7h0m20-2h0m12-5h0m60 5h0m16 2h0m9-7h0m2 4h0m-273 8h0m160-1h0m-125 10h0" stroke="#df5e4c" stroke-width="11.4" stroke-linecap="round" fill="none"/>
<path transform="scale(.25)" d="M2396 1087h0m-75 15h0m10 0h0m76 0h0m26 0h0m137-6h0m19 4h0m-272 10h0m19 0h0m12-3h0m5 1h0m18 0h0m11 2h0m11-3h0m19 3h0m19-2h0m15 1h0m41 1h0m17-2h0m19 0h0m17 3h0m8-2h0m20-1h0m8 1h0m10-2h0m7 1h0m12 1h0m11 1h0m-294 7h0m10-2h0m16 1h0m57-1h0m10 3h0m9-3h0m18 0h0m37 2h0m31 0h0m9-2h0m5 0h0m20 1h0m11-2h0m9 0h0m7 3h0m37-3h0m-309 10h0m17-1h0m9-1h0m20 2h0m19 0h0m58 0h0m92-2h0m15 3h0m19-2h0m10 1h0m28 1h0m39-1h0m-321 7h0m10-1h0m27 2h0m21 0h0m9-3h0m45 1h0m17 1h0m8-1h0m46-1h0m79 3h0m-266 8h0m9-1h0m27-1h0m20 2h0m6-4h0m12 4h0m48-3h0m18 0h0m24 2h0m32 0h0m9 1h0m20 3h0m5-5h0m30 2h0m9 0h0m25-1h0m9 0h0m-278 5h0m15 0h0m67 0h0m11 7h0m45-7h0m29 1h0m8 1h0m16-1h0m7 6h0m58-5h0m17-1h0m-288 9h0m11 5h0m18-1h0m36-6h0m52 0h0m30 0h0m36 2h0m39-1h0m11 6h0m4-6h0m20 1h0m27 0h0m24 4h0m-313 2h0m96 7h0m55-2h0m18 1h0m29 0h0m51-6h0m35 5h0m21-5h0m-77 8h0m26 1h0m17 0h0m19 0h0m27 0h0m-322 13h0m136-2h0m122 2h0m11 1h0m6-7h0" stroke="#d74c3f" stroke-width="11.4" stroke-linecap="round" fill="none"/>
<path transform="scale(.25)" d="M2288 1108h0m21 0h0m130 0h0m36-1h0m57 2h0m-238 7h0m140-2h0m66 3h0m120-2h0m-327 7h0m82 2h0m147 0h0m54-1h0m19 0h0m-246 9h0m77 0h0m126-2h0m58 1h0m-283 8h0m63-1h0m234 0h0m-266 7h0m28-1h0m188 3h0m-239 6h0m10 1h0m243-1h0m-76 16h0m95-1h0" stroke="#ca3a37" stroke-width="11.4" stroke-linecap="round" fill="none"/>
<path transform="scale(.25)" d="M2557 1111h0" stroke="#bd292e" stroke-width="11.4" stroke-linecap="round" fill="none"/>
<text x="613.5" y="263.3" class="L" font-size="10.5" text-anchor="middle">pSM of SpaMultiVAE</text>
<path transform="scale(.25)" d="M2718 1299h0m211 0h0m100 0h0m-318 7h0m10-1h0m10 2h0m73-1h0m8-1h0m116 6h0m44-4h0m-84 11h0m44 0h0m37 1h0m68 0h0m-222 1h0m26 0h0m11 1h0m2 6h0m13-7h0m32 7h0m42-6h0m-210 14h0m40-6h0m75 0h0m89 4h0m41-5h0m-249 15h0m17-1h0m90 1h0m41 0h0m22-7h0m7 0h0m15 7h0m95-3h0m19 1h0m-231 9h0m12 1h0m10-3h0m53 0h0" stroke="#4150a9" stroke-width="11.4" stroke-linecap="round" fill="none"/>
<path transform="scale(.25)" d="M2756 1291h0m67-2h0m-80 8h0m9 0h0m27 1h0m102 1h0m21 0h0m10-2h0m24 1h0m20 0h0m65-1h0m7 6h0m12-6h0m-337 7h0m48 3h0m19 4h0m7-7h0m20 0h0m46 0h0m4 7h0m27 0h0m6-5h0m17 0h0m20 1h0m63-2h0m18 1h0m21-2h0m-303 8h0m31 6h0m44-4h0m14 5h0m33-6h0m70 6h0m1-6h0m12 0h0m44-1h0m38 0h0m21 0h0m15 0h0m-335 8h0m7 1h0m69 4h0m15-4h0m21 5h0m7-4h0m59 4h0m10 0h0m6-5h0m29 6h0m21 0h0m17 0h0m19-2h0m3-3h0m11-2h0m33 6h0m-320 9h0m31-7h0m11 0h0m32 7h0m29-2h0m8 0h0m3-5h0m25 5h0m7 2h0m13-1h0m40-6h0m8 0h0m9 5h0m25 2h0m10-2h0m8 1h0m10 1h0m8 0h0m11-1h0m2-6h0m17 5h0m19 2h0m2-7h0m-276 12h0m140 0h0m47 2h0m5 1h0m9-2h0m-134 8h0m112 2h0m10-4h0m10 3h0m72 1h0" stroke="#4758b0" stroke-width="11.4" stroke-linecap="round" fill="none"/>
<path transform="scale(.25)" d="M2739 1292h0m8-2h0m39-1h0m44 3h0m74 0h0m37 0h0m47 0h0m12 1h0m8-1h0m20-2h0m6 0h0m-307 8h0m10 2h0m28-2h0m27-1h0m7-1h0m10 4h0m30 0h0m27-3h0m7 1h0m19 0h0m27-1h0m4 6h0m43-4h0m7 0h0m12-2h0m-276 14h0m91 0h0m23-5h0m11-1h0m17 1h0m4 5h0m53-5h0m24-1h0m51 6h0m8-6h0m15 1h0m28-2h0m-310 10h0m10 0h0m10-1h0m20 1h0m43-1h0m12 1h0m10-2h0m55 0h0m7 2h0m11-2h0m44 2h0m12-2h0m37 2h0m20-1h0m-298 14h0m4-7h0m11 1h0m4 6h0m2-5h0m50-1h0m19 6h0m52-7h0m7 6h0m48-6h0m8 1h0m38 0h0m36 5h0m13-6h0m5 5h0m11-5h0m-276 14h0m27-1h0m13-5h0m12 1h0m38-1h0m1 7h0m37-1h0m11-1h0m48-4h0m19-1h0m54 6h0m10-6h0m-284 13h0m82-1h0m13-4h0m79 5h0m32-1h0m3-4h0m30 5h0m-253 9h0m57 0h0m111 0h0m25-3h0m105 0h0" stroke="#4d61b7" stroke-width="11.4" stroke-linecap="round" fill="none"/>
<path transform="scale(.25)" d="M2950 1282h0m15 0h0m-263 7h0m11 2h0m18-1h0m65 2h0m16 0h0m30-1h0m37 0h0m8 1h0m26 0h0m39 1h0m-178 5h0m42 2h0m12-3h0m20 1h0m7 1h0m149-2h0m9 0h0m-254 7h0m9 1h0m13 6h0m106-4h0m-55 12h0m31-7h0m17 7h0m-114 2h0m109 4h0m151 8h0m-244 10h0" stroke="#5c70c2" stroke-width="11.4" stroke-linecap="round" fill="none"/>
<path transform="scale(.25)" d="M2971 1277h0m-255 7h0m12 1h0m5-3h0m28 0h0m11 2h0m17-2h0m74 0h0m13 0h0m17 1h0m9-1h0m25 2h0m66-2h0m-270 7h0m52 1h0m74 3h0m10-3h0m9 2h0m64-2h0m29 0h0m11 2h0m8-3h0m38 2h0m11 20h0" stroke="#6a80cd" stroke-width="11.4" stroke-linecap="round" fill="none"/>
<path transform="scale(.25)" d="M2705 1277h0m101 0h0m6 1h0m19-1h0m19 1h0m56-2h0m38 1h0m16 0h0m18 1h0m9-3h0m12 1h0m27-1h0m-318 7h0m35 2h0m9 1h0m28-2h0m38-1h0m7 1h0m57 0h0m30-1h0m6 0h0m20 3h0m20 0h0m28-1h0m16-1h0m9 0h0m13 0h0m15 0h0m-272 6h0" stroke="#7990d8" stroke-width="11.4" stroke-linecap="round" fill="none"/>
<path transform="scale(.25)" d="M2828 1270h0m34 0h0m20 0h0m-168 8h0m14-1h0m10-2h0m11 0h0m10 1h0m38-2h0m46 1h0m17 0h0m16 1h0m13 0h0m27 1h0m10-1h0m5 1h0m21 1h0m54-3h0m-152 9h0m121 0h0" stroke="#889edf" stroke-width="11.4" stroke-linecap="round" fill="none"/>
<path transform="scale(.25)" d="M2740 1262h0m-22 7h0m8 1h0m10 1h0m25-3h0m57 2h0m83-2h0m10 1h0m17 2h0m39-1h0m18-2h0m-265 10h0m46-4h0m11 3h0m10-1h0m108 0h0m124-1h0" stroke="#97aae0" stroke-width="11.4" stroke-linecap="round" fill="none"/>
<path transform="scale(.25)" d="M2701 1261h0m11 2h0m47 0h0m25-2h0m38 2h0m21-1h0m15 1h0m9-1h0m10 0h0m31 0h0m64 1h0m65-3h0m-331 9h0m45-1h0m30 2h0m7-2h0m19 1h0m29-1h0m12 1h0m9-1h0m61 1h0m21-1h0m6-4h0m0 4h0m30 1h0m18-1h0m20-1h0m19 3h0m-211 7h0" stroke="#a6b5e1" stroke-width="11.4" stroke-linecap="round" fill="none"/>
<path transform="scale(.25)" d="M2929 1255h0m94-1h0m-293 9h0m118-3h0m47 1h0m68-1h0m18 0h0m9 3h0m8 0h0m19 0h0m-217 4h0m33-3h0m123 5h0m48-2h0" stroke="#b5c1e2" stroke-width="11.4" stroke-linecap="round" fill="none"/>
<path transform="scale(.25)" d="M2709 1254h0m202-1h0m-192 8h0m31 0h0m26 0h0m20 0h0m8 0h0m5-5h0m44 0h0m36 5h0m25-1h0m8 1h0m12 0h0m13-5h0m6 5h0" stroke="#c4cbdf" stroke-width="11.4" stroke-linecap="round" fill="none"/>
<path transform="scale(.25)" d="M2719 1247h0m-2 8h0m42-7h0m42 7h0m27-3h0m14-4h0m22 5h0m8 0h0m30 0h0m22-5h0m14 5h0m17-1h0m21 2h0m16 0h0m11 1h0m11-2h0m23-4h0m-310 7h0m111 0h0m130 0h0" stroke="#d4d6dc" stroke-width="11.4" stroke-linecap="round" fill="none"/>
<path transform="scale(.25)" d="M2829 1238h0m-99 7h0m212 0h0m48 1h0m27-1h0m7 2h0m-290 7h0m11-1h0m77-5h0m26 7h0m1-7h0m21 1h0m24 3h0m28 1h0m110 1h0" stroke="#e0d5d1" stroke-width="11.4" stroke-linecap="round" fill="none"/>
<path transform="scale(.25)" d="M2944 1234h0m2 5h0m-245 7h0m13 1h0m62-1h0m5-6h0m10 0h0m42 7h0m47 0h0m17-2h0m2-3h0m5 4h0m13 0h0m15 0h0m76 0h0m-225 3h0m79-1h0m22 5h0m4-5h0m151 6h0" stroke="#e7c9bc" stroke-width="11.4" stroke-linecap="round" fill="none"/>
<path transform="scale(.25)" d="M2733 1225h0m176 2h0m-203 12h0m10-1h0m101 1h0m34-6h0m20 6h0m65-1h0m30 1h0m19 0h0m53 0h0m-311 3h0m9-2h0m3 7h0m23-6h0m11-1h0m36 0h0m57 1h0m45-1h0m6 0h0m36 6h0m49-4h0m22-2h0m-208 8h0m153 0h0m18 6h0" stroke="#eebda8" stroke-width="11.4" stroke-linecap="round" fill="none"/>
<path transform="scale(.25)" d="M2988 1218h0m-208 6h0m7 7h0m74 0h0m138 0h0m-252 1h0m10 1h0m87 6h0m41 0h0m22-5h0m18-2h0m6 7h0m21-6h0m6 5h0m12-5h0m63 1h0m-198 7h0m57 1h0m69 4h0m14-6h0m3 6h0m17-6h0" stroke="#f0af97" stroke-width="11.4" stroke-linecap="round" fill="none"/>
<path transform="scale(.25)" d="M3004 1198h0m-299 14h0m208-3h0m-154 10h0m8-2h0m67 6h0m16-3h0m83-4h0m11 0h0m34 3h0m-227 6h0m65 0h0m5 6h0m45-5h0m16 0h0m58-1h0m10 0h0m9 2h0m7-1h0m-262 7h0m36 0h0m27 0h0m10 1h0m19-2h0m6 0h0m13 2h0m54 0h0m9-2h0m7 2h0m11-2h0m21 0h0m18 2h0m78 4h0m12-5h0m5 6h0" stroke="#f2a285" stroke-width="11.4" stroke-linecap="round" fill="none"/>
<path transform="scale(.25)" d="M2851 1187h0m2 9h0m96 1h0m-163 5h0m28 1h0m28-1h0m64 2h0m8 0h0m112-2h0m-299 9h0m53-1h0m11 0h0m9 1h0m55-1h0m8 0h0m74 1h0m11-2h0m10 1h0m25 0h0m-279 8h0m28 2h0m16-1h0m56-1h0m7-2h0m18 7h0m42-4h0m-166 5h0m8 7h0m4-7h0m9 0h0m44 2h0m32 0h0m37 5h0m6-7h0m12 2h0m18 0h0m45-2h0m54 0h0m30 3h0m18-1h0m-302 7h0m11 0h0m102 1h0m127-1h0m49 0h0m8-1h0" stroke="#ef9276" stroke-width="11.4" stroke-linecap="round" fill="none"/>
<path transform="scale(.25)" d="M2768 1173h0m195 0h0m-208 8h0m37 0h0m193 2h0m45-2h0m-309 7h0m11 3h0m26-3h0m8 0h0m9 2h0m101-1h0m19-1h0m74 0h0m10 2h0m9-3h0m12 3h0m-263 7h0m7 0h0m17-2h0m38 2h0m30-2h0m9 2h0m10-1h0m27 1h0m9 0h0m36 0h0m12 0h0m8 1h0m15-4h0m-190 10h0m13-2h0m29 0h0m23 2h0m49-2h0m10 1h0m46 2h0m66 0h0m9-3h0m26 0h0m-282 8h0m7 0h0m9 2h0m48-3h0m27 1h0m36-1h0m13 0h0m34 2h0m45 0h0m23-1h0m5-1h0m29 0h0m9 0h0m-329 9h0m11-2h0m17 3h0m27 4h0m13-5h0m7 1h0m11 1h0m36-3h0m11 1h0m18 1h0m16 1h0m8 0h0m11-3h0m21 2h0m9-2h0m26 0h0m18 2h0m15 4h0m21-5h0m-213 6h0m14 0h0m84 1h0m12-1h0m25 0h0m83 3h0m20 0h0" stroke="#ec8267" stroke-width="11.4" stroke-linecap="round" fill="none"/>
<path transform="scale(.25)" d="M2813 1087h0m114 30h0m-29 12h0m-80 9h0m95 1h0m-5 6h0m107 0h0m-301 7h0m227 7h0m-235 7h0m11 1h0m8-2h0m65 0h0m4-5h0m62 7h0m17-2h0m15-5h0m3 6h0m-162 8h0m33-5h0m88 6h0m54-1h0m6-5h0m19 0h0m51 4h0m-235 7h0m26 2h0m15-6h0m24 5h0m10 1h0m46 1h0m24-1h0m12 1h0m7-2h0m43-5h0m14 6h0m9 0h0m35 1h0m-271 7h0m67-1h0m33 0h0m28-2h0m47 1h0m8 0h0m12 1h0m10 0h0m9-2h0m56 3h0m8-1h0m-309 5h0m63 1h0m18-1h0m30 4h0m82 0h0m10-1h0m57-2h0m6 0h0m11-1h0m10 1h0m-292 7h0m9 2h0m17-2h0m22 2h0m5-1h0m38 1h0m130 0h0m19-1h0m38 1h0m7 1h0m-158 4h0m8 2h0m84-2h0m91 3h0m5 8h0" stroke="#e77158" stroke-width="11.4" stroke-linecap="round" fill="none"/>
<path transform="scale(.25)" d="M2854 1093h0m13 0h0m-55 10h0m26-7h0m94 7h0m-151 4h0m28 0h0m20 3h0m19-2h0m73 0h0m44 1h0m27 0h0m-263 5h0m48 4h0m45-3h0m10 3h0m27-3h0m58 2h0m64-3h0m56 1h0m-328 7h0m16 1h0m30-1h0m43 0h0m103 3h0m30-3h0m90 0h0m-242 10h0m71-1h0m8-1h0m84 1h0m58-1h0m27 1h0m9-2h0m-319 11h0m9-1h0m38 0h0m27 1h0m39 3h0m8-6h0m13 6h0m71-3h0m7-4h0m18 2h0m39 2h0m24-1h0m-310 5h0m30 2h0m35-2h0m28 0h0m5 7h0m36 0h0m83-5h0m118 0h0m5 5h0m-339 7h0m9 1h0m17-5h0m7 0h0m31 5h0m22 0h0m39-5h0m48-2h0m35 2h0m40-1h0m7-1h0m28 2h0m27 0h0m12-1h0m-301 7h0m138 1h0m9 1h0m8-2h0m36 0h0m7 6h0m14-6h0m24 7h0m39-7h0m20 0h0m12 5h0m-325 9h0m33-1h0m7-5h0m5 4h0m21-4h0m35 6h0m6-6h0m2 5h0m20 0h0m26 2h0m3-7h0m53 7h0m25-7h0m1 6h0m35-5h0m36 0h0m12-1h0m3 7h0m9-1h0m-329 6h0m6-4h0m4 6h0m3-6h0m15 7h0m26-3h0m40 1h0m52-1h0m31 0h0m45 2h0m20-1h0m42-5h0m3 5h0m11-1h0m34 3h0m-291 5h0m46 2h0m114-3h0m130 1h0m-314 8h0m32 2h0m26-1h0m28-1h0m203 0h0m9 2h0m10-3h0m-312 10h0m19-2h0m122 0h0m100 1h0m9 1h0m48 0h0" stroke="#df5e4c" stroke-width="11.4" stroke-linecap="round" fill="none"/>
<path transform="scale(.25)" d="M2701 1087h0m58-1h0m28 1h0m10-1h0m164 0h0m28-1h0m39 1h0m-304 7h0m40-1h0m6 2h0m21 0h0m25 1h0m10-1h0m75-1h0m10 0h0m12-4h0m72 3h0m10 3h0m-289 1h0m5 5h0m46 1h0m43-6h0m14 6h0m-119 6h0m10 2h0m11-2h0m8 2h0m54-2h0m28 1h0m40-1h0m83 0h0m10 1h0m8 2h0m28-3h0m18-1h0m7 1h0m12 1h0m-320 7h0m9 0h0m28 1h0m54-3h0m18 1h0m30 0h0m55 2h0m65-1h0m11-2h0m16 3h0m19 0h0m18-3h0m-310 10h0m18-1h0m47 1h0m12 0h0m35-2h0m11 2h0m47-1h0m35 2h0m19-1h0m7 1h0m47-2h0m10 2h0m39-1h0m-321 7h0m67-2h0m5 1h0m32 0h0m92 1h0m9 1h0m27 0h0m7-2h0m9 0h0m13 2h0m-238 7h0m8-1h0m20 2h0m7-4h0m161 1h0m1 6h0m14-7h0m10 2h0m12 2h0m18-1h0m9-3h0m27 0h0m-289 8h0m15 0h0m18 1h0m7 6h0m4-6h0m17-1h0m10 3h0m11-3h0m56 0h0m17 3h0m26-1h0m10-1h0m21 1h0m27 1h0m10 0h0m-284 5h0m30 7h0m10 0h0m5-6h0m10 1h0m30-2h0m52 0h0m10 0h0m30 0h0m9 2h0m35-2h0m32 7h0m4-6h0m41 0h0m25 0h0m4 5h0m-280 8h0m27 1h0m19-2h0m14-4h0m3 6h0m32-7h0m35 7h0m13-7h0m4 6h0m70-6h0m7 2h0m49-2h0m-252 13h0m92 1h0m11 0h0m44 1h0m28-7h0m14 0h0m6 7h0m14-7h0m9 1h0m17 4h0m29-4h0m-314 13h0m55-2h0m67 3h0m52-7h0m23 5h0m11-5h0m23 5h0m65-1h0m-234 7h0m28 1h0m72 2h0" stroke="#d74c3f" stroke-width="11.4" stroke-linecap="round" fill="none"/>
<path transform="scale(.25)" d="M2777 1087h0m164-2h0m-69 9h0m106-6h0m-247 14h0m7 0h0m10 0h0m32-6h0m5 7h0m49 0h0m16-1h0m92-2h0m45-4h0m19 4h0m-261 9h0m8 1h0m12-3h0m5 1h0m93 1h0m29-2h0m11 3h0m10-1h0m15-1h0m46 3h0m59-1h0m-285 5h0m11 0h0m26 2h0m66-3h0m38 4h0m47-3h0m5 0h0m75-1h0m-274 8h0m19 2h0m94-1h0m110 0h0m10 1h0m37-1h0m-307 6h0m26 1h0m9 0h0m26 2h0m46-3h0m30 3h0m62-3h0m-104 8h0m7 1h0m37-1h0m13 0h0m24 2h0m139 0h0m20-1h0m-329 7h0m11-1h0m24 7h0m95-6h0m45 0h0m54 6h0m57-5h0m9-1h0m-250 13h0m146-6h0m22 7h0m83 0h0m-102 1h0m101 5h0" stroke="#ca3a37" stroke-width="11.4" stroke-linecap="round" fill="none"/>
<path transform="scale(.25)" d="M2804 1087h0m-39 1h0m173 7h0m103-2h0m-242 17h0m-80 7h0m46-1h0m81 8h0m-88 8h0m75-2h0m182 1h0m12 14h0m-8 31h0" stroke="#bd292e" stroke-width="11.4" stroke-linecap="round" fill="none"/>
<text x="720.0" y="263.3" class="L" font-size="10.5" text-anchor="middle">pSM of COSMOS</text>
<defs><linearGradient id="cb275" x1="0" y1="0" x2="0" y2="1"><stop offset="0.00" stop-color="#b6202a"/><stop offset="0.10" stop-color="#d64a3e"/><stop offset="0.20" stop-color="#e9765c"/><stop offset="0.30" stop-color="#f29e80"/><stop offset="0.40" stop-color="#eebeaa"/><stop offset="0.50" stop-color="#dcdbdb"/><stop offset="0.60" stop-color="#b6c2e2"/><stop offset="0.70" stop-color="#92a6df"/><stop offset="0.80" stop-color="#6f85d1"/><stop offset="0.90" stop-color="#4c5fb6"/><stop offset="1.00" stop-color="#3e4ca6"/></linearGradient></defs>
<rect x="772.2" y="275.2" width="5.8" height="65.2" fill="url(#cb275)"/>
<rect x="772.2" y="275.2" width="5.8" height="65.2" fill="none" stroke="#999" stroke-width="0.4"/>
<line x1="778.0" y1="340.4" x2="779.8" y2="340.4" stroke="#333" stroke-width="0.6"/>
<line x1="778.0" y1="324.1" x2="779.8" y2="324.1" stroke="#333" stroke-width="0.6"/>
<line x1="778.0" y1="307.8" x2="779.8" y2="307.8" stroke="#333" stroke-width="0.6"/>
<line x1="778.0" y1="291.5" x2="779.8" y2="291.5" stroke="#333" stroke-width="0.6"/>
<line x1="778.0" y1="275.2" x2="779.8" y2="275.2" stroke="#333" stroke-width="0.6"/>
<text x="780.4" y="278.8" class="D" font-size="8.0">1</text>
<text x="780.4" y="344.3" class="D" font-size="8.0">0</text>
<text x="784.6" y="304.0" class="L" font-size="10.0" text-anchor="middle" transform="rotate(90 784.6 304.0)">pSM value</text>
<text x="2.0" y="386.3" class="L" font-size="19.5" font-weight="bold" dy="0.6">f</text>
<text x="53.4" y="398.3" class="L" font-size="10.5" text-anchor="middle">Annotation</text>
<defs><path id="LO" d="M37.7 409.3 38.8 409.5 40.0 409.7 41.2 410.1 42.5 410.5 43.8 411.0 45.0 411.6 46.2 412.1 47.3 412.8 48.3 413.4 49.2 414.0 49.9 414.6 50.6 415.2 51.2 415.9 51.7 416.5 52.1 417.2 52.5 417.9 52.8 418.7 53.1 419.6 53.4 420.6 53.7 421.7 54.0 422.9 54.2 424.2 54.4 425.6 54.5 427.1 54.6 428.6 54.7 430.2 54.8 431.9 54.8 433.6 54.9 435.3 55.0 437.0 55.1 438.8 55.2 440.7 55.3 442.7 55.4 444.7 55.4 446.8 55.5 448.8 55.5 450.8 55.5 452.7 55.5 454.6 55.5 456.3 55.4 457.9 55.4 459.4 55.3 460.9 55.1 462.3 55.0 463.6 54.8 464.9 54.7 466.2 54.5 467.5 54.2 468.7 54.0 470.0 53.7 471.3 53.5 472.7 53.2 474.0 52.9 475.4 52.6 476.7 52.2 477.9 51.8 479.1 51.4 480.2 51.0 481.2 50.5 482.0 50.0 482.7 49.4 483.2 48.8 483.7 48.2 484.0 47.6 484.3 46.9 484.5 46.2 484.7 45.5 484.8 44.8 484.9 44.0 485.0 43.2 485.1 42.3 485.1 41.5 485.1 40.5 485.0 39.6 484.9 38.7 484.8 37.7 484.6 36.8 484.5 35.9 484.2 35.0 484.0 34.1 483.7 33.3 483.5 32.4 483.1 31.6 482.8 30.8 482.4 29.9 482.0 29.1 481.6 28.3 481.1 27.6 480.6 26.8 480.0 26.1 479.4 25.3 478.8 24.6 478.1 23.9 477.4 23.3 476.7 22.6 475.9 22.0 475.1 21.4 474.2 20.8 473.3 20.2 472.3 19.6 471.2 19.1 470.1 18.6 468.9 18.1 467.6 17.6 466.3 17.1 465.0 16.7 463.6 16.3 462.2 15.9 460.7 15.6 459.3 15.3 457.8 15.1 456.3 14.9 454.8 14.7 453.2 14.5 451.6 14.4 449.9 14.4 448.3 14.3 446.7 14.3 445.1 14.3 443.5 14.3 441.9 14.4 440.3 14.5 438.7 14.7 437.0 14.8 435.4 15.0 433.8 15.3 432.3 15.6 430.8 15.9 429.3 16.2 428.0 16.6 426.7 17.0 425.5 17.5 424.4 18.0 423.3 18.5 422.2 19.1 421.2 19.7 420.2 20.3 419.3 20.9 418.4 21.5 417.6 22.1 416.8 22.7 416.1 23.3 415.4 24.0 414.8 24.6 414.2 25.3 413.7 26.0 413.2 26.7 412.7 27.5 412.2 28.3 411.8 29.1 411.4 30.0 411.0 30.9 410.6 31.8 410.2 32.7 409.9 33.7 409.6 34.6 409.4 35.6 409.3 36.7 409.2Z"/><path id="LG" d="M37.7 411.4 38.6 411.7 39.6 412.0 40.7 412.4 41.9 412.9 43.1 413.5 44.3 414.1 45.4 414.7 46.5 415.3 47.5 416.0 48.4 416.6 49.2 417.2 49.8 417.8 50.3 418.2 50.7 418.7 51.1 419.2 51.4 419.7 51.6 420.2 51.8 420.8 51.9 421.5 52.1 422.3 52.2 423.2 52.4 424.3 52.6 425.6 52.7 427.1 52.8 428.7 52.9 430.4 52.9 432.2 53.0 434.1 53.0 436.0 53.0 437.9 53.0 439.8 53.0 441.7 53.0 443.5 53.0 445.3 53.0 447.1 53.0 448.9 53.0 450.8 53.0 452.6 52.9 454.5 52.9 456.3 52.8 458.0 52.7 459.7 52.6 461.3 52.4 462.8 52.2 464.2 52.0 465.6 51.8 467.0 51.6 468.3 51.4 469.5 51.1 470.7 50.8 471.8 50.5 472.8 50.1 473.8 49.7 474.8 49.2 475.6 48.7 476.4 48.1 477.1 47.4 477.7 46.7 478.3 46.0 478.8 45.3 479.2 44.5 479.6 43.7 480.0 43.0 480.3 42.2 480.5 41.5 480.7 40.8 480.8 40.1 480.9 39.4 481.0 38.7 480.9 38.0 480.9 37.3 480.7 36.6 480.6 35.9 480.4 35.2 480.1 34.5 479.8 33.8 479.5 33.1 479.1 32.3 478.8 31.6 478.3 30.8 477.9 30.0 477.4 29.2 476.8 28.5 476.2 27.8 475.5 27.1 474.8 26.4 474.0 25.8 473.2 25.2 472.3 24.7 471.3 24.2 470.2 23.8 469.1 23.3 468.0 22.9 466.7 22.5 465.5 22.1 464.2 21.7 462.9 21.4 461.5 21.0 460.2 20.6 458.8 20.3 457.4 19.9 455.9 19.5 454.3 19.2 452.8 18.9 451.2 18.6 449.6 18.3 448.1 18.1 446.5 17.9 445.0 17.8 443.5 17.7 442.0 17.7 440.5 17.7 439.0 17.8 437.6 17.9 436.1 18.0 434.6 18.2 433.2 18.3 431.8 18.6 430.5 18.8 429.2 19.1 428.0 19.4 426.8 19.8 425.7 20.2 424.6 20.6 423.6 21.1 422.6 21.6 421.7 22.1 420.8 22.7 419.9 23.2 419.1 23.8 418.3 24.3 417.6 24.9 416.9 25.4 416.3 26.0 415.7 26.6 415.2 27.2 414.7 27.9 414.3 28.5 413.9 29.1 413.5 29.8 413.2 30.4 412.9 31.0 412.6 31.6 412.3 32.2 412.1 32.7 411.8 33.2 411.6 33.8 411.4 34.3 411.3 34.9 411.2 35.5 411.1 36.2 411.1 36.9 411.2Z"/><path id="LE" d="M39.0 413.6 39.7 413.8 40.4 414.0 41.2 414.3 42.0 414.7 42.9 415.0 43.7 415.5 44.5 416.0 45.3 416.5 46.1 417.0 46.8 417.7 47.4 418.3 48.0 419.0 48.5 419.7 48.9 420.5 49.3 421.3 49.6 422.2 49.9 423.0 50.2 424.0 50.4 425.0 50.6 426.0 50.8 427.1 50.9 428.2 51.1 429.4 51.2 430.7 51.3 432.0 51.4 433.5 51.5 435.0 51.5 436.6 51.5 438.2 51.5 439.9 51.5 441.6 51.5 443.3 51.4 445.0 51.4 446.7 51.3 448.4 51.2 450.0 51.1 451.6 51.0 453.3 50.9 455.0 50.8 456.7 50.7 458.5 50.6 460.2 50.4 461.8 50.3 463.5 50.1 465.0 49.8 466.4 49.5 467.8 49.2 469.0 48.8 470.1 48.4 471.1 47.9 472.1 47.4 473.0 46.9 473.8 46.4 474.5 45.8 475.2 45.2 475.8 44.6 476.3 44.0 476.8 43.4 477.2 42.8 477.5 42.2 477.8 41.6 478.0 40.9 478.1 40.3 478.1 39.6 478.1 38.9 478.0 38.2 477.9 37.6 477.7 36.9 477.4 36.3 477.2 35.7 476.8 35.1 476.5 34.6 476.1 34.0 475.7 33.5 475.2 33.0 474.7 32.5 474.1 32.0 473.5 31.6 472.8 31.1 472.1 30.7 471.4 30.3 470.6 29.9 469.8 29.5 469.0 29.1 468.1 28.8 467.1 28.5 466.1 28.2 465.0 27.9 463.9 27.7 462.7 27.4 461.6 27.2 460.4 27.0 459.3 26.7 458.3 26.5 457.2 26.3 456.3 26.1 455.4 25.9 454.7 25.7 453.9 25.5 453.2 25.3 452.6 25.1 451.9 25.0 451.3 24.8 450.6 24.7 449.9 24.5 449.1 24.4 448.3 24.3 447.4 24.2 446.4 24.1 445.3 23.9 444.2 23.8 443.0 23.7 441.8 23.6 440.5 23.5 439.3 23.5 438.0 23.5 436.8 23.5 435.5 23.5 434.3 23.6 433.2 23.7 432.1 23.9 430.9 24.1 429.8 24.3 428.6 24.5 427.5 24.8 426.4 25.1 425.3 25.4 424.2 25.7 423.2 26.1 422.3 26.4 421.4 26.8 420.6 27.2 419.9 27.6 419.2 28.0 418.6 28.5 418.1 29.0 417.6 29.4 417.1 29.9 416.7 30.4 416.3 31.0 415.9 31.5 415.6 32.0 415.3 32.5 415.0 33.0 414.7 33.5 414.4 34.0 414.2 34.5 414.0 35.0 413.8 35.5 413.6 36.1 413.5 36.6 413.4 37.2 413.4 37.8 413.4 38.4 413.5Z"/><path id="LC" d="M36.4 418.7 37.5 418.7 38.7 418.7 40.2 418.7 41.6 418.7 43.1 418.8 44.4 418.9 45.6 419.1 46.4 419.3 46.8 419.6 47.1 419.9 47.3 420.2 47.4 420.5 47.5 421.0 47.6 421.6 47.6 422.3 47.7 423.1 47.8 423.9 47.8 424.7 47.8 425.6 47.8 426.6 47.7 427.6 47.6 428.6 47.5 429.6 47.4 430.6 47.3 431.5 47.1 432.5 46.9 433.4 46.7 434.4 46.5 435.3 46.3 436.3 46.1 437.2 45.8 438.2 45.6 439.1 45.3 440.1 45.1 441.0 44.8 442.0 44.5 443.0 44.3 444.0 44.0 444.9 43.8 445.9 43.6 446.9 43.5 447.9 43.4 448.9 43.2 449.9 43.1 450.8 43.1 451.8 43.0 452.8 42.9 453.7 42.8 454.7 42.8 455.7 42.8 456.7 42.8 457.7 42.7 458.7 42.7 459.6 42.7 460.5 42.6 461.4 42.5 462.3 42.5 463.2 42.4 464.0 42.3 464.8 42.2 465.6 42.1 466.3 41.9 467.0 41.8 467.6 41.5 468.1 41.2 468.7 40.9 469.2 40.5 469.6 40.2 470.1 39.8 470.5 39.4 470.8 39.1 471.1 38.8 471.3 38.5 471.4 38.2 471.5 37.8 471.6 37.5 471.6 37.2 471.6 36.9 471.6 36.6 471.5 36.3 471.4 36.0 471.3 35.7 471.2 35.5 471.1 35.2 470.9 35.0 470.7 34.8 470.4 34.6 470.1 34.4 469.7 34.3 469.3 34.2 468.8 34.0 468.2 33.9 467.6 33.9 466.8 33.8 466.1 33.7 465.2 33.6 464.3 33.6 463.3 33.6 462.1 33.5 460.9 33.5 459.7 33.5 458.5 33.5 457.3 33.4 456.2 33.3 455.2 33.2 454.2 33.1 453.1 33.0 452.1 32.9 451.2 32.7 450.2 32.6 449.3 32.4 448.4 32.1 447.5 31.9 446.7 31.6 446.0 31.2 445.3 30.9 444.6 30.7 443.9 30.4 443.3 30.2 442.6 29.9 441.9 29.7 441.2 29.5 440.6 29.3 439.9 29.2 439.2 29.0 438.5 28.9 437.8 28.8 437.0 28.7 436.1 28.6 435.2 28.6 434.3 28.5 433.3 28.5 432.3 28.5 431.3 28.5 430.3 28.6 429.5 28.7 428.6 28.7 427.7 28.8 426.9 29.0 426.1 29.1 425.4 29.3 424.6 29.5 424.0 29.7 423.4 30.0 422.8 30.4 422.3 30.8 421.7 31.2 421.2 31.6 420.8 32.1 420.3 32.6 420.0 33.0 419.6 33.4 419.4 33.8 419.2 34.0 419.0 34.3 418.9 34.6 418.8 35.1 418.8 35.7 418.7Z"/><path id="LR" d="M39.2 428.4 39.5 428.3 39.8 428.2 40.1 428.3 40.4 428.6 40.5 429.4 40.5 430.7 40.3 432.5 40.0 434.5 39.8 436.6 39.6 438.4 39.5 440.1 39.4 441.7 39.3 443.3 39.2 444.7 39.2 446.1 39.2 447.3 39.4 448.3 39.5 449.3 39.6 450.2 39.6 451.2 39.5 452.3 39.4 453.5 39.2 454.7 39.1 455.6 38.9 456.3 38.7 456.6 38.5 456.8 38.3 456.7 38.1 456.3 38.0 455.7 38.0 454.7 38.1 453.3 38.2 451.7 38.3 450.1 38.3 448.6 38.2 447.3 38.0 446.1 37.8 444.8 37.6 443.6 37.4 442.2 37.3 440.7 37.1 439.1 37.0 437.4 37.0 435.9 37.0 434.5 37.2 433.3 37.4 432.3 37.7 431.4 38.0 430.7 38.3 430.0 38.5 429.5 38.7 429.0 38.8 428.7 39.0 428.5Z"/><path id="RO" d="M68.7 414.6 69.5 414.5 70.3 414.4 71.2 414.4 72.1 414.5 73.0 414.6 74.0 414.8 74.9 415.0 75.9 415.3 76.8 415.6 77.7 415.9 78.6 416.3 79.6 416.7 80.5 417.2 81.5 417.7 82.4 418.3 83.4 418.9 84.3 419.6 85.1 420.3 86.0 421.0 86.7 421.7 87.4 422.5 88.0 423.3 88.6 424.1 89.1 425.0 89.6 425.9 90.1 426.9 90.5 427.8 91.0 428.8 91.4 429.7 91.8 430.7 92.2 431.7 92.6 432.6 93.0 433.5 93.3 434.5 93.6 435.5 93.9 436.5 94.2 437.5 94.5 438.6 94.8 439.8 95.0 441.0 95.2 442.3 95.4 443.8 95.6 445.3 95.8 446.9 95.9 448.5 96.1 450.1 96.2 451.7 96.2 453.3 96.3 454.8 96.3 456.3 96.3 457.7 96.3 459.1 96.2 460.4 96.1 461.8 96.0 463.1 95.9 464.3 95.7 465.6 95.5 466.8 95.3 468.0 95.0 469.2 94.7 470.4 94.4 471.5 94.0 472.6 93.6 473.7 93.2 474.8 92.7 475.8 92.2 476.8 91.7 477.7 91.1 478.6 90.5 479.5 89.9 480.3 89.2 481.1 88.5 481.8 87.8 482.5 87.0 483.2 86.2 483.8 85.4 484.4 84.6 484.9 83.7 485.4 82.8 485.9 81.9 486.3 80.9 486.7 79.8 487.1 78.7 487.4 77.7 487.7 76.6 487.9 75.5 488.1 74.4 488.3 73.4 488.4 72.5 488.4 71.6 488.4 70.8 488.3 69.9 488.2 69.1 488.1 68.3 487.9 67.6 487.6 66.8 487.3 66.1 486.9 65.5 486.4 64.8 485.9 64.2 485.3 63.6 484.6 63.0 483.8 62.4 483.0 61.9 482.1 61.4 481.2 60.9 480.2 60.5 479.1 60.1 478.0 59.7 476.9 59.4 475.7 59.1 474.5 58.9 473.2 58.7 471.9 58.5 470.5 58.3 469.1 58.2 467.6 58.1 466.0 57.9 464.4 57.8 462.8 57.7 461.1 57.6 459.2 57.4 457.3 57.3 455.3 57.2 453.2 57.2 451.2 57.1 449.2 57.1 447.2 57.1 445.3 57.1 443.5 57.1 441.8 57.2 440.1 57.3 438.4 57.4 436.7 57.5 435.1 57.6 433.5 57.8 432.0 57.9 430.6 58.2 429.3 58.4 428.0 58.7 426.8 59.0 425.7 59.3 424.7 59.7 423.8 60.0 422.9 60.4 422.0 60.9 421.2 61.3 420.5 61.8 419.8 62.3 419.1 62.8 418.4 63.4 417.8 64.0 417.2 64.6 416.7 65.2 416.2 65.8 415.8 66.5 415.4 67.2 415.1 67.9 414.8Z"/><path id="RG" d="M68.7 417.2 69.5 417.2 70.4 417.3 71.4 417.3 72.5 417.4 73.7 417.6 74.8 417.7 76.0 417.9 77.1 418.2 78.2 418.4 79.3 418.7 80.2 419.1 81.1 419.5 81.9 419.9 82.7 420.4 83.5 420.9 84.2 421.4 84.9 422.0 85.6 422.6 86.3 423.3 86.9 424.0 87.5 424.7 88.0 425.5 88.5 426.3 89.0 427.2 89.4 428.1 89.8 429.1 90.1 430.1 90.5 431.1 90.8 432.2 91.1 433.3 91.3 434.5 91.6 435.7 91.8 437.0 92.0 438.3 92.2 439.8 92.4 441.2 92.6 442.8 92.7 444.4 92.9 446.0 93.0 447.6 93.0 449.2 93.1 450.8 93.1 452.3 93.1 453.8 93.1 455.3 93.0 456.8 92.9 458.2 92.8 459.7 92.7 461.2 92.5 462.6 92.3 464.0 92.1 465.4 91.8 466.7 91.5 468.0 91.2 469.2 90.8 470.4 90.4 471.5 90.0 472.6 89.6 473.6 89.1 474.6 88.6 475.5 88.0 476.4 87.4 477.3 86.8 478.1 86.1 478.8 85.4 479.5 84.6 480.1 83.8 480.7 82.9 481.2 81.9 481.6 80.9 482.0 79.9 482.4 78.9 482.7 77.9 482.9 77.0 483.1 76.0 483.2 75.1 483.3 74.2 483.3 73.3 483.3 72.4 483.2 71.5 483.1 70.7 482.9 69.8 482.7 69.0 482.4 68.2 482.0 67.4 481.6 66.7 481.2 66.1 480.7 65.5 480.2 65.0 479.6 64.5 478.9 64.0 478.2 63.6 477.5 63.2 476.6 62.9 475.8 62.5 474.9 62.2 473.9 61.9 472.9 61.6 471.8 61.3 470.7 61.1 469.4 60.8 468.2 60.6 466.8 60.5 465.4 60.3 464.0 60.1 462.5 60.0 461.0 59.9 459.4 59.8 457.9 59.7 456.3 59.6 454.7 59.6 452.9 59.5 451.1 59.5 449.3 59.5 447.4 59.5 445.5 59.5 443.7 59.6 441.9 59.6 440.2 59.6 438.5 59.7 437.0 59.8 435.6 59.8 434.2 59.9 432.9 60.0 431.6 60.1 430.4 60.2 429.2 60.3 428.1 60.5 427.0 60.6 426.1 60.8 425.1 61.0 424.3 61.2 423.5 61.4 422.9 61.7 422.3 62.0 421.7 62.3 421.2 62.6 420.8 62.9 420.4 63.2 420.1 63.5 419.7 63.9 419.4 64.2 419.1 64.5 418.8 64.8 418.5 65.1 418.2 65.4 418.0 65.8 417.8 66.1 417.6 66.5 417.5 66.9 417.4 67.4 417.3 68.0 417.2Z"/><path id="RE" d="M69.3 419.1 70.1 419.2 71.0 419.3 71.9 419.4 73.0 419.6 74.1 419.8 75.2 420.0 76.3 420.3 77.4 420.6 78.4 420.9 79.4 421.3 80.2 421.7 80.9 422.1 81.6 422.6 82.2 423.1 82.8 423.6 83.3 424.1 83.8 424.7 84.3 425.3 84.7 426.0 85.2 426.6 85.6 427.4 86.0 428.1 86.4 428.9 86.8 429.7 87.1 430.5 87.4 431.3 87.7 432.2 88.0 433.2 88.3 434.1 88.5 435.1 88.8 436.2 89.0 437.3 89.2 438.4 89.4 439.6 89.6 440.9 89.8 442.3 89.9 443.7 90.1 445.1 90.2 446.6 90.3 448.1 90.4 449.6 90.5 451.0 90.5 452.4 90.5 453.8 90.5 455.1 90.4 456.5 90.3 457.9 90.2 459.2 90.0 460.6 89.9 461.9 89.7 463.2 89.4 464.5 89.2 465.7 88.9 466.8 88.6 467.9 88.3 468.9 87.9 469.9 87.5 470.9 87.1 471.8 86.7 472.6 86.2 473.4 85.7 474.2 85.2 475.0 84.7 475.6 84.1 476.3 83.5 476.9 82.9 477.5 82.2 478.0 81.4 478.5 80.7 478.9 79.9 479.3 79.1 479.7 78.2 480.0 77.4 480.3 76.6 480.5 75.8 480.6 75.1 480.7 74.4 480.7 73.6 480.7 72.8 480.6 72.1 480.5 71.3 480.4 70.6 480.1 69.9 479.9 69.2 479.5 68.6 479.1 68.0 478.7 67.4 478.2 66.9 477.6 66.4 477.0 66.0 476.3 65.7 475.6 65.3 474.8 65.0 473.9 64.7 473.0 64.4 472.1 64.1 471.2 63.9 470.2 63.6 469.2 63.3 468.2 63.1 467.2 62.9 466.1 62.7 465.1 62.5 464.0 62.3 462.8 62.1 461.6 62.0 460.4 61.9 459.1 61.7 457.7 61.6 456.3 61.5 454.8 61.4 453.1 61.3 451.3 61.2 449.4 61.1 447.5 61.1 445.6 61.0 443.7 61.0 441.9 61.0 440.1 61.0 438.5 61.0 437.0 61.0 435.6 61.1 434.3 61.2 433.1 61.3 432.0 61.4 430.9 61.5 429.9 61.7 428.9 61.8 428.0 62.0 427.1 62.1 426.3 62.3 425.5 62.5 424.8 62.7 424.1 62.8 423.5 63.0 423.0 63.2 422.5 63.5 422.1 63.7 421.7 63.9 421.3 64.2 421.0 64.5 420.7 64.8 420.4 65.1 420.1 65.4 419.9 65.7 419.7 66.0 419.5 66.3 419.3 66.7 419.2 67.1 419.1 67.6 419.1 68.1 419.0 68.6 419.1Z"/><path id="RC" d="M67.1 423.1 67.5 423.0 68.1 422.9 68.9 422.9 69.7 422.9 70.6 422.9 71.5 423.0 72.4 423.2 73.2 423.4 74.1 423.6 74.8 423.8 75.4 424.1 76.1 424.5 76.8 424.9 77.4 425.3 78.1 425.8 78.7 426.3 79.2 426.9 79.8 427.5 80.3 428.0 80.8 428.6 81.2 429.3 81.6 429.9 82.0 430.6 82.3 431.4 82.7 432.1 83.0 432.9 83.2 433.7 83.4 434.5 83.6 435.2 83.8 436.0 84.0 436.7 84.1 437.5 84.1 438.2 84.2 438.9 84.2 439.6 84.2 440.4 84.1 441.1 84.1 441.8 84.0 442.6 83.8 443.3 83.6 444.0 83.4 444.7 83.1 445.5 82.8 446.2 82.4 447.0 82.0 447.7 81.7 448.5 81.3 449.3 80.9 450.1 80.6 450.9 80.4 451.7 80.2 452.4 79.9 453.2 79.7 453.9 79.5 454.7 79.3 455.4 79.2 456.2 79.0 457.0 78.8 457.9 78.7 458.8 78.6 459.8 78.5 460.8 78.5 461.8 78.4 462.9 78.4 464.0 78.4 465.1 78.3 466.2 78.3 467.2 78.2 468.2 78.1 469.1 78.0 470.0 77.8 470.9 77.7 471.7 77.5 472.6 77.4 473.4 77.2 474.2 77.0 474.9 76.8 475.5 76.5 476.0 76.3 476.4 76.0 476.7 75.7 476.9 75.4 477.1 75.0 477.3 74.7 477.4 74.3 477.5 73.9 477.5 73.5 477.5 73.1 477.4 72.8 477.3 72.4 477.2 72.0 477.1 71.7 476.9 71.3 476.7 71.0 476.4 70.7 476.1 70.4 475.7 70.1 475.2 69.8 474.7 69.6 474.0 69.3 473.3 69.2 472.4 69.0 471.3 68.9 470.2 68.8 469.0 68.7 467.8 68.6 466.5 68.5 465.2 68.4 464.0 68.3 462.7 68.2 461.5 68.0 460.2 67.9 458.9 67.7 457.6 67.6 456.3 67.5 455.0 67.3 453.7 67.2 452.4 67.1 451.1 67.0 449.8 66.9 448.5 66.8 447.2 66.7 445.9 66.7 444.6 66.6 443.2 66.6 441.9 66.5 440.6 66.5 439.4 66.4 438.2 66.4 437.0 66.4 435.8 66.3 434.7 66.3 433.5 66.3 432.4 66.3 431.4 66.3 430.3 66.3 429.4 66.3 428.5 66.3 427.6 66.4 426.9 66.4 426.1 66.5 425.5 66.5 424.9 66.5 424.4 66.5 424.0 66.6 423.7 66.7 423.5 66.7 423.4 66.9 423.3Z"/><path id="RR" d="M71.9 431.3 72.2 431.2 72.8 431.2 73.4 431.4 74.0 431.8 74.5 432.6 74.8 433.8 75.0 435.4 75.2 437.2 75.3 439.1 75.4 440.9 75.4 442.6 75.2 444.3 75.1 446.1 74.9 447.9 74.9 449.9 75.0 452.2 75.2 454.7 75.4 457.3 75.6 459.6 75.7 461.5 75.7 462.8 75.5 463.8 75.3 464.4 75.1 464.9 74.9 465.3 74.7 465.7 74.4 466.0 74.1 466.1 73.8 465.9 73.6 465.3 73.4 464.1 73.3 462.4 73.2 460.4 73.2 458.3 73.2 456.3 73.3 454.3 73.4 452.2 73.6 450.1 73.7 448.0 73.8 446.1 73.8 444.3 73.8 442.7 73.8 441.1 73.7 439.7 73.6 438.4 73.4 437.4 73.2 436.5 72.9 435.8 72.7 435.2 72.5 434.5 72.3 433.7 72.1 433.0 71.9 432.2 71.8 431.6Z"/><path id="BR" d="M54.6 428.0 57.4 428.0 58.6 445.0 58.6 470.0 60.0 482.0 57.5 489.0 53.0 488.5 50.5 484.0 53.5 470.0 54.6 450.0Z"/><path id="NO" d="M82.2 431.3 84.1 432.6 87.3 437.7 91.2 439.0 91.2 443.5 89.2 444.2 86.7 440.3 83.5 435.2Z"/><path id="LCs" d="M36.6 420.3 37.5 420.2 38.6 420.2 39.8 420.2 41.1 420.3 42.3 420.3 43.4 420.5 44.4 420.6 45.1 420.9 45.5 421.1 45.7 421.4 45.9 421.6 46.0 422.0 46.1 422.4 46.1 423.0 46.1 423.7 46.2 424.4 46.3 425.1 46.3 425.9 46.3 426.8 46.3 427.7 46.2 428.6 46.1 429.6 46.1 430.5 46.0 431.4 45.8 432.3 45.7 433.2 45.6 434.1 45.4 435.0 45.2 435.9 45.0 436.8 44.8 437.7 44.6 438.6 44.4 439.5 44.2 440.4 44.0 441.3 43.7 442.2 43.5 443.1 43.3 444.0 43.1 444.9 42.9 445.9 42.8 446.8 42.6 447.7 42.5 448.6 42.4 449.5 42.3 450.5 42.3 451.4 42.2 452.3 42.1 453.2 42.1 454.1 42.0 455.1 42.0 456.0 42.0 456.9 42.0 457.8 42.0 458.7 41.9 459.6 41.9 460.4 41.8 461.3 41.8 462.1 41.7 462.9 41.6 463.6 41.6 464.4 41.4 465.0 41.3 465.6 41.2 466.2 41.0 466.7 40.7 467.2 40.4 467.7 40.1 468.1 39.8 468.6 39.5 468.9 39.2 469.2 38.9 469.5 38.6 469.7 38.4 469.8 38.1 469.9 37.8 470.0 37.6 470.0 37.3 470.0 37.0 470.0 36.8 469.9 36.5 469.8 36.3 469.7 36.0 469.6 35.8 469.5 35.6 469.3 35.4 469.1 35.2 468.9 35.1 468.6 34.9 468.2 34.8 467.8 34.7 467.3 34.6 466.8 34.5 466.2 34.4 465.5 34.4 464.8 34.3 464.0 34.2 463.1 34.2 462.1 34.2 461.1 34.2 460.0 34.2 458.8 34.1 457.7 34.1 456.6 34.0 455.5 34.0 454.6 33.9 453.6 33.8 452.6 33.7 451.7 33.6 450.8 33.5 449.9 33.3 449.0 33.2 448.2 33.0 447.4 32.7 446.6 32.5 445.9 32.2 445.2 32.0 444.6 31.7 444.0 31.5 443.4 31.3 442.7 31.1 442.1 30.9 441.4 30.8 440.8 30.6 440.2 30.5 439.5 30.3 438.9 30.2 438.2 30.1 437.5 30.1 436.6 30.0 435.8 29.9 434.9 29.9 433.9 29.9 433.0 29.9 432.1 29.9 431.2 30.0 430.4 30.0 429.6 30.1 428.8 30.2 428.0 30.3 427.2 30.4 426.5 30.5 425.8 30.7 425.2 30.9 424.7 31.2 424.1 31.5 423.6 31.8 423.1 32.2 422.6 32.6 422.2 33.0 421.8 33.3 421.4 33.7 421.1 34.1 420.9 34.3 420.7 34.6 420.5 34.8 420.5 35.1 420.4 35.5 420.3 36.0 420.3Z"/><path id="RCs" d="M68.2 424.7 68.6 424.6 69.1 424.5 69.7 424.5 70.4 424.5 71.1 424.5 71.9 424.6 72.7 424.7 73.4 424.9 74.1 425.1 74.7 425.4 75.3 425.6 75.8 426.0 76.4 426.3 77.0 426.8 77.5 427.2 78.0 427.7 78.5 428.2 79.0 428.8 79.4 429.3 79.8 429.9 80.2 430.5 80.5 431.1 80.8 431.7 81.1 432.4 81.4 433.1 81.7 433.9 81.9 434.6 82.1 435.3 82.2 436.1 82.4 436.8 82.5 437.5 82.6 438.2 82.7 438.8 82.7 439.5 82.7 440.2 82.7 440.9 82.7 441.6 82.6 442.3 82.5 443.0 82.4 443.7 82.2 444.3 82.0 445.0 81.8 445.7 81.5 446.4 81.2 447.1 80.9 447.8 80.6 448.5 80.2 449.3 79.9 450.0 79.7 450.8 79.5 451.5 79.3 452.2 79.1 452.9 78.9 453.6 78.7 454.3 78.6 455.1 78.4 455.8 78.3 456.6 78.2 457.4 78.0 458.2 78.0 459.1 77.9 460.1 77.8 461.1 77.8 462.1 77.8 463.1 77.8 464.2 77.7 465.2 77.7 466.1 77.6 467.0 77.5 467.9 77.4 468.7 77.3 469.6 77.2 470.4 77.1 471.2 76.9 472.0 76.7 472.7 76.6 473.3 76.4 473.9 76.2 474.4 76.0 474.7 75.8 475.0 75.5 475.3 75.2 475.5 74.9 475.6 74.6 475.7 74.3 475.8 73.9 475.8 73.6 475.8 73.3 475.7 73.0 475.6 72.7 475.5 72.4 475.4 72.1 475.2 71.8 475.0 71.5 474.7 71.2 474.4 71.0 474.1 70.7 473.6 70.5 473.1 70.3 472.5 70.1 471.8 69.9 471.0 69.8 470.0 69.7 469.0 69.6 467.8 69.5 466.7 69.5 465.5 69.4 464.3 69.3 463.1 69.2 461.9 69.1 460.7 69.0 459.5 68.8 458.3 68.7 457.1 68.6 455.9 68.5 454.7 68.4 453.5 68.3 452.2 68.2 451.0 68.1 449.8 68.0 448.6 67.9 447.3 67.9 446.1 67.8 444.8 67.8 443.6 67.7 442.4 67.7 441.2 67.6 440.0 67.6 438.8 67.6 437.7 67.6 436.6 67.5 435.5 67.5 434.5 67.5 433.4 67.5 432.4 67.5 431.5 67.5 430.6 67.5 429.7 67.5 428.9 67.6 428.2 67.6 427.5 67.6 426.9 67.6 426.3 67.7 425.9 67.7 425.5 67.7 425.2 67.8 425.0 67.9 424.9 68.0 424.8Z"/><path id="LCn" d="M36.8 420.0 37.5 420.0 38.5 420.0 39.5 420.0 40.6 420.0 41.7 420.1 42.7 420.2 43.5 420.4 44.1 420.6 44.5 420.8 44.7 421.1 44.8 421.4 44.9 421.7 45.0 422.2 45.0 422.8 45.1 423.5 45.1 424.2 45.2 424.9 45.2 425.7 45.2 426.6 45.2 427.5 45.1 428.5 45.1 429.4 45.0 430.4 44.9 431.3 44.8 432.2 44.7 433.1 44.5 434.0 44.4 434.9 44.2 435.8 44.1 436.7 43.9 437.6 43.7 438.5 43.5 439.4 43.4 440.3 43.2 441.2 43.0 442.1 42.8 443.1 42.6 444.0 42.4 444.9 42.2 445.9 42.1 446.8 42.0 447.7 41.9 448.7 41.8 449.6 41.7 450.5 41.7 451.4 41.6 452.4 41.6 453.3 41.5 454.2 41.5 455.2 41.5 456.1 41.4 457.1 41.4 458.0 41.4 458.9 41.4 459.8 41.3 460.6 41.3 461.4 41.2 462.3 41.2 463.1 41.1 463.8 41.1 464.6 41.0 465.2 40.9 465.9 40.7 466.4 40.5 467.0 40.3 467.5 40.1 467.9 39.8 468.4 39.5 468.8 39.3 469.2 39.0 469.5 38.7 469.7 38.5 469.9 38.3 470.1 38.0 470.2 37.8 470.2 37.6 470.3 37.3 470.3 37.1 470.2 36.9 470.2 36.7 470.1 36.5 470.0 36.2 469.9 36.1 469.7 35.9 469.6 35.7 469.4 35.6 469.1 35.4 468.8 35.3 468.5 35.2 468.0 35.1 467.6 35.0 467.0 34.9 466.4 34.9 465.7 34.8 465.0 34.7 464.2 34.7 463.3 34.7 462.3 34.7 461.3 34.6 460.1 34.6 459.0 34.6 457.8 34.6 456.7 34.5 455.7 34.5 454.7 34.4 453.7 34.3 452.7 34.2 451.8 34.1 450.8 34.0 449.9 33.9 449.0 33.8 448.2 33.6 447.4 33.4 446.6 33.2 445.9 32.9 445.2 32.7 444.6 32.5 444.0 32.3 443.4 32.1 442.7 32.0 442.1 31.8 441.4 31.7 440.8 31.5 440.1 31.4 439.5 31.3 438.8 31.2 438.1 31.1 437.4 31.1 436.6 31.0 435.7 31.0 434.8 30.9 433.8 30.9 432.9 30.9 432.0 30.9 431.1 31.0 430.2 31.0 429.4 31.1 428.6 31.1 427.8 31.2 427.0 31.3 426.3 31.5 425.6 31.6 425.0 31.8 424.4 32.0 423.9 32.3 423.4 32.6 422.9 32.9 422.4 33.2 422.0 33.6 421.6 33.9 421.2 34.2 420.9 34.5 420.6 34.8 420.4 35.0 420.3 35.2 420.2 35.4 420.1 35.8 420.1 36.2 420.0Z"/><path id="RCn" d="M69.0 424.4 69.3 424.3 69.7 424.2 70.3 424.2 70.9 424.2 71.5 424.3 72.2 424.4 72.9 424.5 73.5 424.7 74.1 424.9 74.7 425.1 75.1 425.4 75.6 425.7 76.1 426.1 76.6 426.5 77.1 427.0 77.5 427.5 78.0 428.0 78.4 428.5 78.7 429.1 79.1 429.7 79.4 430.3 79.7 430.9 80.0 431.6 80.3 432.3 80.5 433.0 80.7 433.7 80.9 434.5 81.1 435.2 81.2 435.9 81.3 436.6 81.4 437.3 81.5 438.0 81.6 438.7 81.6 439.4 81.6 440.1 81.6 440.8 81.6 441.5 81.5 442.2 81.4 442.9 81.3 443.6 81.2 444.3 81.0 444.9 80.8 445.6 80.6 446.3 80.3 447.1 80.0 447.8 79.7 448.5 79.5 449.3 79.2 450.1 79.0 450.8 78.8 451.6 78.6 452.3 78.5 453.0 78.3 453.7 78.2 454.4 78.0 455.1 77.9 455.9 77.8 456.6 77.7 457.4 77.6 458.3 77.5 459.2 77.4 460.2 77.4 461.2 77.4 462.2 77.3 463.3 77.3 464.3 77.3 465.3 77.3 466.3 77.2 467.2 77.1 468.1 77.0 468.9 76.9 469.8 76.8 470.6 76.7 471.4 76.6 472.2 76.4 472.9 76.3 473.6 76.1 474.2 75.9 474.6 75.8 475.0 75.6 475.3 75.3 475.5 75.1 475.7 74.8 475.9 74.6 476.0 74.3 476.1 74.0 476.1 73.7 476.1 73.4 476.0 73.2 475.9 72.9 475.8 72.6 475.7 72.4 475.5 72.1 475.3 71.9 475.0 71.6 474.7 71.4 474.3 71.2 473.9 71.0 473.4 70.8 472.8 70.6 472.1 70.5 471.2 70.4 470.2 70.3 469.2 70.2 468.0 70.2 466.9 70.1 465.7 70.0 464.4 69.9 463.2 69.9 462.0 69.8 460.9 69.7 459.7 69.6 458.4 69.4 457.2 69.3 456.0 69.2 454.7 69.1 453.5 69.1 452.3 69.0 451.0 68.9 449.8 68.8 448.6 68.8 447.3 68.7 446.1 68.7 444.8 68.6 443.5 68.6 442.3 68.5 441.1 68.5 439.9 68.5 438.7 68.5 437.6 68.4 436.5 68.4 435.4 68.4 434.3 68.4 433.3 68.4 432.3 68.4 431.3 68.4 430.4 68.4 429.5 68.4 428.7 68.5 428.0 68.5 427.3 68.5 426.7 68.5 426.1 68.5 425.6 68.5 425.3 68.6 425.0 68.6 424.8 68.7 424.7 68.8 424.6Z"/></defs>
<use href="#BR" transform="translate(0.00 0)" fill="#7D3C9C"/>
<use href="#LO" transform="translate(0.00 0)" fill="#7D3C9C"/>
<use href="#LG" transform="translate(0.00 0)" fill="#F4812F"/>
<use href="#LE" transform="translate(0.00 0)" fill="#4A5FB0"/>
<use href="#LC" transform="translate(0.00 0)" fill="#FDD418" stroke="#FDD418" stroke-width="2.6" stroke-linejoin="round"/>
<use href="#LC" transform="translate(0.00 0)" fill="#46E2EA"/>
<use href="#LR" transform="translate(0.00 0)" fill="#DD1C4B"/>
<use href="#RO" transform="translate(0.00 0)" fill="#7D3C9C"/>
<use href="#RG" transform="translate(0.00 0)" fill="#F4812F"/>
<use href="#RE" transform="translate(0.00 0)" fill="#4A5FB0"/>
<use href="#RC" transform="translate(0.00 0)" fill="#FDD418" stroke="#FDD418" stroke-width="2.6" stroke-linejoin="round"/>
<use href="#RC" transform="translate(0.00 0)" fill="#46E2EA"/>
<use href="#RR" transform="translate(0.00 0)" fill="#DD1C4B"/>
<use href="#NO" transform="translate(0.00 0)" fill="#fff"/>
<path transform="scale(.25)" d="M138 1633h0m27 5h0m12-2h0m-65 7h0m69-2h0m4 5h0m11 0h0m-93 4h0m87-1h0m14-1h0m66 4h0m37 4h0m16 2h0m-109 13h0m25-2h0m11 2h0m77-4h0m-115 6h0m135 1h0m11 6h0m-289 9h0m149 0h0m19 4h0m-6 10h0m139 3h0m11 6h0m-12 9h0m10 0h0m-323 12h0m4-5h0m-5 18h0m1 14h0m327 15h0m2 12h0m0 0h0m6 6h0m-344 8h0m6-1h0m334 7h0m1-7h0m-334 21h0m334 5h0m2 1h0m-329 11h0m-9 5h0m335 17h0m-324 12h0m10 5h0m4 10h0m10 24h0m283-2h0m-2 5h0m-259 11h0m267 2h0m-253 6h0m32 10h0m4 0h0m18 0h0m65-2h0m122-1h0m-62 19h0m-31 2h0m7 1h0m11 2h0" stroke="#7D3C9C" stroke-width="6.0" stroke-linecap="round" fill="none"/>
<path transform="scale(.25)" d="M144 1948h0m32 4h0m32 5h0m32-1h0m-76 4h0m24 2h0" stroke="#7D3C9C" stroke-width="6.4" stroke-linecap="round" fill="none"/>
<text x="158.8" y="391.9" class="L" font-size="10.5" text-anchor="middle">SpaceFlow (Omics-1)</text>
<text x="158.8" y="404.8" class="L" font-size="10.5" text-anchor="middle">ARI = 0.40</text>
<use href="#BR" transform="translate(104.15 0)" fill="#7D3C9C"/>
<use href="#LO" transform="translate(104.15 0)" fill="#7D3C9C"/>
<use href="#LG" transform="translate(104.15 0)" fill="#F4812F"/>
<use href="#LE" transform="translate(104.15 0)" fill="#4A5FB0"/>
<use href="#LCn" transform="translate(104.15 0)" fill="#FDD418" stroke="#FDD418" stroke-width="2.6" stroke-linejoin="round"/>
<use href="#LCn" transform="translate(104.15 0)" fill="#46E2EA"/>
<use href="#RO" transform="translate(104.15 0)" fill="#7D3C9C"/>
<use href="#RG" transform="translate(104.15 0)" fill="#F4812F"/>
<use href="#RE" transform="translate(104.15 0)" fill="#4A5FB0"/>
<use href="#RCn" transform="translate(104.15 0)" fill="#FDD418" stroke="#FDD418" stroke-width="2.6" stroke-linejoin="round"/>
<use href="#RCn" transform="translate(104.15 0)" fill="#46E2EA"/>
<path transform="scale(.25)" d="M537 1647h0m19-7h0m3 2h0m-32 11h0m10-5h0m1 0h0m51 5h0m-75 10h0m94-2h0m4 1h0m-99 7h0m-10 10h0m-2 4h0m125 0h0m-140 41h0m2-4h0m0 12h0m-5 35h0m149 22h0m-2 30h0m-138 7h0m0 0h0m20 57h0m107 10h0m3-2h0m-3 8h0m-14 19h0m-22 9h0m0-1h0m6-3h0" stroke="#F4812F" stroke-width="6.4" stroke-linecap="round" fill="none"/>
<path transform="scale(.25)" d="M541 1651h0m7-2h0m8 0h0m-46 29h0m-3 8h0m113-4h0m-115 8h0m118-2h0m2 23h0m1-2h0m-132 10h0m131-2h0m2 5h0m-1 8h0m-134 33h0m135 11h0m-138 6h0m7 37h0m1-1h0m127 20h0m-116 24h0m5 14h0m103 13h0m2-3h0m-100 4h0m98 6h0m-88 5h0m21 13h0m3 1h0m0 4h0" stroke="#7D3C9C" stroke-width="6.4" stroke-linecap="round" fill="none"/>
<path transform="scale(.25)" d="M550 1655h0m4-2h0m11 0h0m31 8h0m-66 8h0m-10 17h0m2-2h0m1-4h0m0 1h0m-7 13h0m1 0h0m101-4h0m-103 14h0m-3 14h0m109-6h0m-115 33h0m120 6h0m-2 1h0m2 43h0m-114 9h0m4 4h0m10 46h0m93 1h0m-93 5h0m4 6h0m84 12h0m-6 17h0m-53 13h0m7 2h0m10 4h0m0 1h0m9 0h0" stroke="#4A5FB0" stroke-width="6.4" stroke-linecap="round" fill="none"/>
<path transform="scale(.25)" d="M555 1660h0m4-2h0m29 3h0m-49 7h0m74 18h0m-92 15h0m-6 10h0m2 7h0m102 7h0m-105 15h0m-1 8h0m107 6h0m1 26h0m0 13h0m-103 11h0m100 7h0m-95 13h0m3 11h0m91 4h0m-87 14h0m85 4h0m-83 10h0m78 10h0m-3 8h0m-58 10h0m43 8h0m-23 4h0m18 0h0" stroke="#F4812F" stroke-width="6.4" stroke-linecap="round" fill="none"/>
<path transform="scale(.25)" d="M557 1679h0m-5 2h0m47 28h0m-2 17h0m-59 17h0m0 6h0m7 32h0m40 36h0m-31 9h0m29 13h0m-2 23h0m-24 11h0m17 9h0" stroke="#FDD418" stroke-width="6.4" stroke-linecap="round" fill="none"/>
<path transform="scale(.25)" d="M579 1684h0m0 0h0m-24 4h0m40 5h0m1-3h0m-52 16h0m0 1h0m50 27h0m-50 21h0m4 13h0m1 10h0m2 0h0m1 5h0m31 0h0m0 0h0m1 0h0m0-3h0m-31 8h0m1 3h0m1 14h0m1-2h0m26 11h0m-26 13h0m3 44h0m19-3h0m-7 9h0m1 0h0" stroke="#FDD418" stroke-width="6.4" stroke-linecap="round" fill="none"/>
<path transform="scale(.25)" d="M681 1666h0m7 0h0m28 4h0m-45 5h0m67 0h0m10 4h0m-90 24h0m117 2h0m2 4h0m-120 7h0m-1 4h0m0 0h0m131 20h0m-2 7h0m-132 27h0m138-4h0m-139 12h0m137 2h0m2 6h0m1 0h0m-139 57h0m1-1h0m0 0h0m1 13h0m2 10h0m130-5h0m-4 15h0m1-6h0m-1 13h0m-6 13h0m-16 17h0m4 0h0m-16 11h0m8-2h0m3-2h0m-74 5h0m16 9h0m4-1h0" stroke="#F4812F" stroke-width="6.4" stroke-linecap="round" fill="none"/>
<path transform="scale(.25)" d="M674 1677h0m5-4h0m8-1h0m-12 9h0m83 11h0m8 8h0m-106 6h0m-2 17h0m-1 14h0m124 13h0m-125 32h0m3 1h0m0 28h0m127 15h0m-126 21h0m121 17h0m-116 19h0m4 12h0m98 8h0m-4 8h0m-8 8h0m-52 12h0" stroke="#7D3C9C" stroke-width="6.4" stroke-linecap="round" fill="none"/>
<path transform="scale(.25)" d="M676 1677h0m3-3h0m1 2h0m2-3h0m11 0h0m7 2h0m56 28h0m0-6h0m-94 8h0m109 25h0m-112 11h0m114-3h0m-116 7h0m117 3h0m2-1h0m6 58h0m-124 9h0m4 12h0m-1 13h0m2 10h0m115 1h0m0 6h0m-4 8h0m-6 22h0m1-4h0m-93 16h0m6 13h0m1 3h0m5 5h0m61-5h0m-56 8h0m18 3h0" stroke="#4A5FB0" stroke-width="6.4" stroke-linecap="round" fill="none"/>
<path transform="scale(.25)" d="M676 1686h0m1 0h0m32-4h0m17 5h0m16 7h0m-74 9h0m95 22h0m-101 8h0m3-2h0m106 29h0m-107 23h0m110 9h0m3 6h0m-1 6h0m-108 35h0m1 4h0m101 27h0m1-4h0m-97 16h0m1-2h0m2 14h0m1-1h0m0 4h0m4 4h0m69 0h0m-62 11h0m25 6h0m18-4h0" stroke="#F4812F" stroke-width="6.4" stroke-linecap="round" fill="none"/>
<path transform="scale(.25)" d="M700 1695h0m0-1h0m8-1h0m21 15h0m0 2h0m-41 10h0m2 4h0m51 7h0m-52 9h0m0 3h0m-1 18h0m56 1h0m2 7h0m-54 58h0m34 47h0m-24 29h0m5 4h0m2 0h0m1-1h0m2 2h0" stroke="#FDD418" stroke-width="6.4" stroke-linecap="round" fill="none"/>
<path transform="scale(.25)" d="M692 1703h0m1-2h0m3-3h0m-5 29h0m41-4h0m-40 7h0m48 26h0m-1 25h0m-5 6h0m3-3h0m-10 37h0m-1 9h0m0 2h0m-1 13h0m-27 15h0m0 5h0m26 9h0m-2 11h0m-3 13h0m1 0h0" stroke="#FDD418" stroke-width="6.4" stroke-linecap="round" fill="none"/>
<use href="#NO" transform="translate(104.15 0)" fill="#fff"/>
<path transform="scale(.25)" d="M570 1653h0m8-1h0m4 3h0m-57 11h0m0 2h0m3 2h0m-20 9h0m93-3h0m11-1h0m3 4h0m-104 3h0m6-1h0m105 3h0m0-1h0m9 2h0m33 2h0m3-1h0m-6 6h0m2 2h0m1 0h0m4-5h0m-164 10h0m5 2h0m0 2h0m258 0h0m-260 3h0m0 0h0m1-2h0m3 2h0m0 2h0m0 0h0m251-1h0m3-3h0m0 5h0m1-1h0m0-1h0m-143 11h0m3-3h0m31 1h0m2-2h0m1 0h0m3 2h0m4 2h0m92 0h0m2-4h0m0-2h0m4 7h0m1-7h0m1 0h0m6 0h0m1 4h0m1-1h0m-157 5h0m40 1h0m106-1h0m9 4h0m0 5h0m-271 11h0m154 1h0m1-3h0m4 1h0m-156 6h0m0-1h0m113 6h0m5-4h0m9 1h0m-137 14h0m3-1h0m3 0h0m1 1h0m3 0h0m1 2h0m3 0h0m0-1h0m2 1h0m268 9h0m4 1h0m1 0h0m-288 10h0m2-5h0m3 0h0m1 4h0m4-3h0m151-2h0m1 5h0m1-2h0m-159 6h0m278-1h0m2 0h0m0-1h0m-280 10h0m2 1h0m4-1h0m147 0h0m7-1h0m2 3h0m-162 7h0m0-2h0m11 2h0m1 1h0m4-1h0m106 0h0m5 3h0m-141 9h0m7-5h0m4 2h0m2 0h0m1-1h0m2 0h0m117-1h0m8 5h0m30-3h0m3-1h0m119 2h0m-281 3h0m130 5h0m5 2h0m23-6h0m127-1h0m1 4h0m-164 10h0m5 1h0m-116 8h0m1-3h0m1-1h0m7-3h0m3 1h0m1 1h0m1 5h0m99-7h0m162 6h0m1 0h0m-280 7h0m2-1h0m1-1h0m0-3h0m1 0h0m5 0h0m7 0h0m3 2h0m134 3h0m2 0h0m2 2h0m124-3h0m-272 9h0m3 0h0m141-5h0m3 2h0m4-1h0m107 5h0m3-4h0m5 1h0m2 2h0m-274 10h0m2-6h0m19 6h0m246 0h0m1 0h0m-267 4h0m6-2h0m7 0h0m4 0h0m138 0h0m2 0h0m1 0h0m107-1h0m1 7h0m1-1h0m0-2h0m1-4h0m1 3h0m1 2h0m2 0h0m-270 10h0m2-2h0m7 2h0m12 0h0m245-4h0m-265 5h0m17 5h0m136 2h0m3-1h0m3-3h0m-148 6h0m6 4h0m1-4h0m7 6h0m8 0h0m59-5h0m5-1h0m6 3h0m4 2h0m-93 4h0m1 3h0m1-3h0m7-1h0m1 6h0m70-5h0m65 5h0m4-2h0m0-2h0m-145 5h0m4 7h0m1-5h0m3 4h0m0-6h0m1 6h0m6-2h0m24 2h0m29-1h0m1-1h0m2-4h0m4 4h0m3-1h0m0 1h0m66 3h0m81-2h0m4-2h0m3 2h0m-229 3h0m7 5h0m1 1h0m2-6h0m1 4h0m2-2h0m1 1h0m16-1h0m1 3h0m4 2h0m1-5h0m5 5h0m0-5h0m3 4h0m1-4h0m1 3h0m25-3h0m66 3h0m5-3h0m59 5h0m16-6h0m5 2h0m4 2h0m-186 3h0m1 0h0m152 5h0m7 0h0m1 0h0m8-1h0m-29 9h0m2-2h0m2 2h0m24-5h0" stroke="#7D3C9C" stroke-width="6.0" stroke-linecap="round" fill="none"/>
<path transform="scale(.25)" d="M570 1643h0m-22 5h0m3 1h0m2-1h0m19 0h0m4 4h0m7 3h0m1-1h0m0 2h0m129 14h0m7-3h0m-100 11h0m61 0h0m5-4h0m0 1h0m10 4h0m2-4h0m1-1h0m13-1h0m-91 9h0m1-1h0m-117 13h0m4-6h0m1 0h0m3 5h0m-18 7h0m7-1h0m9 17h0m106 2h0m1-4h0m5 4h0m151-2h0m1 1h0m-274 7h0m10-1h0m2-3h0m260 4h0m-275 11h0m5-5h0m268 12h0m4-2h0m0 1h0m-293 6h0m6 0h0m5-1h0m9-2h0m-1 9h0m5-1h0m271 2h0m2 0h0m3 0h0m-163 19h0m2 2h0m0 0h0m2-3h0m4 0h0m2-2h0m147 11h0m-279 10h0m283-3h0m1-1h0m-286 10h0m2-3h0m21 16h0m2 4h0m3-3h0m254 2h0m-118 10h0m123-6h0m2 0h0m-277 13h0m2-3h0m1-2h0m111 5h0m37 1h0m3-4h0m6 1h0m-151 7h0m10-3h0m94 0h0m4 6h0m36-5h0m4 0h0m-160 9h0m3 0h0m3 2h0m5 0h0m260 2h0m2-3h0m2 3h0m-265 14h0m104-2h0m3 1h0m0 4h0m-105 1h0m2 1h0m102 1h0m0 0h0m1 4h0m-100 7h0m0 2h0m4-2h0m243 10h0m-219 8h0m57-6h0m2 5h0m3 0h0m3-3h0m2-2h0m155 6h0m0-6h0m-225 13h0m65-1h0m2-2h0m1 4h0m55 0h0m93-2h0m5-3h0m0-2h0m-220 9h0m0-1h0m2 6h0m2-3h0m57 0h0m63 2h0m-128 3h0m1 1h0m3 1h0m0 1h0m2 1h0m1-3h0m4 2h0m117-3h0m-127 8h0m4 1h0m146-1h0m0 2h0m6-1h0m29 6h0m1-6h0m-13 8h0m1 1h0m4 0h0m8 2h0" stroke="#4A5FB0" stroke-width="6.0" stroke-linecap="round" fill="none"/>
<path transform="scale(.25)" d="M561 1702h0m4 0h0m19-1h0m3 1h0m-20 3h0m10-1h0m6 5h0m2 0h0m1-5h0m-33 11h0m1 0h0m1-3h0m25 29h0m2-1h0m2-3h0m123 6h0m2-7h0m-155 14h0m3-4h0m3 1h0m1 0h0m1 0h0m0 0h0m1-1h0m0 3h0m145-2h0m-150 10h0m19 1h0m7-1h0m146-4h0m0 4h0m0-4h0m-161 12h0m5-5h0m2 7h0m5-4h0m146 2h0m1 1h0m3 7h0m-164 9h0m1-1h0m140 2h0m15 0h0m-165 8h0m0-1h0m10-5h0m138 0h0m2 0h0m16 3h0m7 1h0m-173 6h0m160 0h0m-150 10h0m1-2h0m6-3h0m139 5h0m1-3h0m3 2h0m1-4h0m2 1h0m-154 29h0m3-2h0m144-2h0m3 3h0m2 0h0m-150 6h0m3-3h0m2 2h0m-15 7h0m2-1h0m1 0h0m13 0h0m137 23h0m9-3h0m-4 4h0m-12 12h0m2 0h0m6 3h0m-6 3h0m0-1h0m1 4h0m1-3h0m7 3h0m2-4h0" stroke="#DD1C4B" stroke-width="6.0" stroke-linecap="round" fill="none"/>
<path transform="scale(.25)" d="M584 1701h0m4-1h0m-6 4h0m124 81h0m1 0h0m5 2h0" stroke="#FDD418" stroke-width="6.0" stroke-linecap="round" fill="none"/>
<path transform="scale(.25)" d="M552 1694h0m7 0h0m2-4h0m3 0h0m-12 7h0m7 3h0m27 87h0m2 3h0m-1 4h0m-12 16h0m3 2h0m1 3h0m118-2h0m2 6h0m1-3h0m-148 11h0m2 1h0m-3 9h0m7 15h0m0 1h0m3-1h0" stroke="#DD1C4B" stroke-width="6.0" stroke-linecap="round" fill="none"/>
<path transform="scale(.25)" d="M639 1724h0m5-3h0m8 0h0m-7 13h0m1-1h0m6 4h0m-173 10h0m2 2h0m173 1h0m-175 2h0m154 7h0m2-3h0m2 2h0m16-4h0m2 1h0m141 34h0m-1 4h0m2 0h0m-318 18h0m4 4h0m2-5h0m156 53h0m0-5h0m5 7h0m23 52h0m-65 3h0m0 4h0m5 0h0m9-1h0m0-3h0m2 2h0m48 5h0m3-4h0m-92 11h0m2-5h0m4 1h0m157 12h0m6-3h0m2 3h0" stroke="#F4812F" stroke-width="6.0" stroke-linecap="round" fill="none"/>
<path transform="scale(.25)" d="M607 1630h0m-60 8h0m12-5h0m9 0h0m-46 12h0m156-2h0m9 11h0m14-3h0m7 4h0m-20 2h0m32 2h0m-226 12h0m178-4h0m-176 8h0m148 1h0m106-2h0m-114 12h0m10 1h0m1-6h0m154 40h0m-332 9h0m6 4h0m313-5h0m8 8h0m2 10h0m0 10h0m-327 3h0m337 26h0m-340 14h0m1 0h0m336 20h0m0 18h0m-328 14h0m15 30h0m303 12h0m-298 3h0m290 13h0m-3 2h0m-264 9h0m2 6h0m10 5h0m4 0h0m233 2h0m-213 7h0m27 2h0m23 0h0m153-2h0m8-1h0m-184 4h0m165 1h0m4-1h0m-196 11h0m53 0h0m52-2h0m22 0h0m23 3h0m-22 5h0m22 4h0" stroke="#7D3C9C" stroke-width="6.0" stroke-linecap="round" fill="none"/>
<path transform="scale(.25)" d="M561 1948h0m32 4h0m32 5h0m32-1h0m-76 4h0m24 2h0" stroke="#7D3C9C" stroke-width="6.4" stroke-linecap="round" fill="none"/>
<text x="264.0" y="391.9" class="L" font-size="10.5" text-anchor="middle">SpaceFlow (Omics-2)</text>
<text x="264.0" y="404.8" class="L" font-size="10.5" text-anchor="middle">ARI = 0.48</text>
<use href="#BR" transform="translate(208.30 0)" fill="#7D3C9C"/>
<use href="#LO" transform="translate(208.30 0)" fill="#7D3C9C"/>
<use href="#LG" transform="translate(208.30 0)" fill="#F4812F"/>
<use href="#LE" transform="translate(208.30 0)" fill="#F4812F"/>
<use href="#LC" transform="translate(208.30 0)" fill="#FDD418" stroke="#FDD418" stroke-width="2.6" stroke-linejoin="round"/>
<use href="#LC" transform="translate(208.30 0)" fill="#4A5FB0"/>
<use href="#RO" transform="translate(208.30 0)" fill="#7D3C9C"/>
<use href="#RG" transform="translate(208.30 0)" fill="#F4812F"/>
<use href="#RE" transform="translate(208.30 0)" fill="#F4812F"/>
<use href="#RC" transform="translate(208.30 0)" fill="#FDD418" stroke="#FDD418" stroke-width="2.6" stroke-linejoin="round"/>
<use href="#RC" transform="translate(208.30 0)" fill="#4A5FB0"/>
<path transform="scale(.25)" d="M970 1643h0m-29 12h0m70 0h0m-72 2h0m86 4h0m-96 6h0m107 2h0m-114 7h0m113-4h0m3 0h0m-119 13h0m123-1h0m-138 35h0m2-5h0m140-1h0m-143 18h0m146 3h0m-2 9h0m-144 7h0m-3 5h0m147 4h0m-143 34h0m2 13h0m8 31h0m131 2h0m-12 62h0m-90 5h0m3 3h0m4 0h0m76 0h0m-64 9h0m6 2h0m3 0h0m26 6h0m3 0h0" stroke="#F4812F" stroke-width="6.4" stroke-linecap="round" fill="none"/>
<path transform="scale(.25)" d="M955 1655h0m18-6h0m54 18h0m-96 5h0m103 6h0m-114 15h0m122 12h0m-129 10h0m-2 10h0m-3 9h0m-1 6h0m2 34h0m133 7h0m-131 11h0m2 18h0m7 28h0m2 11h0m104 52h0m-69 8h0m57 5h0m-29 8h0m6 0h0m0-2h0m2 2h0m0 0h0" stroke="#7D3C9C" stroke-width="6.4" stroke-linecap="round" fill="none"/>
<path transform="scale(.25)" d="M959 1679h0m11-5h0m3-2h0m33 0h0m-52 15h0m-3 4h0m75 19h0m-2 3h0m-78 18h0m1 1h0m-2 10h0m75 8h0m-63 31h0m54-1h0m0 4h0m-2 18h0m-44 13h0m41-7h0m0 14h0m1-3h0m-2 5h0m-39 19h0m1 7h0m0 8h0m4 23h0m2 6h0m4 3h0" stroke="#FDD418" stroke-width="6.4" stroke-linecap="round" fill="none"/>
<path transform="scale(.25)" d="M963 1686h0m3-4h0m3-2h0m14 0h0m-30 20h0m69-1h0m1 0h0m1 5h0m-4 27h0m-3 10h0m-64 25h0m53 7h0m2-3h0m-48 11h0m8 32h0m0 3h0m35 5h0m1 4h0m-2 30h0m1-3h0m-31 25h0m1 3h0m15 2h0" stroke="#FDD418" stroke-width="6.4" stroke-linecap="round" fill="none"/>
<path transform="scale(.25)" d="M1096 1670h0m2-3h0m39 1h0m5 3h0m-59 6h0m5-1h0m0 0h0m77 2h0m3 4h0m3 0h0m-93 8h0m104 3h0m-107 6h0m-2 11h0m122 9h0m-125 16h0m0 6h0m-2 18h0m1-7h0m0 53h0m136 41h0m1-6h0m-127 54h0m0 0h0m6 15h0m102 1h0m-88 19h0m17 5h0m10 1h0m15 1h0" stroke="#F4812F" stroke-width="6.4" stroke-linecap="round" fill="none"/>
<path transform="scale(.25)" d="M1101 1671h0m11 0h0m-17 5h0m38-3h0m-50 18h0m1-2h0m82-1h0m-87 12h0m-4 13h0m2-1h0m-1 8h0m0 0h0m-1 19h0m1 1h0m122 27h0m1-7h0m2 6h0m1 12h0m-126 26h0m127 5h0m-126 37h0m126-2h0m-10 39h0m-108 13h0m103 0h0m-9 12h0m-83 11h0m20 8h0m7 2h0m11 1h0" stroke="#7D3C9C" stroke-width="6.4" stroke-linecap="round" fill="none"/>
<path transform="scale(.25)" d="M1098 1693h0m7-5h0m21 2h0m24 16h0m4-1h0m14 31h0m2 6h0m4 16h0m-77 7h0m0 23h0m3 6h0m-2 6h0m4 27h0m1 18h0m2 8h0m42 9h0m0 6h0m-39 17h0m0-2h0m3 17h0m31-1h0m1-3h0m-25 13h0m3 2h0m2 1h0" stroke="#FDD418" stroke-width="6.4" stroke-linecap="round" fill="none"/>
<path transform="scale(.25)" d="M1100 1695h0m19 0h0m-19 6h0m0-5h0m23 0h0m3 0h0m6 2h0m5 3h0m5 4h0m10 6h0m-53 1h0m61 13h0m-60 39h0m0 0h0m69-4h0m-3 15h0m-62 1h0m61 6h0m-59 17h0m1 44h0m2 25h0m37-2h0m-8 37h0m2-5h0m-4 6h0" stroke="#FDD418" stroke-width="6.4" stroke-linecap="round" fill="none"/>
<use href="#NO" transform="translate(208.30 0)" fill="#fff"/>
<path transform="scale(.25)" d="M986 1682h0m4 0h0m6 10h0m-39 8h0m168 1h0m-165 7h0m5-3h0m143 6h0m17-2h0m1-3h0m1 4h0m2 0h0m13 1h0m5-1h0m-131 9h0m86-6h0m4 4h0m2-3h0m19-1h0m2 1h0m0-1h0m1 3h0m20-1h0m-183 10h0m47-2h0m2 3h0m3-4h0m82 1h0m4-1h0m9 1h0m3 1h0m-160 5h0m2 5h0m3-3h0m2 1h0m2 1h0m0-1h0m3 2h0m45-2h0m4-1h0m97-2h0m42 6h0m-205 6h0m1 2h0m11-5h0m138 4h0m49-6h0m2 1h0m1 3h0m5-1h0m-203 5h0m44 3h0m2 2h0m4-2h0m96-1h0m3-2h0m57 2h0m-55 20h0m5 1h0m6-4h0m-166 7h0m2 0h0m2 0h0m153 5h0m2-2h0m1-1h0m33 0h0m2-2h0m3 4h0m1-2h0m0 0h0m1-1h0m8 2h0m-50 8h0m38-4h0m3-1h0m-183 12h0m135-1h0m3 1h0m42 1h0m3-2h0m2-2h0m0 6h0m-187 3h0m4 3h0m178 1h0m0 0h0m1-4h0m5-2h0m-149 15h0m2-1h0m142-4h0m-179 9h0m8 0h0m26-2h0m-37 7h0m2 31h0m135-2h0m6-2h0m1-1h0m-143 10h0m0-3h0m32 1h0m1-2h0m1 2h0m106-2h0m0 2h0m1 5h0m-138 7h0m2-2h0m3 5h0m15 2h0m4 1h0m2 1h0m121 2h0m4-1h0m-6 6h0m1 8h0m2-3h0m2 1h0m14 5h0m1-3h0m0 7h0" stroke="#46E2EA" stroke-width="6.0" stroke-linecap="round" fill="none"/>
<path transform="scale(.25)" d="M987 1716h0m0 0h0m144 0h0m-156 5h0m2-1h0m6 5h0m3-4h0m147 5h0m1-5h0m-157 21h0m-7 5h0m6 2h0m1-2h0m0-2h0m166 6h0m0 0h0m0 0h0m-166 3h0m161 2h0m3-3h0m2 1h0m-2 6h0m2 7h0m-7 3h0m7-1h0m0 4h0m1-5h0m-4 15h0m2-7h0m3 4h0m-164 11h0m1-3h0m138-4h0m4 1h0m0 0h0m18 0h0m1 3h0m2-1h0m0 0h0m6-3h0m-174 12h0m0 1h0m8-5h0m138 4h0m18-3h0m-163 9h0m143-1h0m2 4h0m4-1h0m0-3h0m7 0h0m-155 19h0m0 0h0m0-4h0m0 6h0m4-2h0m1 3h0m-6 20h0m4 4h0m2-4h0m137 20h0m7-1h0m-5 3h0m11 13h0m2-4h0m-9 10h0m1 0h0m3 2h0m4-5h0" stroke="#46E2EA" stroke-width="6.0" stroke-linecap="round" fill="none"/>
<path transform="scale(.25)" d="M998 1673h0m19 6h0m0 0h0m-13 5h0m1-4h0m5 1h0m98 14h0m-1 1h0m4 0h0m9 2h0m2 2h0m2-3h0m-33 59h0m7 6h0m2 0h0m-149 6h0m3 5h0m1-1h0m143-3h0m3 5h0m1 4h0m-126 101h0m-4 1h0m3 2h0m159 16h0m5 1h0m4-1h0m-9 10h0m1 0h0m1 2h0" stroke="#4A5FB0" stroke-width="6.0" stroke-linecap="round" fill="none"/>
<path transform="scale(.25)" d="M1008 1647h0m0-5h0m-66 13h0m66-7h0m108 2h0m14 0h0m-193 12h0m2-4h0m89 3h0m86 2h0m15-2h0m2-3h0m-104 11h0m2-5h0m89 4h0m51 14h0m3 0h0m1 0h0m18 25h0m1 2h0m2-2h0m3 15h0m2 4h0m2-6h0m-134 95h0m1-7h0m0 2h0m-18 23h0m7-1h0m5 1h0m-164 26h0m5-2h0m1-1h0m136 7h0m3-1h0m1 1h0m167-6h0m0 2h0m6-1h0m-168 23h0m0 2h0m3 1h0m11 1h0m1 2h0m4 6h0m-68 39h0m0-3h0m-2 11h0m121 4h0m4 4h0m1 3h0" stroke="#F4812F" stroke-width="6.0" stroke-linecap="round" fill="none"/>
<path transform="scale(.25)" d="M952 1635h0m20-3h0m4 1h0m0-1h0m-27 9h0m65 4h0m102-3h0m-197 10h0m5 4h0m119 3h0m52-1h0m10-1h0m-37 12h0m8 1h0m1 1h0m8-4h0m83 5h0m-264 11h0m168 0h0m-19 17h0m147 10h0m11 39h0m1 5h0m3 3h0m-329 16h0m0 7h0m1 0h0m-4 6h0m-2 7h0m339 7h0m-341 8h0m6 6h0m335 12h0m4 7h0m-3 10h0m14 0h0m-341 9h0m2 20h0m313 25h0m-298 13h0m14 10h0m2 6h0m16-2h0m3 3h0m254 0h0m-241 8h0m230-3h0m-234 4h0m51 7h0m23 0h0m2-1h0m52-1h0m97 0h0m-211 5h0m34-2h0m86 1h0m0 0h0m1 7h0m13 2h0m32 0h0m40-1h0" stroke="#7D3C9C" stroke-width="6.0" stroke-linecap="round" fill="none"/>
<path transform="scale(.25)" d="M977 1948h0m32 4h0m32 5h0m32-1h0m-76 4h0m24 2h0" stroke="#7D3C9C" stroke-width="6.4" stroke-linecap="round" fill="none"/>
<path transform="scale(.25)" d="M987 1736h0m1 8h0m139 0h0m-138 8h0m139 2h0m-140 6h0m141 4h0m1 10h0m-1 10h0m-1 8h0" stroke="#DD1C4B" stroke-width="7.2" stroke-linecap="round" fill="none"/>
<text x="369.5" y="391.9" class="L" font-size="10.5" text-anchor="middle">WNN</text>
<text x="369.5" y="404.8" class="L" font-size="10.5" text-anchor="middle">ARI = 0.06</text>
<use href="#BR" transform="translate(312.45 0)" fill="#7D3C9C"/>
<use href="#LO" transform="translate(312.45 0)" fill="#7D3C9C"/>
<use href="#LG" transform="translate(312.45 0)" fill="#7D3C9C"/>
<use href="#LE" transform="translate(312.45 0)" fill="#7D3C9C"/>
<use href="#LC" transform="translate(312.45 0)" fill="#7D3C9C" stroke="#7D3C9C" stroke-width="2.6" stroke-linejoin="round"/>
<use href="#LC" transform="translate(312.45 0)" fill="#7D3C9C"/>
<use href="#RO" transform="translate(312.45 0)" fill="#7D3C9C"/>
<use href="#RG" transform="translate(312.45 0)" fill="#7D3C9C"/>
<use href="#RE" transform="translate(312.45 0)" fill="#7D3C9C"/>
<use href="#RC" transform="translate(312.45 0)" fill="#7D3C9C" stroke="#7D3C9C" stroke-width="2.6" stroke-linejoin="round"/>
<use href="#RC" transform="translate(312.45 0)" fill="#7D3C9C"/>
<use href="#NO" transform="translate(312.45 0)" fill="#fff"/>
<path transform="scale(.25)" d="M1373 1644h0m2-1h0m4-1h0m7-1h0m25 4h0m17 2h0m-66 4h0m7-2h0m51 3h0m-70 11h0m101-1h0m6 9h0m77-7h0m0 0h0m8 4h0m6-1h0m-208 10h0m241-1h0m-88 11h0m5-1h0m-4 6h0m106 3h0m-113 4h0m121 10h0m-291 9h0m172-1h0m2-3h0m120 3h0m0 2h0m2-4h0m-298 8h0m299-1h0m-150 12h0m14 0h0m136 1h0m5-2h0m-143 9h0m-166 9h0m4-2h0m5 1h0m-11 4h0m9-2h0m1 6h0m156-2h0m3 2h0m2-3h0m143-3h0m-310 10h0m157-1h0m1-1h0m-163 8h0m169 2h0m147 3h0m7-3h0m-316 6h0m150 0h0m-152 10h0m150 0h0m17-1h0m-159 13h0m155 1h0m156-7h0m-322 14h0m11-5h0m159 0h0m-10 7h0m0 5h0m13 2h0m3-7h0m142 7h0m0-6h0m5 6h0m0-1h0m-320 3h0m4 6h0m154-1h0m7-6h0m2 4h0m149 0h0m3 0h0m-314 9h0m2-2h0m159-2h0m145 6h0m-302 2h0m140 4h0m1-1h0m3-2h0m24 0h0m135-1h0m-310 10h0m18 3h0m1 1h0m128-2h0m18-3h0m-159 7h0m10 5h0m1-5h0m1 3h0m0-4h0m2 7h0m129-1h0m14-4h0m-148 9h0m5 3h0m140-2h0m10-1h0m6-2h0m138 0h0m3 2h0m-296 10h0m6-1h0m-12 5h0m1 5h0m5-2h0m5 2h0m128 0h0m9-2h0m11 0h0m0-2h0m132 3h0m7-2h0m1-2h0m-299 13h0m10-6h0m126 1h0m28 1h0m1 3h0m119 0h0m0 8h0m10-4h0m-277 12h0m0-1h0m2 1h0m4-2h0m130-2h0m9 5h0m2 0h0m115-4h0m1 5h0m14-7h0m-175 13h0m0-2h0m14 4h0m6-6h0m18 6h0m1 0h0m3-3h0m6 1h0m2-4h0m-142 12h0m1-1h0m17-2h0m3 5h0m74-1h0m2 1h0m2-4h0m49 3h0m6 1h0m-147 5h0m54 3h0m10-1h0m10 0h0m27-4h0m7 0h0m3 5h0m9-5h0m22 1h0m6 1h0m90-3h0m-203 14h0m14-2h0m6-3h0m3 1h0m1 0h0m11-1h0m5 2h0m5-2h0m18-1h0m7 4h0m2-5h0m17 2h0m51 4h0m34-1h0m26-2h0m2-3h0m-206 8h0m65 2h0m23 0h0m26 1h0m17 0h0m16-3h0m11 6h0m12-4h0m6-2h0m-110 14h0m11 0h0m4-1h0m58-4h0m4 1h0m3 2h0m2-4h0m3 0h0m12 0h0m11 2h0m5 0h0m-99 7h0m0 2h0m7-2h0" stroke="#F4812F" stroke-width="6.0" stroke-linecap="round" fill="none"/>
<path transform="scale(.25)" d="M1406 1638h0m-26 5h0m59 9h0m2 6h0m92 2h0m-13 4h0m24 3h0m4 0h0m-62 51h0m-167 6h0m-5 16h0m174 8h0m-25 8h0m6 5h0m10 24h0m-170 16h0m172 5h0m2-4h0m-8 21h0m-159 14h0m318 5h0m-157 26h0m146 1h0m-288 7h0m-1 10h0m157 1h0m122 2h0m-4 14h0m-149 8h0m30-3h0m-41 8h0m53 0h0m100-1h0m-226 15h0m43-1h0m57 6h0m122-4h0m-92 5h0m58 0h0m-83 13h0m76-5h0" stroke="#4A5FB0" stroke-width="6.0" stroke-linecap="round" fill="none"/>
<path transform="scale(.25)" d="M1400 1647h0m-22 3h0m6-1h0m-16 14h0m67-1h0m-80 5h0m1-2h0m1 6h0m6-4h0m-15 10h0m163-2h0m6-2h0m4-1h0m10 3h0m14 2h0m0-4h0m9 5h0m0-3h0m-214 8h0m5-1h0m11 0h0m95-2h0m5 4h0m50 1h0m68-5h0m13 9h0m-246 11h0m1 1h0m252 0h0m3-4h0m-250 11h0m253 3h0m2-4h0m4 4h0m-265 4h0m116 1h0m38-3h0m-39 12h0m3 0h0m34 0h0m108-2h0m4 15h0m3-2h0m-285 9h0m2 1h0m3 4h0m131-1h0m33-5h0m117 0h0m-276 22h0m128-1h0m-122 9h0m151-2h0m127-3h0m-289 7h0m4 0h0m129 0h0m31 2h0m-164 9h0m3 0h0m5 4h0m6-7h0m-14 14h0m8-5h0m120 10h0m-124 10h0m2-4h0m10 0h0m112 2h0m38 3h0m-164 8h0m2-6h0m2 3h0m1-1h0m1 5h0m16-5h0m267 7h0m-286 9h0m10 4h0m5-2h0m1-1h0m3-1h0m101-2h0m2 0h0m-107 10h0m4 5h0m106-4h0m152 4h0m4-4h0m-265 6h0m104 1h0m159 3h0m0-4h0m3 4h0m-274 8h0m113-2h0m41 1h0m-142 9h0m-5 5h0m6 3h0m0-1h0m9 0h0m85 2h0m1 0h0m54 0h0m101-2h0m4-2h0m-244 9h0m236 0h0m-242 12h0m10-3h0m1-3h0m76 4h0m-84 5h0m4 2h0m3-2h0m71 0h0m157 2h0m-232 4h0m2 0h0m25 3h0m30 4h0m14-5h0m70 2h0m3 3h0m3-2h0m0-1h0m-124 8h0m1-4h0m19 3h0m11 2h0m2 2h0m91-2h0m7-4h0m47 6h0m18-5h0m7 4h0m0-5h0m-188 9h0m126 3h0m11 1h0m20-3h0m-8 6h0m1 2h0m10-3h0" stroke="#F4812F" stroke-width="6.0" stroke-linecap="round" fill="none"/>
<path transform="scale(.25)" d="M1388 1651h0m-25 16h0m69 0h0m-81 7h0m203 4h0m-97 40h0m151-2h0m-284 20h0m132 16h0m161 18h0m-5 7h0m-282 17h0m158 4h0m-136 22h0m260 7h0m-2 16h0m-259 10h0m262 3h0m-260 13h0m150 9h0m-51 4h0m156 5h0m-159 8h0m-28 16h0m-33 1h0m184 5h0m-170 5h0m125 5h0m45 1h0" stroke="#4A5FB0" stroke-width="6.0" stroke-linecap="round" fill="none"/>
<path transform="scale(.25)" d="M1380 1663h0m8-4h0m10 4h0m15-2h0m8 2h0m-54 6h0m42-2h0m-25 6h0m0 0h0m38 2h0m-63 7h0m167 4h0m3-6h0m2 7h0m12-1h0m-1 5h0m12-2h0m19-1h0m-208 13h0m140 2h0m5 0h0m54-1h0m2-3h0m6 1h0m2-1h0m1 1h0m-224 8h0m5 2h0m8-1h0m86 2h0m57-2h0m2-4h0m54-1h0m28 7h0m-146 7h0m5-2h0m51 2h0m12-2h0m66 1h0m-231 6h0m93 0h0m4 2h0m1 0h0m4 2h0m46-7h0m100 6h0m-91 7h0m79-1h0m5-3h0m-243 11h0m0-1h0m4-3h0m14 13h0m73-5h0m58 5h0m101-4h0m-244 13h0m14 0h0m86 0h0m2 0h0m2 1h0m40-6h0m103 3h0m-252 7h0m83 4h0m7-1h0m65-1h0m4-3h0m86 4h0m-246 6h0m7-1h0m2-1h0m6 3h0m81-5h0m7 1h0m47 5h0m5-2h0m13-3h0m85 3h0m9 2h0m-261 8h0m16 1h0m0 0h0m75-2h0m61-1h0m1 3h0m14-6h0m89 1h0m-243 11h0m13-2h0m61 3h0m70 0h0m92-1h0m7-3h0m1-1h0m-247 7h0m69 6h0m1-3h0m8 4h0m2 0h0m69-1h0m72-4h0m13 3h0m4-5h0m10 7h0m3-2h0m-254 8h0m4-4h0m11 5h0m69 1h0m9-5h0m7 5h0m52-4h0m79 2h0m14-5h0m7 6h0m1-3h0m0 3h0m-252 9h0m24-1h0m54-1h0m5-2h0m12-3h0m2 4h0m50 0h0m6 3h0m62-3h0m17 2h0m10-3h0m-220 7h0m51 1h0m18 2h0m51 1h0m4-2h0m4-3h0m2-1h0m0 0h0m2 5h0m9 2h0m0-1h0m50 1h0m37-5h0m3-1h0m1 0h0m0 1h0m-236 6h0m3 0h0m69 2h0m127 0h0m10-2h0m15 7h0m-175 1h0m10 6h0m2-5h0m72 6h0m66 0h0m6-3h0m5 0h0m1-1h0m-215 7h0m9 1h0m63 4h0m62-5h0m4 4h0m3-3h0m4 3h0m53 1h0m11-1h0m20-4h0m-226 7h0m48 1h0m24-1h0m75-1h0m2 4h0m0-2h0m55 3h0m1 0h0m6-4h0m-216 9h0m4 1h0m9 0h0m0 3h0m1-6h0m50 4h0m6 1h0m0-4h0m85-1h0m0 4h0m42 2h0m8 1h0m1-5h0m10 5h0m18-1h0m-223 8h0m3-6h0m1 7h0m0-5h0m1-2h0m50 6h0m5-4h0m75 3h0m5-1h0m45 2h0m19 1h0m6-5h0m0-2h0m3 6h0m6-4h0m-223 11h0m46 2h0m13 0h0m3 0h0m69-5h0m1 0h0m73 0h0m3-2h0m10 2h0m6 5h0m-221 6h0m1-3h0m1-2h0m6 1h0m31 3h0m14-1h0m0-2h0m13 2h0m128-1h0m9-2h0m1 5h0m5-3h0m0 4h0m-199 4h0m13 2h0m1 1h0m114 1h0m6-5h0m2 1h0m38 5h0m22-7h0m3 0h0m-204 8h0m19 4h0m13-2h0m10 4h0m90 1h0m13-4h0m3 3h0m36 0h0m16 0h0m5-3h0m3-1h0m-190 7h0m118 0h0m1 4h0m7 0h0m35-2h0m6 1h0m2-4h0m5 1h0m-21 12h0m7-5h0m1 2h0m-13 9h0" stroke="#F4812F" stroke-width="6.0" stroke-linecap="round" fill="none"/>
<path transform="scale(.25)" d="M1429 1667h0m-45 6h0m122 37h0m3-5h0m-147 16h0m1 3h0m226 5h0m-90 10h0m-43 20h0m141 8h0m-243 5h0m14 9h0m214 1h0m-80 9h0m-132 7h0m55-6h0m88 0h0m66 13h0m6-1h0m21 2h0m-234 4h0m7 4h0m123-4h0m14 0h0m1 3h0m-148 10h0m77-3h0m5-2h0m59 12h0m-87 5h0m23-1h0m70 4h0m65-4h0m20 6h0m-218 10h0m46-1h0m147 4h0m1 0h0m-69 8h0m1-4h0m-124 16h0m187 0h0m-148 13h0m19-3h0m146 1h0m-170 9h0m104-3h0m49-2h0m-58 15h0m15 7h0m40-5h0m5 0h0" stroke="#4A5FB0" stroke-width="6.0" stroke-linecap="round" fill="none"/>
<path transform="scale(.25)" d="M1435 1679h0m-52 2h0m38-1h0m-47 12h0m152 3h0m2-2h0m9 1h0m4 5h0m-174 12h0m71-1h0m79-4h0m37-2h0m8 4h0m-195 8h0m204-1h0m-133 9h0m137 0h0m-58 22h0m0 3h0m66-4h0m2 21h0m-65 34h0m-137 12h0m1 4h0m36 12h0m-36 20h0m142 21h0m-113 4h0m141 26h0m4-3h0" stroke="#F4812F" stroke-width="6.0" stroke-linecap="round" fill="none"/>
<path transform="scale(.25)" d="M1425 1680h0m128 22h0m-169 146h0m142 21h0m27 31h0m2-1h0" stroke="#4A5FB0" stroke-width="6.0" stroke-linecap="round" fill="none"/>
<path transform="scale(.25)" d="M1402 1684h0m10-1h0m-16 5h0m10 3h0m4-3h0m8 2h0m9 9h0m2-3h0m6 4h0m107 2h0m-160 3h0m2 6h0m41-2h0m13-5h0m103 3h0m2 2h0m-173 8h0m60 1h0m92-1h0m11-3h0m12-2h0m21 3h0m1 2h0m-187 6h0m1 4h0m48-2h0m101-3h0m1 1h0m42 1h0m-200 11h0m0 0h0m3-1h0m51-4h0m7 1h0m87-2h0m2 3h0m9 3h0m-157 7h0m144-4h0m48-2h0m-142 14h0m3-6h0m5 0h0m130 5h0m-185 14h0m45-1h0m145 10h0m4 1h0m1-1h0m4 2h0m-44 9h0m33-6h0m-147 10h0m101 0h0m46 1h0m7 0h0m5-1h0m-191 10h0m137 1h0m4-5h0m1 6h0m36-2h0m5 2h0m2-1h0m1-3h0m-161 12h0m117 0h0m35-6h0m-176 10h0m2-3h0m20 5h0m9-2h0m-6 9h0m114-1h0m0 0h0m2 1h0m31 1h0m-167 5h0m133-2h0m1 5h0m5-5h0m-146 11h0m1 0h0m23-2h0m8-1h0m118 3h0m-149 11h0m1 0h0m22-2h0m2-2h0m0 0h0m3-2h0m1 2h0m3-2h0m-2 10h0m109 5h0m1-4h0m-116 6h0m5 2h0m119-2h0m-143 9h0m12 1h0m7 1h0m116 7h0m11-3h0m21 6h0m-27 8h0m17 1h0m5-3h0m-18 9h0m9-2h0m-10 6h0m11 3h0" stroke="#F4812F" stroke-width="6.0" stroke-linecap="round" fill="none"/>
<path transform="scale(.25)" d="M1404 1683h0m-16 6h0m35 10h0m8-3h0m98 6h0m24 9h0m-183 14h0m55 6h0m94 8h0m13 20h0m-116 2h0m116 17h0m32 23h0m-176 10h0m25 9h0m-26 8h0m2 4h0m1 28h0m16 5h0m129 19h0m20 9h0m-20 4h0" stroke="#4A5FB0" stroke-width="6.0" stroke-linecap="round" fill="none"/>
<path transform="scale(.25)" d="M1401 1729h0m9 3h0m132 2h0m-139 2h0m138 2h0m1 1h0m3 21h0m1 13h0m-141 5h0m140-1h0m4 14h0m-1 4h0m-144 15h0m2 2h0m141 0h0m-141 8h0m142 1h0m-5 3h0m2 20h0m0 3h0m4 8h0" stroke="#F4812F" stroke-width="6.0" stroke-linecap="round" fill="none"/>
<path transform="scale(.25)" d="M1405 1722h0m142 17h0m2 33h0m0 5h0" stroke="#4A5FB0" stroke-width="6.0" stroke-linecap="round" fill="none"/>
<path transform="scale(.25)" d="M1397 1701h0m17 1h0m-15 8h0m-10 2h0m152 7h0m-125 3h0m117 1h0m4-1h0m9 4h0m0-6h0m-157 15h0m0-1h0m160 1h0m6-1h0m-166 5h0m5 3h0m142-5h0m-144 8h0m1 4h0m2 0h0m168 0h0m-5 7h0m4-2h0m-174 9h0m1 3h0m147 6h0m23-3h0m-17 14h0m2-4h0m15-2h0m-162 12h0m11-1h0m1-2h0m127 5h0m5-6h0m-147 11h0m3 3h0m1-5h0m142 5h0m18 2h0m-22 13h0m0 1h0m-141 4h0m142 4h0m-142 6h0m13-1h0m-1 6h0m134 0h0m0 5h0m14-5h0m-152 8h0m137 0h0m14 2h0m-2 19h0m-13 1h0m1 14h0" stroke="#F4812F" stroke-width="6.0" stroke-linecap="round" fill="none"/>
<path transform="scale(.25)" d="M1401 1711h0m-10 15h0m3 21h0m143 0h0m-1 22h0m28 6h0m-166 19h0m153 10h0m-14 32h0m18-2h0m-158 6h0" stroke="#4A5FB0" stroke-width="6.0" stroke-linecap="round" fill="none"/>
<path transform="scale(.25)" d="M1392 1634h0m-36 12h0m91-2h0m99 12h0m-80 11h0m41-2h0m1 0h0m-200 33h0m3 17h0m-10 36h0m4 9h0m328 15h0m-329 25h0m340 21h0m-5 11h0m5 2h0m-6 15h0m-273 84h0m238 2h0m2-6h0m0 0h0m-223 12h0m15 0h0m35 0h0m-46 4h0m192 5h0m16-5h0m-62 15h0m15 4h0m-28 6h0" stroke="#7D3C9C" stroke-width="6.0" stroke-linecap="round" fill="none"/>
<path transform="scale(.25)" d="M1379 1624h0m-27 23h0m73-6h0m25 6h0m120 5h0m-231 7h0m167 2h0m-178 10h0m240-7h0m21 6h0m-101 12h0m-20 12h0m6 1h0m137 3h0m-131 16h0m154 67h0m14 11h0m-15 122h0m-198 27h0m6 0h0m-2 15h0m74-4h0" stroke="#46E2EA" stroke-width="6.0" stroke-linecap="round" fill="none"/>
<path transform="scale(.25)" d="M1435 1646h0m-84 7h0m173 2h0m85 22h0m-139 8h0m167 51h0m-3 32h0m-1 124h0m-143 36h0m-118 8h0m7 1h0m57 8h0m168 6h0m-84 1h0m19 8h0" stroke="#4A5FB0" stroke-width="6.0" stroke-linecap="round" fill="none"/>
<path transform="scale(.25)" d="M1394 1948h0m32 4h0m32 5h0m32-1h0m-76 4h0m24 2h0" stroke="#7D3C9C" stroke-width="6.4" stroke-linecap="round" fill="none"/>
<text x="475.4" y="391.9" class="L" font-size="10.5" text-anchor="middle">SpatialGlue</text>
<text x="475.4" y="404.8" class="L" font-size="10.5" text-anchor="middle">ARI = 0.56</text>
<use href="#BR" transform="translate(416.60 0)" fill="#7D3C9C"/>
<use href="#LO" transform="translate(416.60 0)" fill="#7D3C9C"/>
<use href="#LG" transform="translate(416.60 0)" fill="#F4812F"/>
<use href="#LE" transform="translate(416.60 0)" fill="#F4812F"/>
<use href="#LC" transform="translate(416.60 0)" fill="#FDD418" stroke="#FDD418" stroke-width="3.6" stroke-linejoin="round"/>
<use href="#LC" transform="translate(416.60 0)" fill="#46E2EA"/>
<use href="#RO" transform="translate(416.60 0)" fill="#7D3C9C"/>
<use href="#RG" transform="translate(416.60 0)" fill="#F4812F"/>
<use href="#RE" transform="translate(416.60 0)" fill="#F4812F"/>
<use href="#RC" transform="translate(416.60 0)" fill="#FDD418" stroke="#FDD418" stroke-width="3.6" stroke-linejoin="round"/>
<use href="#RC" transform="translate(416.60 0)" fill="#46E2EA"/>
<path transform="scale(.25)" d="M1799 1644h0m4-4h0m1 1h0m0 3h0m10-4h0m11 4h0m-62 24h0m-8 8h0m3-3h0m114 2h0m2-1h0m-125 13h0m125-5h0m-133 23h0m-4 21h0m-1 23h0m147 9h0m-150 3h0m4 19h0m3 33h0m8 23h0m127 27h0m-118 6h0m5 14h0m3 4h0m83 32h0m-6 3h0m7 0h0m-22 6h0" stroke="#F4812F" stroke-width="6.4" stroke-linecap="round" fill="none"/>
<path transform="scale(.25)" d="M1788 1654h0m5-1h0m13-5h0m5 1h0m0-1h0m13 4h0m-46 7h0m-15 17h0m102 2h0m2-4h0m9 35h0m-2 9h0m2 12h0m-1 23h0m-135 21h0m135 0h0m-133 24h0m4 5h0m2 19h0m0 0h0m128-6h0m0 22h0m-5 33h0m-5 16h0m-85 14h0m3 2h0m3 3h0m6 4h0m65-4h0m-18 10h0m4 1h0" stroke="#7D3C9C" stroke-width="6.4" stroke-linecap="round" fill="none"/>
<path transform="scale(.25)" d="M1803 1671h0m6 0h0m18-1h0m13 1h0m0 0h0m-28 1h0m9 1h0m6 1h0m22 1h0m6 1h0m-68 10h0m8-5h0m-9 9h0m-4 9h0m1-2h0m75 4h0m1-2h0m-1 7h0m-78 7h0m77 9h0m0-1h0m1 2h0m-80 7h0m78 4h0m-78 7h0m1-2h0m1 1h0m74 3h0m-73 12h0m1 3h0m68-2h0m-2 8h0m-64 8h0m1-2h0m0 5h0m1 0h0m0-2h0m60 3h0m-55 16h0m2 4h0m3 6h0m1 5h0m45-1h0m-44 8h0m0 11h0m40-1h0m1 15h0m-2 5h0m1 3h0m0-6h0m-39 7h0m38 2h0m-37 11h0m0-1h0m37 0h0m-36 7h0m0 2h0m1 6h0m1 5h0m3 5h0m1 2h0m13 0h0m3-1h0m-10 4h0m3 1h0m6-3h0" stroke="#FDD418" stroke-width="6.4" stroke-linecap="round" fill="none"/>
<path transform="scale(.25)" d="M1804 1677h0m3 0h0m32-1h0m-40 4h0m2 0h0m53 2h0m-65 10h0m66-3h0m2 5h0m-74 16h0m1-2h0m0 0h0m-2 11h0m0 9h0m70 6h0m1 1h0m1-4h0m-2 7h0m-69 12h0m0-4h0m0 0h0m0 1h0m65 4h0m1-6h0m-63 11h0m-1 4h0m59 3h0m1 2h0m-57 3h0m1 1h0m49 14h0m-42 7h0m43 1h0m0 0h0m-40 4h0m37 12h0m1-2h0m1-3h0m-37 11h0m0 4h0m0 15h0m34 22h0m-32 9h0m1 8h0m28 0h0m-26 8h0m25-6h0m-24 9h0m0-1h0m7 1h0m3 0h0m2 0h0m4 0h0m1-1h0" stroke="#FDD418" stroke-width="6.4" stroke-linecap="round" fill="none"/>
<path transform="scale(.25)" d="M1988 1671h0m-8 1h0m11 4h0m-78 9h0m2-5h0m92 5h0m-97 7h0m-3 10h0m113-3h0m-114 16h0m-3 7h0m3-1h0m0-1h0m-3 8h0m129 4h0m1-1h0m1 11h0m7 28h0m2 27h0m-139 22h0m-2 8h0m139 1h0m-5 48h0m-125 7h0m0 1h0m121 1h0m0-1h0m2-4h0m-117 31h0m97 2h0m-89 10h0m31 12h0m30-4h0m-11 6h0" stroke="#F4812F" stroke-width="6.4" stroke-linecap="round" fill="none"/>
<path transform="scale(.25)" d="M1934 1671h0m23 1h0m13 5h0m0-4h0m9 5h0m-61 8h0m79-3h0m10 11h0m-96 8h0m1-1h0m103 0h0m-108 26h0m0 5h0m118-4h0m4 2h0m-123 25h0m126 0h0m-126 56h0m129-3h0m-1 17h0m-123 28h0m122 7h0m-3 15h0m-113 24h0m9 12h0m44 19h0" stroke="#7D3C9C" stroke-width="6.4" stroke-linecap="round" fill="none"/>
<path transform="scale(.25)" d="M1931 1693h0m4-2h0m10 0h0m3-1h0m15 1h0m3 4h0m5-2h0m-41 10h0m0 0h0m2-7h0m42 1h0m5 2h0m-49 8h0m0 2h0m1-1h0m63 8h0m2 2h0m-65 6h0m64-3h0m-65 10h0m1 2h0m69-5h0m0 5h0m2 7h0m1 2h0m-74 2h0m75 1h0m1 5h0m-73 17h0m73-7h0m-75 11h0m73 1h0m-72 5h0m0 0h0m71 1h0m-2 6h0m-70 10h0m2 0h0m58 10h0m3 1h0m-61 6h0m56-1h0m-55 13h0m51 3h0m1 1h0m1 2h0m0-5h0m-50 8h0m46 15h0m-44 8h0m44-3h0m-43 12h0m0 1h0m41 12h0m-4 18h0m-26 11h0m0 3h0m3 0h0m14 1h0m4 1h0m-9 3h0m3-1h0m3-1h0m1 0h0m0 0h0" stroke="#FDD418" stroke-width="6.4" stroke-linecap="round" fill="none"/>
<path transform="scale(.25)" d="M1937 1694h0m0 1h0m9 0h0m-11 3h0m0-1h0m1 0h0m32 1h0m0 0h0m8 7h0m0 0h0m9 7h0m0 1h0m5 7h0m3 6h0m-61 5h0m0 0h0m2-1h0m-1 12h0m1-3h0m0-1h0m63 0h0m2 1h0m3 12h0m-69 3h0m0 0h0m69 2h0m-64 25h0m-3 3h0m52 13h0m1-3h0m-52 10h0m1 5h0m1 9h0m0 12h0m43-4h0m0 0h0m-1 11h0m0-5h0m-40 11h0m1 4h0m39-2h0m-38 7h0m37 2h0m1-3h0m-1 7h0m-2 21h0m0 6h0m-33 6h0m1 4h0m1 0h0m0-1h0m9 9h0m16-3h0m-15 7h0m14-2h0" stroke="#FDD418" stroke-width="6.4" stroke-linecap="round" fill="none"/>
<use href="#NO" transform="translate(416.60 0)" fill="#fff"/>
<path transform="scale(.25)" d="M1795 1719h0m-1 4h0m2 0h0m0-2h0m4 5h0m1 0h0m133 3h0m6 2h0m-4 5h0m11 6h0m-2 4h0m0 2h0m-11 27h0m2 3h0m0 0h0m48-2h0m3 3h0m0 1h0m6 6h0m-5 6h0m1 3h0m-9 7h0m1 1h0m4-1h0m-37 13h0m-1 2h0m3-1h0" stroke="#7D3C9C" stroke-width="6.0" stroke-linecap="round" fill="none"/>
<path transform="scale(.25)" d="M1842 1706h0m1 0h0m4-2h0m92 0h0m1 0h0m1 2h0m8 2h0m1 1h0m5-5h0m36 32h0m2 3h0m3 0h0m-50 26h0m1 1h0m2 0h0m-107 4h0m1 2h0m3 0h0m97 1h0m1 0h0m1 4h0m-11 19h0m6 2h0m2 1h0m22 95h0m-4 3h0m5 0h0" stroke="#F4812F" stroke-width="6.0" stroke-linecap="round" fill="none"/>
<path transform="scale(.25)" d="M1856 1727h0m2-4h0m-7 8h0m133 25h0m3 1h0m1 1h0m0 34h0m3 1h0m3 0h0m-51 27h0m-1 4h0m6 7h0m22 64h0m-2 4h0m2 1h0" stroke="#4A5FB0" stroke-width="6.0" stroke-linecap="round" fill="none"/>
<path transform="scale(.25)" d="M1838 1700h0m2-1h0m0-1h0m12 7h0m2-1h0m1 2h0m-21 27h0m6 1h0m1-2h0m145 16h0m-7 11h0m3-1h0m5-6h0m0 5h0m-3 7h0m-46 67h0m3-2h0m-1 7h0m11 48h0m0 4h0m3 2h0" stroke="#FDD418" stroke-width="6.0" stroke-linecap="round" fill="none"/>
<path transform="scale(.25)" d="M1834 1701h0m1 0h0m2-1h0m135 48h0m-1 4h0m0 3h0m-155 19h0m1 4h0m2-1h0m-9 18h0m6 2h0m-5 3h0" stroke="#7D3C9C" stroke-width="6.0" stroke-linecap="round" fill="none"/>
<path transform="scale(.25)" d="M1956 1745h0m1-1h0m1 1h0m-152 33h0m2 1h0m-2 5h0m143 29h0m1-2h0m3 4h0m0 22h0m2 2h0m2 0h0" stroke="#F4812F" stroke-width="6.0" stroke-linecap="round" fill="none"/>
<path transform="scale(.25)" d="M1956 1718h0m7 2h0m7 0h0m-159 119h0m3-4h0m0-2h0" stroke="#4A5FB0" stroke-width="6.0" stroke-linecap="round" fill="none"/>
<path transform="scale(.25)" d="M1777 1677h0m4 0h0m13-3h0m3 1h0m0-3h0m-20 8h0m1 0h0m2 4h0m4-2h0m168 3h0m1-1h0m-18 7h0m3 0h0m3-1h0m12 1h0m-27 24h0m3 3h0m-3 4h0m1 5h0m2-1h0m0-2h0m81 11h0m3-2h0m2 1h0m-145 21h0m1 3h0m7 0h0m-100 13h0m0 4h0m1-5h0m71 5h0m81-3h0m0 1h0m1-4h0m-82 7h0m1 3h0m9-1h0m0-2h0m2 5h0m3-1h0m0 1h0m131 1h0m3 0h0m0-2h0m-228 10h0m96-6h0m-101 12h0m4 2h0m75-3h0m2 0h0m-64 11h0m3 0h0m61-6h0m16 7h0m-80 1h0m84 0h0m3 1h0m139 10h0m2-1h0m3 1h0m-1 12h0m2 0h0m0-5h0m1 4h0m5 0h0m0-2h0m4 3h0m-188 6h0m2-2h0m2-3h0m173 1h0m2 3h0m-233 5h0m3 0h0m1 3h0m214 3h0m15 0h0m4-4h0m2 2h0m0 1h0m-233 9h0m2-4h0m1 1h0m131 2h0m11-1h0m7-1h0m58-3h0m6 4h0m0-2h0m5 2h0m9-3h0m0-1h0m-164 11h0m64-3h0m2 1h0m18 0h0m66-2h0m-151 10h0m2-1h0m62 4h0m-1 3h0m6 0h0m-107 11h0m-4 8h0m1 1h0" stroke="#FDD418" stroke-width="6.0" stroke-linecap="round" fill="none"/>
<path transform="scale(.25)" d="M1776 1647h0m0 6h0m11 3h0m60 5h0m4-4h0m3 4h0m0 1h0m1 1h0m5-1h0m84-1h0m1 3h0m4 5h0m9-2h0m2 0h0m5-1h0m-93 9h0m0 0h0m3-2h0m-149 77h0m3-4h0m4 4h0m160 7h0m3 4h0m1 3h0m-9 107h0m-157 2h0m7 1h0m2-2h0m147 4h0m3-3h0m7 10h0m5 4h0m-136 1h0m0 3h0m4-3h0m134 2h0m-14 6h0m1 0h0m7 6h0m15 7h0m4-2h0m1 2h0m-49 5h0m3 1h0m1-1h0m15 35h0m0 2h0m3-1h0m5 1h0m-6 4h0m2-1h0" stroke="#F4812F" stroke-width="6.0" stroke-linecap="round" fill="none"/>
<path transform="scale(.25)" d="M1827 1630h0m29 0h0m-39 2h0m35 13h0m-88 7h0m3 1h0m0 0h0m89-4h0m106 3h0m4 3h0m-87 5h0m1-2h0m1 5h0m41-5h0m4 5h0m5-6h0m13 0h0m33 4h0m-65 6h0m7 3h0m0-2h0m79-4h0m11 11h0m-271 10h0m4-2h0m160 1h0m-14 6h0m134 4h0m-302 22h0m317 8h0m4 12h0m6 6h0m-328 31h0m345 75h0m-328 25h0m308 19h0m-302 4h0m22 18h0m12 10h0m20 12h0m14 3h0m4 4h0m199-1h0m5 0h0m-175 3h0m167 1h0m-144 8h0m67-1h0m2 3h0m7 1h0" stroke="#7D3C9C" stroke-width="6.0" stroke-linecap="round" fill="none"/>
<path transform="scale(.25)" d="M1789 1636h0m-7 7h0m-24 5h0m188 1h0m-188 8h0m-31 20h0m170 5h0m-7 10h0m166 201h0m-272 47h0m207 18h0" stroke="#F4812F" stroke-width="6.0" stroke-linecap="round" fill="none"/>
<path transform="scale(.25)" d="M1810 1948h0m32 4h0m32 5h0m32-1h0m-76 4h0m24 2h0" stroke="#7D3C9C" stroke-width="6.4" stroke-linecap="round" fill="none"/>
<text x="580.5" y="391.9" class="L" font-size="10.5" text-anchor="middle">CellCharter</text>
<text x="580.5" y="404.8" class="L" font-size="10.5" text-anchor="middle">ARI = 0.40</text>
<use href="#BR" transform="translate(520.75 0)" fill="#F4812F"/>
<use href="#LO" transform="translate(520.75 0)" fill="#F4812F"/>
<use href="#LG" transform="translate(520.75 0)" fill="#4A5FB0"/>
<use href="#LE" transform="translate(520.75 0)" fill="#4A5FB0"/>
<use href="#LC" transform="translate(520.75 0)" fill="#FDD418" stroke="#FDD418" stroke-width="2.6" stroke-linejoin="round"/>
<use href="#LC" transform="translate(520.75 0)" fill="#46E2EA"/>
<use href="#RO" transform="translate(520.75 0)" fill="#F4812F"/>
<use href="#RG" transform="translate(520.75 0)" fill="#4A5FB0"/>
<use href="#RE" transform="translate(520.75 0)" fill="#4A5FB0"/>
<use href="#RC" transform="translate(520.75 0)" fill="#FDD418" stroke="#FDD418" stroke-width="2.6" stroke-linejoin="round"/>
<use href="#RC" transform="translate(520.75 0)" fill="#46E2EA"/>
<path transform="scale(.25)" d="M2204 1647h0m14-3h0m-14 6h0m62 5h0m3 5h0m6 0h0m-104 16h0m4-2h0m116 7h0m1 3h0m4 15h0m-142 14h0m-1 12h0m3-4h0m-5 9h0m145-2h0m-146 33h0m2 7h0m0 18h0m1 0h0m0 7h0m4 27h0m140 29h0m-127 10h0m9 23h0m7 12h0m4 8h0m3 3h0m88 1h0m-75 9h0m0 0h0m6 2h0m12 6h0m34-1h0m4 0h0m-30 6h0" stroke="#4A5FB0" stroke-width="6.4" stroke-linecap="round" fill="none"/>
<path transform="scale(.25)" d="M2210 1653h0m49 7h0m-76 9h0m103 14h0m3 1h0m-123 11h0m3-2h0m-3 9h0m2-4h0m-5 12h0m10 145h0m118 1h0m-104 34h0m2 4h0m95-5h0m-7 14h0m-73 3h0m3 2h0m8 7h0m39 3h0m0-1h0m-2 4h0m0-1h0m3 0h0" stroke="#F4812F" stroke-width="6.4" stroke-linecap="round" fill="none"/>
<path transform="scale(.25)" d="M2209 1679h0m66 0h0m-71 7h0m-6 12h0m-1 11h0m-1 3h0m0 7h0m-2 15h0m4 19h0m19 97h0m0 9h0m0 0h0m35 9h0m-3 11h0" stroke="#FDD418" stroke-width="6.4" stroke-linecap="round" fill="none"/>
<path transform="scale(.25)" d="M2249 1676h0m-33 7h0m0-2h0m0 3h0m56 18h0m0 1h0m-74 32h0m67 14h0m-64 6h0m5 14h0m10 43h0m2 32h0m34 0h0m-2 17h0m-30 11h0m18 10h0" stroke="#FDD418" stroke-width="6.4" stroke-linecap="round" fill="none"/>
<path transform="scale(.25)" d="M2352 1666h0m9 1h0m3 1h0m1 0h0m13 0h0m23 3h0m14 6h0m-83 4h0m-7 13h0m103-2h0m3 2h0m16 29h0m-127 12h0m-1 11h0m1 21h0m139 56h0m0 12h0m-135 41h0m2 4h0m122 4h0m-115 16h0m1 5h0m2 9h0m6 5h0m83 0h0m7-2h0m-49 18h0m8 0h0m20-7h0m-24 8h0" stroke="#4A5FB0" stroke-width="6.4" stroke-linecap="round" fill="none"/>
<path transform="scale(.25)" d="M2343 1677h0m11-5h0m2 0h0m5 0h0m8 0h0m22 2h0m-56 13h0m1-1h0m74-3h0m6 3h0m-85 10h0m97 4h0m-102 20h0m-3 18h0m124 1h0m2 15h0m-124 36h0m124-6h0m-126 20h0m128 21h0m3 13h0m-3 11h0m-124 22h0m121-6h0m-4 19h0m-109 12h0m7 17h0m24 14h0m40-3h0m-43 4h0" stroke="#F4812F" stroke-width="6.4" stroke-linecap="round" fill="none"/>
<path transform="scale(.25)" d="M2350 1692h0m55 18h0m10 16h0m5 11h0m-72 20h0m4 64h0m47 26h0m-45 3h0m1 4h0m42 17h0m-5 30h0m1-3h0m-30 6h0" stroke="#FDD418" stroke-width="6.4" stroke-linecap="round" fill="none"/>
<path transform="scale(.25)" d="M2351 1699h0m22-2h0m12 4h0m14 11h0m20 47h0m0 0h0m-68 6h0m57 24h0m-55 20h0m45 7h0m-3 58h0m-1 12h0m-34 2h0m1 2h0m0-1h0m29 12h0m-3 3h0" stroke="#FDD418" stroke-width="6.4" stroke-linecap="round" fill="none"/>
<use href="#NO" transform="translate(520.75 0)" fill="#fff"/>
<path transform="scale(.25)" d="M2385 1662h0m3 0h0m2 7h0m-229 18h0m-1 6h0m269 0h0m3 1h0m-271 3h0m270-1h0m3 4h0m5 0h0m-124 8h0m5 2h0m0 1h0m6-2h0m118 0h0m2-4h0m1 1h0m-137 13h0m1-6h0m5 2h0m3 3h0m2 0h0m2-1h0m125-1h0m-304 9h0m4 1h0m159-6h0m3 7h0m4 0h0m0-4h0m1-2h0m1 6h0m5-5h0m-172 10h0m155 3h0m7-1h0m0-6h0m6 0h0m-5 10h0m4-2h0m-19 10h0m5-1h0m4 1h0m2 2h0m0 2h0m0 0h0m1-4h0m1 0h0m1-1h0m2-1h0m-13 12h0m2-2h0m157 1h0m2-1h0m-163 7h0m155 0h0m-304 22h0m147-3h0m2 3h0m-149 5h0m6 0h0m0-1h0m137 1h0m0-2h0m2 0h0m1 0h0m166 0h0m2 3h0m6-1h0m-317 4h0m5 3h0m148 7h0m4 5h0m7-2h0m2-1h0m0 2h0m2-2h0m0 2h0m1-1h0m-12 4h0m3-1h0m1 2h0m2 0h0m150 13h0m-313 8h0m0-5h0m5 0h0m306 1h0m8 4h0m-17 7h0m5 1h0m0-2h0m3 0h0m-16 7h0m10-3h0m-294 9h0m0-2h0m4 2h0m133 0h0m2 0h0m1 3h0m2 2h0m3-2h0m-11 7h0m3-1h0m1-3h0m0 0h0m14 4h0m0-1h0m3-2h0m-151 13h0m6-5h0m0 3h0m1-2h0m113 1h0m4 3h0m0 0h0m3-2h0m5 1h0m4-1h0m1 3h0m1 0h0m156-1h0m-300 3h0m3 1h0m138 0h0m159 1h0m5-2h0m-302 11h0m2-1h0m0 1h0m2 2h0m0-3h0m1 6h0m118 4h0m4-4h0m-105 10h0m2 1h0m3 2h0m104-6h0m27 7h0m5-2h0m-26 3h0m1 1h0m1 4h0m20 2h0m1-3h0m2-2h0m1 2h0m3 1h0m4 0h0m-5 5h0m2 1h0m5-2h0m6 3h0m-78 11h0m0-1h0m1-6h0m75 6h0m-116 6h0m14-1h0m99 3h0m28 0h0m38 0h0m9 0h0m6-2h0m0 1h0m-185 3h0m9 4h0m0-2h0m4 4h0m59 1h0m9-2h0m4-2h0m22-3h0m24 0h0m2 4h0m34 0h0m4 0h0m-107 8h0m2 0h0m15-2h0m26 0h0m3-2h0m4 2h0" stroke="#FDD418" stroke-width="6.0" stroke-linecap="round" fill="none"/>
<path transform="scale(.25)" d="M2269 1647h0m-79 5h0m6-1h0m3-3h0m65 6h0m3-4h0m1-1h0m0-1h0m3 4h0m92 8h0m1 3h0m1-1h0m31-1h0m-53 9h0m8-2h0m3-3h0m10 2h0m2 1h0m1-4h0m24 2h0m6 0h0m-230 11h0m0-3h0m-2 6h0m-8 14h0m4 1h0m-3 5h0m158-3h0m4 3h0m0-1h0m-171 25h0m2-2h0m2-2h0m-7 14h0m1 0h0m160-4h0m1 3h0m2-3h0m0 0h0m0 2h0m0-4h0m-162 9h0m149 0h0m3 0h0m-2 10h0m-147 32h0m1-1h0m1 2h0m140-4h0m5 0h0m1 3h0m-154 36h0m174 0h0m-174 2h0m1 5h0m171-3h0m1 0h0m-158 10h0m3-2h0m3 4h0m126-1h0m-5 6h0m7 1h0m0 1h0m4-4h0m3 4h0m6-5h0m2 5h0m1 0h0m3-2h0m3-3h0m5-1h0m1 5h0m1-1h0m-176 6h0m1 1h0m13 3h0m132-4h0m0 1h0m1 2h0m0-2h0m6 3h0m-152 2h0m14 7h0m0-6h0m141 1h0m12 0h0m-23 6h0m2 7h0m18-6h0m2 3h0m0-4h0m136 6h0m11-2h0m3 2h0m7-2h0m-179 6h0m11 5h0m7-3h0m137 0h0m-289 10h0m5 0h0m4-5h0m143 0h0m140 0h0m-154 15h0m155 7h0m-258 7h0m105-5h0m146 5h0m6-2h0m-256 4h0m4 5h0m103-4h0m-108 14h0m3-1h0m6 0h0m64-2h0m-7 6h0m2 3h0m2 1h0m1-6h0m4 1h0m31 5h0m5-4h0m10 0h0m24 1h0m3-1h0m-103 9h0m2 0h0m1 3h0m5-3h0m1 3h0m0 1h0m3-4h0m38 2h0m7-1h0m46-3h0m-100 8h0m0 2h0m51-1h0m73 3h0m3 2h0m-69 7h0m4-2h0m3-1h0m2 3h0m3 0h0m55-5h0m14 3h0m4 3h0m0-4h0m6 0h0m3-2h0m6 6h0m-90 2h0" stroke="#7D3C9C" stroke-width="6.0" stroke-linecap="round" fill="none"/>
<path transform="scale(.25)" d="M2192 1652h0m1-2h0m1 1h0m-31 24h0m1-2h0m4-1h0m118 1h0m3 2h0m4 1h0m29 11h0m4 0h0m3-3h0m-23 35h0m4 2h0m9 0h0m-177 85h0m-4 2h0m4 4h0m18 11h0m3 4h0m7-2h0m129 12h0m2 1h0m-10 2h0m6 1h0m1 0h0m1 4h0m18 7h0m4 2h0m3-6h0m-14 20h0m3 0h0m-156 7h0m3 2h0m1 0h0m6 0h0m144-3h0m-151 7h0m2 0h0m149 4h0m2 1h0m-5 3h0m28 29h0m-7 3h0m7 3h0m2-1h0m1-3h0m-3 8h0m42 10h0m1-1h0m1-1h0" stroke="#46E2EA" stroke-width="6.0" stroke-linecap="round" fill="none"/>
<path transform="scale(.25)" d="M2216 1652h0m2 2h0m0 0h0m0-4h0m1 3h0m5 2h0m-32 10h0m1 0h0m3 2h0m186 3h0m-103 9h0m1-4h0m3-3h0m100 1h0m3 1h0m-219 11h0m5-2h0m1 0h0m263 12h0m-8 2h0m2 0h0m-261 11h0m4 0h0m0 2h0m0 0h0m1-2h0m4-1h0m248 2h0m-264 9h0m1 0h0m4 0h0m155-4h0m3 0h0m106 5h0m0-1h0m-143 9h0m4-2h0m0-3h0m34 1h0m-2 11h0m120 1h0m-286 4h0m3 2h0m11-3h0m1-2h0m4 2h0m146-2h0m3 4h0m115-4h0m-283 10h0m2 0h0m1-1h0m1 1h0m126-1h0m1 1h0m2-1h0m153 0h0m-282 18h0m1 0h0m2 0h0m4 11h0m3 0h0m6-1h0m268 1h0m1-6h0m0 6h0m1-1h0m2-4h0m-5 8h0m-291 22h0m3-7h0m0 6h0m1-5h0m3 5h0m10-1h0m4 2h0m1-1h0m116 1h0m-3 5h0m3-2h0m-134 6h0m129 1h0m2 2h0m1-3h0m155 7h0m-281 4h0m0-3h0m1 0h0m0 2h0m2 0h0m3-1h0m276 4h0m3-5h0m-124 20h0m2 0h0m-158 11h0m4-3h0m3 2h0m112-1h0m2-4h0m2 2h0m41 0h0m116 3h0m-261 8h0m256-3h0m1-2h0m-258 13h0m2-4h0m-12 9h0m3-1h0m7 1h0m4 4h0m2-1h0m246 1h0m-246 1h0m246 0h0m2 2h0m-235 13h0m67-4h0m3 2h0m3-3h0m-77 7h0m1 5h0m127 6h0m2 1h0m1-4h0m1 2h0m2 4h0m2-3h0m-87 8h0m2 3h0m12-5h0m4 3h0m0 0h0m-60 10h0m4-4h0m2 0h0m0 2h0m5 1h0m0-4h0m29 5h0m0-7h0m2 6h0m3-2h0m6 1h0m151 0h0m-167 5h0m11 3h0m116 2h0m0-2h0m2-1h0m20-1h0m2 3h0m1-1h0m2 1h0m12-6h0m3 4h0m-18 4h0m1 9h0" stroke="#F4812F" stroke-width="6.0" stroke-linecap="round" fill="none"/>
<path transform="scale(.25)" d="M2221 1787h0m1 0h0m-2 5h0" stroke="#4A5FB0" stroke-width="6.0" stroke-linecap="round" fill="none"/>
<path transform="scale(.25)" d="M2209 1758h0m3-1h0m-2 4h0" stroke="#7D3C9C" stroke-width="6.0" stroke-linecap="round" fill="none"/>
<path transform="scale(.25)" d="M2239 1630h0m10-1h0m-66 9h0m-16 9h0m92-6h0m0-1h0m127 15h0m16 0h0m-233 7h0m185-6h0m51 10h0m-256 10h0m-1 7h0m177 0h0m103-2h0m8 0h0m-285 14h0m289 3h0m-297 9h0m319 20h0m-6 6h0m-315 8h0m325 34h0m-335 11h0m6 21h0m1 0h0m333 36h0m13 13h0m-335 21h0m13 16h0m285 29h0m-242 13h0m-8 3h0m56 5h0m19-2h0m3 1h0m151 0h0m6-6h0m-209 15h0m11-4h0m4-2h0m11-1h0m18 5h0m136 2h0m-125 2h0m71 1h0m6 2h0m4 0h0m10 1h0m52-2h0m-85 7h0m3 2h0m22-4h0m24 3h0" stroke="#46E2EA" stroke-width="6.0" stroke-linecap="round" fill="none"/>
<path transform="scale(.25)" d="M2244 1632h0m-83 40h0m261 1h0m-111 25h0m-174 10h0m345 134h0m-27 70h0m-277 10h0m24 11h0m13 9h0" stroke="#FDD418" stroke-width="6.0" stroke-linecap="round" fill="none"/>
<path transform="scale(.25)" d="M2227 1948h0m32 4h0m32 5h0m32-1h0m-76 4h0m24 2h0" stroke="#46E2EA" stroke-width="6.4" stroke-linecap="round" fill="none"/>
<text x="686.0" y="391.9" class="L" font-size="10.5" text-anchor="middle">COSMOS</text>
<text x="686.0" y="404.8" class="L" font-size="10.5" text-anchor="middle">ARI = 0.63</text>
<use href="#BR" transform="translate(624.90 0)" fill="#7D3C9C"/>
<use href="#LO" transform="translate(624.90 0)" fill="#7D3C9C"/>
<use href="#LG" transform="translate(624.90 0)" fill="#7D3C9C"/>
<use href="#LE" transform="translate(624.90 0)" fill="#4A5FB0"/>
<use href="#LC" transform="translate(624.90 0)" fill="#FDD418" stroke="#FDD418" stroke-width="3.6" stroke-linejoin="round"/>
<use href="#LC" transform="translate(624.90 0)" fill="#46E2EA"/>
<use href="#RO" transform="translate(624.90 0)" fill="#7D3C9C"/>
<use href="#RG" transform="translate(624.90 0)" fill="#7D3C9C"/>
<use href="#RE" transform="translate(624.90 0)" fill="#4A5FB0"/>
<use href="#RC" transform="translate(624.90 0)" fill="#FDD418" stroke="#FDD418" stroke-width="3.6" stroke-linejoin="round"/>
<use href="#RC" transform="translate(624.90 0)" fill="#46E2EA"/>
<path transform="scale(.25)" d="M2642 1650h0m16 3h0m4 0h0m-40 6h0m9-3h0m51 7h0m0-1h0m-67 7h0m-18 34h0m-3 9h0m-2 9h0m117 4h0m-119 5h0m1 1h0m0-1h0m1 21h0m117-6h0m-118 16h0m1 6h0m114 48h0m0-7h0m-104 12h0m1 3h0m0 0h0m102 21h0m-90 31h0m10 19h0m70-6h0m0 0h0m-68 10h0m0 1h0m2 0h0m59-2h0m-53 9h0m7 4h0m29 2h0" stroke="#4A5FB0" stroke-width="6.4" stroke-linecap="round" fill="none"/>
<path transform="scale(.25)" d="M2640 1657h0m-8 7h0m-20 12h0m74-4h0m4 9h0m3-1h0m-86 9h0m90 2h0m5 19h0m-103 2h0m-3 27h0m107 15h0m-105 14h0m104 18h0m-101 9h0m101 4h0m-97 15h0m98-1h0m-98 8h0m96-3h0m1 15h0m-90 21h0m12 33h0m67-7h0" stroke="#7D3C9C" stroke-width="6.4" stroke-linecap="round" fill="none"/>
<path transform="scale(.25)" d="M2639 1670h0m-11 9h0m1-3h0m2 1h0m3-5h0m32 2h0m6 0h0m20 14h0m0 4h0m-78 10h0m78-2h0m1-1h0m-82 26h0m2-5h0m76 12h0m0-3h0m-76 11h0m74-1h0m1-1h0m-1 12h0m-73 3h0m70 5h0m0-3h0m-67 12h0m1-2h0m0 2h0m65-5h0m-63 16h0m55 15h0m-1 8h0m-1 8h0m-41 13h0m0 0h0m40-1h0m-41 3h0m1 15h0m1-1h0m38 11h0m-37 11h0m36 2h0m-37 4h0m0 0h0m35 1h0m1-3h0m-33 15h0m27 0h0m-25 6h0m0-2h0m0 2h0m4 2h0m4 0h0m6 3h0m2-2h0" stroke="#FDD418" stroke-width="6.4" stroke-linecap="round" fill="none"/>
<path transform="scale(.25)" d="M2634 1679h0m8-2h0m1 2h0m0 0h0m23-3h0m11 2h0m-46 5h0m53-1h0m3 0h0m1 7h0m2 5h0m-1 6h0m-72 4h0m-2 11h0m75-3h0m-75 11h0m73 2h0m-1 3h0m-70 12h0m69-4h0m-68 14h0m1 4h0m59 8h0m1-1h0m-3 11h0m-51 6h0m5 3h0m45-5h0m-46 10h0m3 13h0m37 5h0m0-1h0m1-2h0m-37 14h0m1-2h0m0 11h0m1 2h0m34 5h0m1-6h0m-35 19h0m34-1h0m0 4h0m-34 7h0m34-3h0m-34 11h0m29 8h0m1 0h0m0 1h0m2-4h0m0-2h0m-30 8h0m0 2h0m1 2h0m1 2h0m4 5h0m6-2h0m7-2h0" stroke="#FDD418" stroke-width="6.4" stroke-linecap="round" fill="none"/>
<path transform="scale(.25)" d="M2762 1677h0m0 0h0m4-3h0m13 0h0m22 2h0m-50 10h0m4-1h0m55-5h0m-59 11h0m78 0h0m5 2h0m-84 3h0m85 2h0m11 16h0m4 10h0m-109 5h0m0 5h0m114 5h0m3 14h0m-116 68h0m4 28h0m114 11h0m-107 18h0m4 18h0m14 20h0m61-2h0m3-2h0m-65 8h0m21 5h0" stroke="#4A5FB0" stroke-width="6.4" stroke-linecap="round" fill="none"/>
<path transform="scale(.25)" d="M2757 1685h0m8-3h0m44 5h0m-52 2h0m0 1h0m68 3h0m-74 9h0m84 3h0m5 7h0m10 22h0m-106 9h0m1-5h0m1 18h0m2 1h0m-2 12h0m3 21h0m108 13h0m2 17h0m-109 20h0m105 9h0m2 3h0m0 0h0m-3 14h0m-98 8h0m4 20h0m84-2h0m-80 11h0m6 8h0m7 5h0m0-3h0m20 8h0" stroke="#7D3C9C" stroke-width="6.4" stroke-linecap="round" fill="none"/>
<path transform="scale(.25)" d="M2771 1687h0m-6 8h0m24-6h0m7 2h0m5 4h0m11 6h0m3 1h0m0-1h0m0 2h0m3 0h0m0 0h0m2 3h0m11 15h0m0 6h0m-68 4h0m70-2h0m-69 13h0m71-6h0m1 3h0m-73 26h0m0 0h0m2 7h0m0 0h0m73-3h0m-2 8h0m-3 10h0m-67 7h0m63 3h0m-65 3h0m3 5h0m56 2h0m-55 3h0m55 1h0m-56 11h0m53-1h0m-53 7h0m52-3h0m-50 14h0m1-7h0m1 28h0m40 26h0m1-4h0m1-1h0m-37 11h0m1 3h0m33-1h0m-28 13h0m1 2h0m0-2h0m2 2h0m19 2h0m3-6h0m-20 7h0m11 0h0" stroke="#FDD418" stroke-width="6.4" stroke-linecap="round" fill="none"/>
<path transform="scale(.25)" d="M2770 1693h0m-4 10h0m0-4h0m1-1h0m0 0h0m0 1h0m2-2h0m2-1h0m-5 11h0m1 1h0m42-4h0m0 0h0m4 6h0m-47 4h0m1-2h0m51 1h0m2 2h0m0 2h0m-54 5h0m64 13h0m2 5h0m-65 11h0m0-1h0m67-2h0m-1 8h0m1 10h0m-66 9h0m66-7h0m-63 17h0m57 3h0m1-3h0m-6 7h0m-4 11h0m1-3h0m-49 13h0m2-1h0m41 10h0m-43 2h0m44 0h0m-41 24h0m0 6h0m1-2h0m38-2h0m-1 11h0m1-2h0m-36 21h0m32 7h0m0 0h0m-31 3h0m1 2h0m30-4h0m0 0h0m-4 11h0m-14 8h0m1-2h0m5 4h0" stroke="#FDD418" stroke-width="6.4" stroke-linecap="round" fill="none"/>
<use href="#NO" transform="translate(624.90 0)" fill="#fff"/>
<path transform="scale(.25)" d="M2651 1647h0m4 1h0m0 5h0m-43 7h0m-9 8h0m2-3h0m-26 56h0m5 1h0m-1 6h0m154 13h0m1-1h0m2-2h0m-155 53h0m0 4h0m3 2h0m117 6h0m1 4h0m1 2h0m-128 13h0m1-6h0m3 3h0m9 18h0m2 0h0m264 1h0m6-3h0m0-2h0m-271 8h0m4 4h0m3-1h0m1 1h0m100 24h0m-88 7h0m3-1h0m4 1h0m77-4h0m3 1h0m155 13h0m1 0h0m3 0h0m-248 3h0m4 1h0m1 5h0m13 7h0m1 8h0m3-6h0m139 5h0m-5 8h0m1-4h0m59-1h0m1 7h0m4-6h0m1 0h0m1 4h0m1-3h0m-26 14h0m2 3h0m1-1h0" stroke="#F4812F" stroke-width="6.0" stroke-linecap="round" fill="none"/>
<path transform="scale(.25)" d="M2604 1670h0m-1 4h0m3 2h0m205-2h0m0-1h0m2 4h0m-216 10h0m3 3h0m146 4h0m0 0h0m1-3h0m86-2h0m4 0h0m3 6h0m-241 1h0m106 1h0m1 0h0m2 4h0m-7 15h0m1-2h0m3 5h0m1-6h0m141 3h0m1 3h0m4-2h0m-258 10h0m1-2h0m110 1h0m4-1h0m32-3h0m2 0h0m4-1h0m-163 10h0m5 3h0m6-5h0m-5 8h0m278 11h0m-9 7h0m3-1h0m-154 21h0m1 3h0m2 0h0m-1 28h0m1-1h0m-134 8h0m131-4h0m-127 9h0m1-2h0m288 11h0m4-1h0m3 0h0m-282 33h0m3 2h0m7 0h0m4 0h0m97-3h0m1 2h0m3-1h0m-115 5h0m7 2h0m6 5h0m1-5h0m2-1h0m88 13h0m0-3h0m5-2h0m-83 22h0m0-2h0m0-2h0m69 2h0m-4 5h0m0 4h0m3-4h0m159 4h0m2-4h0m2 2h0m-165 4h0m1 2h0m-58 9h0m2-1h0m7-1h0m199 6h0m-25 5h0m3 1h0m18-5h0m7 0h0m-20 8h0" stroke="#4A5FB0" stroke-width="6.0" stroke-linecap="round" fill="none"/>
<path transform="scale(.25)" d="M2808 1869h0m3-3h0m7 5h0" stroke="#FDD418" stroke-width="6.0" stroke-linecap="round" fill="none"/>
<path transform="scale(.25)" d="M2627 1662h0m4 5h0m4-3h0m-31 18h0m5 0h0m5 0h0m187 5h0m-2 1h0m4 5h0m27 16h0m1 2h0m5 1h0m0 12h0m3 3h0m1-5h0m4-2h0m-10 12h0m5 0h0m-7 7h0m3-2h0m4 1h0m-74 12h0m2-1h0m-5 3h0m-6 42h0m5 5h0m74-1h0m-75 6h0m76-3h0m0 3h0m16 1h0m2-2h0m1 3h0m-233 4h0m2 4h0m6-1h0m58 2h0m1 4h0m1 2h0m164 2h0m5 0h0m-5 4h0m-97 10h0m3-1h0m-74 10h0m5 1h0m2-1h0m61-3h0m53 3h0m7-5h0m2 2h0m1 4h0m-2 7h0m1-1h0m5-3h0m-6 6h0m4 7h0m3 0h0m7-3h0m-149 7h0m3 3h0m5 1h0m73-4h0m3-3h0m1 3h0m60 2h0m-183 13h0m-7 7h0m1 1h0m44 2h0m-19 4h0m15 0h0m1 2h0m-14 8h0m6-1h0m7 3h0m2-3h0m1-1h0" stroke="#FDD418" stroke-width="6.0" stroke-linecap="round" fill="none"/>
<path transform="scale(.25)" d="M2611 1639h0m7-7h0m33 2h0m-35 8h0m64 2h0m91 11h0m16-7h0m1 6h0m-85 4h0m108 3h0m31-1h0m-133 7h0m125 3h0m-258 7h0m165-3h0m-166 8h0m140-2h0m21 5h0m-17 9h0m4-2h0m-162 10h0m6-1h0m310 8h0m-9 6h0m-313 31h0m321-1h0m-325 21h0m336 14h0m1 13h0m-332 14h0m332 19h0m-341 12h0m13 0h0m329 0h0m2 1h0m-5 4h0m-333 6h0m10 1h0m-2 8h0m321 33h0m-5 8h0m-139 16h0m3 3h0m-153 9h0m15-7h0m138 5h0m-41 7h0m40-4h0m-40 11h0m139 3h0m-188 3h0m40 5h0m16-1h0m-15 3h0m63 4h0m70 3h0" stroke="#7D3C9C" stroke-width="6.0" stroke-linecap="round" fill="none"/>
<path transform="scale(.25)" d="M2675 1641h0m85 22h0m17-7h0m-190 9h0m262 3h0m-292 79h0m184 178h0" stroke="#F4812F" stroke-width="6.0" stroke-linecap="round" fill="none"/>
<path transform="scale(.25)" d="M2644 1948h0m32 4h0m32 5h0m32-1h0m-76 4h0m24 2h0" stroke="#7D3C9C" stroke-width="6.4" stroke-linecap="round" fill="none"/>
<path transform="scale(.25)" d="M2650 1744h0m2 4h0m137-4h0m3 16h0m2 16h0m-2 16h0m-2 56h0m4 4h0" stroke="#DD1C4B" stroke-width="8.0" stroke-linecap="round" fill="none"/>
<circle cx="736.2" cy="402.3" r="5.9" fill="#DD1C4B"/>
<text x="755.7" y="405.9" class="D" font-size="10.4">RMS</text>
<circle cx="736.2" cy="417.8" r="5.9" fill="#46E2EA"/>
<text x="755.7" y="421.4" class="D" font-size="10.4">GCL/IPL</text>
<circle cx="736.2" cy="433.2" r="5.9" fill="#FDD418"/>
<text x="755.7" y="436.8" class="D" font-size="10.4">MCL</text>
<circle cx="736.2" cy="448.7" r="5.9" fill="#4A5FB0"/>
<text x="755.7" y="452.3" class="D" font-size="10.4">EPL</text>
<circle cx="736.2" cy="464.1" r="5.9" fill="#F4812F"/>
<text x="755.7" y="467.7" class="D" font-size="10.4">GL</text>
<circle cx="736.2" cy="479.6" r="5.9" fill="#7D3C9C"/>
<text x="755.7" y="483.2" class="D" font-size="10.4">ONL</text>
<rect x="5.7" y="494.4" width="116.0" height="22.8" fill="#fff" stroke="#666" stroke-width="0.7"/>
<text x="10.1" y="503.7" class="L" font-size="8.55">Omics-3: Shuffling EPL/MCL</text>
<text x="10.1" y="514.0" class="L" font-size="8.55">Omics-4: Shuffling EPL/GL</text>
<text x="0.5" y="530.5" class="L" font-size="19.5" font-weight="bold" dy="0.6">g</text>
<path d="M45.3 632.1 47.5 632.1 47.5 632.1 49.0 632.1 49.0 631.3 50.5 631.3 50.5 630.6 51.3 630.6 51.3 629.8 52.0 629.8 52.0 628.3 52.8 628.3 52.8 623.8 53.6 623.8 53.6 623.1 54.3 623.1 54.3 623.5 55.1 623.5 55.1 623.8 55.8 623.8 55.8 625.3 56.6 625.3 56.6 626.8 58.1 626.8 58.1 627.6 59.6 627.6 59.6 628.0 61.1 628.0 61.1 628.0 64.1 628.0 64.1 628.0 67.1 628.0 67.1 628.0 70.1 628.0 70.1 628.0 71.6 628.0 71.6 627.6 73.1 627.6 73.1 628.0 74.6 628.0 74.6 626.8 76.1 626.8 76.1 627.6 77.6 627.6 77.6 626.8 79.1 626.8 79.1 627.6 80.7 627.6 80.7 627.1 82.2 627.1 82.2 628.0 83.7 628.0 83.7 626.8 85.2 626.8 85.2 628.0 86.7 628.0 86.7 627.3 88.2 627.3 88.2 628.0 89.7 628.0 89.7 626.8 92.7 626.8 92.7 626.8 97.2 626.8 97.2 626.8 100.2 626.8 100.2 626.8 103.2 626.8 103.2 627.6 104.7 627.6 104.7 627.1 106.2 627.1 106.2 628.0 109.3 628.0 109.3 626.8 112.3 626.8 112.3 626.8 115.3 626.8 115.3 627.1 118.3 627.1 118.3 627.6 119.8 627.6 119.8 626.8 121.3 626.8 121.3 627.6 124.3 627.6 124.3 627.3 127.3 627.3 127.3 627.7 130.3 627.7 130.3 627.3 133.3 627.3 133.3 627.6 136.4 627.6 136.4 627.9 139.4 627.9 139.4 628.0" fill="none" stroke="#ff7f0e" stroke-width="1.5" stroke-linejoin="round"/>
<path d="M45.3 615.5 46.8 615.5 46.8 615.5 46.8 615.5 46.8 565.1 48.3 565.1 48.3 564.3 49.8 564.3 49.8 564.3 51.3 564.3 51.3 564.3 53.6 564.3 53.6 564.3 55.1 564.3 55.1 564.3 58.1 564.3 58.1 564.3 61.1 564.3 61.1 564.3 64.1 564.3 64.1 564.8 67.1 564.8 67.1 564.8 70.1 564.8 70.1 564.3 73.1 564.3 73.1 563.6 76.1 563.6 76.1 563.3 79.1 563.3 79.1 563.6 80.7 563.6 80.7 562.8 82.2 562.8 82.2 562.1 82.9 562.1 82.9 559.1 83.7 559.1 83.7 557.6 85.2 557.6 85.2 557.6 86.7 557.6 86.7 557.6 88.2 557.6 88.2 557.6 89.7 557.6 89.7 557.6 91.2 557.6 91.2 556.8 92.7 556.8 92.7 555.3 94.2 555.3 94.2 555.3 95.7 555.3 95.7 556.8 97.2 556.8 97.2 558.3 98.7 558.3 98.7 559.8 100.2 559.8 100.2 561.3 101.7 561.3 101.7 562.8 103.2 562.8 103.2 564.3 104.7 564.3 104.7 565.9 106.2 565.9 106.2 567.4 107.8 567.4 107.8 568.9 109.3 568.9 109.3 570.4 110.8 570.4 110.8 571.9 112.3 571.9 112.3 573.4 113.8 573.4 113.8 575.6 115.3 575.6 115.3 577.9 116.8 577.9 116.8 579.4 118.3 579.4 118.3 580.2 119.8 580.2 119.8 580.9 121.3 580.9 121.3 581.7 122.8 581.7 122.8 582.4 124.3 582.4 124.3 583.2 125.8 583.2 125.8 583.9 126.6 583.9 126.6 588.4 127.3 588.4 127.3 589.2 128.8 589.2 128.8 589.2 130.3 589.2 130.3 589.9 131.8 589.9 131.8 590.7 133.3 590.7 133.3 592.2 134.9 592.2 134.9 593.0 136.4 593.0 136.4 593.7 137.9 593.7 137.9 594.5 139.4 594.5 139.4 596.0 140.1 596.0 140.1 596.7" fill="none" stroke="#3fe3ee" stroke-width="1.5" stroke-linejoin="round"/>
<path d="M45.3 547.0 46.0 547.0 46.0 550.0 46.8 550.0 46.8 547.8 47.5 547.8 47.5 549.3 49.0 549.3 49.0 548.5 50.5 548.5 50.5 549.3 52.0 549.3 52.0 548.5 53.6 548.5 53.6 549.3 55.1 549.3 55.1 550.0 55.8 550.0 55.8 548.5 56.6 548.5 56.6 566.6 57.3 566.6 57.3 567.4 58.1 567.4 58.1 568.1 59.6 568.1 59.6 568.1 61.1 568.1 61.1 567.4 62.6 567.4 62.6 567.4 64.1 567.4 64.1 568.9 65.6 568.9 65.6 569.6 67.1 569.6 67.1 571.9 68.6 571.9 68.6 572.6 70.1 572.6 70.1 573.4 71.6 573.4 71.6 574.1 73.1 574.1 73.1 574.1 74.6 574.1 74.6 575.6 76.1 575.6 76.1 576.4 77.6 576.4 77.6 577.1 79.1 577.1 79.1 577.9 80.7 577.9 80.7 578.7 82.2 578.7 82.2 578.7 83.7 578.7 83.7 579.4 85.2 579.4 85.2 580.2 85.9 580.2 85.9 583.2 86.7 583.2 86.7 586.2 88.2 586.2 88.2 587.7 89.7 587.7 89.7 589.2 91.2 589.2 91.2 589.9 92.7 589.9 92.7 590.7 94.2 590.7 94.2 590.7 95.7 590.7 95.7 591.4 97.2 591.4 97.2 591.4 98.7 591.4 98.7 593.0 100.2 593.0 100.2 592.2 101.7 592.2 101.7 593.7 103.2 593.7 103.2 594.5 104.7 594.5 104.7 594.5 106.2 594.5 106.2 595.2 107.8 595.2 107.8 596.0 109.3 596.0 109.3 596.0 110.8 596.0 110.8 596.7 112.3 596.7 112.3 597.5 113.8 597.5 113.8 597.5 115.3 597.5 115.3 598.2 116.8 598.2 116.8 599.0 118.3 599.0 118.3 598.2 119.8 598.2 119.8 599.7 121.3 599.7 121.3 599.0 122.8 599.0 122.8 599.7 124.3 599.7 124.3 599.7 125.8 599.7 125.8 601.2 127.3 601.2 127.3 600.5 128.8 600.5 128.8 602.0 130.3 602.0 130.3 602.7 131.8 602.7 131.8 601.2 133.3 601.2 133.3 602.0 134.9 602.0 134.9 603.5 136.4 603.5 136.4 604.2 137.9 604.2 137.9 605.8 139.4 605.8 139.4 605.0 140.1 605.0 140.1 606.5" fill="none" stroke="#9467bd" stroke-width="1.5" stroke-linejoin="round"/>
<path d="M45.3 552.3 46.0 552.3 46.0 553.8 46.8 553.8 46.8 556.1 47.5 556.1 47.5 553.1 48.3 553.1 48.3 552.3 49.0 552.3 49.0 555.3 49.8 555.3 49.8 553.1 50.5 553.1 50.5 556.8 51.3 556.8 51.3 553.8 52.0 553.8 52.0 556.1 52.8 556.1 52.8 554.6 53.6 554.6 53.6 555.3 54.3 555.3 54.3 560.6 55.1 560.6 55.1 567.4 55.8 567.4 55.8 568.1 56.6 568.1 56.6 562.1 57.3 562.1 57.3 564.3 58.1 564.3 58.1 565.1 58.8 565.1 58.8 566.6 59.6 566.6 59.6 564.3 60.3 564.3 60.3 565.1 61.1 565.1 61.1 562.8 61.8 562.8 61.8 564.3 62.6 564.3 62.6 562.8 63.3 562.8 63.3 568.1 64.1 568.1 64.1 570.4 64.8 570.4 64.8 568.1 65.6 568.1 65.6 581.7 66.3 581.7 66.3 577.1 66.8 577.1 66.8 561.3 67.1 561.3 67.1 583.2 67.9 583.2 67.9 580.9 68.6 580.9 68.6 581.7 70.1 581.7 70.1 581.7 71.6 581.7 71.6 580.2 73.1 580.2 73.1 580.9 74.6 580.9 74.6 581.7 76.1 581.7 76.1 582.4 77.6 582.4 77.6 580.9 79.1 580.9 79.1 583.2 80.7 583.2 80.7 583.9 82.2 583.9 82.2 584.7 83.7 584.7 83.7 585.4 85.2 585.4 85.2 587.7 85.9 587.7 85.9 584.7 86.7 584.7 86.7 586.2 88.2 586.2 88.2 586.9 89.7 586.9 89.7 586.2 91.2 586.2 91.2 584.7 92.7 584.7 92.7 587.7 94.2 587.7 94.2 584.7 95.7 584.7 95.7 586.9 97.2 586.9 97.2 589.2 98.7 589.2 98.7 588.4 100.2 588.4 100.2 587.7 101.7 587.7 101.7 589.9 103.2 589.9 103.2 588.4 104.7 588.4 104.7 589.2 106.2 589.2 106.2 587.7 107.8 587.7 107.8 589.9 109.3 589.9 109.3 589.2 110.8 589.2 110.8 590.7 112.3 590.7 112.3 589.9 113.8 589.9 113.8 586.2 115.3 586.2 115.3 589.2 116.8 589.2 116.8 591.4 118.3 591.4 118.3 592.2 119.8 592.2 119.8 590.7 121.3 590.7 121.3 592.2 122.8 592.2 122.8 593.0 124.3 593.0 124.3 591.4 125.8 591.4 125.8 592.2 127.3 592.2 127.3 589.2 128.8 589.2 128.8 593.7 130.3 593.7 130.3 592.2 131.8 592.2 131.8 596.0 133.3 596.0 133.3 592.2 134.9 592.2 134.9 598.2 136.4 598.2 136.4 597.5 137.9 597.5 137.9 599.7 138.6 599.7 138.6 597.5 139.4 597.5 139.4 598.2 140.1 598.2 140.1 599.7" fill="none" stroke="#d62728" stroke-width="1.5" stroke-linejoin="round"/>
<path d="M45.3 557.6 46.0 557.6 46.0 556.8 46.8 556.8 46.8 554.6 47.5 554.6 47.5 552.3 48.3 552.3 48.3 553.1 49.0 553.1 49.0 553.8 49.8 553.8 49.8 552.3 50.5 552.3 50.5 551.6 51.3 551.6 51.3 548.5 52.0 548.5 52.0 549.3 53.6 549.3 53.6 548.5 55.1 548.5 55.1 547.8 56.6 547.8 56.6 547.3 58.1 547.3 58.1 548.2 59.6 548.2 59.6 547.8 61.1 547.8 61.1 548.5 62.6 548.5 62.6 548.8 64.1 548.8 64.1 549.3 65.6 549.3 65.6 548.5 67.1 548.5 67.1 549.3 67.9 549.3 67.9 547.8 68.6 547.8 68.6 550.0 69.4 550.0 69.4 548.5 70.1 548.5 70.1 550.0 70.9 550.0 70.9 549.3 71.6 549.3 71.6 547.0 72.4 547.0 72.4 545.5 73.1 545.5 73.1 544.8 73.9 544.8 73.9 548.5 74.6 548.5 74.6 550.8 75.4 550.8 75.4 549.3 76.1 549.3 76.1 547.0 76.9 547.0 76.9 552.3 77.6 552.3 77.6 546.3 78.4 546.3 78.4 568.1 79.1 568.1 79.1 547.0 79.9 547.0 79.9 562.1 80.7 562.1 80.7 546.3 81.4 546.3 81.4 562.8 82.2 562.8 82.2 559.1 82.9 559.1 82.9 554.6 83.7 554.6 83.7 550.0 84.4 550.0 84.4 563.6 85.2 563.6 85.2 562.1 85.9 562.1 85.9 566.6 86.7 566.6 86.7 565.1 87.4 565.1 87.4 567.4 88.2 567.4 88.2 568.1 89.7 568.1 89.7 568.9 90.4 568.9 90.4 570.4 91.2 570.4 91.2 569.6 91.9 569.6 91.9 571.9 92.7 571.9 92.7 571.1 93.4 571.1 93.4 573.4 94.2 573.4 94.2 572.6 95.7 572.6 95.7 574.9 97.2 574.9 97.2 575.6 98.7 575.6 98.7 577.1 99.5 577.1 99.5 579.4 100.2 579.4 100.2 578.7 101.0 578.7 101.0 580.2 101.7 580.2 101.7 581.7 102.5 581.7 102.5 580.9 103.2 580.9 103.2 583.2 104.7 583.2 104.7 583.9 106.2 583.9 106.2 586.2 107.8 586.2 107.8 587.7 109.3 587.7 109.3 587.7 110.8 587.7 110.8 589.2 112.3 589.2 112.3 589.9 113.8 589.9 113.8 587.7 115.3 587.7 115.3 590.7 116.8 590.7 116.8 591.4 118.3 591.4 118.3 592.2 119.8 592.2 119.8 593.0 121.3 593.0 121.3 592.2 122.8 592.2 122.8 593.7 124.3 593.7 124.3 594.5 125.8 594.5 125.8 596.0 127.3 596.0 127.3 595.2 128.8 595.2 128.8 599.0 129.6 599.0 129.6 595.2 130.3 595.2 130.3 599.7 131.1 599.7 131.1 597.5 131.8 597.5 131.8 602.0 132.6 602.0 132.6 598.2 133.3 598.2 133.3 601.2 134.9 601.2 134.9 602.7 136.4 602.7 136.4 598.2 137.9 598.2 137.9 601.2 139.4 601.2 139.4 602.7 140.1 602.7 140.1 604.2" fill="none" stroke="#1f77b4" stroke-width="1.5" stroke-linejoin="round"/>
<rect x="40.6" y="540.8" width="104.4" height="95.4" fill="none" stroke="#000" stroke-width="1.0"/>
<line x1="36.2" y1="630.7" x2="40.6" y2="630.7" stroke="#000" stroke-width="1.0"/>
<text x="32.0" y="634.4" class="D" font-size="10.2" text-anchor="end">0.0</text>
<line x1="36.2" y1="604.8" x2="40.6" y2="604.8" stroke="#000" stroke-width="1.0"/>
<text x="32.0" y="608.5" class="D" font-size="10.2" text-anchor="end">0.2</text>
<line x1="36.2" y1="578.9" x2="40.6" y2="578.9" stroke="#000" stroke-width="1.0"/>
<text x="32.0" y="582.6" class="D" font-size="10.2" text-anchor="end">0.4</text>
<line x1="36.2" y1="553.0" x2="40.6" y2="553.0" stroke="#000" stroke-width="1.0"/>
<text x="32.0" y="556.7" class="D" font-size="10.2" text-anchor="end">0.6</text>
<line x1="72.4" y1="636.2" x2="72.4" y2="640.6" stroke="#000" stroke-width="1.0"/>
<text x="72.4" y="652.3" class="D" font-size="10.2" text-anchor="middle">0.5</text>
<line x1="106.2" y1="636.2" x2="106.2" y2="640.6" stroke="#000" stroke-width="1.0"/>
<text x="106.2" y="652.3" class="D" font-size="10.2" text-anchor="middle">1.0</text>
<line x1="140.1" y1="636.2" x2="140.1" y2="640.6" stroke="#000" stroke-width="1.0"/>
<text x="140.1" y="652.3" class="D" font-size="10.2" text-anchor="middle">1.5</text>
<text x="102.0" y="666.7" class="L" font-size="10.7" text-anchor="middle">Resolution (leiden)</text>
<text x="8.7" y="599.0" class="L" font-size="10.7" text-anchor="middle" transform="rotate(-90 8.7 599.0)">ARI</text>
<line x1="153.1" y1="547.9" x2="170.7" y2="547.9" stroke="#1f77b4" stroke-width="2.0"/>
<text x="174.0" y="550.7" class="L" font-size="7.7">COSMOS</text>
<line x1="153.1" y1="559.2" x2="170.7" y2="559.2" stroke="#ff7f0e" stroke-width="2.0"/>
<text x="174.0" y="562.0" class="L" font-size="7.7">WNN</text>
<line x1="153.1" y1="570.5" x2="170.7" y2="570.5" stroke="#3fe3ee" stroke-width="2.0"/>
<text x="174.0" y="573.3" class="L" font-size="7.7">SpatialGlue</text>
<line x1="153.1" y1="581.7" x2="170.7" y2="581.7" stroke="#d62728" stroke-width="2.0"/>
<text x="174.0" y="584.5" class="L" font-size="7.7">SpaceFlow (Omics-3)</text>
<line x1="153.1" y1="593.0" x2="170.7" y2="593.0" stroke="#9467bd" stroke-width="2.0"/>
<text x="174.0" y="595.8" class="L" font-size="7.7">SpaceFlow (Omics-4)</text>
<text x="253.5" y="532.3" class="L" font-size="19.5" font-weight="bold" dy="0.6">h</text>
<path d="M317.8 615.5 317.7 615.1 317.7 614.7 317.7 614.3 317.7 613.8 317.6 613.4 317.6 613.0 317.6 612.6 317.5 612.2 317.5 611.8 317.5 611.4 317.4 610.9 317.4 610.5 317.4 610.1 317.3 609.7 317.3 609.3 317.2 608.9 317.2 608.5 317.1 608.0 317.1 607.6 317.1 607.2 317.0 606.8 317.0 606.4 316.9 606.0 316.9 605.5 316.8 605.1 316.8 604.7 316.7 604.3 316.7 603.9 316.6 603.5 316.6 603.1 316.5 602.6 316.5 602.2 316.4 601.8 316.4 601.4 316.3 601.0 316.2 600.6 316.1 600.1 316.0 599.7 315.9 599.3 315.8 598.9 315.6 598.5 315.4 598.1 315.2 597.7 314.9 597.2 314.6 596.8 314.2 596.4 313.8 596.0 313.4 595.6 312.9 595.2 312.4 594.7 311.8 594.3 311.3 593.9 310.7 593.5 310.1 593.1 309.6 592.7 309.2 592.3 308.7 591.8 308.4 591.4 308.2 591.0 308.0 590.6 308.0 590.2 308.1 589.8 308.3 589.3 308.6 588.9 308.9 588.5 309.4 588.1 309.9 587.7 310.5 587.3 311.1 586.9 311.8 586.4 312.4 586.0 313.0 585.6 313.6 585.2 314.2 584.8 314.7 584.4 315.2 583.9 315.6 583.5 316.0 583.1 316.3 582.7 316.6 582.3 316.8 581.9 317.0 581.5 317.2 581.0 317.3 580.6 317.4 580.2 317.5 579.8 317.6 579.4 317.7 579.0 317.7 578.6 318.0 578.6 318.0 615.5Z" fill="#3274a1" stroke="#3a3a3a" stroke-width="0.6"/>
<line x1="318.0" y1="595.2" x2="312.9" y2="595.2" stroke="#3a3a3a" stroke-width="0.45" stroke-dasharray="1.5 1"/>
<line x1="318.0" y1="591.0" x2="308.2" y2="591.0" stroke="#3a3a3a" stroke-width="0.45" stroke-dasharray="1.5 1"/>
<line x1="318.0" y1="588.1" x2="309.4" y2="588.1" stroke="#3a3a3a" stroke-width="0.45" stroke-dasharray="1.5 1"/>
<path d="M318.3 601.7 318.3 601.2 318.4 600.8 318.5 600.4 318.6 600.0 318.7 599.6 318.8 599.2 319.0 598.7 319.2 598.3 319.4 597.9 319.7 597.5 320.0 597.1 320.4 596.7 320.8 596.3 321.3 595.8 321.8 595.4 322.4 595.0 323.0 594.6 323.6 594.2 324.2 593.8 324.9 593.3 325.5 592.9 326.1 592.5 326.6 592.1 327.1 591.7 327.4 591.3 327.7 590.9 327.9 590.4 328.0 590.0 328.0 589.6 327.8 589.2 327.6 588.8 327.3 588.4 326.8 587.9 326.4 587.5 325.9 587.1 325.3 586.7 324.7 586.3 324.2 585.9 323.6 585.5 323.1 585.0 322.6 584.6 322.2 584.2 321.8 583.8 321.4 583.4 321.1 583.0 320.8 582.5 320.6 582.1 320.4 581.7 320.2 581.3 320.1 580.9 320.0 580.5 319.9 580.1 319.8 579.6 319.7 579.2 319.6 578.8 319.6 578.4 319.5 578.0 319.5 577.6 319.4 577.1 319.4 576.7 319.3 576.3 319.3 575.9 319.2 575.5 319.2 575.1 319.1 574.7 319.1 574.2 319.0 573.8 319.0 573.4 318.9 573.0 318.9 572.6 318.9 572.2 318.8 571.7 318.8 571.3 318.7 570.9 318.7 570.5 318.6 570.1 318.6 569.7 318.6 569.3 318.5 568.8 318.5 568.4 318.5 568.0 318.4 567.6 318.4 567.2 318.4 566.8 318.3 566.4 318.3 565.9 318.3 565.5 318.3 565.1 318.2 564.7 318.0 564.7 318.0 601.7Z" fill="#e1812c" stroke="#3a3a3a" stroke-width="0.6"/>
<line x1="318.0" y1="592.1" x2="326.6" y2="592.1" stroke="#3a3a3a" stroke-width="0.45" stroke-dasharray="1.5 1"/>
<line x1="318.0" y1="589.2" x2="327.8" y2="589.2" stroke="#3a3a3a" stroke-width="0.45" stroke-dasharray="1.5 1"/>
<line x1="318.0" y1="585.0" x2="323.1" y2="585.0" stroke="#3a3a3a" stroke-width="0.45" stroke-dasharray="1.5 1"/>
<line x1="318.0" y1="619.8" x2="318.0" y2="625.5" stroke="#000" stroke-width="1.1"/>
<text class="L" font-size="12.1" text-anchor="end" transform="translate(328.3 638.6) rotate(-26)" fill="#111">MCL</text>
<path d="M343.4 613.2 343.4 612.8 343.4 612.3 343.4 611.9 343.3 611.4 343.3 611.0 343.3 610.6 343.3 610.1 343.2 609.7 343.2 609.2 343.2 608.8 343.2 608.3 343.1 607.9 343.1 607.5 343.1 607.0 343.0 606.6 343.0 606.1 342.9 605.7 342.9 605.3 342.9 604.8 342.8 604.4 342.8 603.9 342.8 603.5 342.7 603.1 342.7 602.6 342.6 602.2 342.6 601.7 342.5 601.3 342.5 600.8 342.4 600.4 342.4 600.0 342.3 599.5 342.2 599.1 342.1 598.6 342.0 598.2 341.8 597.8 341.6 597.3 341.3 596.9 341.0 596.4 340.6 596.0 340.1 595.6 339.6 595.1 339.0 594.7 338.4 594.2 337.7 593.8 337.0 593.3 336.2 592.9 335.6 592.5 334.9 592.0 334.4 591.6 334.0 591.1 333.7 590.7 333.6 590.3 333.7 589.8 333.9 589.4 334.2 588.9 334.7 588.5 335.4 588.0 336.1 587.6 336.8 587.2 337.6 586.7 338.3 586.3 339.1 585.8 339.7 585.4 340.3 585.0 340.9 584.5 341.4 584.1 341.8 583.6 342.1 583.2 342.4 582.8 342.6 582.3 342.7 581.9 342.9 581.4 343.0 581.0 343.1 580.5 343.1 580.1 343.2 579.7 343.2 579.2 343.3 578.8 343.3 578.3 343.3 577.9 343.4 577.5 343.4 577.0 343.4 576.6 343.4 576.1 343.4 575.7 343.5 575.3 343.5 574.8 343.5 574.4 343.5 573.9 343.6 573.9 343.6 613.2Z" fill="#3274a1" stroke="#3a3a3a" stroke-width="0.6"/>
<line x1="343.6" y1="593.8" x2="337.7" y2="593.8" stroke="#3a3a3a" stroke-width="0.45" stroke-dasharray="1.5 1"/>
<line x1="343.6" y1="590.7" x2="333.7" y2="590.7" stroke="#3a3a3a" stroke-width="0.45" stroke-dasharray="1.5 1"/>
<line x1="343.6" y1="588.0" x2="335.4" y2="588.0" stroke="#3a3a3a" stroke-width="0.45" stroke-dasharray="1.5 1"/>
<path d="M343.7 606.3 343.7 605.8 343.7 605.3 343.7 604.9 343.8 604.4 343.8 603.9 343.8 603.5 343.8 603.0 343.8 602.5 343.9 602.1 343.9 601.6 343.9 601.1 344.0 600.7 344.0 600.2 344.1 599.7 344.2 599.3 344.3 598.8 344.5 598.3 344.6 597.9 344.9 597.4 345.2 596.9 345.5 596.5 346.0 596.0 346.5 595.5 347.1 595.1 347.8 594.6 348.5 594.1 349.3 593.7 350.1 593.2 350.9 592.7 351.7 592.3 352.4 591.8 352.9 591.3 353.3 590.9 353.5 590.4 353.6 589.9 353.5 589.5 353.2 589.0 352.7 588.5 352.1 588.0 351.4 587.6 350.7 587.1 349.9 586.6 349.2 586.2 348.4 585.7 347.8 585.2 347.2 584.8 346.7 584.3 346.3 583.8 345.9 583.4 345.6 582.9 345.4 582.4 345.2 582.0 345.1 581.5 345.0 581.0 344.9 580.6 344.8 580.1 344.7 579.6 344.7 579.2 344.6 578.7 344.6 578.2 344.5 577.8 344.5 577.3 344.5 576.8 344.4 576.4 344.4 575.9 344.3 575.4 344.3 575.0 344.3 574.5 344.2 574.0 344.2 573.6 344.1 573.1 344.1 572.6 344.1 572.2 344.0 571.7 344.0 571.2 344.0 570.8 343.9 570.3 343.9 569.8 343.9 569.4 343.9 568.9 343.8 568.4 343.8 568.0 343.8 567.5 343.8 567.0 343.8 566.6 343.7 566.1 343.7 565.6 343.7 565.2 343.7 564.7 343.6 564.7 343.6 606.3Z" fill="#e1812c" stroke="#3a3a3a" stroke-width="0.6"/>
<line x1="343.6" y1="592.3" x2="351.7" y2="592.3" stroke="#3a3a3a" stroke-width="0.45" stroke-dasharray="1.5 1"/>
<line x1="343.6" y1="589.5" x2="353.5" y2="589.5" stroke="#3a3a3a" stroke-width="0.45" stroke-dasharray="1.5 1"/>
<line x1="343.6" y1="586.6" x2="349.9" y2="586.6" stroke="#3a3a3a" stroke-width="0.45" stroke-dasharray="1.5 1"/>
<line x1="343.6" y1="619.8" x2="343.6" y2="625.5" stroke="#000" stroke-width="1.1"/>
<text class="L" font-size="12.1" text-anchor="end" transform="translate(354.3 639.0) rotate(-26)" fill="#111">RMS</text>
<path d="M368.6 616.4 368.6 615.9 368.5 615.3 368.5 614.8 368.5 614.2 368.5 613.7 368.4 613.1 368.4 612.5 368.3 612.0 368.3 611.4 368.3 610.9 368.2 610.3 368.2 609.8 368.1 609.2 368.1 608.7 368.0 608.1 368.0 607.5 367.9 607.0 367.9 606.4 367.8 605.9 367.8 605.3 367.7 604.8 367.6 604.2 367.6 603.7 367.5 603.1 367.4 602.5 367.3 602.0 367.2 601.4 367.1 600.9 367.0 600.3 366.8 599.8 366.5 599.2 366.2 598.7 365.9 598.1 365.5 597.5 365.0 597.0 364.5 596.4 363.9 595.9 363.3 595.3 362.6 594.8 361.9 594.2 361.2 593.7 360.6 593.1 360.0 592.6 359.5 592.0 359.1 591.4 358.8 590.9 358.7 590.3 358.7 589.8 358.9 589.2 359.3 588.7 359.8 588.1 360.3 587.6 361.0 587.0 361.7 586.4 362.5 585.9 363.2 585.3 363.9 584.8 364.6 584.2 365.2 583.7 365.8 583.1 366.3 582.6 366.7 582.0 367.0 581.4 367.3 580.9 367.6 580.3 367.8 579.8 367.9 579.2 368.0 578.7 368.2 578.1 368.2 577.6 368.3 577.0 368.4 576.4 368.4 575.9 368.5 575.3 368.5 574.8 368.5 574.2 368.6 573.7 368.6 573.1 368.6 572.6 368.7 572.0 368.7 571.4 368.7 570.9 368.7 570.3 368.7 569.8 368.7 569.2 368.8 568.7 368.8 568.1 368.8 567.6 368.8 567.0 368.9 567.0 368.9 616.4Z" fill="#3274a1" stroke="#3a3a3a" stroke-width="0.6"/>
<line x1="368.9" y1="594.8" x2="362.6" y2="594.8" stroke="#3a3a3a" stroke-width="0.45" stroke-dasharray="1.5 1"/>
<line x1="368.9" y1="590.9" x2="358.8" y2="590.9" stroke="#3a3a3a" stroke-width="0.45" stroke-dasharray="1.5 1"/>
<line x1="368.9" y1="587.0" x2="361.0" y2="587.0" stroke="#3a3a3a" stroke-width="0.45" stroke-dasharray="1.5 1"/>
<path d="M369.0 613.2 369.0 612.6 369.0 612.1 369.0 611.5 369.1 611.0 369.1 610.4 369.1 609.9 369.1 609.3 369.1 608.8 369.1 608.2 369.2 607.6 369.2 607.1 369.2 606.5 369.3 606.0 369.3 605.4 369.3 604.9 369.4 604.3 369.4 603.8 369.5 603.2 369.6 602.6 369.6 602.1 369.8 601.5 369.9 601.0 370.0 600.4 370.2 599.9 370.5 599.3 370.8 598.8 371.1 598.2 371.5 597.6 372.0 597.1 372.6 596.5 373.2 596.0 373.9 595.4 374.6 594.9 375.3 594.3 376.1 593.8 376.8 593.2 377.5 592.6 378.0 592.1 378.5 591.5 378.9 591.0 379.1 590.4 379.1 589.9 379.0 589.3 378.7 588.8 378.3 588.2 377.8 587.6 377.2 587.1 376.6 586.5 375.9 586.0 375.2 585.4 374.5 584.9 373.9 584.3 373.3 583.8 372.8 583.2 372.3 582.7 371.9 582.1 371.6 581.5 371.3 581.0 371.0 580.4 370.8 579.9 370.7 579.3 370.6 578.8 370.5 578.2 370.4 577.7 370.3 577.1 370.2 576.5 370.2 576.0 370.1 575.4 370.0 574.9 370.0 574.3 369.9 573.8 369.9 573.2 369.8 572.7 369.8 572.1 369.7 571.5 369.7 571.0 369.6 570.4 369.6 569.9 369.5 569.3 369.5 568.8 369.5 568.2 369.4 567.7 369.4 567.1 369.3 566.5 369.3 566.0 369.3 565.4 369.3 564.9 369.2 564.3 369.2 563.8 368.9 563.8 368.9 613.2Z" fill="#e1812c" stroke="#3a3a3a" stroke-width="0.6"/>
<line x1="368.9" y1="593.2" x2="376.8" y2="593.2" stroke="#3a3a3a" stroke-width="0.45" stroke-dasharray="1.5 1"/>
<line x1="368.9" y1="589.3" x2="379.0" y2="589.3" stroke="#3a3a3a" stroke-width="0.45" stroke-dasharray="1.5 1"/>
<line x1="368.9" y1="585.4" x2="375.2" y2="585.4" stroke="#3a3a3a" stroke-width="0.45" stroke-dasharray="1.5 1"/>
<line x1="368.9" y1="619.8" x2="368.9" y2="625.5" stroke="#000" stroke-width="1.1"/>
<text class="L" font-size="12.1" text-anchor="end" transform="translate(380.9 639.4) rotate(-26)" fill="#111">EPL</text>
<path d="M394.4 613.2 394.4 612.7 394.4 612.1 394.4 611.6 394.4 611.1 394.4 610.6 394.4 610.0 394.4 609.5 394.4 609.0 394.3 608.4 394.3 607.9 394.3 607.4 394.3 606.8 394.3 606.3 394.3 605.8 394.3 605.3 394.3 604.7 394.2 604.2 394.2 603.7 394.2 603.1 394.2 602.6 394.2 602.1 394.1 601.6 394.1 601.0 394.1 600.5 394.0 600.0 394.0 599.4 393.9 598.9 393.7 598.4 393.5 597.8 393.3 597.3 392.9 596.8 392.5 596.3 392.0 595.7 391.3 595.2 390.6 594.7 389.7 594.1 388.8 593.6 387.9 593.1 387.0 592.6 386.2 592.0 385.5 591.5 385.0 591.0 384.7 590.4 384.7 589.9 384.9 589.4 385.4 588.8 386.0 588.3 386.8 587.8 387.7 587.3 388.6 586.7 389.5 586.2 390.4 585.7 391.1 585.1 391.8 584.6 392.4 584.1 392.8 583.5 393.2 583.0 393.5 582.5 393.7 582.0 393.8 581.4 393.9 580.9 394.0 580.4 394.1 579.8 394.1 579.3 394.1 578.8 394.2 578.3 394.2 577.7 394.2 577.2 394.2 576.7 394.2 576.1 394.2 575.6 394.3 575.1 394.3 574.5 394.3 574.0 394.3 573.5 394.3 573.0 394.3 572.4 394.3 571.9 394.4 571.4 394.4 570.8 394.4 570.3 394.4 569.8 394.4 569.3 394.4 568.7 394.4 568.2 394.4 567.7 394.4 567.1 394.4 566.6 394.4 566.1 394.5 566.1 394.5 613.2Z" fill="#3274a1" stroke="#3a3a3a" stroke-width="0.6"/>
<line x1="394.5" y1="592.6" x2="387.0" y2="592.6" stroke="#3a3a3a" stroke-width="0.45" stroke-dasharray="1.5 1"/>
<line x1="394.5" y1="589.9" x2="384.7" y2="589.9" stroke="#3a3a3a" stroke-width="0.45" stroke-dasharray="1.5 1"/>
<line x1="394.5" y1="587.8" x2="386.8" y2="587.8" stroke="#3a3a3a" stroke-width="0.45" stroke-dasharray="1.5 1"/>
<path d="M394.6 610.9 394.6 610.4 394.6 609.9 394.6 609.4 394.6 608.9 394.7 608.4 394.7 607.9 394.7 607.4 394.7 606.9 394.7 606.5 394.7 606.0 394.7 605.5 394.7 605.0 394.8 604.5 394.8 604.0 394.8 603.5 394.8 603.0 394.8 602.5 394.8 602.0 394.9 601.5 394.9 601.0 394.9 600.5 395.0 600.0 395.0 599.5 395.1 599.1 395.2 598.6 395.4 598.1 395.6 597.6 395.9 597.1 396.2 596.6 396.6 596.1 397.2 595.6 397.8 595.1 398.5 594.6 399.3 594.1 400.1 593.6 401.0 593.1 401.8 592.6 402.6 592.2 403.3 591.7 403.8 591.2 404.2 590.7 404.3 590.2 404.2 589.7 403.9 589.2 403.5 588.7 402.8 588.2 402.1 587.7 401.3 587.2 400.4 586.7 399.5 586.2 398.7 585.7 398.0 585.2 397.4 584.8 396.8 584.3 396.3 583.8 396.0 583.3 395.7 582.8 395.4 582.3 395.3 581.8 395.1 581.3 395.1 580.8 395.0 580.3 394.9 579.8 394.9 579.3 394.9 578.8 394.8 578.3 394.8 577.8 394.8 577.4 394.8 576.9 394.8 576.4 394.8 575.9 394.7 575.4 394.7 574.9 394.7 574.4 394.7 573.9 394.7 573.4 394.7 572.9 394.7 572.4 394.7 571.9 394.7 571.4 394.6 570.9 394.6 570.5 394.6 570.0 394.6 569.5 394.6 569.0 394.6 568.5 394.6 568.0 394.6 567.5 394.6 567.0 394.5 567.0 394.5 610.9Z" fill="#e1812c" stroke="#3a3a3a" stroke-width="0.6"/>
<line x1="394.5" y1="592.6" x2="401.8" y2="592.6" stroke="#3a3a3a" stroke-width="0.45" stroke-dasharray="1.5 1"/>
<line x1="394.5" y1="590.2" x2="404.3" y2="590.2" stroke="#3a3a3a" stroke-width="0.45" stroke-dasharray="1.5 1"/>
<line x1="394.5" y1="587.7" x2="402.1" y2="587.7" stroke="#3a3a3a" stroke-width="0.45" stroke-dasharray="1.5 1"/>
<line x1="394.5" y1="619.8" x2="394.5" y2="625.5" stroke="#000" stroke-width="1.1"/>
<text class="L" font-size="12.1" text-anchor="end" transform="translate(413.5 638.8) rotate(-26)" fill="#111">GCL/IPL</text>
<path d="M420.0 610.9 420.0 610.4 420.0 609.9 420.0 609.4 420.0 609.0 419.9 608.5 419.9 608.0 419.9 607.5 419.9 607.0 419.9 606.5 419.9 606.1 419.9 605.6 419.9 605.1 419.9 604.6 419.9 604.1 419.9 603.6 419.9 603.2 419.9 602.7 419.8 602.2 419.8 601.7 419.8 601.2 419.8 600.8 419.8 600.3 419.8 599.8 419.8 599.3 419.8 598.8 419.8 598.3 419.7 597.9 419.7 597.4 419.7 596.9 419.6 596.4 419.5 595.9 419.4 595.4 419.1 595.0 418.7 594.5 418.1 594.0 417.3 593.5 416.3 593.0 415.1 592.5 413.8 592.1 412.5 591.6 411.5 591.1 410.8 590.6 410.5 590.1 410.7 589.6 411.4 589.2 412.4 588.7 413.6 588.2 414.9 587.7 416.1 587.2 417.2 586.8 418.0 586.3 418.6 585.8 419.0 585.3 419.3 584.8 419.5 584.3 419.6 583.9 419.7 583.4 419.7 582.9 419.7 582.4 419.7 581.9 419.8 581.4 419.8 581.0 419.8 580.5 419.8 580.0 419.8 579.5 419.8 579.0 419.8 578.5 419.8 578.1 419.9 577.6 419.9 577.1 419.9 576.6 419.9 576.1 419.9 575.6 419.9 575.2 419.9 574.7 419.9 574.2 419.9 573.7 419.9 573.2 419.9 572.8 419.9 572.3 419.9 571.8 420.0 571.3 420.0 570.8 420.0 570.3 420.0 569.9 420.0 569.4 420.0 568.9 420.0 568.4 420.0 567.9 420.0 567.9 420.0 610.9Z" fill="#3274a1" stroke="#3a3a3a" stroke-width="0.6"/>
<line x1="420.0" y1="591.6" x2="412.5" y2="591.6" stroke="#3a3a3a" stroke-width="0.45" stroke-dasharray="1.5 1"/>
<line x1="420.0" y1="590.1" x2="410.5" y2="590.1" stroke="#3a3a3a" stroke-width="0.45" stroke-dasharray="1.5 1"/>
<line x1="420.0" y1="588.7" x2="412.4" y2="588.7" stroke="#3a3a3a" stroke-width="0.45" stroke-dasharray="1.5 1"/>
<path d="M420.0 610.9 420.0 610.4 420.0 609.9 420.0 609.4 420.0 609.0 420.1 608.5 420.1 608.0 420.1 607.5 420.1 607.0 420.1 606.5 420.1 606.1 420.1 605.6 420.1 605.1 420.1 604.6 420.1 604.1 420.1 603.6 420.1 603.2 420.1 602.7 420.2 602.2 420.2 601.7 420.2 601.2 420.2 600.8 420.2 600.3 420.2 599.8 420.2 599.3 420.2 598.8 420.2 598.3 420.3 597.9 420.3 597.4 420.3 596.9 420.4 596.4 420.5 595.9 420.6 595.4 420.9 595.0 421.3 594.5 421.9 594.0 422.7 593.5 423.7 593.0 424.9 592.5 426.2 592.1 427.5 591.6 428.5 591.1 429.2 590.6 429.5 590.1 429.3 589.6 428.6 589.2 427.6 588.7 426.4 588.2 425.1 587.7 423.9 587.2 422.8 586.8 422.0 586.3 421.4 585.8 421.0 585.3 420.7 584.8 420.5 584.3 420.4 583.9 420.3 583.4 420.3 582.9 420.3 582.4 420.3 581.9 420.2 581.4 420.2 581.0 420.2 580.5 420.2 580.0 420.2 579.5 420.2 579.0 420.2 578.5 420.2 578.1 420.1 577.6 420.1 577.1 420.1 576.6 420.1 576.1 420.1 575.6 420.1 575.2 420.1 574.7 420.1 574.2 420.1 573.7 420.1 573.2 420.1 572.8 420.1 572.3 420.1 571.8 420.0 571.3 420.0 570.8 420.0 570.3 420.0 569.9 420.0 569.4 420.0 568.9 420.0 568.4 420.0 567.9 420.0 567.9 420.0 610.9Z" fill="#e1812c" stroke="#3a3a3a" stroke-width="0.6"/>
<line x1="420.0" y1="591.6" x2="427.5" y2="591.6" stroke="#3a3a3a" stroke-width="0.45" stroke-dasharray="1.5 1"/>
<line x1="420.0" y1="590.1" x2="429.5" y2="590.1" stroke="#3a3a3a" stroke-width="0.45" stroke-dasharray="1.5 1"/>
<line x1="420.0" y1="588.7" x2="427.6" y2="588.7" stroke="#3a3a3a" stroke-width="0.45" stroke-dasharray="1.5 1"/>
<line x1="420.0" y1="619.8" x2="420.0" y2="625.5" stroke="#000" stroke-width="1.1"/>
<text class="L" font-size="12.1" text-anchor="end" transform="translate(436.0 638.8) rotate(-26)" fill="#111">ONL</text>
<path d="M445.5 604.0 445.4 603.5 445.4 603.1 445.4 602.6 445.4 602.2 445.3 601.7 445.2 601.3 445.1 600.8 445.0 600.3 444.9 599.9 444.7 599.4 444.5 599.0 444.2 598.5 443.9 598.1 443.6 597.6 443.2 597.2 442.7 596.7 442.2 596.3 441.6 595.8 441.0 595.4 440.4 594.9 439.8 594.5 439.1 594.0 438.4 593.6 437.8 593.1 437.2 592.7 436.7 592.2 436.3 591.8 435.9 591.3 435.7 590.9 435.5 590.4 435.5 590.0 435.6 589.5 435.8 589.1 436.1 588.6 436.5 588.2 437.0 587.7 437.5 587.3 438.1 586.8 438.8 586.3 439.4 585.9 440.0 585.4 440.6 585.0 441.2 584.5 441.7 584.1 442.2 583.6 442.7 583.2 443.0 582.7 443.4 582.3 443.6 581.8 443.9 581.4 444.0 580.9 444.2 580.5 444.3 580.0 444.3 579.6 444.4 579.1 444.4 578.7 444.4 578.2 444.4 577.8 444.4 577.3 444.4 576.9 444.5 576.4 444.5 576.0 444.5 575.5 444.5 575.1 444.6 574.6 444.6 574.2 444.6 573.7 444.7 573.2 444.7 572.8 444.7 572.3 444.7 571.9 444.6 571.4 444.5 571.0 444.2 570.5 443.9 570.1 443.3 569.6 442.7 569.2 442.0 568.7 441.3 568.3 440.8 567.8 440.4 567.4 440.4 566.9 440.6 566.5 441.1 566.0 441.7 565.6 442.5 565.1 443.2 564.7 443.9 564.2 444.4 563.8 445.5 563.8 445.5 604.0Z" fill="#3274a1" stroke="#3a3a3a" stroke-width="0.6"/>
<line x1="445.5" y1="591.8" x2="436.3" y2="591.8" stroke="#3a3a3a" stroke-width="0.45" stroke-dasharray="1.5 1"/>
<line x1="445.5" y1="588.2" x2="436.5" y2="588.2" stroke="#3a3a3a" stroke-width="0.45" stroke-dasharray="1.5 1"/>
<line x1="445.5" y1="581.4" x2="443.9" y2="581.4" stroke="#3a3a3a" stroke-width="0.45" stroke-dasharray="1.5 1"/>
<path d="M446.6 616.4 447.1 616.0 447.8 615.5 448.5 615.1 449.3 614.6 449.9 614.2 450.4 613.7 450.6 613.3 450.6 612.8 450.2 612.4 449.7 611.9 449.0 611.5 448.3 611.0 447.7 610.6 447.1 610.1 446.8 609.7 446.5 609.2 446.4 608.8 446.3 608.3 446.3 607.9 446.3 607.4 446.3 607.0 446.4 606.5 446.4 606.0 446.4 605.6 446.5 605.1 446.5 604.7 446.5 604.2 446.5 603.8 446.6 603.3 446.6 602.9 446.6 602.4 446.6 602.0 446.6 601.5 446.6 601.1 446.7 600.6 446.7 600.2 446.8 599.7 447.0 599.3 447.1 598.8 447.4 598.4 447.6 597.9 448.0 597.5 448.3 597.0 448.8 596.6 449.3 596.1 449.8 595.7 450.4 595.2 451.0 594.8 451.6 594.3 452.2 593.9 452.9 593.4 453.5 592.9 454.0 592.5 454.5 592.0 454.9 591.6 455.2 591.1 455.4 590.7 455.5 590.2 455.5 589.8 455.3 589.3 455.1 588.9 454.7 588.4 454.3 588.0 453.8 587.5 453.2 587.1 452.6 586.6 451.9 586.2 451.2 585.7 450.6 585.3 450.0 584.8 449.4 584.4 448.8 583.9 448.3 583.5 447.8 583.0 447.4 582.6 447.1 582.1 446.8 581.7 446.5 581.2 446.3 580.8 446.1 580.3 446.0 579.9 445.9 579.4 445.8 578.9 445.7 578.5 445.6 578.0 445.6 577.6 445.6 577.1 445.6 576.7 445.5 576.2 445.5 576.2 445.5 616.4Z" fill="#e1812c" stroke="#3a3a3a" stroke-width="0.6"/>
<line x1="445.5" y1="598.8" x2="447.1" y2="598.8" stroke="#3a3a3a" stroke-width="0.45" stroke-dasharray="1.5 1"/>
<line x1="445.5" y1="592.0" x2="454.5" y2="592.0" stroke="#3a3a3a" stroke-width="0.45" stroke-dasharray="1.5 1"/>
<line x1="445.5" y1="588.4" x2="454.7" y2="588.4" stroke="#3a3a3a" stroke-width="0.45" stroke-dasharray="1.5 1"/>
<line x1="445.5" y1="619.8" x2="445.5" y2="625.5" stroke="#000" stroke-width="1.1"/>
<text class="L" font-size="12.1" text-anchor="end" transform="translate(459.3 637.6) rotate(-26)" fill="#111">GL</text>
<rect x="305.3" y="560.2" width="153.3" height="59.6" fill="none" stroke="#000" stroke-width="1.1"/>
<line x1="299.6" y1="567.2" x2="305.3" y2="567.2" stroke="#000" stroke-width="1.1"/>
<text x="294.1" y="571.8" class="D" font-size="12.6" text-anchor="end">1</text>
<line x1="299.6" y1="613.4" x2="305.3" y2="613.4" stroke="#000" stroke-width="1.1"/>
<text x="294.1" y="618.0" class="D" font-size="12.6" text-anchor="end">0</text>
<text x="277.8" y="596.5" class="L" font-size="12.7" text-anchor="middle" transform="rotate(-90 277.8 596.5)">Modality weights</text>
<rect x="306.2" y="526.8" width="21.6" height="7.7" fill="#3274a1" stroke="#3a3a3a" stroke-width="0.5"/>
<rect x="306.2" y="541.0" width="21.6" height="7.7" fill="#e1812c" stroke="#3a3a3a" stroke-width="0.5"/>
<text x="331.0" y="533.2" class="L" font-size="10.4">Omics-3</text>
<text x="331.0" y="547.5" class="L" font-size="10.4">Omics-4</text>
<text x="480.0" y="531.8" class="L" font-size="19.5" font-weight="bold" dy="0.6">i</text>
<text x="547.8" y="516.7" class="L" font-size="10.5" text-anchor="middle">SpatialGlue</text>
<line x1="508.2" y1="534.3" x2="508.2" y2="577.4" stroke="#888" stroke-width="0.9"/>
<line x1="508.2" y1="577.4" x2="554.6" y2="577.4" stroke="#888" stroke-width="0.9"/>
<text x="507.9" y="591.2" class="L" font-size="10.6">UMAP 1</text>
<text x="503.8" y="558.8" class="L" font-size="10.6" text-anchor="middle" transform="rotate(-90 503.8 558.8)">UMAP 2</text>
<path d="M521.9 526.3 522.3 525.8 522.9 525.3 523.8 524.9 525.0 524.4 526.5 523.9 528.5 523.5 530.9 522.9 533.5 522.4 536.3 522.0 538.9 521.6 541.3 521.4 543.8 521.1 546.3 521.0 548.8 520.9 551.2 520.9 553.8 520.9 556.4 521.0 559.0 521.2 561.4 521.4 563.6 521.6 565.5 521.9 567.2 522.1 568.8 522.4 570.1 522.8 571.3 523.2 572.3 523.7 573.0 524.2 573.6 524.8 574.0 525.5 574.4 526.3 574.8 527.1 575.2 528.1 575.4 529.1 575.5 530.1 575.2 530.9 574.6 531.5 573.7 532.0 572.5 532.5 571.2 532.8 569.8 533.2 568.2 533.6 566.5 533.9 564.6 534.2 562.6 534.5 560.5 534.8 558.1 535.0 555.5 535.2 552.8 535.3 550.3 535.5 548.1 535.5 546.5 535.6 545.2 535.7 544.1 535.7 543.1 535.7 542.0 535.5 540.7 535.4 539.5 535.1 538.2 534.8 537.0 534.4 535.8 534.0 534.5 533.5 533.3 532.8 532.1 532.2 530.8 531.5 529.6 530.9 528.3 530.4 526.9 529.9 525.5 529.5 524.3 529.0 523.4 528.6 522.7 528.1 522.2 527.7 521.8 527.2 521.7 526.7Z" fill="#46E2EA"/>
<path transform="scale(.25)" d="M2153 2085h0m4 0h0m7 2h0m2 0h0m8-6h0m16 0h0m20 1h0m21 2h0m36 3h0m5-1h0m-167 6h0m2 3h0m15-3h0m4 3h0m4-7h0m12 3h0m14-3h0m6 7h0m3-2h0m3 0h0m10-3h0m1 1h0m4-3h0m2 5h0m1-4h0m2 4h0m1-1h0m5-1h0m2-3h0m4 5h0m5-4h0m10-1h0m4 7h0m2-2h0m11-2h0m0 4h0m1-4h0m1 1h0m18 2h0m5-6h0m14 5h0m2-1h0m1-1h0m2 0h0m3 0h0m5-1h0m1 4h0m1-6h0m6 6h0m-203 9h0m2-6h0m13 3h0m1-4h0m1 2h0m9-1h0m6 1h0m4 5h0m3-5h0m8 4h0m4-2h0m6 2h0m2-5h0m1 4h0m0-1h0m2-2h0m3 5h0m0-4h0m3 0h0m4 1h0m6-2h0m3 2h0m2-2h0m2 3h0m0-1h0m5-2h0m16 0h0m0 4h0m6-6h0m0 7h0m2-3h0m18-2h0m2 5h0m1-3h0m7 2h0m5-5h0m3-1h0m2 2h0m1 3h0m1-5h0m4 5h0m13-1h0m1 2h0m1-6h0m1 4h0m11-3h0m3 0h0m1 0h0m8 0h0m3 0h0m4 3h0m5-4h0m-218 12h0m5 2h0m0-5h0m4 0h0m1 5h0m6-2h0m4 2h0m8 1h0m1-1h0m5-4h0m0 3h0m21 1h0m1 1h0m5-7h0m7 4h0m0-1h0m0 1h0m3 2h0m3 1h0m11-5h0m4-2h0m0 5h0m3-2h0m3-3h0m4 2h0m1 4h0m2-6h0m2 3h0m1-3h0m0 3h0m10 3h0m2 1h0m0-1h0m1-6h0m11 1h0m1 0h0m4 5h0m10-5h0m1 1h0m2 1h0m9 0h0m11 3h0m6 1h0m1-7h0m2 2h0m5 0h0m1 1h0m1 0h0m2-1h0m3 1h0m0-3h0m4 3h0m4 3h0m3-5h0m0 3h0m5-3h0m8 3h0m4 2h0m-198 2h0m1 0h0m3 1h0m1 2h0m10 4h0m2-4h0m0-3h0m7 7h0m2-2h0m1 1h0m1-6h0m2 2h0m4-1h0m3 6h0m2-3h0m2 1h0m5-2h0m0 4h0m4-3h0m8-1h0m0 4h0m5-3h0m6-3h0m1 0h0m1 1h0m7-2h0m1 0h0m4 6h0m1-4h0m3 3h0m0-1h0m3-4h0m1 5h0m3-3h0m9 5h0m5-1h0m13 0h0m16-1h0m5 0h0m3 1h0m0-1h0m1-3h0m4 3h0m0-2h0m6-3h0m0 0h0m1 4h0m0-1h0m2 4h0m8-7h0m2 5h0m1 0h0m3-3h0m7-1h0m4-1h0m2 1h0m6-1h0m1 4h0m15-1h0m-184 9h0m0-1h0m1 0h0m8 4h0m1 0h0m6-2h0m1-4h0m4 0h0m4 4h0m1-4h0m2 3h0m1-4h0m1 7h0m5-5h0m3 5h0m2-7h0m0 5h0m6 2h0m9-7h0m7 4h0m3-2h0m5 5h0m6 0h0m2-4h0m7 4h0m4-6h0m16 1h0m2-2h0m7 5h0m13 1h0m5-6h0m0 7h0m8-3h0m3 0h0m11 0h0m1-2h0m16 1h0m2 2h0m8 0h0m5-4h0m-180 12h0m3 0h0m2-1h0m5 2h0m5 1h0m9 0h0m2 0h0m0-6h0m0-1h0m3 6h0m2 1h0m5-5h0m6 3h0m10-2h0m1 0h0m6 1h0m7 2h0m9 1h0m9-1h0m1-6h0m3 6h0m8-3h0m15-2h0m10 6h0m1 0h0m7-5h0m0 0h0m7 0h0m0 5h0m3-2h0m3-3h0m1 4h0m8-5h0m1 4h0m0 1h0m3-4h0m-143 8h0m18 2h0m2-4h0m5 2h0m1-2h0m2 6h0m6-2h0m7-2h0m7 4h0m19-5h0m9 2h0m2 0h0m1 2h0m10-1h0m8-3h0m0 2h0m2-2h0m5-1h0m6 2h0m4-2h0m7 1h0m1 0h0m5 2h0m3-3h0m-94 8h0m11 0h0" stroke="#46E2EA" stroke-width="6.4" stroke-linecap="round" fill="none"/>
<path d="M547.4 536.8 548.1 536.4 549.2 536.0 550.5 535.5 552.0 535.0 553.6 534.5 555.1 534.1 556.6 533.7 558.1 533.4 559.7 533.1 561.3 532.9 563.0 532.7 564.5 532.5 566.1 532.3 567.5 532.2 568.8 532.0 570.0 531.7 571.3 531.5 572.4 531.3 573.5 531.2 574.4 531.2 575.2 531.4 575.8 531.7 576.3 532.1 576.7 532.7 577.0 533.3 577.2 533.9 577.4 534.6 577.5 535.2 577.6 535.9 577.6 536.6 577.5 537.3 577.4 538.0 577.2 538.6 577.0 539.3 576.7 539.9 576.4 540.4 576.1 540.9 575.7 541.4 575.3 541.9 574.8 542.3 574.3 542.7 573.6 543.0 572.9 543.2 572.1 543.4 571.2 543.5 570.3 543.6 569.3 543.7 568.4 543.7 567.5 543.7 566.6 543.7 565.7 543.7 564.8 543.6 563.9 543.5 563.0 543.4 562.2 543.2 561.3 543.0 560.4 542.7 559.5 542.4 558.6 542.1 557.7 541.7 556.9 541.4 556.0 541.0 555.1 540.7 554.2 540.3 553.2 540.0 552.2 539.6 551.2 539.3 550.3 538.9 549.5 538.6 548.9 538.3 548.4 538.1 547.8 537.9 547.4 537.7 547.0 537.5 546.9 537.3 547.0 537.1Z" fill="#FDD418"/>
<path transform="scale(.25)" d="M2287 2127h0m7-3h0m-78 11h0m7-1h0m15 0h0m10 0h0m2-3h0m4 0h0m1 1h0m1 3h0m2-2h0m9-4h0m3 0h0m6 0h0m3-1h0m1 6h0m4-2h0m6 1h0m4-3h0m6 1h0m5-1h0m-96 11h0m1 1h0m4-4h0m1 4h0m3-2h0m0 0h0m8-1h0m1-1h0m0 0h0m1 2h0m3-2h0m12 3h0m1-5h0m4 1h0m3 4h0m19-4h0m10 6h0m1-5h0m1 2h0m2 2h0m2-5h0m21 6h0m1-2h0m0-5h0m-124 13h0m4 2h0m16-2h0m3-4h0m6 1h0m6 3h0m3-2h0m2-1h0m10 1h0m12 1h0m2-2h0m7-1h0m3 4h0m2-2h0m1-2h0m2 0h0m7 6h0m1-6h0m11 1h0m0 1h0m2-1h0m0 0h0m13 2h0m2 3h0m0-5h0m1 5h0m1-2h0m3-1h0m1 2h0m1-4h0m2 0h0m2 4h0m2-2h0m-116 8h0m7 3h0m1-3h0m1 0h0m3 1h0m9-4h0m3 6h0m3-4h0m1 4h0m1-2h0m4-3h0m3 0h0m0 0h0m2 5h0m1-1h0m1 1h0m1-5h0m2 1h0m16-1h0m3 5h0m22-4h0m1 4h0m0 0h0m2-5h0m6-1h0m1 4h0m6 0h0m6-2h0m-94 5h0m17 5h0m12-4h0m0 2h0m3-1h0m11-1h0m9 3h0m2 0h0m1-4h0m13 4h0m1-2h0m4 2h0m1-2h0m1-1h0m2 4h0m12-1h0m4-4h0m-70 8h0m10 1h0m2 5h0m14-1h0m12-5h0m6 0h0m15 1h0m2 3h0m5 1h0m-32 3h0m2 2h0m20-1h0" stroke="#FDD418" stroke-width="6.4" stroke-linecap="round" fill="none"/>
<path d="M535.0 538.9 536.5 538.0 538.2 537.3 540.1 536.9 542.0 536.6 543.9 536.6 545.8 536.8 547.8 537.2 549.7 537.7 551.7 538.2 553.6 538.7 555.5 539.3 557.5 540.0 559.4 540.7 561.4 541.6 563.3 542.4 565.2 543.1 567.1 543.6 569.1 544.0 570.8 544.5 572.1 545.1 573.0 546.0 573.5 547.0 573.7 548.0 573.7 549.0 573.5 549.8 573.0 550.6 572.3 551.3 571.4 552.1 570.1 552.8 568.6 553.6 566.9 554.4 565.2 555.1 563.4 555.9 561.4 556.8 559.4 557.6 557.5 558.2 555.5 558.8 553.5 559.3 551.6 559.7 549.7 560.1 548.0 560.5 546.4 560.9 544.9 561.2 543.5 561.3 542.3 561.2 541.2 560.9 540.1 560.5 538.9 560.1 537.6 559.7 536.1 559.4 534.7 558.9 533.5 558.2 532.5 557.3 531.7 556.1 531.0 554.8 530.4 553.6 530.0 552.4 529.7 551.3 529.6 550.1 529.6 549.0 530.0 547.8 530.6 546.7 531.2 545.5 532.0 544.3 532.6 543.0 533.2 541.5 534.0 540.1Z" fill="#F4812F"/>
<path transform="scale(.25)" d="M2158 2143h0m-11 6h0m10 2h0m2-4h0m0 4h0m10-3h0m1 0h0m7 0h0m1 1h0m4 1h0m16 0h0m-59 4h0m6 4h0m1-6h0m1 6h0m0-6h0m3 6h0m5-4h0m8 3h0m3 0h0m3-4h0m7 6h0m1-3h0m1-3h0m10 2h0m0 4h0m5-4h0m0-1h0m5 0h0m3 5h0m5-6h0m2 4h0m13-1h0m2 1h0m4 0h0m-85 10h0m3 0h0m3-4h0m2-1h0m1 1h0m18 4h0m8-4h0m6 0h0m2 0h0m5-2h0m10 3h0m8-3h0m0 2h0m1-2h0m0 4h0m1-1h0m2-1h0m0-2h0m2 4h0m2-5h0m2 6h0m1-3h0m0 0h0m5-3h0m2 2h0m5 5h0m1-3h0m0-3h0m2 1h0m-103 11h0m4-1h0m9-4h0m5 4h0m6-1h0m0 3h0m12-6h0m1 2h0m1 5h0m0-4h0m4 4h0m5-3h0m0 0h0m7-3h0m2 1h0m0 3h0m8 2h0m5-4h0m1-1h0m5-1h0m1 6h0m1-6h0m4 4h0m0 1h0m2-5h0m1-1h0m3 6h0m11-1h0m7-5h0m15 0h0m8 3h0m0 2h0m-133 9h0m9-1h0m7 2h0m2-7h0m1 0h0m2 2h0m2-1h0m4-1h0m11 2h0m2-2h0m4 1h0m1 3h0m14 1h0m2-3h0m2-2h0m10 1h0m1 6h0m0-1h0m1 0h0m1-2h0m2-3h0m2 6h0m6-5h0m1 3h0m1-5h0m3 2h0m3-1h0m4 3h0m9-1h0m2 3h0m0-2h0m2 2h0m3-1h0m6 2h0m8-4h0m3 1h0m9 0h0m12-3h0m4 6h0m14 0h0m-162 5h0m3-1h0m3 3h0m2-1h0m3 1h0m8-1h0m5 1h0m13 0h0m8-4h0m5-2h0m0 3h0m2-2h0m0 6h0m2-3h0m1 3h0m10-6h0m15 4h0m9-5h0m5 6h0m5-4h0m8 2h0m6 3h0m2 0h0m2-4h0m0 0h0m13-1h0m3 2h0m9-4h0m5 7h0m2 0h0m6-7h0m3 6h0m9-1h0m-188 6h0m0 0h0m9-2h0m4 2h0m5 4h0m7-4h0m2 1h0m8-2h0m4 2h0m3-2h0m3 4h0m1-3h0m4 1h0m5-2h0m18 2h0m2-4h0m9 2h0m2-1h0m2 1h0m26 2h0m4-4h0m4 0h0m0 6h0m7-3h0m3-2h0m1-1h0m1 4h0m1-3h0m17 6h0m2-7h0m12 3h0m2-2h0m0 4h0m6-2h0m9 3h0m-178 8h0m6-3h0m2 3h0m3 0h0m3-4h0m2 4h0m8-2h0m6 1h0m1-2h0m7 1h0m2-3h0m12 5h0m15-1h0m1-1h0m3-3h0m9 2h0m7 3h0m0-5h0m2 6h0m5-7h0m1 4h0m1-4h0m9 6h0m1-6h0m3 3h0m3 3h0m3 0h0m1-5h0m23 3h0m3-1h0m2-3h0m2 1h0m7 3h0m2 2h0m0-3h0m1-2h0m3 2h0m2 4h0m5-5h0m5 0h0m-158 10h0m4 2h0m0-5h0m5 3h0m5 0h0m5 1h0m0 2h0m5-1h0m3-4h0m0 1h0m2 0h0m15-3h0m1 3h0m8 2h0m8 2h0m1-4h0m0-3h0m5 5h0m6-5h0m21 1h0m4 0h0m3 1h0m1 4h0m2-3h0m3 3h0m6-2h0m0 3h0m2-4h0m0 4h0m9-1h0m0-6h0m9 6h0m7-4h0m2-2h0m5 1h0m11 0h0m0-1h0m-172 11h0m3 1h0m6-1h0m14 1h0m2-3h0m0 1h0m4 5h0m5-2h0m3-5h0m1 4h0m1-2h0m8 3h0m3 0h0m2 2h0m3-5h0m4 2h0m3-4h0m4 4h0m1-1h0m2 0h0m0-3h0m0 0h0m5 3h0m6 0h0m1-1h0m0 2h0m5-3h0m1 4h0m2 2h0m7-2h0m2 1h0m21 0h0m4-6h0m1 2h0m2 5h0m0-6h0m3 3h0m10-2h0m4-1h0m-127 7h0m0 5h0m1-4h0m3 5h0m0-2h0m5 1h0m6-2h0m3 2h0m6 0h0m2-4h0m1 4h0m2-3h0m1-2h0m2 4h0m0-1h0m1 0h0m4 0h0m1-1h0m7-2h0m5 0h0m2 3h0m2-2h0m3 5h0m3 0h0m1-6h0m1 3h0m4 1h0m0-3h0m1 2h0m1 4h0m3-1h0m15-5h0m5-1h0m1 3h0m5-3h0m2 5h0m4-1h0m0 3h0m6-7h0m6 6h0m0-2h0m11-4h0m-121 8h0m11 1h0m1 0h0m1 3h0m0-1h0m3-3h0m0 5h0m0 2h0m7-3h0m4-2h0m0 2h0m1-2h0m2 2h0m5 2h0m1-4h0m8 2h0m1 0h0m1 3h0m6-2h0m4-2h0m4 4h0m4-4h0m9 4h0m9 0h0m5-1h0m7-4h0m-93 7h0m18 2h0m12 3h0m11-1h0m3-3h0m4 2h0m4-4h0m2 4h0m5-4h0m6 3h0m-39 5h0" stroke="#F4812F" stroke-width="6.4" stroke-linecap="round" fill="none"/>
<path d="M512.4 565.3 513.2 564.7 514.1 564.1 515.3 563.4 516.5 562.8 517.8 562.2 519.2 561.7 520.8 561.2 522.5 560.7 524.1 560.3 525.6 559.9 526.9 559.5 528.1 559.1 529.3 558.7 530.5 558.5 531.7 558.3 533.0 558.3 534.3 558.4 535.6 558.6 536.8 558.8 537.9 559.1 539.0 559.4 540.0 559.8 540.9 560.3 541.8 560.8 542.6 561.4 543.3 562.1 544.0 562.8 544.7 563.6 545.2 564.4 545.6 565.3 546.0 566.2 546.3 567.1 546.4 568.1 546.5 569.1 546.4 569.9 546.2 570.7 545.9 571.3 545.5 572.0 544.9 572.5 544.1 573.0 543.1 573.4 542.0 573.7 540.7 574.0 539.3 574.1 537.9 574.2 536.5 574.3 535.0 574.2 533.5 574.1 531.9 574.0 530.2 573.8 528.4 573.5 526.4 573.3 524.5 573.0 522.6 572.6 520.9 572.2 519.4 571.8 518.1 571.4 516.8 570.9 515.7 570.4 514.7 569.9 513.9 569.4 513.1 569.0 512.5 568.5 512.0 568.1 511.6 567.6 511.5 567.1 511.4 566.7 511.6 566.3 511.9 565.8Z" fill="#7D3C9C"/>
<path transform="scale(.25)" d="M2135 2230h0m1 1h0m-39 7h0m9 0h0m6-3h0m4 1h0m1 1h0m7-5h0m4 5h0m9 0h0m0-4h0m2 5h0m1-2h0m7 0h0m-75 9h0m5 1h0m14-2h0m1 2h0m1-4h0m4-1h0m0 5h0m3-2h0m23-1h0m8 3h0m2 0h0m8-2h0m1-4h0m7 2h0m1-1h0m1 6h0m5-6h0m10 6h0m8 0h0m-120 8h0m6-2h0m7 2h0m13-4h0m2-2h0m6 6h0m1-4h0m4 2h0m9-3h0m1 4h0m3-5h0m17 4h0m2-1h0m0-3h0m3 5h0m3 1h0m11-4h0m1-1h0m1 4h0m5 0h0m2-2h0m3 0h0m4 2h0m1-6h0m4 7h0m3-7h0m2 2h0m8 3h0m5 1h0m-139 8h0m3-2h0m4 3h0m3-4h0m1 4h0m3-7h0m3 2h0m2-2h0m5 7h0m1-3h0m1 3h0m13 0h0m13-4h0m3 3h0m4-5h0m2-1h0m5 4h0m4-4h0m0 1h0m6 6h0m2-3h0m15-2h0m8 1h0m2-1h0m0 2h0m2 0h0m2-4h0m1 2h0m10 5h0m3-6h0m0-1h0m6 5h0m5 2h0m2-1h0m1-5h0m7 6h0m-124 1h0m23 5h0m7-5h0m5 2h0m3 0h0m4 5h0m11-4h0m2-1h0m5 2h0m1 3h0m8-3h0m9-3h0m14 1h0m4 4h0m3-1h0m1-4h0m22-1h0m-119 10h0m7 1h0m1 3h0m8-5h0m1 0h0m7-1h0m3 0h0m1 4h0m4-2h0m1 1h0m11 0h0m5 2h0m2 2h0m1-7h0m3 5h0m15 2h0m14-1h0m9-4h0m0 4h0m12-3h0m19 2h0m2-5h0m-126 10h0m8 4h0m4-3h0m3-2h0m3 3h0m2-2h0m4 1h0m6 0h0m2-1h0m1 5h0m0-2h0m1-4h0m6 3h0m1 1h0m4-5h0m8 6h0m2-1h0m3-1h0m4 1h0m4 1h0m0-1h0m4 2h0m5-2h0m0-5h0m7 5h0m9-4h0m2 4h0m0-4h0m9 5h0m1-3h0m0 2h0m3-5h0m5 1h0m2 1h0m9 1h0m2-2h0m-106 8h0m13 4h0m7 1h0m1-6h0m0 0h0m7 3h0m7 1h0m2 1h0m10 2h0m3-2h0m10-4h0m2 5h0m4-4h0m3 3h0m0-1h0m1 1h0m2-3h0m1 4h0m1-5h0m1-1h0m3 4h0m5 1h0m1-3h0m4 4h0m1-5h0m13 0h0m-48 9h0m3-2h0m9 2h0m8 0h0m5 1h0m5 0h0m3-3h0" stroke="#7D3C9C" stroke-width="6.4" stroke-linecap="round" fill="none"/>
<path transform="scale(.25)" d="M2134 2140h0m-3 4h0m6 3h0m7 3h0m6-3h0m-10 6h0m13 0h0" stroke="#7D3C9C" stroke-width="7.2" stroke-linecap="round" fill="none"/>
<text x="652.9" y="516.7" class="L" font-size="10.5" text-anchor="middle">COSMOS</text>
<line x1="620.7" y1="534.3" x2="620.7" y2="577.4" stroke="#888" stroke-width="0.9"/>
<line x1="620.7" y1="577.4" x2="667.0" y2="577.4" stroke="#888" stroke-width="0.9"/>
<text x="620.4" y="591.2" class="L" font-size="10.6">UMAP 1</text>
<text x="616.3" y="558.8" class="L" font-size="10.6" text-anchor="middle" transform="rotate(-90 616.3 558.8)">UMAP 2</text>
<path d="M676.8 524.1 677.0 523.5 677.4 523.0 677.7 522.5 678.1 522.1 678.5 521.7 679.0 521.4 679.4 521.2 679.9 521.0 680.3 520.9 680.8 520.9 681.3 520.9 681.8 520.9 682.4 521.1 682.8 521.2 683.3 521.5 683.7 521.8 684.1 522.2 684.4 522.6 684.7 523.2 685.0 523.7 685.3 524.4 685.6 525.0 685.8 525.7 686.0 526.4 686.3 527.2 686.5 528.0 686.7 528.9 686.9 529.9 687.1 530.8 687.3 531.7 687.4 532.6 687.6 533.4 687.7 534.2 687.9 534.9 688.1 535.6 688.2 536.3 688.3 537.0 688.4 537.6 688.4 538.2 688.4 538.8 688.2 539.4 688.1 540.0 687.8 540.6 687.5 541.1 687.2 541.6 686.9 542.1 686.5 542.4 686.0 542.7 685.6 542.8 685.0 542.9 684.4 542.9 683.8 542.8 683.1 542.7 682.5 542.5 681.9 542.2 681.4 541.9 680.9 541.5 680.5 541.0 680.1 540.5 679.7 539.9 679.3 539.3 679.0 538.6 678.7 537.9 678.3 537.3 678.0 536.6 677.6 535.8 677.3 535.1 676.9 534.3 676.6 533.5 676.3 532.7 676.1 531.9 676.0 531.1 675.9 530.2 675.9 529.3 676.0 528.4 676.0 527.4 676.2 526.5 676.3 525.6 676.5 524.8Z" fill="#7D3C9C"/>
<path transform="scale(.25)" d="M2737 2087h0m-30 4h0m1 2h0m4-4h0m4 2h0m4-2h0m7 3h0m4 1h0m2-5h0m-26 13h0m3 2h0m3-7h0m4 1h0m1 4h0m2-5h0m2 6h0m0-6h0m3 1h0m3 1h0m6 4h0m0-6h0m2 4h0m9 2h0m-39 3h0m2 6h0m5-7h0m0 4h0m1-2h0m4-1h0m3 5h0m7-1h0m3 0h0m7-4h0m1 4h0m0-5h0m4 7h0m0 0h0m-40 4h0m5 3h0m5-3h0m1-1h0m4 4h0m4 1h0m4-7h0m0 1h0m3 5h0m5-3h0m0-3h0m14 7h0m-44 6h0m1-5h0m4 1h0m6 6h0m5 0h0m9 0h0m0-7h0m1 0h0m5 7h0m3 0h0m11-3h0m-43 5h0m0 5h0m3-4h0m8 3h0m7 1h0m10-6h0m2 0h0m1 2h0m0-1h0m0 3h0m10-3h0m2 0h0m2 1h0m-35 13h0m2-5h0m5 5h0m2-2h0m3 1h0m4 1h0m7-4h0m8-3h0m2 6h0m-40 5h0m2 0h0m4-2h0m3 2h0m7 4h0m2-2h0m1-5h0m2 4h0m6 1h0m1 2h0m0-1h0m0 0h0m10-5h0m0 5h0m4 0h0m-34 5h0m0 2h0m1 0h0m8-4h0m3 6h0m3-2h0m5-2h0m9-3h0m-18 11h0m4 1h0m1 2h0m14 0h0m1-5h0m3 5h0m0-2h0m-27 6h0m2-1h0m13 4h0m1-2h0m1 3h0m3-4h0m0-1h0" stroke="#7D3C9C" stroke-width="6.4" stroke-linecap="round" fill="none"/>
<path d="M686.4 536.9 686.6 536.6 686.9 536.3 687.2 536.0 687.5 535.7 687.9 535.5 688.3 535.3 688.7 535.1 689.1 534.9 689.5 534.7 689.9 534.6 690.3 534.5 690.6 534.5 691.0 534.5 691.5 534.4 691.9 534.5 692.3 534.5 692.7 534.6 693.1 534.7 693.4 534.8 693.7 534.9 694.0 535.1 694.1 535.3 694.3 535.5 694.3 535.8 694.3 536.1 694.3 536.5 694.2 536.8 694.1 537.2 694.0 537.6 693.9 538.0 693.7 538.4 693.5 538.8 693.4 539.2 693.2 539.6 692.9 540.0 692.7 540.5 692.4 541.0 692.1 541.5 691.8 541.9 691.4 542.4 691.1 542.8 690.8 543.2 690.5 543.5 690.3 543.8 690.0 544.0 689.8 544.2 689.6 544.4 689.3 544.5 689.1 544.6 688.9 544.7 688.7 544.8 688.5 544.8 688.3 544.7 688.1 544.7 688.0 544.6 687.8 544.5 687.6 544.3 687.4 544.1 687.3 543.8 687.1 543.5 687.0 543.2 686.8 542.9 686.7 542.6 686.6 542.2 686.5 541.9 686.4 541.5 686.3 541.1 686.3 540.7 686.2 540.3 686.1 539.8 686.1 539.4 686.1 538.9 686.1 538.4 686.1 538.0 686.2 537.6 686.3 537.2Z" fill="#F4812F"/>
<path transform="scale(.25)" d="M2761 2135h0m0 6h0m2-4h0m3 2h0m8-2h0m1 4h0m0-4h0m-30 12h0m3 2h0m8-3h0m17-4h0m1 3h0m5 2h0m-37 5h0m2 3h0m0 2h0m20-7h0m4 4h0m-18 10h0m2-2h0m2 0h0m1-1h0m3 1h0m7 3h0m1 0h0m2 0h0m0-7h0m2 6h0m-18 4h0m4-2h0m4 0h0m0 4h0m3 3h0" stroke="#F4812F" stroke-width="6.4" stroke-linecap="round" fill="none"/>
<path d="M665.6 549.1 666.0 548.6 666.6 548.1 667.2 547.6 667.8 547.2 668.6 546.8 669.4 546.4 670.3 546.0 671.2 545.6 672.3 545.3 673.4 544.9 674.6 544.6 675.8 544.3 676.9 544.0 678.0 543.7 679.0 543.4 679.9 543.1 680.9 542.8 681.8 542.5 682.6 542.3 683.4 542.2 684.2 542.1 684.9 542.2 685.6 542.4 686.2 542.6 686.8 542.9 687.3 543.3 687.7 543.8 688.0 544.5 688.2 545.3 688.3 546.3 688.2 547.5 688.1 548.7 687.9 549.9 687.6 551.1 687.3 552.2 686.8 553.2 686.3 554.2 685.6 555.1 684.9 556.0 684.2 556.9 683.4 557.7 682.6 558.4 681.8 559.0 681.0 559.5 680.1 560.0 679.2 560.4 678.2 560.8 677.3 561.1 676.4 561.5 675.5 561.8 674.6 562.1 673.7 562.4 672.8 562.7 671.9 562.9 671.1 563.0 670.3 563.0 669.5 562.9 668.7 562.8 668.0 562.5 667.3 562.2 666.6 561.8 666.1 561.3 665.6 560.7 665.3 559.9 665.1 559.0 664.9 557.9 664.9 556.8 664.8 555.7 664.8 554.6 664.8 553.7 664.8 552.9 664.8 552.2 664.9 551.5 664.9 550.9 665.1 550.2 665.3 549.7Z" fill="#4A5FB0"/>
<path transform="scale(.25)" d="M2738 2167h0m9 0h0m-33 6h0m6 0h0m7 1h0m3-4h0m6 5h0m2-5h0m2 3h0m2 1h0m2-4h0m6 2h0m-71 10h0m4 0h0m3-2h0m1 3h0m8-3h0m11 3h0m2-7h0m1 6h0m1-5h0m1 6h0m2-6h0m0-1h0m7 0h0m2 7h0m10-7h0m12 6h0m5 0h0m1 1h0m4 0h0m-77 1h0m3 0h0m7 4h0m1 0h0m0-4h0m1 4h0m1 3h0m0-6h0m1 6h0m1-6h0m1 5h0m7-3h0m1 0h0m0 3h0m0 1h0m1-6h0m7 2h0m4 3h0m5 1h0m6-5h0m5 3h0m1-5h0m4 3h0m1 4h0m2-5h0m2 0h0m6-1h0m0 3h0m3-4h0m0 6h0m-90 9h0m2-1h0m3-1h0m1-1h0m1-3h0m2 3h0m0 0h0m0-2h0m2 5h0m6-7h0m7 4h0m1 3h0m1-1h0m2-6h0m1 0h0m12 7h0m3 0h0m4-3h0m2-2h0m5 2h0m0-1h0m1 3h0m7-2h0m7-3h0m3 5h0m6-5h0m9 1h0m5 3h0m-78 5h0m3-1h0m26-1h0m6 2h0m7 0h0m4 4h0m8 1h0m4-3h0m5 2h0m1-4h0m12-2h0m2 6h0m-95 6h0m3 3h0m1-6h0m6 6h0m0-2h0m1-2h0m10 0h0m2 2h0m9-3h0m2 3h0m0 0h0m2 0h0m3-4h0m5 0h0m6 0h0m2 5h0m7 1h0m10-1h0m4-3h0m3-1h0m6-2h0m5 3h0m5-2h0m-88 14h0m8-2h0m0-2h0m11 2h0m4-1h0m1-3h0m4 1h0m14 2h0m3 3h0m1-1h0m0-3h0m4 0h0m3 4h0m7-2h0m1-4h0m7 0h0m1 1h0m-67 8h0m15 2h0m3 2h0m0-3h0m1-2h0m6 1h0m4 1h0m4 3h0m2 0h0m0-3h0m1-3h0m7 7h0m3-4h0m4 3h0m3 1h0m18-4h0m-74 11h0m12-4h0m3 4h0m2 1h0m10-4h0m10-3h0m1 5h0m2 0h0m1 2h0m2-4h0m2-3h0m12 3h0m0 1h0m7-2h0m4 4h0m2 0h0m-69 4h0m10 0h0m4 1h0m2-1h0m14-2h0m2 5h0m2 2h0m0-5h0m4 5h0m11-1h0m0-6h0m1 6h0m0-5h0m-32 11h0m3-4h0m3 6h0m0-2h0m2 0h0m0 1h0m5-3h0" stroke="#4A5FB0" stroke-width="6.4" stroke-linecap="round" fill="none"/>
<path d="M650.1 557.1 650.5 556.7 651.0 556.2 651.7 555.8 652.4 555.4 653.2 555.1 654.0 554.7 654.8 554.4 655.5 554.0 656.3 553.7 657.0 553.4 657.9 553.1 658.7 552.7 659.5 552.4 660.3 552.2 661.0 551.9 661.7 551.7 662.3 551.5 662.9 551.3 663.4 551.2 663.9 551.0 664.4 550.9 664.8 550.8 665.2 550.9 665.6 551.0 665.9 551.1 666.1 551.4 666.4 551.7 666.6 552.1 666.7 552.5 666.9 553.0 667.0 553.5 667.1 554.0 667.2 554.7 667.3 555.4 667.4 556.3 667.4 557.1 667.4 558.0 667.4 558.8 667.3 559.6 667.1 560.2 666.8 560.8 666.5 561.3 666.0 561.7 665.6 562.1 665.0 562.4 664.5 562.7 663.9 563.0 663.2 563.3 662.6 563.6 661.8 563.8 661.0 564.0 660.2 564.2 659.4 564.4 658.5 564.5 657.8 564.7 657.0 564.9 656.4 565.1 655.7 565.4 655.1 565.7 654.5 566.0 653.9 566.3 653.4 566.5 652.9 566.5 652.4 566.4 652.0 566.1 651.6 565.7 651.3 565.1 651.0 564.5 650.7 563.8 650.5 563.1 650.3 562.4 650.1 561.8 649.9 561.2 649.8 560.6 649.7 560.0 649.6 559.4 649.6 558.8 649.7 558.2 649.8 557.6Z" fill="#FDD418"/>
<path transform="scale(.25)" d="M2667 2206h0m-39 6h0m0 1h0m0-1h0m10 2h0m9-1h0m1-3h0m3 3h0m0 1h0m5-2h0m0-1h0m1 4h0m2 0h0m2-6h0m4 6h0m1-2h0m0 2h0m1-2h0m1-2h0m-59 10h0m4 1h0m2 0h0m2-5h0m12 6h0m1-6h0m4 5h0m0-6h0m10 3h0m2 2h0m0-1h0m0-2h0m2 3h0m3-1h0m7-1h0m-55 8h0m1 1h0m4 2h0m7-2h0m2-2h0m1-2h0m8 4h0m1-1h0m9 0h0m2-3h0m10 0h0m9 2h0m2-2h0m1 6h0m2-1h0m3 1h0m0 1h0m3-3h0m3 0h0m2 1h0m-60 8h0m1 1h0m10-4h0m1-2h0m4 1h0m1 4h0m1 1h0m1-2h0m2 0h0m14-1h0m1-1h0m21 0h0m-59 9h0m10 3h0m0-3h0m30 0h0m10 2h0m5 1h0m1-4h0m0-2h0m2 1h0m0 2h0m-71 6h0m3 4h0m1 0h0m6 2h0m2-5h0m2 1h0m4 3h0m10-3h0m16-3h0m1 4h0m2-3h0m5 1h0m3-1h0m0 5h0m3-2h0m-53 5h0m7-1h0m3 0h0m0 4h0m9 2h0m12-2h0m-18 5h0" stroke="#FDD418" stroke-width="6.4" stroke-linecap="round" fill="none"/>
<path d="M632.2 559.0 632.8 558.5 633.4 558.0 634.1 557.7 634.9 557.4 635.8 557.1 636.7 556.9 637.6 556.7 638.6 556.5 639.8 556.3 640.9 556.1 642.1 556.0 643.3 555.9 644.4 555.9 645.4 555.9 646.2 556.0 647.0 556.1 647.7 556.3 648.4 556.5 649.0 556.7 649.5 557.1 650.0 557.5 650.4 558.0 650.7 558.5 651.0 559.2 651.2 559.9 651.3 560.6 651.4 561.3 651.5 562.1 651.7 562.9 651.7 563.8 651.8 564.7 651.8 565.7 651.8 566.6 651.7 567.5 651.5 568.3 651.3 569.1 651.0 569.8 650.6 570.6 650.2 571.2 649.7 571.9 649.1 572.4 648.5 572.9 647.7 573.3 646.9 573.7 646.0 573.9 645.1 574.1 644.1 574.3 643.2 574.4 642.3 574.5 641.4 574.6 640.4 574.6 639.5 574.6 638.6 574.6 637.7 574.5 636.9 574.4 636.1 574.2 635.4 573.9 634.7 573.7 634.1 573.3 633.6 572.9 633.1 572.5 632.6 572.0 632.2 571.4 631.9 570.7 631.7 569.9 631.5 569.0 631.3 568.0 631.2 567.1 631.2 566.1 631.1 565.2 631.1 564.3 631.2 563.3 631.2 562.4 631.3 561.4 631.5 560.5 631.8 559.7Z" fill="#46E2EA"/>
<path transform="scale(.25)" d="M2562 2223h0m23-2h0m0 2h0m-47 8h0m2-5h0m2 3h0m6-4h0m1-1h0m7 7h0m1-7h0m1 1h0m0 0h0m4 5h0m4-1h0m2-1h0m10-2h0m1-2h0m0 2h0m5 1h0m1 4h0m1-1h0m7-5h0m-64 7h0m0 5h0m4-5h0m3 7h0m2-1h0m6-4h0m8 3h0m14-5h0m3 3h0m3-3h0m8 5h0m3 1h0m6-1h0m1-2h0m1 1h0m0 2h0m2-5h0m4 5h0m2-3h0m7 1h0m1 0h0m-78 11h0m13-1h0m8-4h0m2 3h0m0-1h0m0-2h0m9-1h0m2 4h0m4-2h0m1 2h0m1-1h0m0 2h0m5 0h0m8 0h0m9-4h0m2 1h0m10-2h0m1 0h0m-65 7h0m1 3h0m5 0h0m10 4h0m1-3h0m4-4h0m5 0h0m2 5h0m7-5h0m2 5h0m6-3h0m0 5h0m4-1h0m7-1h0m8-2h0m1 1h0m0 3h0m-79 7h0m8 0h0m1 1h0m5-6h0m4 5h0m1-6h0m5 1h0m1 6h0m3-6h0m13 2h0m7 2h0m16-3h0m1 1h0m2-2h0m2 1h0m3 1h0m6-1h0m1-2h0m5 1h0m0 5h0m-73 4h0m5 1h0m12-1h0m8 0h0m0 5h0m3-5h0m8 4h0m2-1h0m5 0h0m5-1h0m4 1h0m2-1h0m1-3h0m2 4h0m0-5h0m10 1h0m1 5h0m5 0h0m-82 5h0m10-1h0m4 4h0m0-5h0m11 5h0m1-4h0m15-2h0m7 5h0m0-1h0m3-3h0m1-1h0m11 4h0m1 1h0m6 2h0m6-6h0m5 0h0m-78 11h0m10 2h0m7-2h0m0 0h0m7 0h0m13-2h0m3 1h0m15 0h0m8 2h0m2 1h0m3-1h0m0-4h0m-64 8h0m1 4h0m2-1h0m4 3h0m2-4h0m5 3h0m4-1h0m4-1h0m1 1h0m17-3h0m8 1h0m2-1h0m4-1h0m11 2h0m-54 5h0m1 0h0m24 3h0m18-2h0m0 1h0m5-1h0" stroke="#46E2EA" stroke-width="6.4" stroke-linecap="round" fill="none"/>
<path d="M627.0 561.3 627.2 561.0 627.4 560.8 627.7 560.5 628.0 560.2 628.3 560.0 628.6 559.8 628.9 559.6 629.2 559.4 629.5 559.2 629.8 559.1 630.1 559.0 630.3 558.9 630.6 558.8 630.8 558.7 631.1 558.7 631.3 558.6 631.5 558.6 631.7 558.7 631.9 558.8 632.1 559.0 632.3 559.3 632.4 559.8 632.5 560.4 632.6 561.2 632.6 562.1 632.7 563.1 632.7 564.2 632.7 565.4 632.7 566.5 632.6 567.5 632.6 568.4 632.5 569.2 632.4 569.8 632.3 570.3 632.1 570.6 631.9 570.8 631.7 570.9 631.5 571.0 631.3 571.0 631.0 570.9 630.8 570.9 630.5 570.8 630.3 570.7 630.1 570.6 629.9 570.5 629.6 570.4 629.4 570.2 629.2 570.0 629.0 569.8 628.7 569.6 628.5 569.3 628.3 569.0 628.1 568.8 627.9 568.5 627.7 568.3 627.6 568.0 627.4 567.8 627.2 567.5 627.0 567.2 626.9 567.0 626.7 566.7 626.6 566.4 626.4 566.1 626.3 565.8 626.3 565.5 626.2 565.2 626.2 564.9 626.2 564.5 626.2 564.1 626.2 563.8 626.3 563.4 626.3 563.0 626.4 562.6 626.5 562.3 626.7 561.9 626.8 561.6Z" fill="#DD1C4B"/>
<path transform="scale(.25)" d="M2515 2237h0m2 2h0m-2 5h0m1-2h0m2-1h0m6 4h0m0-3h0m1 0h0m1 2h0m-20 10h0m7-4h0m3 1h0m1 1h0m2 0h0m2-1h0m2 4h0m3 0h0m-22 6h0m3-5h0m2 4h0m7-3h0m-9 10h0m8 2h0m1-5h0m1 0h0m5 3h0m11 0h0m-18 10h0m0-5h0m9 3h0m3-2h0m-10 10h0m3-1h0" stroke="#DD1C4B" stroke-width="6.4" stroke-linecap="round" fill="none"/>
<circle cx="722.2" cy="519.2" r="4.7" fill="#DD1C4B"/>
<text x="738.2" y="522.2" class="D" font-size="8.3">RMS</text>
<circle cx="722.2" cy="531.7" r="4.7" fill="#46E2EA"/>
<text x="738.2" y="534.7" class="D" font-size="8.3">GCL/IPL</text>
<circle cx="722.2" cy="544.3" r="4.7" fill="#FDD418"/>
<text x="738.2" y="547.3" class="D" font-size="8.3">MCL</text>
<circle cx="722.2" cy="556.8" r="4.7" fill="#4A5FB0"/>
<text x="738.2" y="559.8" class="D" font-size="8.3">EPL</text>
<circle cx="722.2" cy="569.4" r="4.7" fill="#F4812F"/>
<text x="738.2" y="572.4" class="D" font-size="8.3">GL</text>
<circle cx="722.2" cy="581.9" r="4.7" fill="#7D3C9C"/>
<text x="738.2" y="584.9" class="D" font-size="8.3">ONL</text>
<text x="479.5" y="624.5" class="L" font-size="19.5" font-weight="bold" dy="0.6">j</text>
<use href="#BR" transform="translate(509.90 616.20) scale(0.952 0.752) translate(-15.2 -409.5)" fill="#f09679"/>
<use href="#LO" transform="translate(509.90 616.20) scale(0.952 0.752) translate(-15.2 -409.5)" fill="#f09679"/>
<use href="#LG" transform="translate(509.90 616.20) scale(0.952 0.752) translate(-15.2 -409.5)" fill="#849bde"/>
<use href="#LE" transform="translate(509.90 616.20) scale(0.952 0.752) translate(-15.2 -409.5)" fill="#495bb3"/>
<use href="#LC" transform="translate(509.90 616.20) scale(0.952 0.752) translate(-15.2 -409.5)" fill="#4f63b9"/>
<use href="#RO" transform="translate(509.90 616.20) scale(0.952 0.752) translate(-15.2 -409.5)" fill="#f09679"/>
<use href="#RG" transform="translate(509.90 616.20) scale(0.952 0.752) translate(-15.2 -409.5)" fill="#849bde"/>
<use href="#RE" transform="translate(509.90 616.20) scale(0.952 0.752) translate(-15.2 -409.5)" fill="#495bb3"/>
<use href="#RC" transform="translate(509.90 616.20) scale(0.952 0.752) translate(-15.2 -409.5)" fill="#4f63b9"/>
<path transform="scale(.25)" d="M2062 2628h0m181 63h0" stroke="#7288d3" stroke-width="6.8" stroke-linecap="round" fill="none"/>
<path transform="scale(.25)" d="M2337 2574h0m-136 41h0m6-3h0m-149 5h0m132 52h0" stroke="#8fa4df" stroke-width="6.8" stroke-linecap="round" fill="none"/>
<path transform="scale(.25)" d="M2154 2477h0m-85 14h0m148 9h0m111 29h0m-119 19h0m-2 33h0m-1 12h0m-7 13h0m139 5h0m-131 36h0m-134 17h0m248 4h0m7-1h0m-159 7h0" stroke="#adbbe1" stroke-width="6.8" stroke-linecap="round" fill="none"/>
<path transform="scale(.25)" d="M2148 2471h0m-68 6h0m82-2h0m76 8h0m14 1h0m-209 47h0m160 8h0m-4 13h0m-151 12h0m-3 10h0m141-6h0m14 4h0m6-2h0m-165 29h0m157-7h0m142 15h0m-3 12h0m1 9h0m3-3h0m-7 12h0m-136 7h0m143-1h0m-139 9h0m2 2h0m-88 30h0m13 0h0m28 3h0m-25 2h0m6 0h0m58 4h0m52-4h0m42 5h0m3 1h0" stroke="#ccd1de" stroke-width="6.8" stroke-linecap="round" fill="none"/>
<path transform="scale(.25)" d="M2106 2466h0m46 10h0m20 11h0m92 2h0m-208 26h0m141 11h0m-10 3h0m7 5h0m3 0h0m-152 2h0m150 2h0m2 5h0m-158 7h0m159-5h0m-157 13h0m150-1h0m151 1h0m-304 6h0m3 12h0m6 5h0m160 1h0m136-3h0m-301 5h0m5 1h0m154 6h0m7-1h0m136-5h0m-153 12h0m4-1h0m6-2h0m143-1h0m-148 7h0m150 4h0m-301 5h0m10 2h0m129 2h0m3-1h0m149-4h0m-289 9h0m136 3h0m-134 4h0m11 11h0m4-1h0m140 5h0m-140 9h0m142 4h0m2-3h0m8 4h0m-149 9h0m110 0h0m17 0h0m-115 8h0m89-2h0m30-4h0m6 4h0m4 1h0m-105 7h0m127 0h0m-127 4h0m6 1h0m24 2h0m9 1h0m3 1h0m17-3h0m40 5h0m40 0h0m-104 1h0m126 1h0m-70 8h0m48-1h0" stroke="#e4cfc7" stroke-width="6.8" stroke-linecap="round" fill="none"/>
<path transform="scale(.25)" d="M2112 2467h0m-26 8h0m9-2h0m66 9h0m3-2h0m4 5h0m7 2h0m61 0h0m45-1h0m-101 11h0m28 22h0m1-7h0m-25 10h0m27 0h0m-21 6h0m-146 8h0m151 3h0m3 3h0m4-2h0m-165 13h0m158 0h0m3 2h0m2 2h0m140-3h0m-147 6h0m-4 13h0m-146 10h0m2-3h0m162 1h0m130-1h0m7-1h0m-306 8h0m298 2h0m-151 7h0m19-1h0m140 1h0m-296 5h0m293 1h0m1 0h0m3 0h0m2 2h0m-299 6h0m10 5h0m279-1h0m-294 5h0m18 3h0m0-2h0m-13 6h0m144 2h0m4 3h0m12-4h0m128 3h0m9 1h0m-297 2h0m131 6h0m13 0h0m4-2h0m-6 18h0m137-5h0m9-1h0m-258 10h0m115-1h0m3 1h0m-119 9h0m129 2h0m113-4h0m-230 9h0m27 3h0m49-2h0m8-1h0m4-2h0m47 2h0m1-1h0m-120 6h0m1 2h0m28-1h0m6 5h0m5-6h0m1 5h0m2-4h0m-25 7h0m21 1h0m51 1h0m29-2h0m2 1h0m27-1h0m21 7h0m15-1h0m-101 3h0m13 2h0m50-3h0" stroke="#efb6a0" stroke-width="6.8" stroke-linecap="round" fill="none"/>
<path transform="scale(.25)" d="M2105 2468h0m1 0h0m-36 18h0m205-1h0m7 2h0m-104 5h0m119 1h0m-112 13h0m-131 10h0m134 3h0m20-7h0m2 0h0m109 0h0m0 0h0m4 6h0m-124 9h0m2 0h0m8 0h0m-165 2h0m0-1h0m163 2h0m-164 11h0m7-5h0m149 1h0m6 0h0m1 1h0m-16 7h0m-5 10h0m0-2h0m3 0h0m2 4h0m2 1h0m-7 9h0m5-4h0m1 3h0m6-6h0m0 4h0m-150 7h0m137 6h0m0-1h0m9 1h0m-150 9h0m153 0h0m4 1h0m136 4h0m3-1h0m-142 4h0m7 1h0m142 3h0m-2 4h0m3 5h0m-159 3h0m154 4h0m-298 4h0m7-1h0m11 2h0m136 0h0m-140 8h0m132-1h0m148-1h0m4 5h0m-291 8h0m11-5h0m142 4h0m130 0h0m-266 4h0m4 6h0m1 0h0m127-3h0m11 1h0m2-3h0m-32 13h0m6-7h0m14 2h0m1-2h0m3 3h0m-140 9h0m18 0h0m93-4h0m4 6h0m10-1h0m138-1h0m-237 10h0m75 1h0m5-2h0m11 1h0m32-1h0m6-4h0m-136 9h0m2 0h0m3 5h0m11-6h0m92 6h0m10-3h0m13-4h0m102 3h0m-157 5h0m11 3h0m33 3h0m26-6h0m70 0h0m12 0h0m-112 13h0m47-1h0m9-2h0m25 1h0m16-1h0m-103 11h0m63-5h0m27 1h0" stroke="#f19b7d" stroke-width="6.8" stroke-linecap="round" fill="none"/>
<path transform="scale(.25)" d="M2095 2470h0m5-1h0m-8 7h0m-15 4h0m162 5h0m1-1h0m27-3h0m-204 9h0m151 16h0m-168 18h0m145-2h0m16 3h0m3-1h0m116 2h0m-140 11h0m22 0h0m-24 35h0m12-3h0m7 0h0m-165 22h0m11-3h0m138-3h0m9 6h0m3 2h0m4-1h0m136 0h0m-148 8h0m16 6h0m131-1h0m-155 10h0m10-1h0m4-2h0m-137 11h0m135-6h0m149 0h0m2 5h0m-162 5h0m2 11h0m156-4h0m1 2h0m-290 7h0m2-2h0m10 5h0m1 1h0m11 6h0m110-5h0m2 4h0m-4 6h0m141 1h0m-240 12h0m2-7h0m88 14h0m28-4h0m18-2h0m96 1h0m-225 8h0m17 2h0m20-1h0m1 3h0m5 2h0m0 0h0m7-3h0m19 0h0m18-1h0m11 0h0m5-1h0m4 0h0m48 7h0m23 6h0m16-3h0m-94 7h0m4 0h0" stroke="#ea795f" stroke-width="6.8" stroke-linecap="round" fill="none"/>
<path transform="scale(.25)" d="M2240 2488h0m25 0h0m-67 46h0m130-6h0m-281 21h0m159 1h0m-160 7h0m293 1h0m-292 6h0m149-3h0m4 14h0m-160 4h0m157 8h0m-152 34h0m157-3h0m1 5h0m4-5h0m-13 8h0m1-2h0m-142 10h0m137-2h0m12 0h0m-138 13h0m-5 4h0m136-1h0m19 3h0m-139 11h0m100-5h0m35 5h0m0-4h0m112 2h0m-6 11h0m-150 5h0m39 2h0m-17 5h0m19 1h0m108-1h0m-191 6h0m118 3h0m-60 7h0m108-3h0" stroke="#db5546" stroke-width="6.8" stroke-linecap="round" fill="none"/>
<path transform="scale(.25)" d="M2101 2470h0m57 4h0m-89 11h0m-7 9h0m117-4h0m-133 35h0m163 2h0m-162 1h0m158 1h0m-17 9h0m14 7h0m6 11h0m-10 15h0m-148 15h0m134 5h0m164 4h0m-9 6h0m-294 13h0m142 7h0m23 9h0m-17 4h0m7 1h0m1 3h0m131 6h0m-129 15h0m0 1h0m3 7h0m12-1h0m-5 7h0m3 0h0m-79 8h0m39 10h0m105-2h0" stroke="#c33132" stroke-width="6.8" stroke-linecap="round" fill="none"/>
<path transform="scale(.25)" d="M2109 2473h0m107 42h0m-38 6h0m-111 17h0m111 8h0m153 20h0m0-2h0m-275 4h0m28 45h0m95-5h0m-100 9h0m5 29h0m4 15h0m3 1h0m3-2h0m49 16h0m137 8h0" stroke="#4454ad" stroke-width="6.8" stroke-linecap="round" fill="none"/>
<path transform="scale(.25)" d="M2096 2478h0m3 6h0m79 37h0m143 6h0m-142 5h0m34 9h0m112 15h0m-112 14h0m-33 13h0m1 4h0m-98 32h0m-16 7h0m145 7h0m-117 20h0m74-2h0m-67 13h0m4 2h0m7 5h0m-9 1h0m8 0h0m16 3h0m4-2h0m145 6h0m16-2h0" stroke="#5569bd" stroke-width="6.8" stroke-linecap="round" fill="none"/>
<path transform="scale(.25)" d="M2124 2471h0m6 2h0m-48 13h0m3 0h0m90 8h0m71-5h0m17 6h0m8-2h0m-198 9h0m-7 16h0m242-5h0m8 7h0m-255 9h0m262 11h0m-270 6h0m14 4h0m256-5h0m10 19h0m-280 18h0m8-5h0m12 1h0m3 11h0m136-1h0m-151 13h0m117 4h0m-111 5h0m265 5h0m1-2h0m-250 17h0m-15 3h0m6 3h0m4 0h0m12 8h0m5 10h0m130-2h0m5 16h0m-105 11h0m31-6h0m90 4h0m53-5h0m-45 12h0m27-3h0" stroke="#7288d3" stroke-width="6.8" stroke-linecap="round" fill="none"/>
<path transform="scale(.25)" d="M2115 2471h0m-37 21h0m2 0h0m199 3h0m0-3h0m-53 8h0m2-2h0m67 1h0m-218 5h0m-2 9h0m-8 7h0m1 3h0m1 12h0m144-5h0m-32 7h0m139 3h0m-250 6h0m143-2h0m110 1h0m8 11h0m-152 8h0m0 2h0m147-3h0m6-3h0m-278 10h0m129-1h0m-127 8h0m12-1h0m142 1h0m121 6h0m-271 13h0m18-1h0m254 4h0m-270 7h0m10 0h0m141-5h0m1 6h0m113 0h0m6-2h0m-263 10h0m9-3h0m-10 5h0m107 5h0m-93 2h0m-10 10h0m7 5h0m247-5h0m-247 10h0m3 4h0m85 0h0m1 10h0m146 3h0m-172 9h0m1 1h0m12-3h0m8-1h0m67 1h0m75-4h0m9 1h0m-177 14h0m144-3h0m22 0h0m-25 6h0" stroke="#8fa4df" stroke-width="6.8" stroke-linecap="round" fill="none"/>
<path transform="scale(.25)" d="M2271 2495h0m-203 4h0m152 1h0m83 3h0m-240 2h0m233 1h0m21 8h0m-101 9h0m105 6h0m-270 16h0m6 10h0m3 4h0m152 4h0m1-3h0m1 3h0m-154 6h0m119 13h0m30 3h0m123 5h0m-276 3h0m23 7h0m134 8h0m2 14h0m116-5h0m0 13h0m-245 3h0m-12 12h0m14-4h0m237 2h0m-6 5h0m5 4h0m-239 6h0m225 3h0m-211 6h0m13 4h0m36 0h0m6 0h0m69-7h0m85 3h0m-181 6h0m0 6h0m5-4h0m10 1h0m89-4h0m15 10h0m0 2h0m21-2h0m25-1h0" stroke="#adbbe1" stroke-width="6.8" stroke-linecap="round" fill="none"/>
<path transform="scale(.25)" d="M2098 2479h0m0 1h0m57 6h0m83 6h0m29-1h0m-94 6h0m-114 16h0m9 4h0m245 1h0m-240 8h0m106-1h0m137 4h0m-138 7h0m32 2h0m4-1h0m105 6h0m-269 8h0m4-4h0m124 4h0m-118 6h0m3 26h0m2-5h0m268 1h0m2-2h0m-123 10h0m-156 7h0m4 4h0m119 6h0m-118 8h0m10 2h0m104-3h0m-105 10h0m110-2h0m-103 13h0m9 4h0m238 3h0m-165 30h0m68 1h0m63 8h0" stroke="#ccd1de" stroke-width="6.8" stroke-linecap="round" fill="none"/>
<path transform="scale(.25)" d="M2227 2495h0m51 0h0m30 10h0m-239 12h0m245 2h0m-252 10h0m8 45h0m111-6h0m-122 9h0m14 1h0m138 21h0m2-2h0m1 0h0m-152 3h0m15 20h0m93 26h0m-64 22h0" stroke="#e4cfc7" stroke-width="6.8" stroke-linecap="round" fill="none"/>
<path transform="scale(.25)" d="M2215 2649h0m-119 9h0m210 17h0" stroke="#efb6a0" stroke-width="6.8" stroke-linecap="round" fill="none"/>
<path transform="scale(.25)" d="M2113 2475h0" stroke="#f19b7d" stroke-width="6.8" stroke-linecap="round" fill="none"/>
<path transform="scale(.25)" d="M2104 2485h0m6 6h0m131 4h0m-147 3h0m148 0h0m36 9h0m-49 7h0m69 4h0m-129 12h0m5-1h0m58 0h0m65 2h0m-137 14h0m17-1h0m44 5h0m12-5h0m-57 11h0m-88 10h0m72-3h0m2-2h0m150 1h0m-229 12h0m78-1h0m62-3h0m-147 8h0m139 1h0m18 1h0m-134 7h0m198 2h0m24 1h0m-163 3h0m3 3h0m154 1h0m-210 11h0m62-1h0m54-5h0m77 3h0m-141 8h0m-55 9h0m137-3h0m65 3h0m-152 4h0m77 4h0m53 0h0m39-3h0m-228 9h0m13 7h0m52-2h0m139 5h0m-186 3h0m117 0h0m23 21h0m39-3h0m-40 9h0m16 4h0" stroke="#4454ad" stroke-width="6.8" stroke-linecap="round" fill="none"/>
<path transform="scale(.25)" d="M2119 2478h0m-26 12h0m17 1h0m7-1h0m8-1h0m5 0h0m-40 14h0m155-2h0m-161 7h0m156-3h0m34 1h0m-191 13h0m89 0h0m54-1h0m-150 5h0m92 2h0m-92 8h0m91-1h0m66 1h0m72-5h0m9 5h0m-98 7h0m4 0h0m4-4h0m79 1h0m-219 10h0m136 2h0m2-2h0m13 2h0m71 2h0m-135 3h0m-94 10h0m4 2h0m76-5h0m14 5h0m44-1h0m1 2h0m16-7h0m-158 8h0m2 0h0m95 1h0m55 3h0m2 0h0m74-4h0m-203 9h0m211 4h0m6-1h0m8 1h0m-245 8h0m82 1h0m7 1h0m1-4h0m51-2h0m6 0h0m77 6h0m18 0h0m-241 6h0m4 2h0m21-2h0m56-5h0m4 4h0m9 0h0m49 0h0m-133 5h0m2 0h0m5-1h0m2 3h0m3 2h0m54 2h0m19-1h0m42-3h0m4-2h0m0 4h0m0 0h0m4-5h0m71 7h0m25-2h0m-229 4h0m5-1h0m6 4h0m47 1h0m21-2h0m121-3h0m8 5h0m3-1h0m6 0h0m0-4h0m11 1h0m-234 10h0m18 4h0m40-2h0m20 1h0m60-5h0m2 3h0m1 1h0m79 0h0m7-3h0m-169 6h0m149 7h0m1-2h0m-191 3h0m2 0h0m3 2h0m42-2h0m4 2h0m145 0h0m5 3h0m-200 3h0m6 2h0m31 1h0m25-3h0m2 4h0m126-3h0m-147 11h0m13 2h0m80-1h0m48 0h0m14 0h0m-179 3h0m8 4h0m7 0h0m20-3h0m80-1h0m11 7h0m29-1h0m6 1h0m15-1h0m4-1h0m-26 10h0m-19 5h0" stroke="#5569bd" stroke-width="6.8" stroke-linecap="round" fill="none"/>
<path transform="scale(.25)" d="M2233 2527h0m78 40h0m-4 21h0m-205 10h0m54-2h0m60 3h0m5 0h0m-140 2h0m73 29h0m69-3h0m-109 33h0m28 2h0" stroke="#7288d3" stroke-width="6.8" stroke-linecap="round" fill="none"/>
<path transform="scale(.25)" d="M2259 2598h0m-4 16h0" stroke="#4454ad" stroke-width="6.8" stroke-linecap="round" fill="none"/>
<path transform="scale(.25)" d="M2112 2526h0m2-5h0m12-1h0m9 21h0m144 8h0m-159 6h0m141 10h0m16-1h0m-161 5h0m153 0h0m-148 10h0m0 2h0m152 8h0m2-2h0m-21 10h0m-133 5h0m136-1h0m-137 7h0m12 4h0m129 13h0m-5 9h0" stroke="#5569bd" stroke-width="6.8" stroke-linecap="round" fill="none"/>
<path transform="scale(.25)" d="M2121 2517h0m10-4h0m7 0h0m3 0h0m-23 13h0m20-1h0m-19 10h0m21-7h0m114 6h0m-140 4h0m1 2h0m137 3h0m20-2h0m1 2h0m-18 6h0m20 2h0m2-7h0m-158 11h0m18 0h0m118-1h0m20 2h0m-141 6h0m136 2h0m-145 9h0m137-2h0m1 3h0m13-5h0m5 1h0m-161 8h0m2 0h0m150 9h0m-151 8h0m4 2h0m-5 4h0m1 0h0m147-1h0m-142 13h0m2 1h0m143-3h0m-14 6h0m2-1h0m-127 10h0m137 13h0m1-4h0m-3 12h0m-7 1h0" stroke="#7288d3" stroke-width="6.8" stroke-linecap="round" fill="none"/>
<path transform="scale(.25)" d="M2142 2512h0m-28 25h0m4 10h0m159 3h0m-144 7h0m2-1h0m119 7h0m18 3h0m-146 11h0m136 10h0m7-1h0m5 4h0m-151 29h0m2 2h0m133-3h0" stroke="#8fa4df" stroke-width="6.8" stroke-linecap="round" fill="none"/>
<path transform="scale(.25)" d="M2105 2468h0m4 5h0m162 22h0m-206 11h0m118-2h0m-117 14h0m129 5h0m-128 15h0m262 39h0m-2 30h0" stroke="#4454ad" stroke-width="7.6" stroke-linecap="round" fill="none"/>
<path transform="scale(.25)" d="M2100 2469h0m6-3h0m45 5h0m-66 3h0m9 1h0m19 0h0m-43 9h0m9-3h0m93 6h0m66-4h0m24 4h0m2-2h0m-184 7h0m191 1h0m7 2h0m-60 6h0m2 0h0m-161 12h0m1 2h0m1 1h0m7 1h0m2-5h0m4 5h0m104-5h0m2 3h0m28 4h0m100-6h0m9 3h0m-271 5h0m19 0h0m132 4h0m10 0h0m2 2h0m2-5h0m115 4h0m2 1h0m-258 3h0m120-2h0m129 15h0m14 7h0m-6 2h0m16 27h0m1 0h0m-12 7h0m3 21h0m10-5h0m1-1h0m-10 7h0" stroke="#5569bd" stroke-width="7.6" stroke-linecap="round" fill="none"/>
<path transform="scale(.25)" d="M2106 2468h0m6-1h0m12 3h0m-30 3h0m2 5h0m7-4h0m23-2h0m18 3h0m14-1h0m-88 12h0m12 0h0m3 0h0m4 0h0m3 1h0m4-7h0m62 3h0m1-3h0m2 2h0m3-2h0m1 6h0m9-3h0m1 4h0m65-3h0m15 1h0m11 2h0m9-2h0m6 1h0m1 1h0m-211 7h0m165-3h0m4-3h0m0 2h0m2 1h0m4-2h0m6 2h0m8-3h0m3 7h0m16-3h0m16 1h0m-238 8h0m7-3h0m13 3h0m2 2h0m106-2h0m37 1h0m81 1h0m-247 5h0m2 3h0m2-2h0m3-4h0m121 4h0m24 1h0m5-6h0m3 3h0m96-2h0m1 3h0m6 1h0m-271 3h0m6 4h0m15-1h0m114 0h0m5 4h0m22-7h0m6 3h0m98-1h0m3 0h0m-271 6h0m0 4h0m20-1h0m1-3h0m131 7h0m3 0h0m2 0h0m13-5h0m106 2h0m-278 4h0m0 1h0m1 4h0m4-1h0m138-3h0m20 1h0m127 4h0m-289 2h0m22 1h0m263 5h0m3-6h0m-5 12h0m10-2h0m-14 10h0m4-2h0m11 4h0m2 1h0m-8 5h0m-6 6h0m6 5h0m-7 4h0m2 1h0m0-3h0m5 2h0m7 0h0m-4 12h0m1-1h0m-10 3h0m12-1h0m1 6h0m4-3h0m-11 10h0m11-3h0m3 2h0m-9 7h0" stroke="#7288d3" stroke-width="7.6" stroke-linecap="round" fill="none"/>
<path transform="scale(.25)" d="M2095 2470h0m0 0h0m4-1h0m25 2h0m6-6h0m9 5h0m-53 5h0m3-2h0m0 2h0m9 4h0m4 0h0m4-2h0m6-3h0m2-1h0m23-1h0m2 3h0m1 3h0m6-2h0m8 1h0m8-2h0m-85 8h0m18 1h0m60 0h0m5-1h0m8 2h0m75-4h0m1 3h0m3 1h0m4-4h0m1 3h0m9 3h0m6-6h0m3 5h0m3-3h0m-210 7h0m6 1h0m6 3h0m94-4h0m0 2h0m6 2h0m2-5h0m61 3h0m25 3h0m0-4h0m1-2h0m31 5h0m-122 3h0m7 0h0m40 3h0m6 0h0m2-2h0m62-2h0m-234 15h0m7-1h0m14-6h0m101 5h0m4 2h0m3-5h0m29 0h0m82 0h0m12-1h0m4 4h0m3-1h0m0-3h0m-259 10h0m7 2h0m6 0h0m3-1h0m105-3h0m2 6h0m29-7h0m101 0h0m7 7h0m1-7h0m2 0h0m4 6h0m2 1h0m-278 2h0m1 4h0m1 2h0m2-7h0m11 4h0m6-1h0m5 3h0m126 1h0m10 0h0m1-3h0m5-3h0m102 5h0m3 0h0m1 1h0m6-4h0m-283 7h0m3-1h0m4 0h0m6 3h0m5-3h0m10 3h0m141-2h0m1-2h0m109 6h0m5-5h0m3 0h0m-292 11h0m3-3h0m1 4h0m1-5h0m17 4h0m3 0h0m5-4h0m1 4h0m253 0h0m7 1h0m2 1h0m4-1h0m-13 4h0m1 5h0m5-1h0m8-4h0m-12 8h0m6 3h0m9-3h0m0 1h0m-14 9h0m5 2h0m0-2h0m0 1h0m9-1h0m-4 12h0m3 0h0m5-4h0m-9 6h0m2 3h0m-5 10h0m2-4h0m2 3h0m8-4h0m-14 13h0m11-5h0m3 3h0m0-3h0m1 4h0m-11 7h0m7-2h0m1 0h0m4 2h0m-9 6h0" stroke="#8fa4df" stroke-width="7.6" stroke-linecap="round" fill="none"/>
<path transform="scale(.25)" d="M2101 2470h0m14 1h0m33 0h0m-68 6h0m6-1h0m6 0h0m3-3h0m0 1h0m14 1h0m1 2h0m18-3h0m2-1h0m3 1h0m8 4h0m11-2h0m-83 9h0m8-5h0m14 5h0m7-5h0m57 6h0m81 1h0m3-2h0m24-3h0m-201 12h0m6 0h0m13-5h0m3 1h0m1 5h0m93-3h0m49 3h0m3-2h0m21-3h0m14-2h0m2 3h0m13 3h0m17-1h0m0 0h0m-229 6h0m0 0h0m2 3h0m2-4h0m1 4h0m98-6h0m7 4h0m35 1h0m4-1h0m64-2h0m17-2h0m7 2h0m-243 8h0m124 3h0m34-5h0m100 7h0m-252 1h0m1 2h0m6-1h0m113 6h0m21-7h0m104 6h0m6-6h0m-273 13h0m7 0h0m9 0h0m1-4h0m115 0h0m1 2h0m5-1h0m13 4h0m3-1h0m11-3h0m1 0h0m4 1h0m102-2h0m3-1h0m5 5h0m-265 4h0m1-1h0m7 7h0m2-1h0m107-4h0m138-1h0m8 3h0m4-4h0m-276 11h0m4 3h0m15-4h0m249 2h0m3-1h0m6-1h0m4-1h0m-10 8h0m13 5h0m-5 16h0m1-6h0m5 6h0m6-2h0m-18 4h0m4 12h0m15 1h0m-8 5h0m3 4h0m-12 9h0m5 0h0m4-7h0m1 4h0m5 3h0m6-4h0m-10 10h0m7 1h0m-19 5h0m0 1h0m14-3h0" stroke="#adbbe1" stroke-width="7.6" stroke-linecap="round" fill="none"/>
<path transform="scale(.25)" d="M2101 2468h0m34 2h0m1 5h0m22-2h0m-76 12h0m9-3h0m8 2h0m150 0h0m15 3h0m-203 7h0m2 0h0m15-2h0m9-1h0m89 4h0m0 0h0m3-5h0m44 4h0m40 0h0m-207 8h0m11-6h0m4 7h0m12-5h0m97 2h0m41-4h0m-3 11h0m86 1h0m6-4h0m4 15h0m8-2h0m-144 4h0m1 4h0m12-3h0m122 3h0m2-4h0m-272 10h0m3-1h0m1-2h0m134 2h0m24-1h0m116 0h0m-278 8h0m7-1h0m10 0h0m8 0h0m255 12h0m7 0h0m-4 6h0m16 4h0m-15 17h0m1 8h0m5-6h0m12 4h0m1 17h0m-7 3h0m0 6h0m1 0h0m7 0h0" stroke="#ccd1de" stroke-width="7.6" stroke-linecap="round" fill="none"/>
<path transform="scale(.25)" d="M2081 2483h0m171 1h0m-174 8h0m172 1h0m29 2h0m16 4h0m-116 26h0m146 31h0m12 18h0m-6 9h0m10-6h0" stroke="#e4cfc7" stroke-width="7.6" stroke-linecap="round" fill="none"/>
<path transform="scale(.25)" d="M2167 2493h0m-96 6h0m245 21h0" stroke="#efb6a0" stroke-width="7.6" stroke-linecap="round" fill="none"/>
<path transform="scale(.25)" d="M2230 2469h0" stroke="#4454ad" stroke-width="6.8" stroke-linecap="round" fill="none"/>
<path transform="scale(.25)" d="M2113 2458h0m-37 13h0m101 6h0m104 7h0m35 8h0" stroke="#7288d3" stroke-width="6.8" stroke-linecap="round" fill="none"/>
<path transform="scale(.25)" d="M2097 2455h0m223 38h0m-129 13h0m139 19h0m-241 156h0" stroke="#8fa4df" stroke-width="6.8" stroke-linecap="round" fill="none"/>
<path transform="scale(.25)" d="M2110 2460h0m-30 14h0m87 0h0m-112 21h0m-15 28h0m291 1h0m-297 5h0m2 13h0m313 25h0" stroke="#adbbe1" stroke-width="6.8" stroke-linecap="round" fill="none"/>
<path transform="scale(.25)" d="M2243 2467h0m47 11h0m-255 89h0m315 65h0m-252 57h0m55 6h0m104 11h0" stroke="#ccd1de" stroke-width="6.8" stroke-linecap="round" fill="none"/>
<path transform="scale(.25)" d="M2304 2492h0m36 50h0m-306 20h0m324 19h0m-330 34h0m13 10h0m12 30h0m286 4h0m-277 15h0m265 3h0m-23 17h0m-143 7h0m134 2h0" stroke="#e4cfc7" stroke-width="6.8" stroke-linecap="round" fill="none"/>
<path transform="scale(.25)" d="M2216 2482h0m5 4h0m-161 172h0m278 10h0m-17 19h0m-209 3h0m103-2h0m-78 13h0m111 3h0" stroke="#efb6a0" stroke-width="6.8" stroke-linecap="round" fill="none"/>
<path transform="scale(.25)" d="M2100 2697h0m187 11h0" stroke="#f19b7d" stroke-width="6.8" stroke-linecap="round" fill="none"/>
<path transform="scale(.25)" d="M2346 2568h0m-312 45h0m23 43h0" stroke="#ea795f" stroke-width="6.8" stroke-linecap="round" fill="none"/>
<path transform="scale(.25)" d="M2239 2701h0" stroke="#db5546" stroke-width="6.8" stroke-linecap="round" fill="none"/>
<path transform="scale(.25)" d="M2075 2673h0m81 20h0" stroke="#c33132" stroke-width="6.8" stroke-linecap="round" fill="none"/>
<text x="549.2" y="612.1" class="L" font-size="10.5" text-anchor="middle">pSM of SpatialGlue</text>
<use href="#BR" transform="translate(617.40 615.00) scale(0.969 0.773) translate(-15.2 -409.5)" fill="#e16450"/>
<use href="#LO" transform="translate(617.40 615.00) scale(0.969 0.773) translate(-15.2 -409.5)" fill="#e16450"/>
<use href="#LG" transform="translate(617.40 615.00) scale(0.969 0.773) translate(-15.2 -409.5)" fill="#e0d5d1"/>
<use href="#LE" transform="translate(617.40 615.00) scale(0.969 0.773) translate(-15.2 -409.5)" fill="#dcdbdb"/>
<use href="#LC" transform="translate(617.40 615.00) scale(0.969 0.773) translate(-15.2 -409.5)" fill="#4b5db4"/>
<use href="#RO" transform="translate(617.40 615.00) scale(0.969 0.773) translate(-15.2 -409.5)" fill="#e16450"/>
<use href="#RG" transform="translate(617.40 615.00) scale(0.969 0.773) translate(-15.2 -409.5)" fill="#e0d5d1"/>
<use href="#RE" transform="translate(617.40 615.00) scale(0.969 0.773) translate(-15.2 -409.5)" fill="#dcdbdb"/>
<use href="#RC" transform="translate(617.40 615.00) scale(0.969 0.773) translate(-15.2 -409.5)" fill="#4b5db4"/>
<path transform="scale(.25)" d="M2510 2472h0m111 64h0m-136 59h0" stroke="#efb6a0" stroke-width="6.8" stroke-linecap="round" fill="none"/>
<path transform="scale(.25)" d="M2673 2480h0m43 2h0m16 7h0m-251 37h0m159 1h0m2-3h0m122 0h0m-288 9h0m292 0h0m-129 15h0m1 2h0m-7 5h0m142 6h0m-304 14h0m-3 14h0m166 1h0m-147 11h0m294 2h0m-165 10h0m26-1h0m-166 9h0m141 6h0m6 9h0m19 0h0m136-2h0m-296 7h0m6 5h0m147 1h0m5-2h0m138-3h0m-157 11h0m20-4h0m131 5h0m-10 3h0m-139 13h0m140-2h0m-246 7h0m86 0h0m4 2h0m39-3h0m105-2h0m-176 13h0m8-2h0m13-2h0m1 0h0m23 4h0m8-1h0m54 7h0m15 5h0" stroke="#f19b7d" stroke-width="6.8" stroke-linecap="round" fill="none"/>
<path transform="scale(.25)" d="M2538 2461h0m-18 9h0m0-1h0m10-4h0m50 2h0m3 0h0m-60 5h0m68 3h0m13 8h0m7 3h0m70-6h0m5 0h0m13 4h0m-200 6h0m113 3h0m6 4h0m33 0h0m96 4h0m8 7h0m-139 11h0m4-3h0m21 0h0m117-1h0m-284 10h0m5-3h0m144 3h0m10-3h0m128-1h0m-288 7h0m166 7h0m129-1h0m-299 3h0m151 4h0m0-5h0m6 6h0m2-5h0m3 5h0m134-3h0m-289 9h0m141 3h0m8-3h0m2-4h0m1 7h0m4-1h0m139-2h0m-146 10h0m-158 2h0m152 6h0m8-4h0m2 0h0m150 0h0m-304 6h0m141 6h0m6-3h0m152 2h0m2 2h0m-304 5h0m1 2h0m146-2h0m21 3h0m135-6h0m5 2h0m-307 5h0m5 0h0m1 2h0m144 5h0m6-1h0m8-3h0m135 0h0m-149 12h0m1 0h0m7-1h0m147 0h0m1-3h0m1-3h0m1 5h0m-297 8h0m138-5h0m6 2h0m154-2h0m-307 8h0m13 6h0m140-3h0m6 4h0m139-4h0m2-3h0m-285 14h0m3 0h0m139-4h0m3 0h0m137 0h0m7 5h0m3-5h0m-154 13h0m3-7h0m11 6h0m130-1h0m1-1h0m4-3h0m-298 11h0m12-1h0m4-2h0m128-1h0m15 1h0m0 2h0m5-3h0m127 5h0m3 2h0m6-3h0m-291 6h0m5 2h0m5 2h0m5 0h0m0-1h0m133-3h0m10 1h0m121-3h0m-272 8h0m12 6h0m110 0h0m10-3h0m5 0h0m2 2h0m4-2h0m2 3h0m122-3h0m10-2h0m-276 9h0m6-2h0m2 3h0m103-1h0m2-1h0m27 3h0m126 0h0m-252 11h0m2-2h0m7-4h0m3 6h0m81-3h0m12 3h0m26-6h0m4-1h0m-115 14h0m9 1h0m59-2h0m20 2h0m20 0h0m11-5h0m6 1h0m3 1h0m83 1h0m17-2h0m-225 11h0m2-5h0m19 6h0m9 0h0m3-4h0m6 4h0m28 0h0m48-6h0m16 0h0m70 6h0m21-6h0m-199 10h0m24-3h0m53 0h0m0 7h0m48-2h0m9-4h0m36 4h0m11-5h0m-109 15h0m37-5h0m43-2h0m20 0h0" stroke="#ea795f" stroke-width="6.8" stroke-linecap="round" fill="none"/>
<path transform="scale(.25)" d="M2536 2463h0m-19 8h0m8-3h0m1-3h0m29 1h0m29 5h0m10 0h0m-86 8h0m84-1h0m4-3h0m80 1h0m-183 10h0m7 1h0m101-7h0m69 3h0m3-3h0m1 3h0m15-2h0m5 2h0m4 2h0m0-2h0m17-2h0m-221 9h0m116-2h0m123 4h0m-121 4h0m6 6h0m-132 2h0m0 7h0m133-5h0m22 2h0m2 0h0m107-4h0m2 4h0m2 0h0m-273 9h0m3-5h0m136 4h0m24 3h0m113-6h0m3 2h0m-286 12h0m2-5h0m143 4h0m11-3h0m2 1h0m2 0h0m6-2h0m2 2h0m1-3h0m-164 8h0m156 5h0m-162 5h0m154-3h0m3 5h0m5-4h0m1-1h0m136 6h0m-304 5h0m1 0h0m152 4h0m9-7h0m145 7h0m-300 2h0m143 0h0m5 2h0m7 3h0m2-6h0m142 4h0m3 0h0m-299 6h0m146 2h0m5 3h0m7 0h0m-159 1h0m0 3h0m149 4h0m6-5h0m6-2h0m-161 11h0m3 0h0m137-3h0m18 1h0m5 3h0m139-3h0m-298 8h0m152 1h0m3 5h0m1-2h0m135 1h0m0-1h0m2 2h0m-302 7h0m5-6h0m141 3h0m2 4h0m8-4h0m1-3h0m1 1h0m2 1h0m3 3h0m3-5h0m134 2h0m4 3h0m-301 6h0m1 4h0m3-7h0m295 0h0m1 6h0m5-5h0m2 5h0m-306 7h0m4-2h0m135 3h0m2 1h0m10-5h0m8 3h0m6 0h0m137 1h0m-304 4h0m7-2h0m7 0h0m1 7h0m126-3h0m13 3h0m8-5h0m145 4h0m-294 8h0m132 1h0m1 0h0m4-7h0m-143 14h0m150 0h0m5-4h0m141 3h0m3-4h0m-297 10h0m14 4h0m1-6h0m114 0h0m10 4h0m11-1h0m4-1h0m7 2h0m126 0h0m-282 7h0m2-3h0m13-1h0m109 3h0m16-2h0m3-1h0m2 5h0m5-2h0m1 2h0m7-5h0m-148 14h0m11-2h0m103-2h0m1 5h0m0-6h0m145 4h0m6 0h0m10-3h0m-271 6h0m100 6h0m1 0h0m17-4h0m1 0h0m9-1h0m2 6h0m8-2h0m107 2h0m16-6h0m-245 9h0m1 2h0m14 1h0m59 2h0m4-2h0m9-1h0m16 1h0m1 0h0m26 0h0m9 2h0m5-2h0m90-3h0m4 3h0m-236 4h0m3 1h0m10-1h0m1 3h0m6-1h0m28-1h0m1 3h0m7 1h0m17-1h0m0-1h0m4 3h0m52-4h0m7-3h0m10 7h0m67 0h0m6-2h0m10-1h0m-195 6h0m8-1h0m1 2h0m5 0h0m7 0h0m33-1h0m5 1h0m20 0h0m0-3h0m1 4h0m22-3h0m2 1h0m2 2h0m15 0h0m2 1h0m6 2h0m9-4h0m22 1h0m0-2h0m6 0h0m2-2h0m-102 11h0m2 1h0m2-4h0m2 3h0m0 4h0m2-2h0m56-4h0m6 1h0m1 1h0m2-2h0m7 1h0m26-1h0" stroke="#db5546" stroke-width="6.8" stroke-linecap="round" fill="none"/>
<path transform="scale(.25)" d="M2537 2463h0m25-3h0m-36 10h0m64-1h0m-79 10h0m196-1h0m-208 3h0m-4 13h0m156 2h0m-36 11h0m-136 17h0m284 1h0m3 1h0m-135 3h0m-8 14h0m11-1h0m-166 5h0m3 9h0m170-2h0m-23 13h0m-1 3h0m14 21h0m6 9h0m1 0h0m134 7h0m-153 1h0m11 3h0m-157 9h0m145-3h0m18 6h0m6 0h0m-164 6h0m11-2h0m5 4h0m138 4h0m2-3h0m3 7h0m-153 1h0m2 5h0m139-5h0m-14 14h0m9-6h0m29 5h0m114 2h0m-134 4h0m4 3h0m3-3h0m11 11h0m-12 7h0m127-5h0m-215 13h0m18-1h0m15-2h0m-8 8h0m43-2h0m13 6h0m1 0h0m8-6h0m52 10h0m14 4h0m16-4h0" stroke="#c33132" stroke-width="6.8" stroke-linecap="round" fill="none"/>
<path transform="scale(.25)" d="M2490 2509h0m-6 59h0m25 26h0m1 19h0m142 44h0m-127 11h0" stroke="#8fa4df" stroke-width="6.8" stroke-linecap="round" fill="none"/>
<path transform="scale(.25)" d="M2659 2496h0m88 9h0m-251 38h0m272 19h0m-7 15h0m-259 36h0m7-3h0m-10 23h0m23 6h0m78 9h0m55 4h0m-124 6h0m207 19h0" stroke="#adbbe1" stroke-width="6.8" stroke-linecap="round" fill="none"/>
<path transform="scale(.25)" d="M2537 2473h0m-25 9h0m-20 40h0m120 8h0m34 9h0m-157 15h0m158 7h0m-154 10h0m2 5h0m268 6h0m-117 4h0m124-1h0m-280 10h0m19 4h0m135-4h0m-32 10h0m-4 16h0m-6 25h0m-76 9h0m77 1h0m55 12h0m81-2h0m-150 8h0m91 8h0m31-1h0" stroke="#ccd1de" stroke-width="6.8" stroke-linecap="round" fill="none"/>
<path transform="scale(.25)" d="M2546 2466h0m10 1h0m-35 14h0m-18 13h0m98-6h0m82 1h0m-30 8h0m3 1h0m-157 12h0m243 0h0m-243 4h0m112 2h0m138 0h0m1 2h0m-140 9h0m146-3h0m-265 13h0m9 0h0m260 14h0m4-6h0m-273 14h0m9-3h0m-18 5h0m15 4h0m146 10h0m2-6h0m117 5h0m-276 17h0m2-4h0m3 1h0m123-3h0m33 11h0m0 0h0m120 2h0m-275 8h0m3-1h0m-5 3h0m118 2h0m38 5h0m-136 2h0m3 1h0m254-1h0m-160 7h0m43 5h0m-144 4h0m1-1h0m3 4h0m-5 9h0m11 1h0m244-3h0m-247 5h0m8 1h0m79 0h0m144 10h0m-213 9h0m125-3h0m9 2h0m-129 6h0m7-1h0m2 0h0m13 2h0m6 3h0m6-3h0m152 2h0m6-3h0m7 3h0m-22 7h0" stroke="#e4cfc7" stroke-width="6.8" stroke-linecap="round" fill="none"/>
<path transform="scale(.25)" d="M2535 2469h0m-9 10h0m-14 6h0m76-3h0m88 5h0m4-2h0m-164 6h0m88 1h0m58 2h0m-159 5h0m7 1h0m139 3h0m81-7h0m-240 9h0m9 3h0m253 2h0m-262 2h0m158 6h0m100-3h0m4-2h0m-269 9h0m20 7h0m257 0h0m-276 14h0m274-1h0m0 3h0m-268 12h0m271-5h0m2 0h0m-273 15h0m6-7h0m118 4h0m-130 4h0m162 2h0m-158 10h0m7 0h0m10 3h0m-2 7h0m112-2h0m1 1h0m31 0h0m0 11h0m115 11h0m-256 7h0m1 5h0m-2 3h0m9 4h0m95 1h0m44 0h0m-147 5h0m5 3h0m10 5h0m137 8h0m-141 4h0m80 7h0m2-5h0m2 1h0m144 3h0m2 0h0m-225 4h0m1 0h0m14 0h0m8 1h0m30 4h0m17-6h0m72 3h0m78 0h0m-197 4h0m119 3h0m64 2h0m-41 8h0m32-3h0" stroke="#efb6a0" stroke-width="6.8" stroke-linecap="round" fill="none"/>
<path transform="scale(.25)" d="M2557 2467h0m-59 28h0m4-5h0m170-2h0m-179 15h0m8-5h0m4 12h0m108 17h0m33 0h0m1-2h0m-147 8h0m143 4h0m-156 10h0m275 2h0m-147 9h0m-133 7h0m279 1h0m5-3h0m-276 12h0m9-6h0m1 4h0m270 2h0m-267 1h0m107 12h0m32-2h0m-153 11h0m3-5h0m2 0h0m114 10h0m7-1h0m-115 13h0m1 1h0m9-3h0m5 1h0m98 6h0m-115 6h0m5 0h0m10-1h0m97 4h0m-106 6h0m104 2h0m38-3h0m6 2h0m-142 9h0m1 0h0m254-4h0m-242 15h0m4 3h0m72 0h0m-77 7h0m7 5h0m1-2h0m61-1h0m-54 6h0m27-1h0m16 0h0m6 0h0m75 1h0m-103 8h0m132 3h0" stroke="#f19b7d" stroke-width="6.8" stroke-linecap="round" fill="none"/>
<path transform="scale(.25)" d="M2530 2479h0m12-7h0m127 15h0m-161 10h0m236 12h0m7 8h0m2 1h0m-142 15h0m-117 4h0m271 3h0m-152 6h0m-118 11h0m273 1h0m-267 4h0m266 0h0m-152 6h0m147 0h0m6 7h0m-285 5h0m288 4h0m0 7h0m-283 3h0m14-1h0m0 0h0m-2 25h0m2-1h0m6 2h0m-3 14h0m101 6h0m159-7h0m-161 27h0m52 4h0m3-6h0m87 14h0m-180 5h0m118 9h0m16 2h0m15-5h0" stroke="#ea795f" stroke-width="6.8" stroke-linecap="round" fill="none"/>
<path transform="scale(.25)" d="M2608 2491h0m-128 54h0m286 9h0m-272 26h0m82 95h0m91-3h0m73 0h0m-27 12h0" stroke="#db5546" stroke-width="6.8" stroke-linecap="round" fill="none"/>
<path transform="scale(.25)" d="M2751 2526h0m-250 93h0" stroke="#c33132" stroke-width="6.8" stroke-linecap="round" fill="none"/>
<path transform="scale(.25)" d="M2523 2600h0" stroke="#adbbe1" stroke-width="6.8" stroke-linecap="round" fill="none"/>
<path transform="scale(.25)" d="M2551 2473h0m14 5h0m-27 7h0m168 10h0m-46 7h0m34-1h0m-37 9h0m67-3h0m-212 8h0m143 2h0m9-1h0m54-4h0m25 6h0m-15 6h0m-119 10h0m123-6h0m-141 14h0m62-4h0m4 0h0m89 5h0m-154 7h0m67-2h0m-147 6h0m7 1h0m70 4h0m3-4h0m2 3h0m159-6h0m-104 13h0m17-1h0m92 1h0m-244 5h0m146 0h0m-146 9h0m232-2h0m-157 7h0m66 3h0m-136 10h0m71-2h0m59-1h0m8 1h0m12 2h0m50 2h0m-189 5h0m3 3h0m214-4h0m13 4h0m-237 5h0m10 1h0m44-3h0m9 0h0m11 4h0m124-6h0m10 6h0m24-5h0m-219 8h0m52 6h0m84-1h0m51 1h0m6 0h0m7 0h0m-207 1h0m58 4h0m8 0h0m5 1h0m5-3h0m111-1h0m3-1h0m20 2h0m-205 12h0m52-4h0m10 3h0m64-4h0m55 0h0m19 1h0m4 0h0m-201 9h0m45-3h0m4 7h0m7-6h0m65 4h0m92-4h0m-188 13h0m179 1h0m-203 5h0m32 1h0m94-3h0m69 1h0m-150 8h0m88 3h0m7 0h0m13 7h0" stroke="#ccd1de" stroke-width="6.8" stroke-linecap="round" fill="none"/>
<path transform="scale(.25)" d="M2526 2484h0m8 1h0m1-4h0m3 1h0m3 5h0m24-5h0m-40 12h0m166-1h0m10 0h0m-104 7h0m65-4h0m16 1h0m-156 12h0m141 1h0m2-3h0m-59 9h0m55-3h0m1-1h0m-151 10h0m90 10h0m-8 6h0m4-2h0m9 6h0m41 1h0m7-5h0m85 4h0m-233 8h0m95-6h0m54 0h0m94 7h0m-161 1h0m13 1h0m-94 9h0m90-1h0m-66 14h0m202-4h0m16 0h0m-243 8h0m4-3h0m140 2h0m16 1h0m-14 9h0m84 0h0m1 2h0m23-1h0m-230 8h0m2-1h0m63-1h0m61-1h0m0 2h0m2 3h0m2-2h0m8-1h0m90 3h0m-240 8h0m70-1h0m12 0h0m54-6h0m82 0h0m3 5h0m-211 3h0m53 2h0m23 0h0m150 2h0m-226 10h0m74-2h0m115 3h0m1-2h0m0-3h0m15 5h0m-197 1h0m120 3h0m3 2h0m14-2h0m51 3h0m2-6h0m3 4h0m2 0h0m15-2h0m-207 8h0m39 0h0m22 1h0m131-2h0m8 3h0m2 3h0m-210 6h0m44 1h0m16 1h0m1-2h0m78-2h0m81 4h0m-182 2h0m2-1h0m22 0h0m81 6h0m1 0h0m-123 4h0m32-2h0m83 2h0m4 8h0m31 5h0m26-4h0m2-2h0m-28 7h0" stroke="#e4cfc7" stroke-width="6.8" stroke-linecap="round" fill="none"/>
<path transform="scale(.25)" d="M2571 2503h0m101 12h0m-145 6h0m186 17h0m11 2h0m-194 14h0m48 1h0m-35 10h0m140-1h0m36 0h0m-3 19h0m-171 27h0m21 0h0m6 2h0m106-3h0m1 10h0m-125 22h0m134 6h0m23-7h0m-13 23h0m1-4h0" stroke="#4454ad" stroke-width="6.8" stroke-linecap="round" fill="none"/>
<path transform="scale(.25)" d="M2544 2500h0m22-2h0m8 2h0m7 2h0m-40 8h0m38-3h0m4 0h0m8 1h0m2 3h0m-52 4h0m156 1h0m6-2h0m5 0h0m-180 9h0m57-1h0m89 4h0m40-3h0m-129 10h0m5-1h0m-63 9h0m10-1h0m36 2h0m10 0h0m144-4h0m-46 21h0m36-6h0m-184 11h0m44-1h0m105-1h0m-139 11h0m1 2h0m31 0h0m141-3h0m3-4h0m-46 9h0m51 4h0m-177 10h0m21-1h0m4-3h0m138 4h0m7-4h0m-174 9h0m23-1h0m9-1h0m109 4h0m33-2h0m1-2h0m-41 13h0m0 0h0m2-7h0m3 13h0m26 1h0m-164 2h0m1 11h0m161-2h0m5 3h0m-147 11h0m125-3h0m-128 6h0m143 0h0m6 4h0m1-5h0m-27 11h0m3-2h0" stroke="#5569bd" stroke-width="6.8" stroke-linecap="round" fill="none"/>
<path transform="scale(.25)" d="M2583 2454h0m118 19h0m37 16h0m-115 9h0m-128 166h0m27 26h0" stroke="#f19b7d" stroke-width="6.8" stroke-linecap="round" fill="none"/>
<path transform="scale(.25)" d="M2571 2459h0m24 8h0m20 18h0m117-3h0m20 12h0m-109 2h0m113 6h0m-121 3h0m129 13h0m-299 9h0m-1 43h0m320 5h0m18 28h0m-14 25h0m-304 26h0m295 15h0m-287 7h0m21 7h0m245 0h0m-176 14h0m90 8h0m62 1h0" stroke="#ea795f" stroke-width="6.8" stroke-linecap="round" fill="none"/>
<path transform="scale(.25)" d="M2516 2453h0m-5 6h0m65 2h0m76 9h0m-39 13h0m-145 18h0m288 1h0m4 5h0m11 23h0m11 26h0m-8 114h0m-118 25h0m-99 1h0m8 1h0m4 2h0m11 1h0m157 2h0m-65 2h0m67 5h0" stroke="#db5546" stroke-width="6.8" stroke-linecap="round" fill="none"/>
<path transform="scale(.25)" d="M2510 2467h0m221 16h0m-108 10h0m136 11h0m13 26h0m-310 45h0m43 101h0m23 18h0m196 6h0m-49 4h0" stroke="#c33132" stroke-width="6.8" stroke-linecap="round" fill="none"/>
<text x="655.3" y="612.0" class="L" font-size="10.5" text-anchor="middle">pSM of COSMOS</text>
<defs><linearGradient id="cb606" x1="0" y1="0" x2="0" y2="1"><stop offset="0.00" stop-color="#b6202a"/><stop offset="0.10" stop-color="#d64a3e"/><stop offset="0.20" stop-color="#e9765c"/><stop offset="0.30" stop-color="#f29e80"/><stop offset="0.40" stop-color="#eebeaa"/><stop offset="0.50" stop-color="#dcdbdb"/><stop offset="0.60" stop-color="#b6c2e2"/><stop offset="0.70" stop-color="#92a6df"/><stop offset="0.80" stop-color="#6f85d1"/><stop offset="0.90" stop-color="#4c5fb6"/><stop offset="1.00" stop-color="#3e4ca6"/></linearGradient></defs>
<rect x="721.8" y="606.3" width="6.3" height="65.3" fill="url(#cb606)"/>
<rect x="721.8" y="606.3" width="6.3" height="65.3" fill="none" stroke="#999" stroke-width="0.4"/>
<line x1="728.1" y1="671.6" x2="729.9" y2="671.6" stroke="#333" stroke-width="0.6"/>
<line x1="728.1" y1="655.3" x2="729.9" y2="655.3" stroke="#333" stroke-width="0.6"/>
<line x1="728.1" y1="638.9" x2="729.9" y2="638.9" stroke="#333" stroke-width="0.6"/>
<line x1="728.1" y1="622.6" x2="729.9" y2="622.6" stroke="#333" stroke-width="0.6"/>
<line x1="728.1" y1="606.3" x2="729.9" y2="606.3" stroke="#333" stroke-width="0.6"/>
<text x="730.5" y="609.9" class="D" font-size="8.0">1</text>
<text x="730.5" y="675.5" class="D" font-size="8.0">0</text>
<text x="734.7" y="635.1" class="L" font-size="10.0" text-anchor="middle" transform="rotate(90 734.7 635.1)">pSM value</text>
</svg>
</body></html>
